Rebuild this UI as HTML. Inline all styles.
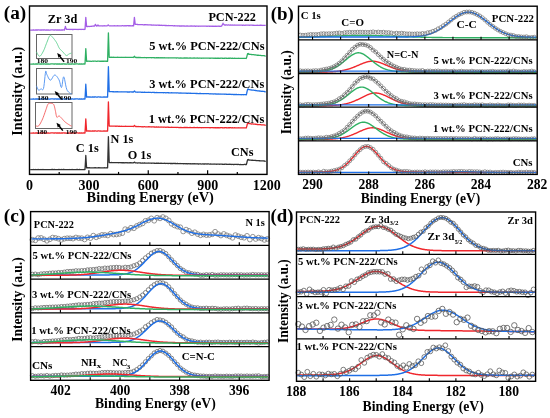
<!DOCTYPE html>
<html><head><meta charset="utf-8"><style>
html,body{margin:0;padding:0;background:#fff;}
svg{display:block;will-change:transform;}
text{font-family:"Liberation Serif", serif;font-weight:bold;}
</style></head><body>
<svg width="550" height="418" viewBox="0 0 550 418">
<rect width="550" height="418" fill="#fff"/>
<polyline points="30.2,30.03 30.7,30.06 31.2,30.07 31.7,30.11 32.2,30.06 32.7,30.1 33.2,29.89 33.7,29.99 34.2,30.11 34.7,30.04 35.2,30.1 35.7,29.91 36.2,29.99 36.7,29.94 37.2,30.01 37.7,30.02 38.2,29.88 38.7,29.93 39.2,29.95 39.7,30.1 40.2,30.06 40.7,29.92 41.2,30.07 41.7,29.91 42.2,30.03 42.7,29.91 43.2,29.88 43.7,30.09 44.2,29.93 44.7,29.93 45.2,30.12 45.7,30.09 46.2,29.95 46.7,30.11 47.2,30.01 47.7,30.04 48.2,29.93 48.7,30.11 49.2,30.05 49.7,30.11 50.2,30.09 50.7,29.95 51.2,29.97 51.7,29.92 52.2,29.91 52.7,29.9 53.2,29.95 53.7,30.02 54.2,29.88 54.7,30.04 55.2,29.96 55.7,29.95 56.2,30.08 56.7,30 57.2,29.96 57.7,30 58.2,30.05 58.7,29.89 59.2,30.11 59.7,29.89 60.2,30.06 60.7,30.08 61.2,29.88 61.7,30.07 62.2,29.97 62.7,30.02 63.2,29.88 63.7,29.89 64.2,29.92 64.4,30.11 64.7,28.91 65.2,27.24 65.4,26.5 65.7,27.38 66.2,28.68 66.4,29.37 66.7,29.41 67.2,29.47 67.7,29.31 68.2,29.46 68.7,29.47 69.2,29.49 69.7,29.29 70.2,29.51 70.7,29.3 71.2,29.36 71.7,29.43 72.2,29.5 72.7,29.36 73.2,29.5 73.7,29.41 74.2,29.35 74.7,29.36 75.2,29.32 75.7,29.3 76.2,29.32 76.7,29.45 77.2,29.52 77.7,29.32 78.2,29.29 78.7,29.52 79.2,29.41 79.7,29.38 80.2,29.34 80.7,29.42 81.2,29.48 81.7,29.39 82.2,29.38 82.7,29.29 83.2,29.5 83.7,29.29 84.2,29.4 84.7,29.48 85,29.31 85.2,26.66 85.7,19.01 85.8,17.3 86.2,22 86.6,26.51 86.7,26.58 87.2,26.47 87.7,26.6 88.2,26.44 88.7,26.44 89.2,26.53 89.7,26.46 90.2,26.46 90.7,26.3 91.2,26.27 91.7,26.29 92.2,26.19 92.7,26.11 93.2,26.11 93.7,26.01 94.2,26.03 94.4,26.16 94.7,25.65 95.2,24.75 95.4,24.39 95.7,24.83 96.2,25.56 96.4,25.92 96.7,26.04 97,26.06 97.2,25.73 97.7,25.33 98,25.02 98.2,25.2 98.7,25.68 99,26 99.2,25.9 99.7,25.98 100.2,25.87 100.7,25.91 101.2,25.97 101.7,25.94 102.2,25.84 102.7,25.99 103.2,25.91 103.7,25.89 104.2,25.74 104.7,25.86 105.2,25.78 105.7,25.88 106.2,25.82 106.7,25.9 107.2,25.85 107.7,25.43 108.2,24.86 108.7,25.38 109.2,25.86 109.7,25.88 110.2,25.76 110.7,25.88 111.2,25.89 111.7,25.85 112.2,25.91 112.7,25.91 113.2,25.8 113.7,25.81 114.2,25.72 114.7,25.88 115.2,25.9 115.7,25.79 116.2,25.85 116.7,25.85 117.2,25.86 117.7,25.72 118.2,25.87 118.7,25.82 119.2,25.84 119.7,25.78 120.2,25.83 120.7,25.87 121.2,25.83 121.7,25.85 122.2,25.69 122.7,25.72 123.2,25.79 123.7,25.84 124.2,25.73 124.7,25.84 125.2,25.83 125.7,25.69 126.2,25.79 126.7,25.73 127.2,25.69 127.7,25.71 128.2,25.76 128.7,25.72 129.2,25.73 129.7,25.69 130.2,25.79 130.7,25.77 131.2,25.83 131.7,25.82 132.2,25.74 132.7,25.9 133.2,25.68 133.6,25.78 133.7,24.77 134.2,19.53 134.4,17.31 134.7,20.1 135.2,24.37 135.7,24.31 136.2,24.46 136.7,24.36 137.2,24.48 137.7,24.45 138.2,24.53 138.7,24.63 139.2,24.62 139.7,24.54 140.2,24.65 140.7,24.63 141.2,24.58 141.7,24.55 142.2,24.67 142.7,24.68 143.2,24.8 143.7,24.82 144.2,24.75 144.7,24.7 145.2,24.85 145.7,24.66 146.2,24.7 146.7,24.83 147.2,24.86 147.7,24.76 148.2,24.9 148.7,24.98 149.2,24.87 149.7,24.9 150.2,24.87 150.7,24.9 151.2,25.08 151.7,24.96 152.2,25.12 152.7,25.12 153.2,25.07 153.7,25 154.2,25.19 154.7,25.1 155.2,25.09 155.7,25.09 156.2,25.27 156.7,25.17 157.2,25.13 157.7,25.2 158.2,25.13 158.7,25.27 159.2,25.24 159.7,25.23 160.2,25.36 160.7,25.39 161.2,25.21 161.7,25.35 162.2,25.31 162.7,25.49 163.2,25.47 163.7,25.36 164.2,25.38 164.7,25.37 165.2,25.59 165.7,25.44 166.2,25.53 166.7,25.52 167.2,25.58 167.7,25.59 168.2,25.64 168.7,25.5 169.2,25.68 169.7,25.58 170.2,25.66 170.7,25.63 171.2,25.64 171.7,25.71 172.2,25.71 172.7,25.71 173.2,25.82 173.7,25.8 174.2,25.68 174.7,25.75 175.2,25.82 175.7,25.95 176.2,25.96 176.7,25.89 177.2,25.78 177.7,25.98 178.2,25.92 178.7,25.97 179.2,26.02 179.7,26.02 180.2,26 180.7,26.1 181.2,25.98 181.7,25.99 182.2,26.1 182.7,25.95 183.2,25.97 183.7,26.11 184.2,25.93 184.7,26.12 185.2,26.08 185.7,26.03 186.2,25.99 186.7,26.12 187.2,26.15 187.7,25.97 188.2,26.05 188.7,26.08 189.2,26.07 189.7,26.03 190.2,25.99 190.7,26.1 191.2,26.16 191.7,25.98 192.2,26.02 192.7,26.17 193.2,26.17 193.7,26.14 194.2,25.99 194.7,26.16 195.2,26.23 195.7,26.23 196.2,26.17 196.7,26.01 197.2,26.21 197.7,26.06 198.2,26.17 198.7,26.25 199.2,26.19 199.7,26.06 200.2,26.1 200.7,26.25 201.2,26.07 201.7,26.19 202.2,26.14 202.7,26.08 203.2,26.2 203.7,26.06 204.2,26.08 204.7,26.15 205.2,26.08 205.7,26.08 206.2,26.21 206.7,26.25 207.2,26.29 207.7,26.11 208.2,26.19 208.7,26.17 209.2,26.24 209.7,26.21 210.2,26.33 210.7,26.19 211.2,26.12 211.7,26.28 212.2,26.15 212.7,26.27 213.2,26.24 213.7,26.35 214.2,26.26 214.7,26.28 215.2,26.2 215.7,26.27 216.2,26.21 216.7,26.33 217.2,26.28 217.7,26.19 218.2,26.22 218.7,26.25 219.2,26.34 219.7,26.21 220.2,26.35 220.7,26.34 221.2,26.11 221.7,26.04 221.8,25.86 222.2,24.96 222.7,23.94 223,23.17 223.2,23.6 223.7,24.21 224.2,24.96 224.7,25.08 225.2,24.9 225.7,25.07 226.2,24.91 226.7,24.94 227.2,25.14 227.7,25.08 228.2,24.97 228.7,24.95 229.2,25.16 229.7,25.09 230.2,25.14 230.7,24.98 231.2,25.1 231.7,25.04 232.2,25.01 232.7,25.04 233.2,25.11 233.7,25.06 234.2,25.07 234.7,25.01 235.2,25.19 235.7,25.15 236.2,25.19 236.7,25.1 237.2,25.21 237.7,25.13 238.2,25.16 238.7,25.16 239.2,25.2 239.7,25.12 240.2,25.06 240.7,25.05 241.2,25.09 241.7,25.06 242.2,25.27 242.7,25.17 243.2,25.25 243.7,25.07 244.2,25.19 244.7,25.29 245.2,25.23 245.7,25.19 246.2,25.2 246.7,25.12 247.2,25.14 247.7,25.14 248.2,25.2 248.7,25.21 249.2,25.33 249.7,25.16 250.2,25.19 250.7,25.2 251.2,25.18 251.7,25.21 252.2,25.21 252.7,25.27 253.2,25.17 253.7,25.38 254.2,25.26 254.7,25.4 255.2,25.34 255.7,25.34 256.2,25.3 256.7,25.42 257.2,25.22 257.7,25.36 258.2,25.28 258.7,25.37 259.2,25.39 259.7,25.26 260.2,25.27 260.7,25.24 261.2,25.29 261.7,25.26 262.2,25.34 262.7,25.48 263.2,25.34 263.7,25.33 264.2,25.38 264.7,25.34 265.2,25.45 265.7,25.45" fill="none" stroke="#a45ee6" stroke-width="1.3" stroke-linejoin="round" />
<polyline points="30.2,64.03 30.7,64.06 31.2,64.07 31.7,64.11 32.2,64.06 32.7,64.1 33.2,63.89 33.7,63.99 34.2,64.11 34.7,64.04 35.2,64.1 35.7,63.91 36.2,63.99 36.7,63.94 37.2,64.01 37.7,64.02 38.2,63.88 38.7,63.93 39.2,63.95 39.7,64.1 40.2,64.06 40.7,63.92 41.2,64.07 41.7,63.91 42.2,64.03 42.7,63.91 43.2,63.88 43.7,64.09 44.2,63.93 44.7,63.93 45.2,64.12 45.7,64.09 46.2,63.95 46.7,64.11 47.2,64.01 47.7,64.04 48.2,63.93 48.7,64.11 49.2,64.05 49.7,64.11 50.2,64.09 50.7,63.95 51.2,63.97 51.7,63.92 52.2,63.91 52.7,63.9 53.2,63.95 53.7,64.02 54.2,63.88 54.7,64.04 55.2,63.96 55.7,63.95 56.2,64.08 56.7,64 57.2,63.96 57.7,64 58.2,64.05 58.7,63.89 59.2,64.11 59.7,63.89 60.2,64.06 60.7,64.08 61.2,63.88 61.7,64.07 62.2,63.97 62.7,64.02 63.2,63.88 63.7,63.89 64.2,63.92 64.7,64.11 65.2,63.93 65.7,64.06 66.2,64.1 66.7,64.11 67.2,63.96 67.7,63.97 68.2,64.01 68.7,64.07 69.2,63.91 69.7,64.06 70.2,64.07 70.7,64.09 71.2,63.89 71.7,64.11 72.2,63.9 72.7,63.96 73.2,64.03 73.7,64.1 74.2,63.96 74.7,64.1 75.2,64.01 75.7,63.95 76.2,63.96 76.7,63.92 77.2,63.9 77.7,63.92 78.2,64.05 78.7,64.12 79.2,63.92 79.7,63.89 80.2,64.12 80.7,64.01 81.2,63.98 81.7,63.94 82.2,64.02 82.7,64.08 83.2,63.99 83.7,63.98 84.2,63.89 84.7,64.1 85,63.89 85.2,60.37 85.7,50.88 85.8,48.65 86.2,55.02 86.6,61.31 86.7,61.23 87.2,61.27 87.7,61.11 88.2,61.18 88.7,61.12 89.2,61.28 89.7,61.15 90.2,61.19 90.7,61.32 91.2,61.28 91.7,61.31 92.2,61.19 92.7,61.2 93.2,61.26 93.7,61.19 94.2,61.15 94.7,61.18 95.2,61.12 95.7,61.17 96.2,61.32 96.7,61.31 97.2,61.23 97.7,61.2 98.2,61.16 98.7,61.1 99.2,61.15 99.7,61.27 100.2,61.29 100.7,61.17 101.2,61.27 101.7,61.27 102.2,61.25 102.7,61.24 103.2,61.26 103.7,61.17 104.2,61.25 104.7,61.15 105.2,61.2 105.7,61.26 106.2,61.25 106.7,61.15 107.2,61.31 107.6,61.24 107.7,57.84 108.2,40.17 108.4,32.88 108.7,41.93 109.2,57.24 109.7,57.2 110.2,57.29 110.7,57.25 111.2,57.29 111.7,57.19 112.2,57.27 112.7,57.3 113.2,57.32 113.7,57.21 114.2,57.34 114.7,57.35 115.2,57.31 115.7,57.39 116.2,57.39 116.7,57.29 117.2,57.3 117.7,57.22 118.2,57.38 118.7,57.41 119.2,57.31 119.7,57.36 120.2,57.38 120.7,57.39 121.2,57.26 121.7,57.41 122.2,57.37 122.7,57.39 123.2,57.34 123.7,57.39 124.2,57.44 124.7,57.41 125.2,57.43 125.7,57.27 126.2,57.31 126.7,57.38 127.2,57.44 127.7,57.34 128.2,57.46 128.7,57.45 129.2,57.32 129.7,57.42 130.2,57.37 130.7,57.34 131.2,57.36 131.7,57.41 132.2,57.38 132.7,57.39 133.2,57.36 133.4,57.47 133.7,57.09 134.2,56.55 134.4,56.31 134.7,56.59 135.2,57.35 135.4,57.38 135.7,57.48 136.2,57.45 136.7,57.49 137.2,57.42 137.7,57.6 138.2,57.5 138.7,57.42 139.2,57.57 139.7,57.45 140.2,57.56 140.7,57.52 141.2,57.58 141.7,57.68 142.2,57.65 142.7,57.56 143.2,57.66 143.7,57.62 144.2,57.56 144.7,57.52 145.2,57.63 145.7,57.63 146.2,57.73 146.7,57.74 147.2,57.66 147.7,57.6 148.2,57.74 148.7,57.53 149.2,57.56 149.7,57.67 150.2,57.69 150.7,57.58 151.2,57.71 151.7,57.77 152.2,57.66 152.7,57.68 153.2,57.63 153.7,57.65 154.2,57.82 154.7,57.69 155.2,57.83 155.7,57.82 156.2,57.75 156.7,57.68 157.2,57.86 157.7,57.75 158.2,57.73 158.7,57.72 159.2,57.88 159.7,57.77 160.2,57.73 160.7,57.78 161.2,57.7 161.7,57.82 162.2,57.79 162.7,57.75 163.2,57.88 163.7,57.89 164.2,57.7 164.7,57.83 165.2,57.78 165.7,57.94 166.2,57.91 166.7,57.79 167.2,57.8 167.7,57.78 168.2,57.98 168.7,57.82 169.2,57.9 169.7,57.88 170.2,57.92 170.7,57.92 171.2,57.96 171.7,57.81 172.2,57.97 172.7,57.87 173.2,57.93 173.7,57.89 174.2,57.89 174.7,57.95 175.2,57.94 175.7,57.92 176.2,58.02 176.7,57.98 177.2,57.86 177.7,57.91 178.2,57.97 178.7,58.09 179.2,58.08 179.7,58.01 180.2,57.88 180.7,58.07 181.2,57.99 181.7,58.03 182.2,58.06 182.7,58.05 183.2,58.01 183.7,58.12 184.2,58 184.7,58 185.2,58.12 185.7,57.96 186.2,57.99 186.7,58.12 187.2,57.94 187.7,58.13 188.2,58.1 188.7,58.04 189.2,58 189.7,58.13 190.2,58.16 190.7,57.98 191.2,58.06 191.7,58.08 192.2,58.07 192.7,58.04 193.2,58 193.7,58.1 194.2,58.16 194.7,57.99 195.2,58.03 195.7,58.17 196.2,58.17 196.7,58.14 197.2,57.99 197.7,58.16 198.2,58.22 198.7,58.23 199.2,58.16 199.7,58.01 200.2,58.2 200.7,58.06 201.2,58.16 201.7,58.24 202.2,58.18 202.7,58.05 203.2,58.09 203.7,58.24 204.2,58.06 204.7,58.18 205.2,58.13 205.7,58.07 206.2,58.19 206.7,58.05 207.2,58.07 207.7,58.14 208.2,58.07 208.7,58.07 209.2,58.19 209.7,58.24 210.2,58.27 210.7,58.1 211.2,58.17 211.7,58.15 212.2,58.22 212.7,58.19 213.2,58.31 213.7,58.17 214.2,58.1 214.7,58.26 215.2,58.13 215.7,58.25 216.2,58.22 216.7,58.32 217.2,58.24 217.7,58.26 218.2,58.17 218.7,58.25 219.2,58.18 219.7,58.3 220.2,58.25 220.7,58.16 221.2,58.18 221.7,58.22 222.2,58.31 222.7,58.18 223.2,58.31 223.7,58.3 224.2,58.17 224.7,58.31 225.2,58.17 225.7,58.19 226.2,58.3 226.7,58.22 227.2,58.38 227.7,58.28 228.2,58.25 228.7,58.36 229.2,58.18 229.7,58.35 230.2,58.2 230.7,58.22 231.2,58.42 231.7,58.36 232.2,58.25 232.7,58.23 233.2,58.43 233.7,58.36 234.2,58.4 234.7,58.24 235.2,58.36 235.7,58.3 236.2,58.28 236.7,58.3 237.2,58.37 237.7,58.31 238.2,58.32 238.7,58.27 239.2,58.44 239.7,58.4 240.2,58.44 240.7,58.35 241.2,58.45 241.7,58.38 242.2,58.4 242.7,58.4 243.2,58.44 243.7,58.36 244.2,58.29 244.7,58.28 245.2,58.32 245.7,58.29 246.2,58.49 246.4,58.15 246.7,57.1 247.2,55.06 247.6,53.68 247.7,53.66 248.2,53.5 248.7,54.13 248.8,54.27 249.2,54.22 249.7,54.29 250.2,54.34 250.7,54.44 251.2,54.49 251.7,54.66 252.2,54.54 252.7,54.61 253.2,54.67 253.7,54.69 254.2,54.77 254.7,54.81 255.2,54.92 255.7,54.86 256.2,55.12 256.7,55.04 257.2,55.23 257.7,55.22 258.2,55.26 258.7,55.26 259.2,55.43 259.7,55.28 260.2,55.46 260.7,55.42 261.2,55.56 261.7,55.63 262.2,55.54 262.7,55.6 263.2,55.61 263.7,55.71 264.2,55.72 264.7,55.85 265.2,56.03 265.7,55.94" fill="none" stroke="#2fb063" stroke-width="1.3" stroke-linejoin="round" />
<polyline points="30.2,99.03 30.7,99.06 31.2,99.07 31.7,99.11 32.2,99.06 32.7,99.1 33.2,98.89 33.7,98.99 34.2,99.11 34.7,99.04 35.2,99.1 35.7,98.91 36.2,98.99 36.7,98.94 37.2,99.01 37.7,99.02 38.2,98.88 38.7,98.93 39.2,98.95 39.7,99.1 40.2,99.06 40.7,98.92 41.2,99.07 41.7,98.91 42.2,99.03 42.7,98.91 43.2,98.88 43.7,99.09 44.2,98.93 44.7,98.93 45.2,99.12 45.7,99.09 46.2,98.95 46.7,99.11 47.2,99.01 47.7,99.04 48.2,98.93 48.7,99.11 49.2,99.05 49.7,99.11 50.2,99.09 50.7,98.95 51.2,98.97 51.7,98.92 52.2,98.91 52.7,98.9 53.2,98.95 53.7,99.02 54.2,98.88 54.7,99.04 55.2,98.96 55.7,98.95 56.2,99.08 56.7,99 57.2,98.96 57.7,99 58.2,99.05 58.7,98.89 59.2,99.11 59.7,98.89 60.2,99.06 60.7,99.08 61.2,98.88 61.7,99.07 62.2,98.97 62.7,99.02 63.2,98.88 63.7,98.89 64.2,98.92 64.7,99.11 65.2,98.93 65.7,99.06 66.2,99.1 66.7,99.11 67.2,98.96 67.7,98.97 68.2,99.01 68.7,99.07 69.2,98.91 69.7,99.06 70.2,99.07 70.7,99.09 71.2,98.89 71.7,99.11 72.2,98.9 72.7,98.96 73.2,99.03 73.7,99.1 74.2,98.96 74.7,99.1 75.2,99.01 75.7,98.95 76.2,98.96 76.7,98.92 77.2,98.9 77.7,98.92 78.2,99.05 78.7,99.12 79.2,98.92 79.7,98.89 80.2,99.12 80.7,99.01 81.2,98.98 81.7,98.94 82.2,99.02 82.7,99.08 83.2,98.99 83.7,98.98 84.2,98.89 84.7,99.1 85,98.89 85.2,95.45 85.7,86.29 85.8,84.17 86.2,90.68 86.6,97.11 86.7,97.03 87.2,97.07 87.7,96.91 88.2,96.98 88.7,96.92 89.2,97.08 89.7,96.95 90.2,96.99 90.7,97.12 91.2,97.08 91.7,97.11 92.2,96.99 92.7,97 93.2,97.06 93.7,96.99 94.2,96.95 94.7,96.98 95.2,96.92 95.7,96.97 96.2,97.12 96.7,97.11 97.2,97.03 97.7,97 98.2,96.96 98.7,96.9 99.2,96.95 99.7,97.07 100.2,97.09 100.7,96.97 101.2,97.07 101.7,97.07 102.2,97.05 102.7,97.04 103.2,97.06 103.7,96.97 104.2,97.05 104.7,96.95 105.2,97 105.7,97.06 106.2,97.05 106.7,96.95 107.2,97.11 107.6,97.04 107.7,93.46 108.2,74.61 108.4,66.71 108.7,75.98 109.2,91.64 109.7,91.6 110.2,91.7 110.7,91.67 111.2,91.71 111.7,91.61 112.2,91.69 112.7,91.73 113.2,91.76 113.7,91.65 114.2,91.78 114.7,91.8 115.2,91.76 115.7,91.84 116.2,91.85 116.7,91.75 117.2,91.77 117.7,91.69 118.2,91.86 118.7,91.89 119.2,91.79 119.7,91.85 120.2,91.87 120.7,91.88 121.2,91.76 121.7,91.91 122.2,91.88 122.7,91.91 123.2,91.86 123.7,91.92 124.2,91.96 124.7,91.94 125.2,91.97 125.7,91.81 126.2,91.85 126.7,91.93 127.2,91.99 127.7,91.9 128.2,92.02 128.7,92.02 129.2,91.89 129.7,92 130.2,91.95 130.7,91.92 131.2,91.95 131.7,92 132.2,91.98 132.7,91.99 133.2,91.96 133.4,92.07 133.7,91.7 134.2,91.16 134.4,90.92 134.7,91.2 135.2,91.97 135.4,92 135.7,92.1 136.2,92.08 136.7,92.12 137.2,92.06 137.7,92.24 138.2,92.14 138.7,92.07 139.2,92.22 139.7,92.11 140.2,92.22 140.7,92.18 141.2,92.25 141.7,92.35 142.2,92.33 142.7,92.24 143.2,92.35 143.7,92.32 144.2,92.26 144.7,92.22 145.2,92.33 145.7,92.34 146.2,92.44 146.7,92.45 147.2,92.38 147.7,92.33 148.2,92.47 148.7,92.26 149.2,92.3 149.7,92.42 150.2,92.44 150.7,92.33 151.2,92.46 151.7,92.53 152.2,92.42 152.7,92.44 153.2,92.4 153.7,92.43 154.2,92.6 154.7,92.47 155.2,92.62 155.7,92.62 156.2,92.55 156.7,92.48 157.2,92.66 157.7,92.56 158.2,92.55 158.7,92.54 159.2,92.7 159.7,92.6 160.2,92.56 160.7,92.61 161.2,92.54 161.7,92.67 162.2,92.63 162.7,92.61 163.2,92.74 163.7,92.76 164.2,92.57 164.7,92.71 165.2,92.65 165.7,92.82 166.2,92.79 166.7,92.68 167.2,92.69 167.7,92.67 168.2,92.88 168.7,92.73 169.2,92.81 169.7,92.79 170.2,92.84 170.7,92.84 171.2,92.88 171.7,92.74 172.2,92.91 172.7,92.81 173.2,92.87 173.7,92.84 174.2,92.84 174.7,92.9 175.2,92.9 175.7,92.88 176.2,92.98 176.7,92.96 177.2,92.83 177.7,92.9 178.2,92.95 178.7,93.07 179.2,93.08 179.7,93.01 180.2,92.89 180.7,93.09 181.2,93.02 181.7,93.06 182.2,93.11 182.7,93.11 183.2,93.08 183.7,93.2 184.2,93.09 184.7,93.1 185.2,93.23 185.7,93.08 186.2,93.12 186.7,93.26 187.2,93.09 187.7,93.29 188.2,93.27 188.7,93.22 189.2,93.2 189.7,93.33 190.2,93.38 190.7,93.2 191.2,93.3 191.7,93.33 192.2,93.33 192.7,93.3 193.2,93.28 193.7,93.39 194.2,93.46 194.7,93.3 195.2,93.35 195.7,93.5 196.2,93.51 196.7,93.49 197.2,93.35 197.7,93.53 198.2,93.61 198.7,93.63 199.2,93.57 199.7,93.43 200.2,93.63 200.7,93.49 201.2,93.61 201.7,93.7 202.2,93.65 202.7,93.53 203.2,93.58 203.7,93.74 204.2,93.57 204.7,93.7 205.2,93.66 205.7,93.62 206.2,93.74 206.7,93.62 207.2,93.64 207.7,93.72 208.2,93.66 208.7,93.67 209.2,93.81 209.7,93.86 210.2,93.91 210.7,93.75 211.2,93.83 211.7,93.82 212.2,93.9 212.7,93.89 213.2,94.01 213.7,93.88 214.2,93.82 214.7,93.99 215.2,93.87 215.7,94 216.2,93.98 216.7,94.09 217.2,94.02 217.7,94.05 218.2,93.98 218.7,94.06 219.2,94.01 219.7,94.14 220.2,94.1 220.7,94.02 221.2,94.05 221.7,94.1 222.2,94.2 222.7,94.08 223.2,94.22 223.7,94.22 224.2,94.1 224.7,94.25 225.2,94.13 225.7,94.15 226.2,94.28 226.7,94.21 227.2,94.37 227.7,94.29 228.2,94.27 228.7,94.39 229.2,94.22 229.7,94.4 230.2,94.26 230.7,94.29 231.2,94.5 231.7,94.45 232.2,94.35 232.7,94.34 233.2,94.56 233.7,94.5 234.2,94.55 234.7,94.4 235.2,94.53 235.7,94.48 236.2,94.46 236.7,94.5 237.2,94.58 237.7,94.53 238.2,94.55 238.7,94.51 239.2,94.69 239.7,94.66 240.2,94.71 240.7,94.63 241.2,94.75 241.7,94.68 242.2,94.71 242.7,94.72 243.2,94.77 243.7,94.7 244.2,94.65 244.7,94.64 245.2,94.7 245.7,94.67 246.2,94.89 246.4,94.49 246.7,93.26 247.2,90.93 247.6,89.32 247.7,89.24 248.2,88.9 248.7,89.54 248.8,89.69 249.2,89.65 249.7,89.72 250.2,89.79 250.7,89.9 251.2,89.96 251.7,90.14 252.2,90.03 252.7,90.12 253.2,90.18 253.7,90.22 254.2,90.31 254.7,90.36 255.2,90.48 255.7,90.43 256.2,90.7 256.7,90.63 257.2,90.83 257.7,90.83 258.2,90.89 258.7,90.9 259.2,91.08 259.7,90.94 260.2,91.13 260.7,91.1 261.2,91.26 261.7,91.33 262.2,91.25 262.7,91.32 263.2,91.34 263.7,91.45 264.2,91.48 264.7,91.62 265.2,91.82 265.7,91.73" fill="none" stroke="#1f6fe6" stroke-width="1.3" stroke-linejoin="round" />
<polyline points="30.2,133.03 30.7,133.06 31.2,133.07 31.7,133.11 32.2,133.06 32.7,133.1 33.2,132.89 33.7,132.99 34.2,133.11 34.7,133.04 35.2,133.1 35.7,132.91 36.2,132.99 36.7,132.94 37.2,133.01 37.7,133.02 38.2,132.88 38.7,132.93 39.2,132.95 39.7,133.1 40.2,133.06 40.7,132.92 41.2,133.07 41.7,132.91 42.2,133.03 42.7,132.91 43.2,132.88 43.7,133.09 44.2,132.93 44.7,132.93 45.2,133.12 45.7,133.09 46.2,132.95 46.7,133.11 47.2,133.01 47.7,133.04 48.2,132.93 48.7,133.11 49.2,133.05 49.7,133.11 50.2,133.09 50.7,132.95 51.2,132.97 51.7,132.92 52.2,132.91 52.7,132.9 53.2,132.95 53.7,133.02 54.2,132.88 54.7,133.04 55.2,132.96 55.7,132.95 56.2,133.08 56.7,133 57.2,132.96 57.7,133 58.2,133.05 58.7,132.89 59.2,133.11 59.7,132.89 60.2,133.06 60.7,133.08 61.2,132.88 61.7,133.07 62.2,132.97 62.7,133.02 63.2,132.88 63.7,132.89 64.2,132.92 64.7,133.11 65.2,132.93 65.7,133.06 66.2,133.1 66.7,133.11 67.2,132.96 67.7,132.97 68.2,133.01 68.7,133.07 69.2,132.91 69.7,133.06 70.2,133.07 70.7,133.09 71.2,132.89 71.7,133.11 72.2,132.9 72.7,132.96 73.2,133.03 73.7,133.1 74.2,132.96 74.7,133.1 75.2,133.01 75.7,132.95 76.2,132.96 76.7,132.92 77.2,132.9 77.7,132.92 78.2,133.05 78.7,133.12 79.2,132.92 79.7,132.89 80.2,133.12 80.7,133.01 81.2,132.98 81.7,132.94 82.2,133.02 82.7,133.08 83.2,132.99 83.7,132.98 84.2,132.89 84.7,133.1 85,132.89 85.2,129.62 85.7,120.91 85.8,118.87 86.2,125.03 86.6,131.11 86.7,131.03 87.2,131.07 87.7,130.91 88.2,130.98 88.7,130.92 89.2,131.08 89.7,130.95 90.2,130.99 90.7,131.12 91.2,131.08 91.7,131.11 92.2,130.99 92.7,131 93.2,131.06 93.7,130.99 94.2,130.95 94.7,130.98 95.2,130.92 95.7,130.97 96.2,131.12 96.7,131.11 97.2,131.03 97.7,131 98.2,130.96 98.7,130.9 99.2,130.95 99.7,131.07 100.2,131.09 100.7,130.97 101.2,131.07 101.7,131.07 102.2,131.05 102.7,131.04 103.2,131.06 103.7,130.97 104.2,131.05 104.7,130.95 105.2,131 105.7,131.06 106.2,131.05 106.7,130.95 107.2,131.11 107.6,131.04 107.7,127.58 108.2,109.42 108.4,101.84 108.7,110.84 109.2,126.04 109.7,126 110.2,126.1 110.7,126.07 111.2,126.11 111.7,126.02 112.2,126.1 112.7,126.13 113.2,126.16 113.7,126.06 114.2,126.19 114.7,126.21 115.2,126.17 115.7,126.25 116.2,126.26 116.7,126.16 117.2,126.18 117.7,126.1 118.2,126.27 118.7,126.31 119.2,126.21 119.7,126.27 120.2,126.29 120.7,126.3 121.2,126.18 121.7,126.33 122.2,126.29 122.7,126.33 123.2,126.28 123.7,126.34 124.2,126.38 124.7,126.36 125.2,126.39 125.7,126.24 126.2,126.28 126.7,126.36 127.2,126.42 127.7,126.32 128.2,126.45 128.7,126.44 129.2,126.31 129.7,126.43 130.2,126.38 130.7,126.35 131.2,126.38 131.7,126.43 132.2,126.41 132.7,126.42 133.2,126.4 133.4,126.5 133.7,126.13 134.2,125.6 134.4,125.36 134.7,125.64 135.2,126.41 135.4,126.44 135.7,126.54 136.2,126.52 136.7,126.56 137.2,126.5 137.7,126.68 138.2,126.58 138.7,126.51 139.2,126.66 139.7,126.55 140.2,126.67 140.7,126.63 141.2,126.7 141.7,126.8 142.2,126.78 142.7,126.69 143.2,126.8 143.7,126.77 144.2,126.71 144.7,126.67 145.2,126.79 145.7,126.79 146.2,126.89 146.7,126.91 147.2,126.83 147.7,126.78 148.2,126.92 148.7,126.72 149.2,126.75 149.7,126.87 150.2,126.9 150.7,126.79 151.2,126.92 151.7,126.99 152.2,126.88 152.7,126.91 153.2,126.87 153.7,126.89 154.2,127.07 154.7,126.94 155.2,127.09 155.7,127.08 156.2,127.02 156.7,126.95 157.2,127.13 157.7,127.03 158.2,127.02 158.7,127.01 159.2,127.18 159.7,127.07 160.2,127.03 160.7,127.09 161.2,127.01 161.7,127.14 162.2,127.11 162.7,127.08 163.2,127.21 163.7,127.23 164.2,127.05 164.7,127.18 165.2,127.13 165.7,127.3 166.2,127.28 166.7,127.16 167.2,127.17 167.7,127.16 168.2,127.37 168.7,127.21 169.2,127.3 169.7,127.28 170.2,127.33 170.7,127.33 171.2,127.37 171.7,127.23 172.2,127.4 172.7,127.3 173.2,127.36 173.7,127.33 174.2,127.33 174.7,127.39 175.2,127.39 175.7,127.38 176.2,127.48 176.7,127.45 177.2,127.33 177.7,127.39 178.2,127.45 178.7,127.57 179.2,127.58 179.7,127.5 180.2,127.38 180.7,127.57 181.2,127.49 181.7,127.53 182.2,127.56 182.7,127.55 183.2,127.51 183.7,127.62 184.2,127.5 184.7,127.5 185.2,127.62 185.7,127.46 186.2,127.49 186.7,127.62 187.2,127.44 187.7,127.63 188.2,127.6 188.7,127.54 189.2,127.5 189.7,127.63 190.2,127.66 190.7,127.48 191.2,127.56 191.7,127.58 192.2,127.57 192.7,127.54 193.2,127.5 193.7,127.6 194.2,127.66 194.7,127.49 195.2,127.53 195.7,127.67 196.2,127.67 196.7,127.64 197.2,127.49 197.7,127.66 198.2,127.72 198.7,127.73 199.2,127.66 199.7,127.51 200.2,127.7 200.7,127.56 201.2,127.66 201.7,127.74 202.2,127.68 202.7,127.55 203.2,127.59 203.7,127.74 204.2,127.56 204.7,127.68 205.2,127.63 205.7,127.57 206.2,127.69 206.7,127.55 207.2,127.57 207.7,127.64 208.2,127.57 208.7,127.57 209.2,127.69 209.7,127.74 210.2,127.77 210.7,127.6 211.2,127.67 211.7,127.65 212.2,127.72 212.7,127.69 213.2,127.81 213.7,127.67 214.2,127.6 214.7,127.76 215.2,127.63 215.7,127.75 216.2,127.72 216.7,127.82 217.2,127.74 217.7,127.76 218.2,127.67 218.7,127.75 219.2,127.68 219.7,127.8 220.2,127.75 220.7,127.66 221.2,127.68 221.7,127.72 222.2,127.81 222.7,127.68 223.2,127.81 223.7,127.8 224.2,127.67 224.7,127.81 225.2,127.67 225.7,127.69 226.2,127.8 226.7,127.72 227.2,127.88 227.7,127.78 228.2,127.75 228.7,127.86 229.2,127.68 229.7,127.85 230.2,127.7 230.7,127.72 231.2,127.92 231.7,127.86 232.2,127.75 232.7,127.73 233.2,127.93 233.7,127.86 234.2,127.9 234.7,127.74 235.2,127.86 235.7,127.8 236.2,127.78 236.7,127.8 237.2,127.87 237.7,127.81 238.2,127.82 238.7,127.77 239.2,127.94 239.7,127.9 240.2,127.94 240.7,127.85 241.2,127.95 241.7,127.88 242.2,127.9 242.7,127.9 243.2,127.94 243.7,127.86 244.2,127.79 244.7,127.78 245.2,127.82 245.7,127.79 246.2,127.99 246.4,127.64 246.7,126.58 247.2,124.5 247.6,123.1 247.7,123.08 248.2,122.9 248.7,123.52 248.8,123.66 249.2,123.61 249.7,123.67 250.2,123.71 250.7,123.81 251.2,123.86 251.7,124.02 252.2,123.89 252.7,123.96 253.2,124.01 253.7,124.03 254.2,124.1 254.7,124.13 255.2,124.24 255.7,124.17 256.2,124.43 256.7,124.34 257.2,124.52 257.7,124.51 258.2,124.55 258.7,124.54 259.2,124.7 259.7,124.55 260.2,124.72 260.7,124.68 261.2,124.82 261.7,124.87 262.2,124.78 262.7,124.83 263.2,124.84 263.7,124.93 264.2,124.94 264.7,125.06 265.2,125.24 265.7,125.14" fill="none" stroke="#f0272d" stroke-width="1.3" stroke-linejoin="round" />
<polyline points="30.2,169.63 30.7,169.66 31.2,169.67 31.7,169.71 32.2,169.66 32.7,169.7 33.2,169.49 33.7,169.59 34.2,169.71 34.7,169.64 35.2,169.7 35.7,169.51 36.2,169.59 36.7,169.54 37.2,169.61 37.7,169.62 38.2,169.48 38.7,169.53 39.2,169.55 39.7,169.7 40.2,169.66 40.7,169.52 41.2,169.67 41.7,169.51 42.2,169.63 42.7,169.51 43.2,169.48 43.7,169.69 44.2,169.53 44.7,169.53 45.2,169.72 45.7,169.69 46.2,169.55 46.7,169.71 47.2,169.61 47.7,169.64 48.2,169.53 48.7,169.71 49.2,169.65 49.7,169.71 50.2,169.69 50.7,169.55 51.2,169.57 51.7,169.52 52.2,169.51 52.7,169.5 53.2,169.55 53.7,169.62 54.2,169.48 54.7,169.64 55.2,169.56 55.7,169.55 56.2,169.68 56.7,169.6 57.2,169.56 57.7,169.6 58.2,169.65 58.7,169.49 59.2,169.71 59.7,169.49 60.2,169.66 60.7,169.68 61.2,169.48 61.7,169.67 62.2,169.57 62.7,169.62 63.2,169.48 63.7,169.49 64.2,169.52 64.7,169.71 65.2,169.53 65.7,169.66 66.2,169.7 66.7,169.71 67.2,169.56 67.7,169.57 68.2,169.61 68.7,169.67 69.2,169.51 69.7,169.66 70.2,169.67 70.7,169.69 71.2,169.49 71.7,169.71 72.2,169.5 72.7,169.56 73.2,169.63 73.7,169.7 74.2,169.56 74.7,169.7 75.2,169.61 75.7,169.55 76.2,169.56 76.7,169.52 77.2,169.5 77.7,169.52 78.2,169.65 78.7,169.72 79.2,169.52 79.7,169.49 80.2,169.72 80.7,169.61 81.2,169.58 81.7,169.54 82.2,169.62 82.7,169.68 83.2,169.59 83.7,169.58 84.2,169.49 84.7,169.7 85,169.49 85.2,166.22 85.7,157.54 85.8,155.52 86.2,161.76 86.6,167.91 86.7,167.83 87.2,167.87 87.7,167.71 88.2,167.78 88.7,167.72 89.2,167.88 89.7,167.75 90.2,167.79 90.7,167.92 91.2,167.88 91.7,167.91 92.2,167.79 92.7,167.8 93.2,167.86 93.7,167.79 94.2,167.75 94.7,167.78 95.2,167.72 95.7,167.77 96.2,167.92 96.7,167.91 97.2,167.83 97.7,167.8 98.2,167.76 98.7,167.7 99.2,167.75 99.7,167.87 100.2,167.89 100.7,167.77 101.2,167.87 101.7,167.87 102.2,167.85 102.7,167.84 103.2,167.86 103.7,167.77 104.2,167.85 104.7,167.75 105.2,167.8 105.7,167.86 106.2,167.85 106.7,167.75 107.2,167.91 107.6,167.84 107.7,164.13 108.2,144.67 108.4,136.54 108.7,146.21 109.2,162.54 109.7,162.5 110.2,162.59 110.7,162.56 111.2,162.6 111.7,162.5 112.2,162.58 112.7,162.61 113.2,162.64 113.7,162.53 114.2,162.66 114.7,162.67 115.2,162.64 115.7,162.72 116.2,162.72 116.7,162.62 117.2,162.63 117.7,162.55 118.2,162.72 118.7,162.75 119.2,162.65 119.7,162.71 120.2,162.72 120.7,162.73 121.2,162.61 121.7,162.76 122.2,162.72 122.7,162.75 123.2,162.7 123.7,162.75 124.2,162.8 124.7,162.77 125.2,162.8 125.7,162.64 126.2,162.68 126.7,162.76 127.2,162.82 127.7,162.72 128.2,162.84 128.7,162.83 129.2,162.7 129.7,162.81 130.2,162.76 130.7,162.73 131.2,162.75 131.7,162.81 132.2,162.78 132.7,162.79 133.2,162.76 133.4,162.87 133.7,162.61 134.2,162.28 134.4,162.11 134.7,162.27 135.2,162.84 135.4,162.79 135.7,162.89 136.2,162.87 136.7,162.91 137.2,162.84 137.7,163.02 138.2,162.92 138.7,162.85 139.2,162.99 139.7,162.88 140.2,162.99 140.7,162.95 141.2,163.02 141.7,163.11 142.2,163.09 142.7,163 143.2,163.1 143.7,163.07 144.2,163.01 144.7,162.97 145.2,163.08 145.7,163.08 146.2,163.18 146.7,163.19 147.2,163.12 147.7,163.06 148.2,163.2 148.7,162.99 149.2,163.03 149.7,163.15 150.2,163.16 150.7,163.06 151.2,163.18 151.7,163.25 152.2,163.14 152.7,163.16 153.2,163.12 153.7,163.14 154.2,163.31 154.7,163.18 155.2,163.33 155.7,163.32 156.2,163.25 156.7,163.18 157.2,163.36 157.7,163.25 158.2,163.24 158.7,163.23 159.2,163.39 159.7,163.28 160.2,163.24 160.7,163.29 161.2,163.22 161.7,163.34 162.2,163.31 162.7,163.28 163.2,163.41 163.7,163.43 164.2,163.24 164.7,163.37 165.2,163.32 165.7,163.48 166.2,163.45 166.7,163.33 167.2,163.35 167.7,163.33 168.2,163.53 168.7,163.37 169.2,163.46 169.7,163.43 170.2,163.48 170.7,163.48 171.2,163.52 171.7,163.38 172.2,163.54 172.7,163.44 173.2,163.5 173.7,163.46 174.2,163.46 174.7,163.52 175.2,163.52 175.7,163.5 176.2,163.6 176.7,163.57 177.2,163.45 177.7,163.5 178.2,163.56 178.7,163.68 179.2,163.68 179.7,163.61 180.2,163.49 180.7,163.68 181.2,163.6 181.7,163.64 182.2,163.68 182.7,163.67 183.2,163.64 183.7,163.75 184.2,163.64 184.7,163.64 185.2,163.76 185.7,163.61 186.2,163.64 186.7,163.78 187.2,163.6 187.7,163.8 188.2,163.77 188.7,163.72 189.2,163.69 189.7,163.81 190.2,163.85 190.7,163.68 191.2,163.76 191.7,163.79 192.2,163.78 192.7,163.75 193.2,163.72 193.7,163.83 194.2,163.89 194.7,163.72 195.2,163.76 195.7,163.91 196.2,163.91 196.7,163.89 197.2,163.75 197.7,163.92 198.2,163.99 198.7,164 199.2,163.94 199.7,163.79 200.2,163.99 200.7,163.84 201.2,163.95 201.7,164.04 202.2,163.99 202.7,163.85 203.2,163.9 203.7,164.06 204.2,163.88 204.7,164 205.2,163.96 205.7,163.91 206.2,164.02 206.7,163.89 207.2,163.92 207.7,163.99 208.2,163.92 208.7,163.93 209.2,164.06 209.7,164.11 210.2,164.15 210.7,163.98 211.2,164.05 211.7,164.03 212.2,164.11 212.7,164.09 213.2,164.21 213.7,164.08 214.2,164.01 214.7,164.17 215.2,164.05 215.7,164.17 216.2,164.15 216.7,164.25 217.2,164.17 217.7,164.2 218.2,164.12 218.7,164.2 219.2,164.13 219.7,164.26 220.2,164.21 220.7,164.13 221.2,164.16 221.7,164.2 222.2,164.29 222.7,164.17 223.2,164.3 223.7,164.3 224.2,164.17 224.7,164.31 225.2,164.18 225.7,164.2 226.2,164.32 226.7,164.24 227.2,164.4 227.7,164.31 228.2,164.28 228.7,164.41 229.2,164.23 229.7,164.4 230.2,164.25 230.7,164.28 231.2,164.48 231.7,164.42 232.2,164.32 232.7,164.3 233.2,164.52 233.7,164.45 234.2,164.49 234.7,164.34 235.2,164.46 235.7,164.41 236.2,164.38 236.7,164.42 237.2,164.49 237.7,164.43 238.2,164.45 238.7,164.4 239.2,164.57 239.7,164.54 240.2,164.58 240.7,164.5 241.2,164.61 241.7,164.53 242.2,164.56 242.7,164.56 243.2,164.61 243.7,164.54 244.2,164.47 244.7,164.46 245.2,164.51 245.7,164.48 246.2,164.69 246.4,164.32 246.7,163.28 247.2,161.24 247.6,159.88 247.7,159.81 248.2,159.44 248.7,159.93 248.8,160.05 249.2,159.98 249.7,160.03 250.2,160.06 250.7,160.15 251.2,160.19 251.7,160.34 252.2,160.2 252.7,160.25 253.2,160.29 253.7,160.3 254.2,160.36 254.7,160.38 255.2,160.48 255.7,160.4 256.2,160.65 256.7,160.55 257.2,160.72 257.7,160.69 258.2,160.72 258.7,160.71 259.2,160.85 259.7,160.69 260.2,160.85 260.7,160.8 261.2,160.92 261.7,160.97 262.2,160.87 262.7,160.91 263.2,160.9 263.7,160.98 264.2,160.98 264.7,161.09 265.2,161.26 265.7,161.15" fill="none" stroke="#333333" stroke-width="1.3" stroke-linejoin="round" />
<rect x="36.5" y="34.5" width="35.5" height="24" stroke="#666" stroke-width="1.0" fill="#fff"/>
<rect x="36.5" y="68.5" width="35.5" height="25.5" stroke="#666" stroke-width="1.0" fill="#fff"/>
<rect x="35.5" y="102.5" width="36.5" height="26" stroke="#666" stroke-width="1.0" fill="#fff"/>
<polyline points="36.4,51.8 36.74,52.4 37.2,53.33 37.76,54.39 38.36,55.37 38.99,56.07 39.6,56.3 40.22,56.01 40.87,55.35 41.54,54.42 42.21,53.3 42.87,52.1 43.5,50.9 44.1,49.63 44.69,48.2 45.26,46.68 45.81,45.14 46.36,43.66 46.9,42.3 47.43,40.98 47.94,39.62 48.45,38.31 48.94,37.15 49.43,36.21 49.9,35.6 50.34,35.35 50.75,35.39 51.14,35.66 51.55,36.1 52,36.63 52.5,37.2 53.09,37.84 53.74,38.6 54.42,39.47 55.12,40.4 55.79,41.35 56.4,42.3 56.95,43.29 57.47,44.37 57.96,45.48 58.43,46.56 58.91,47.55 59.4,48.4 59.89,49.07 60.37,49.59 60.84,50.02 61.33,50.43 61.85,50.87 62.4,51.4 63.01,52.08 63.68,52.89 64.38,53.73 65.06,54.51 65.71,55.13 66.3,55.5 66.81,55.57 67.26,55.39 67.68,55.06 68.08,54.66 68.48,54.28 68.9,54 69.36,53.8 69.86,53.62 70.36,53.46 70.83,53.31 71.22,53.19 71.5,53.1" fill="none" stroke="#5ccf8e" stroke-width="0.9" stroke-linejoin="round" />
<polyline points="36.4,85.8 36.65,86.36 37,87.19 37.41,88.14 37.86,89.08 38.3,89.85 38.7,90.3 39.07,90.38 39.43,90.2 39.78,89.85 40.14,89.43 40.51,89.05 40.9,88.8 41.32,88.87 41.76,89.22 42.21,89.6 42.66,89.77 43.09,89.49 43.5,88.5 43.89,86.44 44.27,83.43 44.63,79.96 44.98,76.53 45.3,73.64 45.6,71.8 45.84,71.11 46.01,71.19 46.16,71.81 46.33,72.74 46.57,73.75 46.9,74.6 47.35,75.5 47.87,76.66 48.46,77.9 49.09,79.03 49.74,79.86 50.4,80.2 51.07,79.84 51.77,78.9 52.5,77.65 53.24,76.39 53.97,75.41 54.7,75 55.44,75.19 56.2,75.75 56.96,76.59 57.7,77.61 58.39,78.72 59,79.8 59.52,81.13 59.98,82.83 60.38,84.62 60.76,86.19 61.12,87.25 61.5,87.5 61.87,86.51 62.23,84.44 62.57,81.86 62.92,79.34 63.29,77.46 63.7,76.8 64.15,77.63 64.63,79.53 65.12,82.07 65.64,84.83 66.17,87.35 66.7,89.2 67.26,90.41 67.87,91.31 68.49,91.99 69.09,92.51 69.63,92.92 70.1,93.3 70.49,93.6 70.83,93.75 71.11,93.81 71.35,93.8 71.55,93.79 71.7,93.8" fill="none" stroke="#4a8ff0" stroke-width="0.9" stroke-linejoin="round" />
<polyline points="35.7,125.8 36.02,125.88 36.44,126.06 36.96,126.23 37.52,126.31 38.11,126.2 38.7,125.8 39.3,125.08 39.95,124.1 40.63,122.94 41.3,121.64 41.97,120.27 42.6,118.9 43.21,117.43 43.81,115.81 44.41,114.12 44.97,112.44 45.51,110.88 46,109.5 46.42,108.29 46.78,107.16 47.1,106.14 47.42,105.25 47.78,104.49 48.2,103.9 48.71,103.5 49.29,103.29 49.9,103.22 50.51,103.24 51.09,103.32 51.6,103.4 52.04,103.46 52.45,103.54 52.82,103.67 53.16,103.88 53.49,104.21 53.8,104.7 54.09,105.37 54.35,106.2 54.59,107.15 54.83,108.18 55.06,109.24 55.3,110.3 55.54,111.47 55.77,112.81 56.01,114.18 56.25,115.46 56.51,116.51 56.8,117.2 57.12,117.42 57.47,117.24 57.84,116.84 58.22,116.38 58.61,116.01 59,115.9 59.39,116.05 59.77,116.31 60.17,116.68 60.58,117.12 61.02,117.6 61.5,118.1 62.01,118.64 62.53,119.26 63.09,119.92 63.68,120.6 64.31,121.27 65,121.9 65.8,122.53 66.71,123.2 67.67,123.85 68.61,124.46 69.44,124.99 70.1,125.4 70.58,125.67 70.92,125.84 71.17,125.92 71.34,125.95 71.48,125.97 71.6,126" fill="none" stroke="#f45a5a" stroke-width="0.9" stroke-linejoin="round" />
<text x="36.8" y="62.9" font-size="6.6" textLength="11.3" lengthAdjust="spacingAndGlyphs" fill="#000">180</text>
<text x="66.1" y="62.9" font-size="6.6" textLength="11.2" lengthAdjust="spacingAndGlyphs" fill="#000">190</text>
<text x="37.3" y="99.7" font-size="6.6" textLength="11.2" lengthAdjust="spacingAndGlyphs" fill="#000">180</text>
<text x="60.1" y="99.7" font-size="6.6" textLength="11.2" lengthAdjust="spacingAndGlyphs" fill="#000">190</text>
<text x="36.43" y="134" font-size="6.6" textLength="10.76" lengthAdjust="spacingAndGlyphs" fill="#000">180</text>
<text x="65.7" y="134" font-size="6.6" textLength="11.2" lengthAdjust="spacingAndGlyphs" fill="#000">190</text>
<line x1="59.64" y1="56.14" x2="64.1" y2="61.7" stroke="#000" stroke-width="1.5"/>
<path d="M57.2,53.1 L58.47,57.72 L61.44,55.34 z" fill="#000"/>
<line x1="57.21" y1="93.99" x2="61.5" y2="99.1" stroke="#000" stroke-width="1.5"/>
<path d="M54.7,91 L56.07,95.59 L58.98,93.15 z" fill="#000"/>
<line x1="58.95" y1="125.83" x2="62.8" y2="130.6" stroke="#000" stroke-width="1.5"/>
<path d="M56.5,122.8 L57.79,127.42 L60.74,125.03 z" fill="#000"/>
<rect x="29.5" y="6" width="237.5" height="168.4" stroke="#000" stroke-width="1.4" fill="none"/>
<line x1="59.19" y1="174.4" x2="59.19" y2="171.9" stroke="#000" stroke-width="1.2"/>
<line x1="88.88" y1="174.4" x2="88.88" y2="170.2" stroke="#000" stroke-width="1.2"/>
<line x1="118.56" y1="174.4" x2="118.56" y2="171.9" stroke="#000" stroke-width="1.2"/>
<line x1="148.25" y1="174.4" x2="148.25" y2="170.2" stroke="#000" stroke-width="1.2"/>
<line x1="177.94" y1="174.4" x2="177.94" y2="171.9" stroke="#000" stroke-width="1.2"/>
<line x1="207.62" y1="174.4" x2="207.62" y2="170.2" stroke="#000" stroke-width="1.2"/>
<line x1="237.31" y1="174.4" x2="237.31" y2="171.9" stroke="#000" stroke-width="1.2"/>
<text x="26" y="189.6" font-size="14" textLength="7" lengthAdjust="spacingAndGlyphs" fill="#000">0</text>
<text x="78.38" y="189.6" font-size="14" textLength="21" lengthAdjust="spacingAndGlyphs" fill="#000">300</text>
<text x="137.78" y="189.6" font-size="14" textLength="21" lengthAdjust="spacingAndGlyphs" fill="#000">600</text>
<text x="197.23" y="189.6" font-size="14" textLength="21" lengthAdjust="spacingAndGlyphs" fill="#000">900</text>
<text x="252.72" y="189.6" font-size="14" textLength="28" lengthAdjust="spacingAndGlyphs" fill="#000">1200</text>
<text x="86.58" y="202.2" font-size="14.5" textLength="127.25" lengthAdjust="spacingAndGlyphs" fill="#000">Binding Energy (eV)</text>
<text transform="translate(21.7,135.2) rotate(-90)" x="-0.5" y="0" font-size="14.2" textLength="88.88" lengthAdjust="spacingAndGlyphs" fill="#000">Intensity (a.u.)</text>
<text x="3.83" y="19.4" font-size="18.5" textLength="22.46" lengthAdjust="spacingAndGlyphs" fill="#000">(a)</text>
<text x="47.79" y="23" font-size="11.5" textLength="29.42" lengthAdjust="spacingAndGlyphs" fill="#000">Zr 3d</text>
<text x="208.42" y="20.5" font-size="13" textLength="47.51" lengthAdjust="spacingAndGlyphs" fill="#000">PCN-222</text>
<text x="149.2" y="50" font-size="13" textLength="115.3" lengthAdjust="spacingAndGlyphs" fill="#000">5 wt.% PCN-222/CNs</text>
<text x="149.21" y="88" font-size="13" textLength="115.1" lengthAdjust="spacingAndGlyphs" fill="#000">3 wt.% PCN-222/CNs</text>
<text x="148.71" y="123.2" font-size="13" textLength="115.6" lengthAdjust="spacingAndGlyphs" fill="#000">1 wt.% PCN-222/CNs</text>
<text x="75.78" y="152" font-size="12" textLength="22.94" lengthAdjust="spacingAndGlyphs" fill="#000">C 1s</text>
<text x="110.56" y="143" font-size="12" textLength="22.77" lengthAdjust="spacingAndGlyphs" fill="#000">N 1s</text>
<text x="127.79" y="159.4" font-size="12" textLength="23.48" lengthAdjust="spacingAndGlyphs" fill="#000">O 1s</text>
<text x="230.99" y="155.5" font-size="12" textLength="22.5" lengthAdjust="spacingAndGlyphs" fill="#000">CNs</text>
<polyline points="299.3,37.22 299.8,37.21 300.3,37.2 300.8,37.19 301.3,37.18 301.8,37.17 302.3,37.16 302.8,37.15 303.3,37.14 303.8,37.12 304.3,37.11 304.8,37.1 305.3,37.09 305.8,37.07 306.3,37.06 306.8,37.05 307.3,37.03 307.8,37.02 308.3,37.01 308.8,36.99 309.3,36.98 309.8,36.97 310.3,36.95 310.8,36.94 311.3,36.92 311.8,36.91 312.3,36.89 312.8,36.88 313.3,36.86 313.8,36.84 314.3,36.83 314.8,36.81 315.3,36.79 315.8,36.78 316.3,36.76 316.8,36.74 317.3,36.73 317.8,36.71 318.3,36.69 318.8,36.68 319.3,36.66 319.8,36.64 320.3,36.62 320.8,36.6 321.3,36.59 321.8,36.57 322.3,36.55 322.8,36.53 323.3,36.51 323.8,36.49 324.3,36.47 324.8,36.46 325.3,36.44 325.8,36.42 326.3,36.4 326.8,36.38 327.3,36.36 327.8,36.34 328.3,36.32 328.8,36.3 329.3,36.28 329.8,36.26 330.3,36.24 330.8,36.23 331.3,36.21 331.8,36.19 332.3,36.17 332.8,36.15 333.3,36.13 333.8,36.11 334.3,36.09 334.8,36.07 335.3,36.06 335.8,36.04 336.3,36.02 336.8,36 337.3,35.98 337.8,35.96 338.3,35.95 338.8,35.93 339.3,35.91 339.8,35.89 340.3,35.88 340.8,35.86 341.3,35.84 341.8,35.83 342.3,35.81 342.8,35.8 343.3,35.78 343.8,35.76 344.3,35.75 344.8,35.74 345.3,35.72 345.8,35.71 346.3,35.69 346.8,35.68 347.3,35.67 347.8,35.65 348.3,35.64 348.8,35.63 349.3,35.62 349.8,35.6 350.3,35.59 350.8,35.58 351.3,35.57 351.8,35.56 352.3,35.55 352.8,35.54 353.3,35.54 353.8,35.53 354.3,35.52 354.8,35.51 355.3,35.5 355.8,35.5 356.3,35.49 356.8,35.49 357.3,35.48 357.8,35.48 358.3,35.47 358.8,35.47 359.3,35.46 359.8,35.46 360.3,35.46 360.8,35.46 361.3,35.46 361.8,35.45 362.3,35.45 362.8,35.45 363.3,35.45 363.8,35.46 364.3,35.46 364.8,35.46 365.3,35.46 365.8,35.46 366.3,35.47 366.8,35.47 367.3,35.47 367.8,35.48 368.3,35.48 368.8,35.49 369.3,35.5 369.8,35.5 370.3,35.51 370.8,35.52 371.3,35.52 371.8,35.53 372.3,35.54 372.8,35.55 373.3,35.56 373.8,35.57 374.3,35.58 374.8,35.59 375.3,35.6 375.8,35.61 376.3,35.63 376.8,35.64 377.3,35.65 377.8,35.66 378.3,35.68 378.8,35.69 379.3,35.7 379.8,35.72 380.3,35.73 380.8,35.75 381.3,35.76 381.8,35.78 382.3,35.79 382.8,35.81 383.3,35.83 383.8,35.84 384.3,35.86 384.8,35.88 385.3,35.9 385.8,35.91 386.3,35.93 386.8,35.95 387.3,35.97 387.8,35.99 388.3,36 388.8,36.02 389.3,36.04 389.8,36.06 390.3,36.08 390.8,36.1 391.3,36.12 391.8,36.14 392.3,36.16 392.8,36.18 393.3,36.2 393.8,36.22 394.3,36.24 394.8,36.26 395.3,36.28 395.8,36.3 396.3,36.32 396.8,36.34 397.3,36.36 397.8,36.38 398.3,36.4 398.8,36.42 399.3,36.44 399.8,36.46 400.3,36.48 400.8,36.5 401.3,36.52 401.8,36.54 402.3,36.56 402.8,36.58 403.3,36.59 403.8,36.61 404.3,36.63 404.8,36.65 405.3,36.67 405.8,36.69 406.3,36.71 406.8,36.73 407.3,36.75 407.8,36.76 408.3,36.78 408.8,36.8 409.3,36.82 409.8,36.84 410.3,36.85 410.8,36.87 411.3,36.89 411.8,36.91 412.3,36.92 412.8,36.94 413.3,36.96 413.8,36.97 414.3,36.99 414.8,37.01 415.3,37.02 415.8,37.04 416.3,37.05 416.8,37.07 417.3,37.08 417.8,37.1 418.3,37.11 418.8,37.13 419.3,37.14 419.8,37.15 420.3,37.17 420.8,37.18 421.3,37.19 421.8,37.21 422.3,37.22 422.8,37.23 423.3,37.25 423.8,37.26 424.3,37.27 424.8,37.28 425.3,37.29 425.8,37.31 426.3,37.32 426.8,37.33 427.3,37.34 427.8,37.35 428.3,37.36 428.8,37.37 429.3,37.38 429.8,37.39 430.3,37.4 430.8,37.41 431.3,37.42 431.8,37.43 432.3,37.44 432.8,37.44 433.3,37.45 433.8,37.46 434.3,37.47 434.8,37.48 435.3,37.48 435.8,37.49 436.3,37.5 436.8,37.51 437.3,37.51 437.8,37.52 438.3,37.53 438.8,37.53 439.3,37.54 439.8,37.55 440.3,37.55 440.8,37.56 441.3,37.56 441.8,37.57 442.3,37.57 442.8,37.58 443.3,37.59 443.8,37.59 444.3,37.6 444.8,37.6 445.3,37.6 445.8,37.61 446.3,37.61 446.8,37.62 447.3,37.62 447.8,37.63 448.3,37.63 448.8,37.63 449.3,37.64 449.8,37.64 450.3,37.65 450.8,37.65 451.3,37.65 451.8,37.66 452.3,37.66 452.8,37.66 453.3,37.66 453.8,37.67 454.3,37.67 454.8,37.67 455.3,37.68 455.8,37.68 456.3,37.68 456.8,37.68 457.3,37.69 457.8,37.69 458.3,37.69 458.8,37.69 459.3,37.69 459.8,37.7 460.3,37.7 460.8,37.7 461.3,37.7 461.8,37.7 462.3,37.71 462.8,37.71 463.3,37.71 463.8,37.71 464.3,37.71 464.8,37.71 465.3,37.72 465.8,37.72 466.3,37.72 466.8,37.72 467.3,37.72 467.8,37.72 468.3,37.72 468.8,37.73 469.3,37.73 469.8,37.73 470.3,37.73 470.8,37.73 471.3,37.73 471.8,37.73 472.3,37.73 472.8,37.73 473.3,37.73 473.8,37.74 474.3,37.74 474.8,37.74 475.3,37.74 475.8,37.74 476.3,37.74 476.8,37.74 477.3,37.74 477.8,37.74 478.3,37.74 478.8,37.74 479.3,37.75 479.8,37.75 480.3,37.75 480.8,37.75 481.3,37.75 481.8,37.75 482.3,37.75 482.8,37.75 483.3,37.75 483.8,37.75 484.3,37.75 484.8,37.75 485.3,37.75 485.8,37.75 486.3,37.75 486.8,37.75 487.3,37.76 487.8,37.76 488.3,37.76 488.8,37.76 489.3,37.76 489.8,37.76 490.3,37.76 490.8,37.76 491.3,37.76 491.8,37.76 492.3,37.76 492.8,37.76 493.3,37.76 493.8,37.76 494.3,37.76 494.8,37.76 495.3,37.76 495.8,37.76 496.3,37.76 496.8,37.77 497.3,37.77 497.8,37.77 498.3,37.77 498.8,37.77 499.3,37.77 499.8,37.77 500.3,37.77 500.8,37.77 501.3,37.77 501.8,37.77 502.3,37.77 502.8,37.77 503.3,37.77 503.8,37.77 504.3,37.77 504.8,37.77 505.3,37.77 505.8,37.77 506.3,37.77 506.8,37.77 507.3,37.77 507.8,37.78 508.3,37.78 508.8,37.78 509.3,37.78 509.8,37.78 510.3,37.78 510.8,37.78 511.3,37.78 511.8,37.78 512.3,37.78 512.8,37.78 513.3,37.78 513.8,37.78 514.3,37.78 514.8,37.78 515.3,37.78 515.8,37.78 516.3,37.78 516.8,37.78 517.3,37.78 517.8,37.78 518.3,37.78 518.8,37.78 519.3,37.78 519.8,37.79 520.3,37.79 520.8,37.79 521.3,37.79 521.8,37.79 522.3,37.79 522.8,37.79 523.3,37.79 523.8,37.79 524.3,37.79 524.8,37.79 525.3,37.79 525.8,37.79 526.3,37.79 526.8,37.79 527.3,37.79 527.8,37.79 528.3,37.79 528.8,37.79 529.3,37.79 529.8,37.79 530.3,37.79 530.8,37.79 531.3,37.8 531.8,37.8 532.3,37.8 532.8,37.8 533.3,37.8 533.8,37.8 534.3,37.8 534.8,37.8 535.3,37.8 535.8,37.8 536.3,37.8" fill="none" stroke="#2fb063" stroke-width="1.4" stroke-linejoin="round" />
<polyline points="299.3,37 299.8,37 300.3,37 300.8,37 301.3,37 301.8,37 302.3,37 302.8,37 303.3,37 303.8,37 304.3,37 304.8,37.01 305.3,37.01 305.8,37.01 306.3,37.01 306.8,37.01 307.3,37.01 307.8,37.01 308.3,37.01 308.8,37.01 309.3,37.01 309.8,37.01 310.3,37.01 310.8,37.01 311.3,37.01 311.8,37.01 312.3,37.01 312.8,37.01 313.3,37.01 313.8,37.01 314.3,37.01 314.8,37.01 315.3,37.01 315.8,37.01 316.3,37.01 316.8,37.02 317.3,37.02 317.8,37.02 318.3,37.02 318.8,37.02 319.3,37.02 319.8,37.02 320.3,37.02 320.8,37.02 321.3,37.02 321.8,37.02 322.3,37.02 322.8,37.02 323.3,37.02 323.8,37.02 324.3,37.02 324.8,37.02 325.3,37.02 325.8,37.02 326.3,37.02 326.8,37.02 327.3,37.02 327.8,37.02 328.3,37.02 328.8,37.03 329.3,37.03 329.8,37.03 330.3,37.03 330.8,37.03 331.3,37.03 331.8,37.03 332.3,37.03 332.8,37.03 333.3,37.03 333.8,37.03 334.3,37.03 334.8,37.03 335.3,37.03 335.8,37.03 336.3,37.03 336.8,37.03 337.3,37.03 337.8,37.03 338.3,37.03 338.8,37.03 339.3,37.03 339.8,37.03 340.3,37.04 340.8,37.04 341.3,37.04 341.8,37.04 342.3,37.04 342.8,37.04 343.3,37.04 343.8,37.04 344.3,37.04 344.8,37.04 345.3,37.04 345.8,37.04 346.3,37.04 346.8,37.04 347.3,37.04 347.8,37.04 348.3,37.04 348.8,37.04 349.3,37.04 349.8,37.04 350.3,37.04 350.8,37.04 351.3,37.04 351.8,37.04 352.3,37.05 352.8,37.05 353.3,37.05 353.8,37.05 354.3,37.05 354.8,37.05 355.3,37.05 355.8,37.05 356.3,37.05 356.8,37.05 357.3,37.05 357.8,37.05 358.3,37.05 358.8,37.05 359.3,37.05 359.8,37.05 360.3,37.05 360.8,37.05 361.3,37.05 361.8,37.05 362.3,37.05 362.8,37.05 363.3,37.05 363.8,37.05 364.3,37.06 364.8,37.06 365.3,37.06 365.8,37.06 366.3,37.06 366.8,37.06 367.3,37.06 367.8,37.06 368.3,37.06 368.8,37.06 369.3,37.06 369.8,37.06 370.3,37.06 370.8,37.06 371.3,37.06 371.8,37.06 372.3,37.06 372.8,37.06 373.3,37.06 373.8,37.06 374.3,37.06 374.8,37.06 375.3,37.06 375.8,37.06 376.3,37.07 376.8,37.07 377.3,37.07 377.8,37.07 378.3,37.07 378.8,37.07 379.3,37.07 379.8,37.07 380.3,37.07 380.8,37.07 381.3,37.07 381.8,37.07 382.3,37.07 382.8,37.07 383.3,37.07 383.8,37.07 384.3,37.07 384.8,37.07 385.3,37.07 385.8,37.07 386.3,37.07 386.8,37.07 387.3,37.07 387.8,37.07 388.3,37.07 388.8,37.07 389.3,37.07 389.8,37.07 390.3,37.07 390.8,37.07 391.3,37.07 391.8,37.07 392.3,37.07 392.8,37.07 393.3,37.07 393.8,37.07 394.3,37.07 394.8,37.07 395.3,37.07 395.8,37.07 396.3,37.06 396.8,37.06 397.3,37.06 397.8,37.06 398.3,37.06 398.8,37.06 399.3,37.05 399.8,37.05 400.3,37.05 400.8,37.04 401.3,37.04 401.8,37.04 402.3,37.03 402.8,37.03 403.3,37.02 403.8,37.02 404.3,37.01 404.8,37 405.3,36.99 405.8,36.99 406.3,36.98 406.8,36.97 407.3,36.96 407.8,36.95 408.3,36.93 408.8,36.92 409.3,36.9 409.8,36.89 410.3,36.87 410.8,36.85 411.3,36.83 411.8,36.81 412.3,36.79 412.8,36.77 413.3,36.74 413.8,36.71 414.3,36.68 414.8,36.65 415.3,36.61 415.8,36.58 416.3,36.54 416.8,36.5 417.3,36.45 417.8,36.41 418.3,36.36 418.8,36.3 419.3,36.25 419.8,36.18 420.3,36.12 420.8,36.05 421.3,35.98 421.8,35.91 422.3,35.83 422.8,35.74 423.3,35.65 423.8,35.56 424.3,35.46 424.8,35.36 425.3,35.25 425.8,35.13 426.3,35.01 426.8,34.89 427.3,34.76 427.8,34.62 428.3,34.48 428.8,34.32 429.3,34.17 429.8,34 430.3,33.83 430.8,33.65 431.3,33.47 431.8,33.28 432.3,33.08 432.8,32.87 433.3,32.66 433.8,32.43 434.3,32.2 434.8,31.97 435.3,31.72 435.8,31.47 436.3,31.2 436.8,30.94 437.3,30.66 437.8,30.37 438.3,30.08 438.8,29.78 439.3,29.48 439.8,29.16 440.3,28.84 440.8,28.51 441.3,28.18 441.8,27.83 442.3,27.48 442.8,27.13 443.3,26.77 443.8,26.4 444.3,26.03 444.8,25.66 445.3,25.28 445.8,24.89 446.3,24.5 446.8,24.11 447.3,23.72 447.8,23.32 448.3,22.92 448.8,22.52 449.3,22.12 449.8,21.72 450.3,21.32 450.8,20.92 451.3,20.52 451.8,20.13 452.3,19.73 452.8,19.35 453.3,18.96 453.8,18.58 454.3,18.2 454.8,17.83 455.3,17.47 455.8,17.11 456.3,16.76 456.8,16.42 457.3,16.09 457.8,15.77 458.3,15.46 458.8,15.16 459.3,14.87 459.8,14.59 460.3,14.33 460.8,14.08 461.3,13.84 461.8,13.61 462.3,13.41 462.8,13.21 463.3,13.03 463.8,12.87 464.3,12.72 464.8,12.59 465.3,12.47 465.8,12.38 466.3,12.29 466.8,12.23 467.3,12.18 467.8,12.15 468.3,12.14 468.8,12.15 469.3,12.17 469.8,12.21 470.3,12.27 470.8,12.35 471.3,12.44 471.8,12.55 472.3,12.67 472.8,12.81 473.3,12.97 473.8,13.15 474.3,13.34 474.8,13.54 475.3,13.76 475.8,13.99 476.3,14.24 476.8,14.5 477.3,14.77 477.8,15.06 478.3,15.36 478.8,15.66 479.3,15.98 479.8,16.31 480.3,16.65 480.8,16.99 481.3,17.35 481.8,17.71 482.3,18.08 482.8,18.45 483.3,18.83 483.8,19.22 484.3,19.61 484.8,20 485.3,20.4 485.8,20.79 486.3,21.19 486.8,21.59 487.3,22 487.8,22.4 488.3,22.8 488.8,23.2 489.3,23.6 489.8,23.99 490.3,24.39 490.8,24.78 491.3,25.16 491.8,25.55 492.3,25.93 492.8,26.3 493.3,26.67 493.8,27.03 494.3,27.39 494.8,27.74 495.3,28.09 495.8,28.43 496.3,28.76 496.8,29.08 497.3,29.4 497.8,29.71 498.3,30.02 498.8,30.31 499.3,30.6 499.8,30.88 500.3,31.15 500.8,31.42 501.3,31.68 501.8,31.93 502.3,32.17 502.8,32.4 503.3,32.63 503.8,32.85 504.3,33.06 504.8,33.26 505.3,33.46 505.8,33.65 506.3,33.83 506.8,34 507.3,34.17 507.8,34.33 508.3,34.48 508.8,34.63 509.3,34.77 509.8,34.91 510.3,35.04 510.8,35.16 511.3,35.28 511.8,35.39 512.3,35.5 512.8,35.6 513.3,35.69 513.8,35.78 514.3,35.87 514.8,35.95 515.3,36.03 515.8,36.11 516.3,36.18 516.8,36.24 517.3,36.3 517.8,36.36 518.3,36.42 518.8,36.47 519.3,36.52 519.8,36.57 520.3,36.61 520.8,36.65 521.3,36.69 521.8,36.73 522.3,36.76 522.8,36.79 523.3,36.82 523.8,36.85 524.3,36.87 524.8,36.9 525.3,36.92 525.8,36.94 526.3,36.96 526.8,36.98 527.3,37 527.8,37.01 528.3,37.03 528.8,37.04 529.3,37.05 529.8,37.07 530.3,37.08 530.8,37.09 531.3,37.1 531.8,37.11 532.3,37.11 532.8,37.12 533.3,37.13 533.8,37.13 534.3,37.14 534.8,37.15 535.3,37.15 535.8,37.16 536.3,37.16" fill="none" stroke="#1f6fe6" stroke-width="1.4" stroke-linejoin="round" />
<path d="M298.35,35.11a1.95,1.95 0 1,0 3.9,0a1.95,1.95 0 1,0 -3.9,0M300.95,35.28a1.95,1.95 0 1,0 3.9,0a1.95,1.95 0 1,0 -3.9,0M303.55,35.25a1.95,1.95 0 1,0 3.9,0a1.95,1.95 0 1,0 -3.9,0M306.15,34.79a1.95,1.95 0 1,0 3.9,0a1.95,1.95 0 1,0 -3.9,0M308.75,34.47a1.95,1.95 0 1,0 3.9,0a1.95,1.95 0 1,0 -3.9,0M311.35,34.55a1.95,1.95 0 1,0 3.9,0a1.95,1.95 0 1,0 -3.9,0M313.95,34.5a1.95,1.95 0 1,0 3.9,0a1.95,1.95 0 1,0 -3.9,0M316.55,34.45a1.95,1.95 0 1,0 3.9,0a1.95,1.95 0 1,0 -3.9,0M319.15,33.82a1.95,1.95 0 1,0 3.9,0a1.95,1.95 0 1,0 -3.9,0M321.75,33.64a1.95,1.95 0 1,0 3.9,0a1.95,1.95 0 1,0 -3.9,0M324.35,33.88a1.95,1.95 0 1,0 3.9,0a1.95,1.95 0 1,0 -3.9,0M326.95,33.67a1.95,1.95 0 1,0 3.9,0a1.95,1.95 0 1,0 -3.9,0M329.55,33.73a1.95,1.95 0 1,0 3.9,0a1.95,1.95 0 1,0 -3.9,0M332.15,33.47a1.95,1.95 0 1,0 3.9,0a1.95,1.95 0 1,0 -3.9,0M334.75,33.1a1.95,1.95 0 1,0 3.9,0a1.95,1.95 0 1,0 -3.9,0M337.35,32.93a1.95,1.95 0 1,0 3.9,0a1.95,1.95 0 1,0 -3.9,0M339.95,33.36a1.95,1.95 0 1,0 3.9,0a1.95,1.95 0 1,0 -3.9,0M342.55,32.67a1.95,1.95 0 1,0 3.9,0a1.95,1.95 0 1,0 -3.9,0M345.15,32.46a1.95,1.95 0 1,0 3.9,0a1.95,1.95 0 1,0 -3.9,0M347.75,32.28a1.95,1.95 0 1,0 3.9,0a1.95,1.95 0 1,0 -3.9,0M350.35,32.44a1.95,1.95 0 1,0 3.9,0a1.95,1.95 0 1,0 -3.9,0M352.95,32.37a1.95,1.95 0 1,0 3.9,0a1.95,1.95 0 1,0 -3.9,0M355.55,32.21a1.95,1.95 0 1,0 3.9,0a1.95,1.95 0 1,0 -3.9,0M358.15,32.21a1.95,1.95 0 1,0 3.9,0a1.95,1.95 0 1,0 -3.9,0M360.75,32.25a1.95,1.95 0 1,0 3.9,0a1.95,1.95 0 1,0 -3.9,0M363.35,32.31a1.95,1.95 0 1,0 3.9,0a1.95,1.95 0 1,0 -3.9,0M365.95,32.39a1.95,1.95 0 1,0 3.9,0a1.95,1.95 0 1,0 -3.9,0M368.55,32.23a1.95,1.95 0 1,0 3.9,0a1.95,1.95 0 1,0 -3.9,0M371.15,31.86a1.95,1.95 0 1,0 3.9,0a1.95,1.95 0 1,0 -3.9,0M373.75,32.41a1.95,1.95 0 1,0 3.9,0a1.95,1.95 0 1,0 -3.9,0M376.35,32.05a1.95,1.95 0 1,0 3.9,0a1.95,1.95 0 1,0 -3.9,0M378.95,32.38a1.95,1.95 0 1,0 3.9,0a1.95,1.95 0 1,0 -3.9,0M381.55,32.21a1.95,1.95 0 1,0 3.9,0a1.95,1.95 0 1,0 -3.9,0M384.15,32.62a1.95,1.95 0 1,0 3.9,0a1.95,1.95 0 1,0 -3.9,0M386.75,32.58a1.95,1.95 0 1,0 3.9,0a1.95,1.95 0 1,0 -3.9,0M389.35,32.92a1.95,1.95 0 1,0 3.9,0a1.95,1.95 0 1,0 -3.9,0M391.95,33.68a1.95,1.95 0 1,0 3.9,0a1.95,1.95 0 1,0 -3.9,0M394.55,33.16a1.95,1.95 0 1,0 3.9,0a1.95,1.95 0 1,0 -3.9,0M397.15,33.49a1.95,1.95 0 1,0 3.9,0a1.95,1.95 0 1,0 -3.9,0M399.75,33.21a1.95,1.95 0 1,0 3.9,0a1.95,1.95 0 1,0 -3.9,0M402.35,33.56a1.95,1.95 0 1,0 3.9,0a1.95,1.95 0 1,0 -3.9,0M404.95,33.88a1.95,1.95 0 1,0 3.9,0a1.95,1.95 0 1,0 -3.9,0M407.55,33.84a1.95,1.95 0 1,0 3.9,0a1.95,1.95 0 1,0 -3.9,0M410.15,34.02a1.95,1.95 0 1,0 3.9,0a1.95,1.95 0 1,0 -3.9,0M412.75,34a1.95,1.95 0 1,0 3.9,0a1.95,1.95 0 1,0 -3.9,0M415.35,33.75a1.95,1.95 0 1,0 3.9,0a1.95,1.95 0 1,0 -3.9,0M417.95,33.96a1.95,1.95 0 1,0 3.9,0a1.95,1.95 0 1,0 -3.9,0M420.55,33.47a1.95,1.95 0 1,0 3.9,0a1.95,1.95 0 1,0 -3.9,0M423.15,33.68a1.95,1.95 0 1,0 3.9,0a1.95,1.95 0 1,0 -3.9,0M425.75,32.71a1.95,1.95 0 1,0 3.9,0a1.95,1.95 0 1,0 -3.9,0M428.35,32.29a1.95,1.95 0 1,0 3.9,0a1.95,1.95 0 1,0 -3.9,0M430.95,31.29a1.95,1.95 0 1,0 3.9,0a1.95,1.95 0 1,0 -3.9,0M433.55,30.41a1.95,1.95 0 1,0 3.9,0a1.95,1.95 0 1,0 -3.9,0M436.15,28.81a1.95,1.95 0 1,0 3.9,0a1.95,1.95 0 1,0 -3.9,0M438.75,27.63a1.95,1.95 0 1,0 3.9,0a1.95,1.95 0 1,0 -3.9,0M441.35,25.71a1.95,1.95 0 1,0 3.9,0a1.95,1.95 0 1,0 -3.9,0M443.95,24.14a1.95,1.95 0 1,0 3.9,0a1.95,1.95 0 1,0 -3.9,0M446.55,22.06a1.95,1.95 0 1,0 3.9,0a1.95,1.95 0 1,0 -3.9,0M449.15,19.97a1.95,1.95 0 1,0 3.9,0a1.95,1.95 0 1,0 -3.9,0M451.75,17.84a1.95,1.95 0 1,0 3.9,0a1.95,1.95 0 1,0 -3.9,0M454.35,16.33a1.95,1.95 0 1,0 3.9,0a1.95,1.95 0 1,0 -3.9,0M456.95,14.68a1.95,1.95 0 1,0 3.9,0a1.95,1.95 0 1,0 -3.9,0M459.55,13.62a1.95,1.95 0 1,0 3.9,0a1.95,1.95 0 1,0 -3.9,0M462.15,12.31a1.95,1.95 0 1,0 3.9,0a1.95,1.95 0 1,0 -3.9,0M464.75,12.01a1.95,1.95 0 1,0 3.9,0a1.95,1.95 0 1,0 -3.9,0M467.35,11.97a1.95,1.95 0 1,0 3.9,0a1.95,1.95 0 1,0 -3.9,0M469.95,12.37a1.95,1.95 0 1,0 3.9,0a1.95,1.95 0 1,0 -3.9,0M472.55,13.24a1.95,1.95 0 1,0 3.9,0a1.95,1.95 0 1,0 -3.9,0M475.15,14.51a1.95,1.95 0 1,0 3.9,0a1.95,1.95 0 1,0 -3.9,0M477.75,15.96a1.95,1.95 0 1,0 3.9,0a1.95,1.95 0 1,0 -3.9,0M480.35,17.74a1.95,1.95 0 1,0 3.9,0a1.95,1.95 0 1,0 -3.9,0M482.95,19.88a1.95,1.95 0 1,0 3.9,0a1.95,1.95 0 1,0 -3.9,0M485.55,22.17a1.95,1.95 0 1,0 3.9,0a1.95,1.95 0 1,0 -3.9,0M488.15,24.45a1.95,1.95 0 1,0 3.9,0a1.95,1.95 0 1,0 -3.9,0M490.75,26.35a1.95,1.95 0 1,0 3.9,0a1.95,1.95 0 1,0 -3.9,0M493.35,28.24a1.95,1.95 0 1,0 3.9,0a1.95,1.95 0 1,0 -3.9,0M495.95,29.88a1.95,1.95 0 1,0 3.9,0a1.95,1.95 0 1,0 -3.9,0M498.55,31.36a1.95,1.95 0 1,0 3.9,0a1.95,1.95 0 1,0 -3.9,0M501.15,32.54a1.95,1.95 0 1,0 3.9,0a1.95,1.95 0 1,0 -3.9,0M503.75,33.73a1.95,1.95 0 1,0 3.9,0a1.95,1.95 0 1,0 -3.9,0M506.35,34.82a1.95,1.95 0 1,0 3.9,0a1.95,1.95 0 1,0 -3.9,0M508.95,35.1a1.95,1.95 0 1,0 3.9,0a1.95,1.95 0 1,0 -3.9,0M511.55,35.58a1.95,1.95 0 1,0 3.9,0a1.95,1.95 0 1,0 -3.9,0M514.15,36.53a1.95,1.95 0 1,0 3.9,0a1.95,1.95 0 1,0 -3.9,0M516.75,36.5a1.95,1.95 0 1,0 3.9,0a1.95,1.95 0 1,0 -3.9,0M519.35,36.88a1.95,1.95 0 1,0 3.9,0a1.95,1.95 0 1,0 -3.9,0M521.95,37.02a1.95,1.95 0 1,0 3.9,0a1.95,1.95 0 1,0 -3.9,0M524.55,36.74a1.95,1.95 0 1,0 3.9,0a1.95,1.95 0 1,0 -3.9,0M527.15,37.53a1.95,1.95 0 1,0 3.9,0a1.95,1.95 0 1,0 -3.9,0M529.75,37.46a1.95,1.95 0 1,0 3.9,0a1.95,1.95 0 1,0 -3.9,0M532.35,37.17a1.95,1.95 0 1,0 3.9,0a1.95,1.95 0 1,0 -3.9,0" fill="none" stroke="#666" stroke-width="0.65"/>
<line x1="312.54" y1="39.8" x2="312.54" y2="36.8" stroke="#000" stroke-width="1.1"/>
<line x1="340.62" y1="39.8" x2="340.62" y2="36.8" stroke="#000" stroke-width="1.1"/>
<line x1="368.71" y1="39.8" x2="368.71" y2="36.8" stroke="#000" stroke-width="1.1"/>
<line x1="396.79" y1="39.8" x2="396.79" y2="36.8" stroke="#000" stroke-width="1.1"/>
<line x1="424.87" y1="39.8" x2="424.87" y2="36.8" stroke="#000" stroke-width="1.1"/>
<line x1="452.95" y1="39.8" x2="452.95" y2="36.8" stroke="#000" stroke-width="1.1"/>
<line x1="481.04" y1="39.8" x2="481.04" y2="36.8" stroke="#000" stroke-width="1.1"/>
<line x1="509.12" y1="39.8" x2="509.12" y2="36.8" stroke="#000" stroke-width="1.1"/>
<line x1="298.5" y1="39.8" x2="537.2" y2="39.8" stroke="#000" stroke-width="1.3"/>
<polyline points="299.3,71.11 299.8,71.11 300.3,71.1 300.8,71.09 301.3,71.08 301.8,71.07 302.3,71.07 302.8,71.06 303.3,71.05 303.8,71.04 304.3,71.03 304.8,71.02 305.3,71.01 305.8,71 306.3,70.99 306.8,70.98 307.3,70.96 307.8,70.95 308.3,70.94 308.8,70.92 309.3,70.91 309.8,70.9 310.3,70.88 310.8,70.86 311.3,70.85 311.8,70.83 312.3,70.81 312.8,70.79 313.3,70.77 313.8,70.75 314.3,70.72 314.8,70.7 315.3,70.67 315.8,70.64 316.3,70.61 316.8,70.58 317.3,70.55 317.8,70.51 318.3,70.47 318.8,70.43 319.3,70.39 319.8,70.34 320.3,70.29 320.8,70.24 321.3,70.18 321.8,70.12 322.3,70.05 322.8,69.98 323.3,69.91 323.8,69.82 324.3,69.74 324.8,69.65 325.3,69.55 325.8,69.44 326.3,69.33 326.8,69.21 327.3,69.09 327.8,68.95 328.3,68.81 328.8,68.66 329.3,68.5 329.8,68.33 330.3,68.14 330.8,67.95 331.3,67.75 331.8,67.54 332.3,67.32 332.8,67.08 333.3,66.83 333.8,66.57 334.3,66.3 334.8,66.01 335.3,65.71 335.8,65.4 336.3,65.08 336.8,64.74 337.3,64.38 337.8,64.02 338.3,63.64 338.8,63.24 339.3,62.84 339.8,62.41 340.3,61.98 340.8,61.54 341.3,61.08 341.8,60.61 342.3,60.12 342.8,59.63 343.3,59.13 343.8,58.61 344.3,58.09 344.8,57.56 345.3,57.02 345.8,56.48 346.3,55.93 346.8,55.38 347.3,54.82 347.8,54.27 348.3,53.71 348.8,53.15 349.3,52.6 349.8,52.05 350.3,51.5 350.8,50.97 351.3,50.44 351.8,49.92 352.3,49.41 352.8,48.92 353.3,48.44 353.8,47.99 354.3,47.55 354.8,47.13 355.3,46.73 355.8,46.36 356.3,46.01 356.8,45.69 357.3,45.39 357.8,45.13 358.3,44.89 358.8,44.68 359.3,44.51 359.8,44.36 360.3,44.24 360.8,44.15 361.3,44.1 361.8,44.07 362.3,44.07 362.8,44.1 363.3,44.16 363.8,44.25 364.3,44.36 364.8,44.5 365.3,44.66 365.8,44.84 366.3,45.05 366.8,45.28 367.3,45.53 367.8,45.8 368.3,46.09 368.8,46.39 369.3,46.72 369.8,47.06 370.3,47.41 370.8,47.78 371.3,48.17 371.8,48.56 372.3,48.97 372.8,49.39 373.3,49.82 373.8,50.26 374.3,50.7 374.8,51.16 375.3,51.61 375.8,52.08 376.3,52.55 376.8,53.02 377.3,53.49 377.8,53.96 378.3,54.44 378.8,54.91 379.3,55.38 379.8,55.85 380.3,56.32 380.8,56.78 381.3,57.24 381.8,57.7 382.3,58.14 382.8,58.59 383.3,59.02 383.8,59.45 384.3,59.87 384.8,60.28 385.3,60.68 385.8,61.08 386.3,61.47 386.8,61.84 387.3,62.21 387.8,62.57 388.3,62.92 388.8,63.26 389.3,63.59 389.8,63.91 390.3,64.22 390.8,64.52 391.3,64.82 391.8,65.1 392.3,65.37 392.8,65.63 393.3,65.89 393.8,66.14 394.3,66.37 394.8,66.6 395.3,66.82 395.8,67.03 396.3,67.23 396.8,67.43 397.3,67.61 397.8,67.79 398.3,67.96 398.8,68.13 399.3,68.28 399.8,68.43 400.3,68.57 400.8,68.71 401.3,68.84 401.8,68.96 402.3,69.08 402.8,69.19 403.3,69.3 403.8,69.4 404.3,69.5 404.8,69.59 405.3,69.68 405.8,69.76 406.3,69.84 406.8,69.91 407.3,69.98 407.8,70.05 408.3,70.11 408.8,70.17 409.3,70.22 409.8,70.28 410.3,70.33 410.8,70.37 411.3,70.42 411.8,70.46 412.3,70.5 412.8,70.54 413.3,70.57 413.8,70.61 414.3,70.64 414.8,70.67 415.3,70.7 415.8,70.72 416.3,70.75 416.8,70.77 417.3,70.8 417.8,70.82 418.3,70.84 418.8,70.86 419.3,70.88 419.8,70.89 420.3,70.91 420.8,70.93 421.3,70.94 421.8,70.96 422.3,70.97 422.8,70.98 423.3,71 423.8,71.01 424.3,71.02 424.8,71.03 425.3,71.04 425.8,71.05 426.3,71.06 426.8,71.07 427.3,71.08 427.8,71.09 428.3,71.1 428.8,71.11 429.3,71.11 429.8,71.12 430.3,71.13 430.8,71.14 431.3,71.14 431.8,71.15 432.3,71.16 432.8,71.16 433.3,71.17 433.8,71.18 434.3,71.18 434.8,71.19 435.3,71.19 435.8,71.2 436.3,71.2 436.8,71.21 437.3,71.22 437.8,71.22 438.3,71.23 438.8,71.23 439.3,71.24 439.8,71.24 440.3,71.24 440.8,71.25 441.3,71.25 441.8,71.26 442.3,71.26 442.8,71.27 443.3,71.27 443.8,71.27 444.3,71.28 444.8,71.28 445.3,71.29 445.8,71.29 446.3,71.29 446.8,71.3 447.3,71.3 447.8,71.3 448.3,71.31 448.8,71.31 449.3,71.31 449.8,71.32 450.3,71.32 450.8,71.32 451.3,71.33 451.8,71.33 452.3,71.33 452.8,71.34 453.3,71.34 453.8,71.34 454.3,71.34 454.8,71.35 455.3,71.35 455.8,71.35 456.3,71.36 456.8,71.36 457.3,71.36 457.8,71.36 458.3,71.37 458.8,71.37 459.3,71.37 459.8,71.37 460.3,71.37 460.8,71.38 461.3,71.38 461.8,71.38 462.3,71.38 462.8,71.39 463.3,71.39 463.8,71.39 464.3,71.39 464.8,71.39 465.3,71.4 465.8,71.4 466.3,71.4 466.8,71.4 467.3,71.4 467.8,71.41 468.3,71.41 468.8,71.41 469.3,71.41 469.8,71.41 470.3,71.41 470.8,71.42 471.3,71.42 471.8,71.42 472.3,71.42 472.8,71.42 473.3,71.42 473.8,71.43 474.3,71.43 474.8,71.43 475.3,71.43 475.8,71.43 476.3,71.43 476.8,71.44 477.3,71.44 477.8,71.44 478.3,71.44 478.8,71.44 479.3,71.44 479.8,71.44 480.3,71.45 480.8,71.45 481.3,71.45 481.8,71.45 482.3,71.45 482.8,71.45 483.3,71.45 483.8,71.45 484.3,71.46 484.8,71.46 485.3,71.46 485.8,71.46 486.3,71.46 486.8,71.46 487.3,71.46 487.8,71.46 488.3,71.46 488.8,71.47 489.3,71.47 489.8,71.47 490.3,71.47 490.8,71.47 491.3,71.47 491.8,71.47 492.3,71.47 492.8,71.47 493.3,71.47 493.8,71.48 494.3,71.48 494.8,71.48 495.3,71.48 495.8,71.48 496.3,71.48 496.8,71.48 497.3,71.48 497.8,71.48 498.3,71.48 498.8,71.48 499.3,71.49 499.8,71.49 500.3,71.49 500.8,71.49 501.3,71.49 501.8,71.49 502.3,71.49 502.8,71.49 503.3,71.49 503.8,71.49 504.3,71.49 504.8,71.49 505.3,71.49 505.8,71.5 506.3,71.5 506.8,71.5 507.3,71.5 507.8,71.5 508.3,71.5 508.8,71.5 509.3,71.5 509.8,71.5 510.3,71.5 510.8,71.5 511.3,71.5 511.8,71.5 512.3,71.5 512.8,71.5 513.3,71.51 513.8,71.51 514.3,71.51 514.8,71.51 515.3,71.51 515.8,71.51 516.3,71.51 516.8,71.51 517.3,71.51 517.8,71.51 518.3,71.51 518.8,71.51 519.3,71.51 519.8,71.51 520.3,71.51 520.8,71.51 521.3,71.51 521.8,71.52 522.3,71.52 522.8,71.52 523.3,71.52 523.8,71.52 524.3,71.52 524.8,71.52 525.3,71.52 525.8,71.52 526.3,71.52 526.8,71.52 527.3,71.52 527.8,71.52 528.3,71.52 528.8,71.52 529.3,71.52 529.8,71.52 530.3,71.52 530.8,71.52 531.3,71.52 531.8,71.53 532.3,71.53 532.8,71.53 533.3,71.53 533.8,71.53 534.3,71.53 534.8,71.53 535.3,71.53 535.8,71.53 536.3,71.53" fill="none" stroke="#3a3a3a" stroke-width="1.0" stroke-linejoin="round" />
<polyline points="299.3,72.25 299.8,72.24 300.3,72.24 300.8,72.24 301.3,72.24 301.8,72.23 302.3,72.23 302.8,72.23 303.3,72.23 303.8,72.23 304.3,72.22 304.8,72.22 305.3,72.22 305.8,72.22 306.3,72.21 306.8,72.21 307.3,72.21 307.8,72.2 308.3,72.2 308.8,72.2 309.3,72.2 309.8,72.19 310.3,72.19 310.8,72.19 311.3,72.18 311.8,72.18 312.3,72.17 312.8,72.17 313.3,72.17 313.8,72.16 314.3,72.16 314.8,72.15 315.3,72.15 315.8,72.14 316.3,72.14 316.8,72.13 317.3,72.13 317.8,72.12 318.3,72.12 318.8,72.11 319.3,72.11 319.8,72.1 320.3,72.09 320.8,72.08 321.3,72.08 321.8,72.07 322.3,72.06 322.8,72.05 323.3,72.04 323.8,72.03 324.3,72.02 324.8,72.01 325.3,71.99 325.8,71.98 326.3,71.97 326.8,71.95 327.3,71.94 327.8,71.92 328.3,71.9 328.8,71.88 329.3,71.86 329.8,71.84 330.3,71.82 330.8,71.79 331.3,71.77 331.8,71.74 332.3,71.71 332.8,71.68 333.3,71.64 333.8,71.61 334.3,71.57 334.8,71.53 335.3,71.49 335.8,71.44 336.3,71.4 336.8,71.34 337.3,71.29 337.8,71.23 338.3,71.17 338.8,71.11 339.3,71.04 339.8,70.97 340.3,70.9 340.8,70.82 341.3,70.74 341.8,70.65 342.3,70.56 342.8,70.47 343.3,70.37 343.8,70.26 344.3,70.15 344.8,70.04 345.3,69.92 345.8,69.8 346.3,69.67 346.8,69.54 347.3,69.4 347.8,69.26 348.3,69.11 348.8,68.96 349.3,68.8 349.8,68.64 350.3,68.47 350.8,68.3 351.3,68.12 351.8,67.94 352.3,67.76 352.8,67.57 353.3,67.38 353.8,67.18 354.3,66.98 354.8,66.77 355.3,66.57 355.8,66.36 356.3,66.15 356.8,65.94 357.3,65.72 357.8,65.51 358.3,65.29 358.8,65.07 359.3,64.86 359.8,64.64 360.3,64.43 360.8,64.21 361.3,64 361.8,63.8 362.3,63.59 362.8,63.39 363.3,63.2 363.8,63.01 364.3,62.83 364.8,62.65 365.3,62.48 365.8,62.32 366.3,62.17 366.8,62.02 367.3,61.89 367.8,61.76 368.3,61.65 368.8,61.55 369.3,61.46 369.8,61.38 370.3,61.32 370.8,61.27 371.3,61.23 371.8,61.21 372.3,61.2 372.8,61.2 373.3,61.22 373.8,61.25 374.3,61.3 374.8,61.36 375.3,61.43 375.8,61.51 376.3,61.61 376.8,61.72 377.3,61.84 377.8,61.97 378.3,62.11 378.8,62.26 379.3,62.41 379.8,62.58 380.3,62.75 380.8,62.94 381.3,63.12 381.8,63.32 382.3,63.51 382.8,63.72 383.3,63.92 383.8,64.13 384.3,64.34 384.8,64.56 385.3,64.77 385.8,64.99 386.3,65.2 386.8,65.42 387.3,65.64 387.8,65.85 388.3,66.06 388.8,66.28 389.3,66.49 389.8,66.69 390.3,66.9 390.8,67.1 391.3,67.3 391.8,67.49 392.3,67.68 392.8,67.87 393.3,68.05 393.8,68.23 394.3,68.4 394.8,68.57 395.3,68.74 395.8,68.9 396.3,69.05 396.8,69.2 397.3,69.34 397.8,69.48 398.3,69.62 398.8,69.75 399.3,69.87 399.8,69.99 400.3,70.11 400.8,70.22 401.3,70.33 401.8,70.43 402.3,70.52 402.8,70.62 403.3,70.7 403.8,70.79 404.3,70.87 404.8,70.94 405.3,71.02 405.8,71.08 406.3,71.15 406.8,71.21 407.3,71.27 407.8,71.32 408.3,71.38 408.8,71.42 409.3,71.47 409.8,71.51 410.3,71.56 410.8,71.59 411.3,71.63 411.8,71.66 412.3,71.7 412.8,71.73 413.3,71.76 413.8,71.78 414.3,71.81 414.8,71.83 415.3,71.85 415.8,71.87 416.3,71.89 416.8,71.91 417.3,71.93 417.8,71.95 418.3,71.96 418.8,71.98 419.3,71.99 419.8,72 420.3,72.01 420.8,72.02 421.3,72.04 421.8,72.05 422.3,72.06 422.8,72.06 423.3,72.07 423.8,72.08 424.3,72.09 424.8,72.1 425.3,72.1 425.8,72.11 426.3,72.12 426.8,72.12 427.3,72.13 427.8,72.13 428.3,72.14 428.8,72.14 429.3,72.15 429.8,72.15 430.3,72.16 430.8,72.16 431.3,72.17 431.8,72.17 432.3,72.17 432.8,72.18 433.3,72.18 433.8,72.18 434.3,72.19 434.8,72.19 435.3,72.19 435.8,72.2 436.3,72.2 436.8,72.2 437.3,72.21 437.8,72.21 438.3,72.21 438.8,72.21 439.3,72.22 439.8,72.22 440.3,72.22 440.8,72.22 441.3,72.23 441.8,72.23 442.3,72.23 442.8,72.23 443.3,72.24 443.8,72.24 444.3,72.24 444.8,72.24 445.3,72.24 445.8,72.25 446.3,72.25 446.8,72.25 447.3,72.25 447.8,72.25 448.3,72.26 448.8,72.26 449.3,72.26 449.8,72.26 450.3,72.26 450.8,72.26 451.3,72.27 451.8,72.27 452.3,72.27 452.8,72.27 453.3,72.27 453.8,72.27 454.3,72.28 454.8,72.28 455.3,72.28 455.8,72.28 456.3,72.28 456.8,72.28 457.3,72.28 457.8,72.29 458.3,72.29 458.8,72.29 459.3,72.29 459.8,72.29 460.3,72.29 460.8,72.29 461.3,72.29 461.8,72.29 462.3,72.3 462.8,72.3 463.3,72.3 463.8,72.3 464.3,72.3 464.8,72.3 465.3,72.3 465.8,72.3 466.3,72.3 466.8,72.31 467.3,72.31 467.8,72.31 468.3,72.31 468.8,72.31 469.3,72.31 469.8,72.31 470.3,72.31 470.8,72.31 471.3,72.31 471.8,72.31 472.3,72.32 472.8,72.32 473.3,72.32 473.8,72.32 474.3,72.32 474.8,72.32 475.3,72.32 475.8,72.32 476.3,72.32 476.8,72.32 477.3,72.32 477.8,72.32 478.3,72.32 478.8,72.32 479.3,72.33 479.8,72.33 480.3,72.33 480.8,72.33 481.3,72.33 481.8,72.33 482.3,72.33 482.8,72.33 483.3,72.33 483.8,72.33 484.3,72.33 484.8,72.33 485.3,72.33 485.8,72.33 486.3,72.33 486.8,72.33 487.3,72.34 487.8,72.34 488.3,72.34 488.8,72.34 489.3,72.34 489.8,72.34 490.3,72.34 490.8,72.34 491.3,72.34 491.8,72.34 492.3,72.34 492.8,72.34 493.3,72.34 493.8,72.34 494.3,72.34 494.8,72.34 495.3,72.34 495.8,72.34 496.3,72.34 496.8,72.34 497.3,72.35 497.8,72.35 498.3,72.35 498.8,72.35 499.3,72.35 499.8,72.35 500.3,72.35 500.8,72.35 501.3,72.35 501.8,72.35 502.3,72.35 502.8,72.35 503.3,72.35 503.8,72.35 504.3,72.35 504.8,72.35 505.3,72.35 505.8,72.35 506.3,72.35 506.8,72.35 507.3,72.35 507.8,72.35 508.3,72.35 508.8,72.35 509.3,72.35 509.8,72.35 510.3,72.35 510.8,72.36 511.3,72.36 511.8,72.36 512.3,72.36 512.8,72.36 513.3,72.36 513.8,72.36 514.3,72.36 514.8,72.36 515.3,72.36 515.8,72.36 516.3,72.36 516.8,72.36 517.3,72.36 517.8,72.36 518.3,72.36 518.8,72.36 519.3,72.36 519.8,72.36 520.3,72.36 520.8,72.36 521.3,72.36 521.8,72.36 522.3,72.36 522.8,72.36 523.3,72.36 523.8,72.36 524.3,72.36 524.8,72.36 525.3,72.36 525.8,72.36 526.3,72.36 526.8,72.36 527.3,72.36 527.8,72.36 528.3,72.36 528.8,72.36 529.3,72.36 529.8,72.37 530.3,72.37 530.8,72.37 531.3,72.37 531.8,72.37 532.3,72.37 532.8,72.37 533.3,72.37 533.8,72.37 534.3,72.37 534.8,72.37 535.3,72.37 535.8,72.37 536.3,72.37" fill="none" stroke="#f0272d" stroke-width="1.4" stroke-linejoin="round" />
<polyline points="299.3,72.07 299.8,72.06 300.3,72.06 300.8,72.05 301.3,72.05 301.8,72.04 302.3,72.03 302.8,72.03 303.3,72.02 303.8,72.01 304.3,72.01 304.8,72 305.3,71.99 305.8,71.98 306.3,71.97 306.8,71.97 307.3,71.96 307.8,71.95 308.3,71.94 308.8,71.93 309.3,71.92 309.8,71.9 310.3,71.89 310.8,71.88 311.3,71.87 311.8,71.85 312.3,71.84 312.8,71.82 313.3,71.8 313.8,71.79 314.3,71.77 314.8,71.75 315.3,71.72 315.8,71.7 316.3,71.68 316.8,71.65 317.3,71.62 317.8,71.59 318.3,71.56 318.8,71.52 319.3,71.48 319.8,71.44 320.3,71.4 320.8,71.35 321.3,71.3 321.8,71.25 322.3,71.19 322.8,71.13 323.3,71.07 323.8,71 324.3,70.92 324.8,70.84 325.3,70.75 325.8,70.66 326.3,70.56 326.8,70.46 327.3,70.35 327.8,70.23 328.3,70.11 328.8,69.97 329.3,69.83 329.8,69.69 330.3,69.53 330.8,69.36 331.3,69.19 331.8,69 332.3,68.81 332.8,68.6 333.3,68.39 333.8,68.16 334.3,67.93 334.8,67.68 335.3,67.43 335.8,67.16 336.3,66.88 336.8,66.59 337.3,66.29 337.8,65.98 338.3,65.66 338.8,65.33 339.3,64.99 339.8,64.64 340.3,64.28 340.8,63.91 341.3,63.54 341.8,63.15 342.3,62.76 342.8,62.36 343.3,61.96 343.8,61.55 344.3,61.14 344.8,60.72 345.3,60.3 345.8,59.88 346.3,59.46 346.8,59.04 347.3,58.62 347.8,58.21 348.3,57.8 348.8,57.39 349.3,57 349.8,56.61 350.3,56.23 350.8,55.87 351.3,55.51 351.8,55.18 352.3,54.86 352.8,54.55 353.3,54.27 353.8,54.01 354.3,53.77 354.8,53.55 355.3,53.36 355.8,53.2 356.3,53.06 356.8,52.95 357.3,52.87 357.8,52.82 358.3,52.8 358.8,52.81 359.3,52.85 359.8,52.92 360.3,53.01 360.8,53.14 361.3,53.29 361.8,53.47 362.3,53.68 362.8,53.91 363.3,54.16 363.8,54.44 364.3,54.73 364.8,55.05 365.3,55.38 365.8,55.72 366.3,56.08 366.8,56.46 367.3,56.84 367.8,57.23 368.3,57.64 368.8,58.04 369.3,58.46 369.8,58.87 370.3,59.29 370.8,59.71 371.3,60.13 371.8,60.55 372.3,60.97 372.8,61.39 373.3,61.8 373.8,62.2 374.3,62.6 374.8,63 375.3,63.39 375.8,63.77 376.3,64.14 376.8,64.5 377.3,64.85 377.8,65.2 378.3,65.53 378.8,65.86 379.3,66.17 379.8,66.47 380.3,66.77 380.8,67.05 381.3,67.32 381.8,67.58 382.3,67.83 382.8,68.07 383.3,68.3 383.8,68.52 384.3,68.73 384.8,68.92 385.3,69.11 385.8,69.29 386.3,69.46 386.8,69.62 387.3,69.78 387.8,69.92 388.3,70.06 388.8,70.18 389.3,70.3 389.8,70.42 390.3,70.52 390.8,70.62 391.3,70.72 391.8,70.81 392.3,70.89 392.8,70.97 393.3,71.04 393.8,71.11 394.3,71.17 394.8,71.23 395.3,71.28 395.8,71.33 396.3,71.38 396.8,71.43 397.3,71.47 397.8,71.51 398.3,71.54 398.8,71.58 399.3,71.61 399.8,71.64 400.3,71.66 400.8,71.69 401.3,71.71 401.8,71.74 402.3,71.76 402.8,71.78 403.3,71.8 403.8,71.81 404.3,71.83 404.8,71.85 405.3,71.86 405.8,71.87 406.3,71.89 406.8,71.9 407.3,71.91 407.8,71.92 408.3,71.93 408.8,71.94 409.3,71.95 409.8,71.96 410.3,71.97 410.8,71.98 411.3,71.99 411.8,72 412.3,72 412.8,72.01 413.3,72.02 413.8,72.02 414.3,72.03 414.8,72.04 415.3,72.04 415.8,72.05 416.3,72.06 416.8,72.06 417.3,72.07 417.8,72.07 418.3,72.08 418.8,72.08 419.3,72.09 419.8,72.09 420.3,72.1 420.8,72.1 421.3,72.11 421.8,72.11 422.3,72.11 422.8,72.12 423.3,72.12 423.8,72.13 424.3,72.13 424.8,72.13 425.3,72.14 425.8,72.14 426.3,72.15 426.8,72.15 427.3,72.15 427.8,72.16 428.3,72.16 428.8,72.16 429.3,72.17 429.8,72.17 430.3,72.17 430.8,72.17 431.3,72.18 431.8,72.18 432.3,72.18 432.8,72.19 433.3,72.19 433.8,72.19 434.3,72.19 434.8,72.2 435.3,72.2 435.8,72.2 436.3,72.2 436.8,72.21 437.3,72.21 437.8,72.21 438.3,72.21 438.8,72.22 439.3,72.22 439.8,72.22 440.3,72.22 440.8,72.22 441.3,72.23 441.8,72.23 442.3,72.23 442.8,72.23 443.3,72.23 443.8,72.24 444.3,72.24 444.8,72.24 445.3,72.24 445.8,72.24 446.3,72.24 446.8,72.25 447.3,72.25 447.8,72.25 448.3,72.25 448.8,72.25 449.3,72.25 449.8,72.26 450.3,72.26 450.8,72.26 451.3,72.26 451.8,72.26 452.3,72.26 452.8,72.26 453.3,72.27 453.8,72.27 454.3,72.27 454.8,72.27 455.3,72.27 455.8,72.27 456.3,72.27 456.8,72.28 457.3,72.28 457.8,72.28 458.3,72.28 458.8,72.28 459.3,72.28 459.8,72.28 460.3,72.28 460.8,72.28 461.3,72.29 461.8,72.29 462.3,72.29 462.8,72.29 463.3,72.29 463.8,72.29 464.3,72.29 464.8,72.29 465.3,72.29 465.8,72.29 466.3,72.3 466.8,72.3 467.3,72.3 467.8,72.3 468.3,72.3 468.8,72.3 469.3,72.3 469.8,72.3 470.3,72.3 470.8,72.3 471.3,72.3 471.8,72.31 472.3,72.31 472.8,72.31 473.3,72.31 473.8,72.31 474.3,72.31 474.8,72.31 475.3,72.31 475.8,72.31 476.3,72.31 476.8,72.31 477.3,72.31 477.8,72.31 478.3,72.32 478.8,72.32 479.3,72.32 479.8,72.32 480.3,72.32 480.8,72.32 481.3,72.32 481.8,72.32 482.3,72.32 482.8,72.32 483.3,72.32 483.8,72.32 484.3,72.32 484.8,72.32 485.3,72.32 485.8,72.32 486.3,72.33 486.8,72.33 487.3,72.33 487.8,72.33 488.3,72.33 488.8,72.33 489.3,72.33 489.8,72.33 490.3,72.33 490.8,72.33 491.3,72.33 491.8,72.33 492.3,72.33 492.8,72.33 493.3,72.33 493.8,72.33 494.3,72.33 494.8,72.33 495.3,72.33 495.8,72.34 496.3,72.34 496.8,72.34 497.3,72.34 497.8,72.34 498.3,72.34 498.8,72.34 499.3,72.34 499.8,72.34 500.3,72.34 500.8,72.34 501.3,72.34 501.8,72.34 502.3,72.34 502.8,72.34 503.3,72.34 503.8,72.34 504.3,72.34 504.8,72.34 505.3,72.34 505.8,72.34 506.3,72.34 506.8,72.34 507.3,72.34 507.8,72.35 508.3,72.35 508.8,72.35 509.3,72.35 509.8,72.35 510.3,72.35 510.8,72.35 511.3,72.35 511.8,72.35 512.3,72.35 512.8,72.35 513.3,72.35 513.8,72.35 514.3,72.35 514.8,72.35 515.3,72.35 515.8,72.35 516.3,72.35 516.8,72.35 517.3,72.35 517.8,72.35 518.3,72.35 518.8,72.35 519.3,72.35 519.8,72.35 520.3,72.35 520.8,72.35 521.3,72.35 521.8,72.35 522.3,72.35 522.8,72.35 523.3,72.35 523.8,72.36 524.3,72.36 524.8,72.36 525.3,72.36 525.8,72.36 526.3,72.36 526.8,72.36 527.3,72.36 527.8,72.36 528.3,72.36 528.8,72.36 529.3,72.36 529.8,72.36 530.3,72.36 530.8,72.36 531.3,72.36 531.8,72.36 532.3,72.36 532.8,72.36 533.3,72.36 533.8,72.36 534.3,72.36 534.8,72.36 535.3,72.36 535.8,72.36 536.3,72.36" fill="none" stroke="#2fb063" stroke-width="1.4" stroke-linejoin="round" />
<polyline points="299.3,71.1 299.8,71.1 300.3,71.1 300.8,71.1 301.3,71.1 301.8,71.1 302.3,71.1 302.8,71.1 303.3,71.1 303.8,71.1 304.3,71.1 304.8,71.1 305.3,71.1 305.8,71.1 306.3,71.1 306.8,71.1 307.3,71.1 307.8,71.1 308.3,71.1 308.8,71.1 309.3,71.1 309.8,71.1 310.3,71.1 310.8,71.1 311.3,71.1 311.8,71.1 312.3,71.1 312.8,71.1 313.3,71.1 313.8,71.1 314.3,71.1 314.8,71.1 315.3,71.1 315.8,71.1 316.3,71.1 316.8,71.1 317.3,71.1 317.8,71.1 318.3,71.1 318.8,71.1 319.3,71.1 319.8,71.1 320.3,71.1 320.8,71.1 321.3,71.1 321.8,71.1 322.3,71.1 322.8,71.1 323.3,71.1 323.8,71.1 324.3,71.1 324.8,71.1 325.3,71.1 325.8,71.1 326.3,71.1 326.8,71.1 327.3,71.1 327.8,71.1 328.3,71.1 328.8,71.1 329.3,71.1 329.8,71.1 330.3,71.1 330.8,71.1 331.3,71.1 331.8,71.1 332.3,71.1 332.8,71.1 333.3,71.1 333.8,71.1 334.3,71.1 334.8,71.1 335.3,71.1 335.8,71.1 336.3,71.1 336.8,71.1 337.3,71.1 337.8,71.1 338.3,71.1 338.8,71.1 339.3,71.1 339.8,71.1 340.3,71.1 340.8,71.1 341.3,71.1 341.8,71.1 342.3,71.1 342.8,71.1 343.3,71.1 343.8,71.1 344.3,71.1 344.8,71.1 345.3,71.1 345.8,71.1 346.3,71.1 346.8,71.1 347.3,71.1 347.8,71.1 348.3,71.1 348.8,71.1 349.3,71.1 349.8,71.1 350.3,71.1 350.8,71.1 351.3,71.1 351.8,71.1 352.3,71.1 352.8,71.1 353.3,71.1 353.8,71.1 354.3,71.1 354.8,71.1 355.3,71.1 355.8,71.1 356.3,71.1 356.8,71.1 357.3,71.1 357.8,71.1 358.3,71.1 358.8,71.1 359.3,71.1 359.8,71.1 360.3,71.1 360.8,71.1 361.3,71.1 361.8,71.1 362.3,71.1 362.8,71.1 363.3,71.1 363.8,71.1 364.3,71.1 364.8,71.1 365.3,71.1 365.8,71.1 366.3,71.1 366.8,71.1 367.3,71.1 367.8,71.1 368.3,71.1 368.8,71.1 369.3,71.1 369.8,71.1 370.3,71.1 370.8,71.1 371.3,71.1 371.8,71.1 372.3,71.1 372.8,71.1 373.3,71.1 373.8,71.1 374.3,71.1 374.8,71.1 375.3,71.1 375.8,71.1 376.3,71.1 376.8,71.1 377.3,71.1 377.8,71.1 378.3,71.1 378.8,71.1 379.3,71.1 379.8,71.1 380.3,71.1 380.8,71.1 381.3,71.1 381.8,71.1 382.3,71.1 382.8,71.1 383.3,71.1 383.8,71.1 384.3,71.1 384.8,71.1 385.3,71.1 385.8,71.1 386.3,71.1 386.8,71.1 387.3,71.1 387.8,71.1 388.3,71.1 388.8,71.1 389.3,71.1 389.8,71.1 390.3,71.1 390.8,71.1 391.3,71.1 391.8,71.1 392.3,71.1 392.8,71.1 393.3,71.1 393.8,71.1 394.3,71.1 394.8,71.1 395.3,71.1 395.8,71.1 396.3,71.1 396.8,71.1 397.3,71.1 397.8,71.1 398.3,71.1 398.8,71.1 399.3,71.1 399.8,71.1 400.3,71.1 400.8,71.1 401.3,71.1 401.8,71.1 402.3,71.1 402.8,71.1 403.3,71.1 403.8,71.1 404.3,71.1 404.8,71.1 405.3,71.1 405.8,71.1 406.3,71.1 406.8,71.1 407.3,71.1 407.8,71.1 408.3,71.1 408.8,71.1 409.3,71.1 409.8,71.1 410.3,71.1 410.8,71.1 411.3,71.1 411.8,71.1 412.3,71.1 412.8,71.1 413.3,71.1 413.8,71.1 414.3,71.1 414.8,71.1 415.3,71.1 415.8,71.1 416.3,71.1 416.8,71.1 417.3,71.1 417.8,71.1 418.3,71.1 418.8,71.1 419.3,71.1 419.8,71.1 420.3,71.1 420.8,71.1 421.3,71.1 421.8,71.1 422.3,71.1 422.8,71.1 423.3,71.1 423.8,71.1 424.3,71.1 424.8,71.1 425.3,71.1 425.8,71.1 426.3,71.1 426.8,71.1 427.3,71.1 427.8,71.1 428.3,71.1 428.8,71.1 429.3,71.1 429.8,71.1 430.3,71.1 430.8,71.1 431.3,71.1 431.8,71.1 432.3,71.1 432.8,71.1 433.3,71.1 433.8,71.1 434.3,71.1 434.8,71.1 435.3,71.1 435.8,71.1 436.3,71.1 436.8,71.1 437.3,71.1 437.8,71.1 438.3,71.1 438.8,71.1 439.3,71.1 439.8,71.1 440.3,71.1 440.8,71.1 441.3,71.1 441.8,71.1 442.3,71.1 442.8,71.1 443.3,71.1 443.8,71.1 444.3,71.1 444.8,71.1 445.3,71.1 445.8,71.1 446.3,71.1 446.8,71.1 447.3,71.1 447.8,71.1 448.3,71.1 448.8,71.1 449.3,71.1 449.8,71.1 450.3,71.1 450.8,71.1 451.3,71.1 451.8,71.1 452.3,71.1 452.8,71.1 453.3,71.1 453.8,71.1 454.3,71.1 454.8,71.1 455.3,71.1 455.8,71.1 456.3,71.1 456.8,71.1 457.3,71.1 457.8,71.1 458.3,71.1 458.8,71.1 459.3,71.1 459.8,71.1 460.3,71.1 460.8,71.1 461.3,71.1 461.8,71.1 462.3,71.1 462.8,71.1 463.3,71.1 463.8,71.1 464.3,71.1 464.8,71.1 465.3,71.1 465.8,71.1 466.3,71.1 466.8,71.1 467.3,71.1 467.8,71.1 468.3,71.1 468.8,71.1 469.3,71.1 469.8,71.1 470.3,71.1 470.8,71.1 471.3,71.1 471.8,71.1 472.3,71.1 472.8,71.1 473.3,71.1 473.8,71.1 474.3,71.1 474.8,71.1 475.3,71.1 475.8,71.1 476.3,71.1 476.8,71.1 477.3,71.1 477.8,71.1 478.3,71.1 478.8,71.1 479.3,71.1 479.8,71.1 480.3,71.1 480.8,71.1 481.3,71.1 481.8,71.1 482.3,71.1 482.8,71.1 483.3,71.1 483.8,71.1 484.3,71.1 484.8,71.1 485.3,71.1 485.8,71.1 486.3,71.1 486.8,71.1 487.3,71.1 487.8,71.1 488.3,71.1 488.8,71.1 489.3,71.1 489.8,71.1 490.3,71.1 490.8,71.1 491.3,71.1 491.8,71.1 492.3,71.1 492.8,71.1 493.3,71.1 493.8,71.1 494.3,71.1 494.8,71.1 495.3,71.1 495.8,71.1 496.3,71.1 496.8,71.1 497.3,71.1 497.8,71.1 498.3,71.1 498.8,71.1 499.3,71.1 499.8,71.1 500.3,71.1 500.8,71.1 501.3,71.1 501.8,71.1 502.3,71.1 502.8,71.1 503.3,71.1 503.8,71.1 504.3,71.1 504.8,71.1 505.3,71.1 505.8,71.1 506.3,71.1 506.8,71.1 507.3,71.1 507.8,71.1 508.3,71.1 508.8,71.1 509.3,71.1 509.8,71.1 510.3,71.1 510.8,71.1 511.3,71.1 511.8,71.1 512.3,71.1 512.8,71.1 513.3,71.1 513.8,71.1 514.3,71.1 514.8,71.1 515.3,71.1 515.8,71.1 516.3,71.1 516.8,71.1 517.3,71.1 517.8,71.1 518.3,71.1 518.8,71.1 519.3,71.1 519.8,71.1 520.3,71.1 520.8,71.1 521.3,71.1 521.8,71.1 522.3,71.1 522.8,71.1 523.3,71.1 523.8,71.1 524.3,71.1 524.8,71.1 525.3,71.1 525.8,71.1 526.3,71.1 526.8,71.1 527.3,71.1 527.8,71.1 528.3,71.1 528.8,71.1 529.3,71.1 529.8,71.1 530.3,71.1 530.8,71.1 531.3,71.1 531.8,71.1 532.3,71.1 532.8,71.1 533.3,71.1 533.8,71.1 534.3,71.1 534.8,71.1 535.3,71.1 535.8,71.1 536.3,71.1" fill="none" stroke="#1f6fe6" stroke-width="1.2" stroke-linejoin="round" />
<path d="M298.35,70.81a1.95,1.95 0 1,0 3.9,0a1.95,1.95 0 1,0 -3.9,0M300.95,71.1a1.95,1.95 0 1,0 3.9,0a1.95,1.95 0 1,0 -3.9,0M303.55,70.95a1.95,1.95 0 1,0 3.9,0a1.95,1.95 0 1,0 -3.9,0M306.15,70.85a1.95,1.95 0 1,0 3.9,0a1.95,1.95 0 1,0 -3.9,0M308.75,71.06a1.95,1.95 0 1,0 3.9,0a1.95,1.95 0 1,0 -3.9,0M311.35,70.78a1.95,1.95 0 1,0 3.9,0a1.95,1.95 0 1,0 -3.9,0M313.95,70.58a1.95,1.95 0 1,0 3.9,0a1.95,1.95 0 1,0 -3.9,0M316.55,70.82a1.95,1.95 0 1,0 3.9,0a1.95,1.95 0 1,0 -3.9,0M319.15,70.1a1.95,1.95 0 1,0 3.9,0a1.95,1.95 0 1,0 -3.9,0M321.75,69.59a1.95,1.95 0 1,0 3.9,0a1.95,1.95 0 1,0 -3.9,0M324.35,69.06a1.95,1.95 0 1,0 3.9,0a1.95,1.95 0 1,0 -3.9,0M326.95,68.52a1.95,1.95 0 1,0 3.9,0a1.95,1.95 0 1,0 -3.9,0M329.55,67.8a1.95,1.95 0 1,0 3.9,0a1.95,1.95 0 1,0 -3.9,0M332.15,66.58a1.95,1.95 0 1,0 3.9,0a1.95,1.95 0 1,0 -3.9,0M334.75,65.03a1.95,1.95 0 1,0 3.9,0a1.95,1.95 0 1,0 -3.9,0M337.35,63.21a1.95,1.95 0 1,0 3.9,0a1.95,1.95 0 1,0 -3.9,0M339.95,60.85a1.95,1.95 0 1,0 3.9,0a1.95,1.95 0 1,0 -3.9,0M342.55,58.01a1.95,1.95 0 1,0 3.9,0a1.95,1.95 0 1,0 -3.9,0M345.15,55.32a1.95,1.95 0 1,0 3.9,0a1.95,1.95 0 1,0 -3.9,0M347.75,52.3a1.95,1.95 0 1,0 3.9,0a1.95,1.95 0 1,0 -3.9,0M350.35,49.31a1.95,1.95 0 1,0 3.9,0a1.95,1.95 0 1,0 -3.9,0M352.95,47.22a1.95,1.95 0 1,0 3.9,0a1.95,1.95 0 1,0 -3.9,0M355.55,45.3a1.95,1.95 0 1,0 3.9,0a1.95,1.95 0 1,0 -3.9,0M358.15,44.25a1.95,1.95 0 1,0 3.9,0a1.95,1.95 0 1,0 -3.9,0M360.75,44.51a1.95,1.95 0 1,0 3.9,0a1.95,1.95 0 1,0 -3.9,0M363.35,44.82a1.95,1.95 0 1,0 3.9,0a1.95,1.95 0 1,0 -3.9,0M365.95,45.77a1.95,1.95 0 1,0 3.9,0a1.95,1.95 0 1,0 -3.9,0M368.55,47.55a1.95,1.95 0 1,0 3.9,0a1.95,1.95 0 1,0 -3.9,0M371.15,50.13a1.95,1.95 0 1,0 3.9,0a1.95,1.95 0 1,0 -3.9,0M373.75,51.95a1.95,1.95 0 1,0 3.9,0a1.95,1.95 0 1,0 -3.9,0M376.35,54.6a1.95,1.95 0 1,0 3.9,0a1.95,1.95 0 1,0 -3.9,0M378.95,57.01a1.95,1.95 0 1,0 3.9,0a1.95,1.95 0 1,0 -3.9,0M381.55,59.31a1.95,1.95 0 1,0 3.9,0a1.95,1.95 0 1,0 -3.9,0M384.15,61.44a1.95,1.95 0 1,0 3.9,0a1.95,1.95 0 1,0 -3.9,0M386.75,63.11a1.95,1.95 0 1,0 3.9,0a1.95,1.95 0 1,0 -3.9,0M389.35,64.73a1.95,1.95 0 1,0 3.9,0a1.95,1.95 0 1,0 -3.9,0M391.95,66.16a1.95,1.95 0 1,0 3.9,0a1.95,1.95 0 1,0 -3.9,0M394.55,67.25a1.95,1.95 0 1,0 3.9,0a1.95,1.95 0 1,0 -3.9,0M397.15,68.39a1.95,1.95 0 1,0 3.9,0a1.95,1.95 0 1,0 -3.9,0M399.75,69.26a1.95,1.95 0 1,0 3.9,0a1.95,1.95 0 1,0 -3.9,0M402.35,69.33a1.95,1.95 0 1,0 3.9,0a1.95,1.95 0 1,0 -3.9,0M404.95,70.05a1.95,1.95 0 1,0 3.9,0a1.95,1.95 0 1,0 -3.9,0M407.55,70.06a1.95,1.95 0 1,0 3.9,0a1.95,1.95 0 1,0 -3.9,0M410.15,70.36a1.95,1.95 0 1,0 3.9,0a1.95,1.95 0 1,0 -3.9,0M412.75,70.63a1.95,1.95 0 1,0 3.9,0a1.95,1.95 0 1,0 -3.9,0M415.35,70.83a1.95,1.95 0 1,0 3.9,0a1.95,1.95 0 1,0 -3.9,0M417.95,70.82a1.95,1.95 0 1,0 3.9,0a1.95,1.95 0 1,0 -3.9,0M420.55,70.46a1.95,1.95 0 1,0 3.9,0a1.95,1.95 0 1,0 -3.9,0M423.15,71.33a1.95,1.95 0 1,0 3.9,0a1.95,1.95 0 1,0 -3.9,0M425.75,71.04a1.95,1.95 0 1,0 3.9,0a1.95,1.95 0 1,0 -3.9,0M428.35,71.01a1.95,1.95 0 1,0 3.9,0a1.95,1.95 0 1,0 -3.9,0M430.95,71.31a1.95,1.95 0 1,0 3.9,0a1.95,1.95 0 1,0 -3.9,0M433.55,71.09a1.95,1.95 0 1,0 3.9,0a1.95,1.95 0 1,0 -3.9,0M436.15,70.94a1.95,1.95 0 1,0 3.9,0a1.95,1.95 0 1,0 -3.9,0M438.75,71.36a1.95,1.95 0 1,0 3.9,0a1.95,1.95 0 1,0 -3.9,0M441.35,71.37a1.95,1.95 0 1,0 3.9,0a1.95,1.95 0 1,0 -3.9,0M443.95,71.13a1.95,1.95 0 1,0 3.9,0a1.95,1.95 0 1,0 -3.9,0M446.55,71.49a1.95,1.95 0 1,0 3.9,0a1.95,1.95 0 1,0 -3.9,0M449.15,71.41a1.95,1.95 0 1,0 3.9,0a1.95,1.95 0 1,0 -3.9,0M451.75,71.12a1.95,1.95 0 1,0 3.9,0a1.95,1.95 0 1,0 -3.9,0M454.35,71.72a1.95,1.95 0 1,0 3.9,0a1.95,1.95 0 1,0 -3.9,0M456.95,71.43a1.95,1.95 0 1,0 3.9,0a1.95,1.95 0 1,0 -3.9,0M459.55,71.16a1.95,1.95 0 1,0 3.9,0a1.95,1.95 0 1,0 -3.9,0M462.15,71.49a1.95,1.95 0 1,0 3.9,0a1.95,1.95 0 1,0 -3.9,0M464.75,71.44a1.95,1.95 0 1,0 3.9,0a1.95,1.95 0 1,0 -3.9,0M467.35,71.62a1.95,1.95 0 1,0 3.9,0a1.95,1.95 0 1,0 -3.9,0M469.95,71.16a1.95,1.95 0 1,0 3.9,0a1.95,1.95 0 1,0 -3.9,0M472.55,71.65a1.95,1.95 0 1,0 3.9,0a1.95,1.95 0 1,0 -3.9,0M475.15,71.64a1.95,1.95 0 1,0 3.9,0a1.95,1.95 0 1,0 -3.9,0M477.75,71.6a1.95,1.95 0 1,0 3.9,0a1.95,1.95 0 1,0 -3.9,0M480.35,71.58a1.95,1.95 0 1,0 3.9,0a1.95,1.95 0 1,0 -3.9,0M482.95,71.73a1.95,1.95 0 1,0 3.9,0a1.95,1.95 0 1,0 -3.9,0M485.55,71.62a1.95,1.95 0 1,0 3.9,0a1.95,1.95 0 1,0 -3.9,0M488.15,71.5a1.95,1.95 0 1,0 3.9,0a1.95,1.95 0 1,0 -3.9,0M490.75,71.31a1.95,1.95 0 1,0 3.9,0a1.95,1.95 0 1,0 -3.9,0M493.35,71.71a1.95,1.95 0 1,0 3.9,0a1.95,1.95 0 1,0 -3.9,0M495.95,71.69a1.95,1.95 0 1,0 3.9,0a1.95,1.95 0 1,0 -3.9,0M498.55,71.56a1.95,1.95 0 1,0 3.9,0a1.95,1.95 0 1,0 -3.9,0M501.15,71.53a1.95,1.95 0 1,0 3.9,0a1.95,1.95 0 1,0 -3.9,0M503.75,71.65a1.95,1.95 0 1,0 3.9,0a1.95,1.95 0 1,0 -3.9,0M506.35,71a1.95,1.95 0 1,0 3.9,0a1.95,1.95 0 1,0 -3.9,0M508.95,71.58a1.95,1.95 0 1,0 3.9,0a1.95,1.95 0 1,0 -3.9,0M511.55,71.01a1.95,1.95 0 1,0 3.9,0a1.95,1.95 0 1,0 -3.9,0M514.15,71.57a1.95,1.95 0 1,0 3.9,0a1.95,1.95 0 1,0 -3.9,0M516.75,71.74a1.95,1.95 0 1,0 3.9,0a1.95,1.95 0 1,0 -3.9,0M519.35,71.91a1.95,1.95 0 1,0 3.9,0a1.95,1.95 0 1,0 -3.9,0M521.95,71.43a1.95,1.95 0 1,0 3.9,0a1.95,1.95 0 1,0 -3.9,0M524.55,71.62a1.95,1.95 0 1,0 3.9,0a1.95,1.95 0 1,0 -3.9,0M527.15,71.52a1.95,1.95 0 1,0 3.9,0a1.95,1.95 0 1,0 -3.9,0M529.75,71.08a1.95,1.95 0 1,0 3.9,0a1.95,1.95 0 1,0 -3.9,0M532.35,71.69a1.95,1.95 0 1,0 3.9,0a1.95,1.95 0 1,0 -3.9,0" fill="none" stroke="#666" stroke-width="0.65"/>
<line x1="312.54" y1="73.5" x2="312.54" y2="70.5" stroke="#000" stroke-width="1.1"/>
<line x1="340.62" y1="73.5" x2="340.62" y2="70.5" stroke="#000" stroke-width="1.1"/>
<line x1="368.71" y1="73.5" x2="368.71" y2="70.5" stroke="#000" stroke-width="1.1"/>
<line x1="396.79" y1="73.5" x2="396.79" y2="70.5" stroke="#000" stroke-width="1.1"/>
<line x1="424.87" y1="73.5" x2="424.87" y2="70.5" stroke="#000" stroke-width="1.1"/>
<line x1="452.95" y1="73.5" x2="452.95" y2="70.5" stroke="#000" stroke-width="1.1"/>
<line x1="481.04" y1="73.5" x2="481.04" y2="70.5" stroke="#000" stroke-width="1.1"/>
<line x1="509.12" y1="73.5" x2="509.12" y2="70.5" stroke="#000" stroke-width="1.1"/>
<line x1="298.5" y1="73.5" x2="537.2" y2="73.5" stroke="#000" stroke-width="1.3"/>
<polyline points="299.3,104.84 299.8,104.84 300.3,104.83 300.8,104.82 301.3,104.82 301.8,104.81 302.3,104.8 302.8,104.79 303.3,104.79 303.8,104.78 304.3,104.77 304.8,104.76 305.3,104.75 305.8,104.74 306.3,104.73 306.8,104.73 307.3,104.72 307.8,104.71 308.3,104.7 308.8,104.68 309.3,104.67 309.8,104.66 310.3,104.65 310.8,104.64 311.3,104.62 311.8,104.61 312.3,104.6 312.8,104.58 313.3,104.57 313.8,104.55 314.3,104.53 314.8,104.52 315.3,104.5 315.8,104.48 316.3,104.46 316.8,104.44 317.3,104.41 317.8,104.39 318.3,104.36 318.8,104.34 319.3,104.31 319.8,104.28 320.3,104.24 320.8,104.21 321.3,104.17 321.8,104.13 322.3,104.09 322.8,104.04 323.3,103.99 323.8,103.94 324.3,103.89 324.8,103.83 325.3,103.76 325.8,103.7 326.3,103.62 326.8,103.55 327.3,103.46 327.8,103.37 328.3,103.28 328.8,103.18 329.3,103.07 329.8,102.96 330.3,102.84 330.8,102.71 331.3,102.57 331.8,102.42 332.3,102.27 332.8,102.1 333.3,101.93 333.8,101.74 334.3,101.55 334.8,101.34 335.3,101.12 335.8,100.89 336.3,100.65 336.8,100.4 337.3,100.13 337.8,99.85 338.3,99.56 338.8,99.26 339.3,98.94 339.8,98.6 340.3,98.26 340.8,97.9 341.3,97.52 341.8,97.13 342.3,96.73 342.8,96.31 343.3,95.89 343.8,95.44 344.3,94.99 344.8,94.52 345.3,94.04 345.8,93.54 346.3,93.04 346.8,92.52 347.3,92 347.8,91.46 348.3,90.92 348.8,90.37 349.3,89.81 349.8,89.25 350.3,88.68 350.8,88.11 351.3,87.54 351.8,86.96 352.3,86.39 352.8,85.82 353.3,85.25 353.8,84.69 354.3,84.13 354.8,83.58 355.3,83.05 355.8,82.52 356.3,82.01 356.8,81.51 357.3,81.03 357.8,80.57 358.3,80.13 358.8,79.71 359.3,79.32 359.8,78.95 360.3,78.6 360.8,78.28 361.3,77.99 361.8,77.73 362.3,77.5 362.8,77.3 363.3,77.12 363.8,76.98 364.3,76.87 364.8,76.78 365.3,76.73 365.8,76.71 366.3,76.71 366.8,76.74 367.3,76.8 367.8,76.89 368.3,77 368.8,77.14 369.3,77.3 369.8,77.49 370.3,77.7 370.8,77.93 371.3,78.18 371.8,78.45 372.3,78.75 372.8,79.06 373.3,79.39 373.8,79.74 374.3,80.1 374.8,80.48 375.3,80.88 375.8,81.29 376.3,81.71 376.8,82.14 377.3,82.59 377.8,83.04 378.3,83.5 378.8,83.98 379.3,84.45 379.8,84.94 380.3,85.42 380.8,85.92 381.3,86.41 381.8,86.9 382.3,87.4 382.8,87.89 383.3,88.39 383.8,88.88 384.3,89.37 384.8,89.85 385.3,90.33 385.8,90.81 386.3,91.28 386.8,91.74 387.3,92.19 387.8,92.64 388.3,93.08 388.8,93.51 389.3,93.94 389.8,94.35 390.3,94.76 390.8,95.15 391.3,95.54 391.8,95.91 392.3,96.28 392.8,96.64 393.3,96.98 393.8,97.32 394.3,97.65 394.8,97.96 395.3,98.27 395.8,98.57 396.3,98.85 396.8,99.13 397.3,99.4 397.8,99.65 398.3,99.9 398.8,100.14 399.3,100.37 399.8,100.59 400.3,100.8 400.8,101 401.3,101.2 401.8,101.38 402.3,101.56 402.8,101.73 403.3,101.89 403.8,102.05 404.3,102.2 404.8,102.34 405.3,102.47 405.8,102.6 406.3,102.72 406.8,102.84 407.3,102.95 407.8,103.05 408.3,103.15 408.8,103.24 409.3,103.33 409.8,103.42 410.3,103.5 410.8,103.57 411.3,103.64 411.8,103.71 412.3,103.77 412.8,103.83 413.3,103.89 413.8,103.94 414.3,104 414.8,104.04 415.3,104.09 415.8,104.13 416.3,104.17 416.8,104.21 417.3,104.25 417.8,104.28 418.3,104.31 418.8,104.34 419.3,104.37 419.8,104.4 420.3,104.42 420.8,104.45 421.3,104.47 421.8,104.49 422.3,104.51 422.8,104.53 423.3,104.55 423.8,104.57 424.3,104.59 424.8,104.6 425.3,104.62 425.8,104.63 426.3,104.65 426.8,104.66 427.3,104.67 427.8,104.68 428.3,104.7 428.8,104.71 429.3,104.72 429.8,104.73 430.3,104.74 430.8,104.75 431.3,104.76 431.8,104.77 432.3,104.78 432.8,104.78 433.3,104.79 433.8,104.8 434.3,104.81 434.8,104.82 435.3,104.82 435.8,104.83 436.3,104.84 436.8,104.84 437.3,104.85 437.8,104.86 438.3,104.86 438.8,104.87 439.3,104.88 439.8,104.88 440.3,104.89 440.8,104.89 441.3,104.9 441.8,104.9 442.3,104.91 442.8,104.91 443.3,104.92 443.8,104.92 444.3,104.93 444.8,104.93 445.3,104.94 445.8,104.94 446.3,104.95 446.8,104.95 447.3,104.96 447.8,104.96 448.3,104.96 448.8,104.97 449.3,104.97 449.8,104.98 450.3,104.98 450.8,104.98 451.3,104.99 451.8,104.99 452.3,104.99 452.8,105 453.3,105 453.8,105 454.3,105.01 454.8,105.01 455.3,105.01 455.8,105.02 456.3,105.02 456.8,105.02 457.3,105.03 457.8,105.03 458.3,105.03 458.8,105.04 459.3,105.04 459.8,105.04 460.3,105.04 460.8,105.05 461.3,105.05 461.8,105.05 462.3,105.05 462.8,105.06 463.3,105.06 463.8,105.06 464.3,105.06 464.8,105.07 465.3,105.07 465.8,105.07 466.3,105.07 466.8,105.08 467.3,105.08 467.8,105.08 468.3,105.08 468.8,105.08 469.3,105.09 469.8,105.09 470.3,105.09 470.8,105.09 471.3,105.09 471.8,105.1 472.3,105.1 472.8,105.1 473.3,105.1 473.8,105.1 474.3,105.11 474.8,105.11 475.3,105.11 475.8,105.11 476.3,105.11 476.8,105.11 477.3,105.12 477.8,105.12 478.3,105.12 478.8,105.12 479.3,105.12 479.8,105.12 480.3,105.13 480.8,105.13 481.3,105.13 481.8,105.13 482.3,105.13 482.8,105.13 483.3,105.13 483.8,105.14 484.3,105.14 484.8,105.14 485.3,105.14 485.8,105.14 486.3,105.14 486.8,105.14 487.3,105.15 487.8,105.15 488.3,105.15 488.8,105.15 489.3,105.15 489.8,105.15 490.3,105.15 490.8,105.15 491.3,105.16 491.8,105.16 492.3,105.16 492.8,105.16 493.3,105.16 493.8,105.16 494.3,105.16 494.8,105.16 495.3,105.16 495.8,105.17 496.3,105.17 496.8,105.17 497.3,105.17 497.8,105.17 498.3,105.17 498.8,105.17 499.3,105.17 499.8,105.17 500.3,105.17 500.8,105.18 501.3,105.18 501.8,105.18 502.3,105.18 502.8,105.18 503.3,105.18 503.8,105.18 504.3,105.18 504.8,105.18 505.3,105.18 505.8,105.18 506.3,105.18 506.8,105.19 507.3,105.19 507.8,105.19 508.3,105.19 508.8,105.19 509.3,105.19 509.8,105.19 510.3,105.19 510.8,105.19 511.3,105.19 511.8,105.19 512.3,105.19 512.8,105.19 513.3,105.2 513.8,105.2 514.3,105.2 514.8,105.2 515.3,105.2 515.8,105.2 516.3,105.2 516.8,105.2 517.3,105.2 517.8,105.2 518.3,105.2 518.8,105.2 519.3,105.2 519.8,105.2 520.3,105.2 520.8,105.21 521.3,105.21 521.8,105.21 522.3,105.21 522.8,105.21 523.3,105.21 523.8,105.21 524.3,105.21 524.8,105.21 525.3,105.21 525.8,105.21 526.3,105.21 526.8,105.21 527.3,105.21 527.8,105.21 528.3,105.21 528.8,105.21 529.3,105.22 529.8,105.22 530.3,105.22 530.8,105.22 531.3,105.22 531.8,105.22 532.3,105.22 532.8,105.22 533.3,105.22 533.8,105.22 534.3,105.22 534.8,105.22 535.3,105.22 535.8,105.22 536.3,105.22" fill="none" stroke="#3a3a3a" stroke-width="1.0" stroke-linejoin="round" />
<polyline points="299.3,105.93 299.8,105.93 300.3,105.93 300.8,105.93 301.3,105.92 301.8,105.92 302.3,105.92 302.8,105.92 303.3,105.91 303.8,105.91 304.3,105.91 304.8,105.91 305.3,105.9 305.8,105.9 306.3,105.9 306.8,105.9 307.3,105.89 307.8,105.89 308.3,105.89 308.8,105.88 309.3,105.88 309.8,105.88 310.3,105.87 310.8,105.87 311.3,105.87 311.8,105.86 312.3,105.86 312.8,105.86 313.3,105.85 313.8,105.85 314.3,105.85 314.8,105.84 315.3,105.84 315.8,105.83 316.3,105.83 316.8,105.82 317.3,105.82 317.8,105.81 318.3,105.81 318.8,105.8 319.3,105.8 319.8,105.79 320.3,105.78 320.8,105.78 321.3,105.77 321.8,105.76 322.3,105.76 322.8,105.75 323.3,105.74 323.8,105.73 324.3,105.72 324.8,105.71 325.3,105.7 325.8,105.69 326.3,105.68 326.8,105.67 327.3,105.65 327.8,105.64 328.3,105.63 328.8,105.61 329.3,105.59 329.8,105.58 330.3,105.56 330.8,105.54 331.3,105.52 331.8,105.49 332.3,105.47 332.8,105.45 333.3,105.42 333.8,105.39 334.3,105.36 334.8,105.33 335.3,105.29 335.8,105.26 336.3,105.22 336.8,105.17 337.3,105.13 337.8,105.08 338.3,105.03 338.8,104.98 339.3,104.92 339.8,104.87 340.3,104.8 340.8,104.74 341.3,104.67 341.8,104.59 342.3,104.51 342.8,104.43 343.3,104.34 343.8,104.25 344.3,104.16 344.8,104.06 345.3,103.95 345.8,103.84 346.3,103.72 346.8,103.6 347.3,103.47 347.8,103.34 348.3,103.2 348.8,103.06 349.3,102.91 349.8,102.75 350.3,102.59 350.8,102.43 351.3,102.25 351.8,102.07 352.3,101.89 352.8,101.7 353.3,101.5 353.8,101.3 354.3,101.1 354.8,100.89 355.3,100.67 355.8,100.45 356.3,100.22 356.8,99.99 357.3,99.76 357.8,99.52 358.3,99.28 358.8,99.04 359.3,98.79 359.8,98.54 360.3,98.29 360.8,98.04 361.3,97.78 361.8,97.53 362.3,97.28 362.8,97.03 363.3,96.77 363.8,96.53 364.3,96.28 364.8,96.04 365.3,95.8 365.8,95.57 366.3,95.34 366.8,95.12 367.3,94.9 367.8,94.7 368.3,94.5 368.8,94.31 369.3,94.13 369.8,93.96 370.3,93.8 370.8,93.66 371.3,93.53 371.8,93.41 372.3,93.31 372.8,93.22 373.3,93.14 373.8,93.08 374.3,93.04 374.8,93.01 375.3,93 375.8,93.01 376.3,93.03 376.8,93.06 377.3,93.12 377.8,93.18 378.3,93.27 378.8,93.37 379.3,93.48 379.8,93.61 380.3,93.74 380.8,93.9 381.3,94.06 381.8,94.23 382.3,94.42 382.8,94.61 383.3,94.82 383.8,95.03 384.3,95.25 384.8,95.47 385.3,95.71 385.8,95.94 386.3,96.18 386.8,96.43 387.3,96.68 387.8,96.93 388.3,97.18 388.8,97.43 389.3,97.68 389.8,97.94 390.3,98.19 390.8,98.44 391.3,98.69 391.8,98.94 392.3,99.18 392.8,99.42 393.3,99.66 393.8,99.9 394.3,100.13 394.8,100.36 395.3,100.58 395.8,100.8 396.3,101.01 396.8,101.22 397.3,101.43 397.8,101.62 398.3,101.82 398.8,102 399.3,102.18 399.8,102.36 400.3,102.53 400.8,102.69 401.3,102.85 401.8,103 402.3,103.15 402.8,103.29 403.3,103.42 403.8,103.55 404.3,103.67 404.8,103.79 405.3,103.91 405.8,104.01 406.3,104.12 406.8,104.21 407.3,104.31 407.8,104.4 408.3,104.48 408.8,104.56 409.3,104.64 409.8,104.71 410.3,104.78 410.8,104.84 411.3,104.9 411.8,104.96 412.3,105.01 412.8,105.06 413.3,105.11 413.8,105.16 414.3,105.2 414.8,105.24 415.3,105.28 415.8,105.31 416.3,105.35 416.8,105.38 417.3,105.41 417.8,105.43 418.3,105.46 418.8,105.49 419.3,105.51 419.8,105.53 420.3,105.55 420.8,105.57 421.3,105.59 421.8,105.6 422.3,105.62 422.8,105.63 423.3,105.65 423.8,105.66 424.3,105.67 424.8,105.69 425.3,105.7 425.8,105.71 426.3,105.72 426.8,105.73 427.3,105.74 427.8,105.74 428.3,105.75 428.8,105.76 429.3,105.77 429.8,105.77 430.3,105.78 430.8,105.79 431.3,105.79 431.8,105.8 432.3,105.8 432.8,105.81 433.3,105.82 433.8,105.82 434.3,105.83 434.8,105.83 435.3,105.83 435.8,105.84 436.3,105.84 436.8,105.85 437.3,105.85 437.8,105.86 438.3,105.86 438.8,105.86 439.3,105.87 439.8,105.87 440.3,105.87 440.8,105.88 441.3,105.88 441.8,105.88 442.3,105.89 442.8,105.89 443.3,105.89 443.8,105.9 444.3,105.9 444.8,105.9 445.3,105.9 445.8,105.91 446.3,105.91 446.8,105.91 447.3,105.91 447.8,105.92 448.3,105.92 448.8,105.92 449.3,105.92 449.8,105.93 450.3,105.93 450.8,105.93 451.3,105.93 451.8,105.93 452.3,105.94 452.8,105.94 453.3,105.94 453.8,105.94 454.3,105.94 454.8,105.95 455.3,105.95 455.8,105.95 456.3,105.95 456.8,105.95 457.3,105.95 457.8,105.96 458.3,105.96 458.8,105.96 459.3,105.96 459.8,105.96 460.3,105.96 460.8,105.97 461.3,105.97 461.8,105.97 462.3,105.97 462.8,105.97 463.3,105.97 463.8,105.97 464.3,105.98 464.8,105.98 465.3,105.98 465.8,105.98 466.3,105.98 466.8,105.98 467.3,105.98 467.8,105.98 468.3,105.99 468.8,105.99 469.3,105.99 469.8,105.99 470.3,105.99 470.8,105.99 471.3,105.99 471.8,105.99 472.3,105.99 472.8,106 473.3,106 473.8,106 474.3,106 474.8,106 475.3,106 475.8,106 476.3,106 476.8,106 477.3,106 477.8,106.01 478.3,106.01 478.8,106.01 479.3,106.01 479.8,106.01 480.3,106.01 480.8,106.01 481.3,106.01 481.8,106.01 482.3,106.01 482.8,106.01 483.3,106.01 483.8,106.02 484.3,106.02 484.8,106.02 485.3,106.02 485.8,106.02 486.3,106.02 486.8,106.02 487.3,106.02 487.8,106.02 488.3,106.02 488.8,106.02 489.3,106.02 489.8,106.02 490.3,106.02 490.8,106.03 491.3,106.03 491.8,106.03 492.3,106.03 492.8,106.03 493.3,106.03 493.8,106.03 494.3,106.03 494.8,106.03 495.3,106.03 495.8,106.03 496.3,106.03 496.8,106.03 497.3,106.03 497.8,106.03 498.3,106.03 498.8,106.03 499.3,106.03 499.8,106.04 500.3,106.04 500.8,106.04 501.3,106.04 501.8,106.04 502.3,106.04 502.8,106.04 503.3,106.04 503.8,106.04 504.3,106.04 504.8,106.04 505.3,106.04 505.8,106.04 506.3,106.04 506.8,106.04 507.3,106.04 507.8,106.04 508.3,106.04 508.8,106.04 509.3,106.04 509.8,106.04 510.3,106.04 510.8,106.05 511.3,106.05 511.8,106.05 512.3,106.05 512.8,106.05 513.3,106.05 513.8,106.05 514.3,106.05 514.8,106.05 515.3,106.05 515.8,106.05 516.3,106.05 516.8,106.05 517.3,106.05 517.8,106.05 518.3,106.05 518.8,106.05 519.3,106.05 519.8,106.05 520.3,106.05 520.8,106.05 521.3,106.05 521.8,106.05 522.3,106.05 522.8,106.05 523.3,106.05 523.8,106.05 524.3,106.05 524.8,106.05 525.3,106.06 525.8,106.06 526.3,106.06 526.8,106.06 527.3,106.06 527.8,106.06 528.3,106.06 528.8,106.06 529.3,106.06 529.8,106.06 530.3,106.06 530.8,106.06 531.3,106.06 531.8,106.06 532.3,106.06 532.8,106.06 533.3,106.06 533.8,106.06 534.3,106.06 534.8,106.06 535.3,106.06 535.8,106.06 536.3,106.06" fill="none" stroke="#f0272d" stroke-width="1.4" stroke-linejoin="round" />
<polyline points="299.3,105.81 299.8,105.81 300.3,105.8 300.8,105.8 301.3,105.79 301.8,105.79 302.3,105.78 302.8,105.78 303.3,105.77 303.8,105.77 304.3,105.76 304.8,105.75 305.3,105.75 305.8,105.74 306.3,105.74 306.8,105.73 307.3,105.72 307.8,105.72 308.3,105.71 308.8,105.7 309.3,105.69 309.8,105.68 310.3,105.68 310.8,105.67 311.3,105.66 311.8,105.65 312.3,105.64 312.8,105.63 313.3,105.61 313.8,105.6 314.3,105.59 314.8,105.58 315.3,105.56 315.8,105.55 316.3,105.53 316.8,105.51 317.3,105.5 317.8,105.48 318.3,105.46 318.8,105.44 319.3,105.41 319.8,105.39 320.3,105.36 320.8,105.33 321.3,105.3 321.8,105.27 322.3,105.23 322.8,105.2 323.3,105.16 323.8,105.11 324.3,105.07 324.8,105.02 325.3,104.96 325.8,104.91 326.3,104.85 326.8,104.78 327.3,104.71 327.8,104.64 328.3,104.56 328.8,104.47 329.3,104.38 329.8,104.28 330.3,104.18 330.8,104.07 331.3,103.95 331.8,103.83 332.3,103.7 332.8,103.56 333.3,103.41 333.8,103.25 334.3,103.09 334.8,102.91 335.3,102.73 335.8,102.54 336.3,102.34 336.8,102.12 337.3,101.9 337.8,101.67 338.3,101.43 338.8,101.18 339.3,100.91 339.8,100.64 340.3,100.35 340.8,100.06 341.3,99.76 341.8,99.44 342.3,99.12 342.8,98.78 343.3,98.44 343.8,98.09 344.3,97.73 344.8,97.36 345.3,96.99 345.8,96.6 346.3,96.22 346.8,95.82 347.3,95.42 347.8,95.02 348.3,94.62 348.8,94.21 349.3,93.8 349.8,93.39 350.3,92.99 350.8,92.58 351.3,92.18 351.8,91.79 352.3,91.4 352.8,91.02 353.3,90.64 353.8,90.28 354.3,89.93 354.8,89.6 355.3,89.28 355.8,88.97 356.3,88.69 356.8,88.42 357.3,88.18 357.8,87.95 358.3,87.75 358.8,87.58 359.3,87.43 359.8,87.31 360.3,87.21 360.8,87.15 361.3,87.11 361.8,87.1 362.3,87.12 362.8,87.17 363.3,87.25 363.8,87.35 364.3,87.49 364.8,87.64 365.3,87.83 365.8,88.04 366.3,88.27 366.8,88.52 367.3,88.8 367.8,89.09 368.3,89.4 368.8,89.73 369.3,90.07 369.8,90.43 370.3,90.79 370.8,91.17 371.3,91.55 371.8,91.94 372.3,92.34 372.8,92.74 373.3,93.15 373.8,93.56 374.3,93.96 374.8,94.37 375.3,94.78 375.8,95.18 376.3,95.58 376.8,95.98 377.3,96.37 377.8,96.76 378.3,97.14 378.8,97.51 379.3,97.87 379.8,98.23 380.3,98.58 380.8,98.92 381.3,99.25 381.8,99.57 382.3,99.88 382.8,100.18 383.3,100.47 383.8,100.75 384.3,101.02 384.8,101.28 385.3,101.53 385.8,101.76 386.3,101.99 386.8,102.21 387.3,102.42 387.8,102.62 388.3,102.8 388.8,102.98 389.3,103.15 389.8,103.32 390.3,103.47 390.8,103.61 391.3,103.75 391.8,103.88 392.3,104 392.8,104.11 393.3,104.22 393.8,104.32 394.3,104.42 394.8,104.5 395.3,104.59 395.8,104.67 396.3,104.74 396.8,104.81 397.3,104.87 397.8,104.93 398.3,104.99 398.8,105.04 399.3,105.09 399.8,105.13 400.3,105.17 400.8,105.21 401.3,105.25 401.8,105.28 402.3,105.31 402.8,105.34 403.3,105.37 403.8,105.4 404.3,105.42 404.8,105.44 405.3,105.47 405.8,105.49 406.3,105.5 406.8,105.52 407.3,105.54 407.8,105.55 408.3,105.57 408.8,105.58 409.3,105.6 409.8,105.61 410.3,105.62 410.8,105.63 411.3,105.64 411.8,105.65 412.3,105.66 412.8,105.67 413.3,105.68 413.8,105.69 414.3,105.7 414.8,105.7 415.3,105.71 415.8,105.72 416.3,105.72 416.8,105.73 417.3,105.74 417.8,105.74 418.3,105.75 418.8,105.76 419.3,105.76 419.8,105.77 420.3,105.77 420.8,105.78 421.3,105.78 421.8,105.79 422.3,105.79 422.8,105.8 423.3,105.8 423.8,105.81 424.3,105.81 424.8,105.82 425.3,105.82 425.8,105.82 426.3,105.83 426.8,105.83 427.3,105.84 427.8,105.84 428.3,105.84 428.8,105.85 429.3,105.85 429.8,105.85 430.3,105.86 430.8,105.86 431.3,105.86 431.8,105.87 432.3,105.87 432.8,105.87 433.3,105.88 433.8,105.88 434.3,105.88 434.8,105.89 435.3,105.89 435.8,105.89 436.3,105.89 436.8,105.9 437.3,105.9 437.8,105.9 438.3,105.9 438.8,105.91 439.3,105.91 439.8,105.91 440.3,105.91 440.8,105.92 441.3,105.92 441.8,105.92 442.3,105.92 442.8,105.92 443.3,105.93 443.8,105.93 444.3,105.93 444.8,105.93 445.3,105.93 445.8,105.94 446.3,105.94 446.8,105.94 447.3,105.94 447.8,105.94 448.3,105.95 448.8,105.95 449.3,105.95 449.8,105.95 450.3,105.95 450.8,105.95 451.3,105.96 451.8,105.96 452.3,105.96 452.8,105.96 453.3,105.96 453.8,105.96 454.3,105.96 454.8,105.97 455.3,105.97 455.8,105.97 456.3,105.97 456.8,105.97 457.3,105.97 457.8,105.97 458.3,105.97 458.8,105.98 459.3,105.98 459.8,105.98 460.3,105.98 460.8,105.98 461.3,105.98 461.8,105.98 462.3,105.98 462.8,105.99 463.3,105.99 463.8,105.99 464.3,105.99 464.8,105.99 465.3,105.99 465.8,105.99 466.3,105.99 466.8,105.99 467.3,105.99 467.8,106 468.3,106 468.8,106 469.3,106 469.8,106 470.3,106 470.8,106 471.3,106 471.8,106 472.3,106 472.8,106 473.3,106.01 473.8,106.01 474.3,106.01 474.8,106.01 475.3,106.01 475.8,106.01 476.3,106.01 476.8,106.01 477.3,106.01 477.8,106.01 478.3,106.01 478.8,106.01 479.3,106.01 479.8,106.02 480.3,106.02 480.8,106.02 481.3,106.02 481.8,106.02 482.3,106.02 482.8,106.02 483.3,106.02 483.8,106.02 484.3,106.02 484.8,106.02 485.3,106.02 485.8,106.02 486.3,106.02 486.8,106.02 487.3,106.03 487.8,106.03 488.3,106.03 488.8,106.03 489.3,106.03 489.8,106.03 490.3,106.03 490.8,106.03 491.3,106.03 491.8,106.03 492.3,106.03 492.8,106.03 493.3,106.03 493.8,106.03 494.3,106.03 494.8,106.03 495.3,106.03 495.8,106.03 496.3,106.03 496.8,106.04 497.3,106.04 497.8,106.04 498.3,106.04 498.8,106.04 499.3,106.04 499.8,106.04 500.3,106.04 500.8,106.04 501.3,106.04 501.8,106.04 502.3,106.04 502.8,106.04 503.3,106.04 503.8,106.04 504.3,106.04 504.8,106.04 505.3,106.04 505.8,106.04 506.3,106.04 506.8,106.04 507.3,106.04 507.8,106.04 508.3,106.04 508.8,106.05 509.3,106.05 509.8,106.05 510.3,106.05 510.8,106.05 511.3,106.05 511.8,106.05 512.3,106.05 512.8,106.05 513.3,106.05 513.8,106.05 514.3,106.05 514.8,106.05 515.3,106.05 515.8,106.05 516.3,106.05 516.8,106.05 517.3,106.05 517.8,106.05 518.3,106.05 518.8,106.05 519.3,106.05 519.8,106.05 520.3,106.05 520.8,106.05 521.3,106.05 521.8,106.05 522.3,106.05 522.8,106.05 523.3,106.05 523.8,106.05 524.3,106.06 524.8,106.06 525.3,106.06 525.8,106.06 526.3,106.06 526.8,106.06 527.3,106.06 527.8,106.06 528.3,106.06 528.8,106.06 529.3,106.06 529.8,106.06 530.3,106.06 530.8,106.06 531.3,106.06 531.8,106.06 532.3,106.06 532.8,106.06 533.3,106.06 533.8,106.06 534.3,106.06 534.8,106.06 535.3,106.06 535.8,106.06 536.3,106.06" fill="none" stroke="#2fb063" stroke-width="1.4" stroke-linejoin="round" />
<polyline points="299.3,104.8 299.8,104.8 300.3,104.8 300.8,104.8 301.3,104.8 301.8,104.8 302.3,104.8 302.8,104.8 303.3,104.8 303.8,104.8 304.3,104.8 304.8,104.8 305.3,104.8 305.8,104.8 306.3,104.8 306.8,104.8 307.3,104.8 307.8,104.8 308.3,104.8 308.8,104.8 309.3,104.8 309.8,104.8 310.3,104.8 310.8,104.8 311.3,104.8 311.8,104.8 312.3,104.8 312.8,104.8 313.3,104.8 313.8,104.8 314.3,104.8 314.8,104.8 315.3,104.8 315.8,104.8 316.3,104.8 316.8,104.8 317.3,104.8 317.8,104.8 318.3,104.8 318.8,104.8 319.3,104.8 319.8,104.8 320.3,104.8 320.8,104.8 321.3,104.8 321.8,104.8 322.3,104.8 322.8,104.8 323.3,104.8 323.8,104.8 324.3,104.8 324.8,104.8 325.3,104.8 325.8,104.8 326.3,104.8 326.8,104.8 327.3,104.8 327.8,104.8 328.3,104.8 328.8,104.8 329.3,104.8 329.8,104.8 330.3,104.8 330.8,104.8 331.3,104.8 331.8,104.8 332.3,104.8 332.8,104.8 333.3,104.8 333.8,104.8 334.3,104.8 334.8,104.8 335.3,104.8 335.8,104.8 336.3,104.8 336.8,104.8 337.3,104.8 337.8,104.8 338.3,104.8 338.8,104.8 339.3,104.8 339.8,104.8 340.3,104.8 340.8,104.8 341.3,104.8 341.8,104.8 342.3,104.8 342.8,104.8 343.3,104.8 343.8,104.8 344.3,104.8 344.8,104.8 345.3,104.8 345.8,104.8 346.3,104.8 346.8,104.8 347.3,104.8 347.8,104.8 348.3,104.8 348.8,104.8 349.3,104.8 349.8,104.8 350.3,104.8 350.8,104.8 351.3,104.8 351.8,104.8 352.3,104.8 352.8,104.8 353.3,104.8 353.8,104.8 354.3,104.8 354.8,104.8 355.3,104.8 355.8,104.8 356.3,104.8 356.8,104.8 357.3,104.8 357.8,104.8 358.3,104.8 358.8,104.8 359.3,104.8 359.8,104.8 360.3,104.8 360.8,104.8 361.3,104.8 361.8,104.8 362.3,104.8 362.8,104.8 363.3,104.8 363.8,104.8 364.3,104.8 364.8,104.8 365.3,104.8 365.8,104.8 366.3,104.8 366.8,104.8 367.3,104.8 367.8,104.8 368.3,104.8 368.8,104.8 369.3,104.8 369.8,104.8 370.3,104.8 370.8,104.8 371.3,104.8 371.8,104.8 372.3,104.8 372.8,104.8 373.3,104.8 373.8,104.8 374.3,104.8 374.8,104.8 375.3,104.8 375.8,104.8 376.3,104.8 376.8,104.8 377.3,104.8 377.8,104.8 378.3,104.8 378.8,104.8 379.3,104.8 379.8,104.8 380.3,104.8 380.8,104.8 381.3,104.8 381.8,104.8 382.3,104.8 382.8,104.8 383.3,104.8 383.8,104.8 384.3,104.8 384.8,104.8 385.3,104.8 385.8,104.8 386.3,104.8 386.8,104.8 387.3,104.8 387.8,104.8 388.3,104.8 388.8,104.8 389.3,104.8 389.8,104.8 390.3,104.8 390.8,104.8 391.3,104.8 391.8,104.8 392.3,104.8 392.8,104.8 393.3,104.8 393.8,104.8 394.3,104.8 394.8,104.8 395.3,104.8 395.8,104.8 396.3,104.8 396.8,104.8 397.3,104.8 397.8,104.8 398.3,104.8 398.8,104.8 399.3,104.8 399.8,104.8 400.3,104.8 400.8,104.8 401.3,104.8 401.8,104.8 402.3,104.8 402.8,104.8 403.3,104.8 403.8,104.8 404.3,104.8 404.8,104.8 405.3,104.8 405.8,104.8 406.3,104.8 406.8,104.8 407.3,104.8 407.8,104.8 408.3,104.8 408.8,104.8 409.3,104.8 409.8,104.8 410.3,104.8 410.8,104.8 411.3,104.8 411.8,104.8 412.3,104.8 412.8,104.8 413.3,104.8 413.8,104.8 414.3,104.8 414.8,104.8 415.3,104.8 415.8,104.8 416.3,104.8 416.8,104.8 417.3,104.8 417.8,104.8 418.3,104.8 418.8,104.8 419.3,104.8 419.8,104.8 420.3,104.8 420.8,104.8 421.3,104.8 421.8,104.8 422.3,104.8 422.8,104.8 423.3,104.8 423.8,104.8 424.3,104.8 424.8,104.8 425.3,104.8 425.8,104.8 426.3,104.8 426.8,104.8 427.3,104.8 427.8,104.8 428.3,104.8 428.8,104.8 429.3,104.8 429.8,104.8 430.3,104.8 430.8,104.8 431.3,104.8 431.8,104.8 432.3,104.8 432.8,104.8 433.3,104.8 433.8,104.8 434.3,104.8 434.8,104.8 435.3,104.8 435.8,104.8 436.3,104.8 436.8,104.8 437.3,104.8 437.8,104.8 438.3,104.8 438.8,104.8 439.3,104.8 439.8,104.8 440.3,104.8 440.8,104.8 441.3,104.8 441.8,104.8 442.3,104.8 442.8,104.8 443.3,104.8 443.8,104.8 444.3,104.8 444.8,104.8 445.3,104.8 445.8,104.8 446.3,104.8 446.8,104.8 447.3,104.8 447.8,104.8 448.3,104.8 448.8,104.8 449.3,104.8 449.8,104.8 450.3,104.8 450.8,104.8 451.3,104.8 451.8,104.8 452.3,104.8 452.8,104.8 453.3,104.8 453.8,104.8 454.3,104.8 454.8,104.8 455.3,104.8 455.8,104.8 456.3,104.8 456.8,104.8 457.3,104.8 457.8,104.8 458.3,104.8 458.8,104.8 459.3,104.8 459.8,104.8 460.3,104.8 460.8,104.8 461.3,104.8 461.8,104.8 462.3,104.8 462.8,104.8 463.3,104.8 463.8,104.8 464.3,104.8 464.8,104.8 465.3,104.8 465.8,104.8 466.3,104.8 466.8,104.8 467.3,104.8 467.8,104.8 468.3,104.8 468.8,104.8 469.3,104.8 469.8,104.8 470.3,104.8 470.8,104.8 471.3,104.8 471.8,104.8 472.3,104.8 472.8,104.8 473.3,104.8 473.8,104.8 474.3,104.8 474.8,104.8 475.3,104.8 475.8,104.8 476.3,104.8 476.8,104.8 477.3,104.8 477.8,104.8 478.3,104.8 478.8,104.8 479.3,104.8 479.8,104.8 480.3,104.8 480.8,104.8 481.3,104.8 481.8,104.8 482.3,104.8 482.8,104.8 483.3,104.8 483.8,104.8 484.3,104.8 484.8,104.8 485.3,104.8 485.8,104.8 486.3,104.8 486.8,104.8 487.3,104.8 487.8,104.8 488.3,104.8 488.8,104.8 489.3,104.8 489.8,104.8 490.3,104.8 490.8,104.8 491.3,104.8 491.8,104.8 492.3,104.8 492.8,104.8 493.3,104.8 493.8,104.8 494.3,104.8 494.8,104.8 495.3,104.8 495.8,104.8 496.3,104.8 496.8,104.8 497.3,104.8 497.8,104.8 498.3,104.8 498.8,104.8 499.3,104.8 499.8,104.8 500.3,104.8 500.8,104.8 501.3,104.8 501.8,104.8 502.3,104.8 502.8,104.8 503.3,104.8 503.8,104.8 504.3,104.8 504.8,104.8 505.3,104.8 505.8,104.8 506.3,104.8 506.8,104.8 507.3,104.8 507.8,104.8 508.3,104.8 508.8,104.8 509.3,104.8 509.8,104.8 510.3,104.8 510.8,104.8 511.3,104.8 511.8,104.8 512.3,104.8 512.8,104.8 513.3,104.8 513.8,104.8 514.3,104.8 514.8,104.8 515.3,104.8 515.8,104.8 516.3,104.8 516.8,104.8 517.3,104.8 517.8,104.8 518.3,104.8 518.8,104.8 519.3,104.8 519.8,104.8 520.3,104.8 520.8,104.8 521.3,104.8 521.8,104.8 522.3,104.8 522.8,104.8 523.3,104.8 523.8,104.8 524.3,104.8 524.8,104.8 525.3,104.8 525.8,104.8 526.3,104.8 526.8,104.8 527.3,104.8 527.8,104.8 528.3,104.8 528.8,104.8 529.3,104.8 529.8,104.8 530.3,104.8 530.8,104.8 531.3,104.8 531.8,104.8 532.3,104.8 532.8,104.8 533.3,104.8 533.8,104.8 534.3,104.8 534.8,104.8 535.3,104.8 535.8,104.8 536.3,104.8" fill="none" stroke="#1f6fe6" stroke-width="1.2" stroke-linejoin="round" />
<path d="M298.35,104.81a1.95,1.95 0 1,0 3.9,0a1.95,1.95 0 1,0 -3.9,0M300.95,105.1a1.95,1.95 0 1,0 3.9,0a1.95,1.95 0 1,0 -3.9,0M303.55,104.59a1.95,1.95 0 1,0 3.9,0a1.95,1.95 0 1,0 -3.9,0M306.15,104.34a1.95,1.95 0 1,0 3.9,0a1.95,1.95 0 1,0 -3.9,0M308.75,104.7a1.95,1.95 0 1,0 3.9,0a1.95,1.95 0 1,0 -3.9,0M311.35,104.7a1.95,1.95 0 1,0 3.9,0a1.95,1.95 0 1,0 -3.9,0M313.95,104.56a1.95,1.95 0 1,0 3.9,0a1.95,1.95 0 1,0 -3.9,0M316.55,104.47a1.95,1.95 0 1,0 3.9,0a1.95,1.95 0 1,0 -3.9,0M319.15,104.18a1.95,1.95 0 1,0 3.9,0a1.95,1.95 0 1,0 -3.9,0M321.75,103.85a1.95,1.95 0 1,0 3.9,0a1.95,1.95 0 1,0 -3.9,0M324.35,103.49a1.95,1.95 0 1,0 3.9,0a1.95,1.95 0 1,0 -3.9,0M326.95,103.13a1.95,1.95 0 1,0 3.9,0a1.95,1.95 0 1,0 -3.9,0M329.55,102.45a1.95,1.95 0 1,0 3.9,0a1.95,1.95 0 1,0 -3.9,0M332.15,101.83a1.95,1.95 0 1,0 3.9,0a1.95,1.95 0 1,0 -3.9,0M334.75,100.59a1.95,1.95 0 1,0 3.9,0a1.95,1.95 0 1,0 -3.9,0M337.35,98.7a1.95,1.95 0 1,0 3.9,0a1.95,1.95 0 1,0 -3.9,0M339.95,97.21a1.95,1.95 0 1,0 3.9,0a1.95,1.95 0 1,0 -3.9,0M342.55,94.81a1.95,1.95 0 1,0 3.9,0a1.95,1.95 0 1,0 -3.9,0M345.15,92.45a1.95,1.95 0 1,0 3.9,0a1.95,1.95 0 1,0 -3.9,0M347.75,89.68a1.95,1.95 0 1,0 3.9,0a1.95,1.95 0 1,0 -3.9,0M350.35,86.52a1.95,1.95 0 1,0 3.9,0a1.95,1.95 0 1,0 -3.9,0M352.95,83.14a1.95,1.95 0 1,0 3.9,0a1.95,1.95 0 1,0 -3.9,0M355.55,81a1.95,1.95 0 1,0 3.9,0a1.95,1.95 0 1,0 -3.9,0M358.15,78.44a1.95,1.95 0 1,0 3.9,0a1.95,1.95 0 1,0 -3.9,0M360.75,77.67a1.95,1.95 0 1,0 3.9,0a1.95,1.95 0 1,0 -3.9,0M363.35,76.62a1.95,1.95 0 1,0 3.9,0a1.95,1.95 0 1,0 -3.9,0M365.95,76.89a1.95,1.95 0 1,0 3.9,0a1.95,1.95 0 1,0 -3.9,0M368.55,78.18a1.95,1.95 0 1,0 3.9,0a1.95,1.95 0 1,0 -3.9,0M371.15,78.92a1.95,1.95 0 1,0 3.9,0a1.95,1.95 0 1,0 -3.9,0M373.75,81.23a1.95,1.95 0 1,0 3.9,0a1.95,1.95 0 1,0 -3.9,0M376.35,83.31a1.95,1.95 0 1,0 3.9,0a1.95,1.95 0 1,0 -3.9,0M378.95,85.93a1.95,1.95 0 1,0 3.9,0a1.95,1.95 0 1,0 -3.9,0M381.55,88.45a1.95,1.95 0 1,0 3.9,0a1.95,1.95 0 1,0 -3.9,0M384.15,91.25a1.95,1.95 0 1,0 3.9,0a1.95,1.95 0 1,0 -3.9,0M386.75,93.39a1.95,1.95 0 1,0 3.9,0a1.95,1.95 0 1,0 -3.9,0M389.35,95.63a1.95,1.95 0 1,0 3.9,0a1.95,1.95 0 1,0 -3.9,0M391.95,97.54a1.95,1.95 0 1,0 3.9,0a1.95,1.95 0 1,0 -3.9,0M394.55,98.64a1.95,1.95 0 1,0 3.9,0a1.95,1.95 0 1,0 -3.9,0M397.15,100.58a1.95,1.95 0 1,0 3.9,0a1.95,1.95 0 1,0 -3.9,0M399.75,101.32a1.95,1.95 0 1,0 3.9,0a1.95,1.95 0 1,0 -3.9,0M402.35,101.88a1.95,1.95 0 1,0 3.9,0a1.95,1.95 0 1,0 -3.9,0M404.95,102.75a1.95,1.95 0 1,0 3.9,0a1.95,1.95 0 1,0 -3.9,0M407.55,103.56a1.95,1.95 0 1,0 3.9,0a1.95,1.95 0 1,0 -3.9,0M410.15,103.97a1.95,1.95 0 1,0 3.9,0a1.95,1.95 0 1,0 -3.9,0M412.75,103.92a1.95,1.95 0 1,0 3.9,0a1.95,1.95 0 1,0 -3.9,0M415.35,104.29a1.95,1.95 0 1,0 3.9,0a1.95,1.95 0 1,0 -3.9,0M417.95,104.47a1.95,1.95 0 1,0 3.9,0a1.95,1.95 0 1,0 -3.9,0M420.55,104.75a1.95,1.95 0 1,0 3.9,0a1.95,1.95 0 1,0 -3.9,0M423.15,104.61a1.95,1.95 0 1,0 3.9,0a1.95,1.95 0 1,0 -3.9,0M425.75,104.9a1.95,1.95 0 1,0 3.9,0a1.95,1.95 0 1,0 -3.9,0M428.35,104.58a1.95,1.95 0 1,0 3.9,0a1.95,1.95 0 1,0 -3.9,0M430.95,104.66a1.95,1.95 0 1,0 3.9,0a1.95,1.95 0 1,0 -3.9,0M433.55,104.98a1.95,1.95 0 1,0 3.9,0a1.95,1.95 0 1,0 -3.9,0M436.15,105.03a1.95,1.95 0 1,0 3.9,0a1.95,1.95 0 1,0 -3.9,0M438.75,104.9a1.95,1.95 0 1,0 3.9,0a1.95,1.95 0 1,0 -3.9,0M441.35,105.06a1.95,1.95 0 1,0 3.9,0a1.95,1.95 0 1,0 -3.9,0M443.95,105.01a1.95,1.95 0 1,0 3.9,0a1.95,1.95 0 1,0 -3.9,0M446.55,105.14a1.95,1.95 0 1,0 3.9,0a1.95,1.95 0 1,0 -3.9,0M449.15,105.25a1.95,1.95 0 1,0 3.9,0a1.95,1.95 0 1,0 -3.9,0M451.75,105.13a1.95,1.95 0 1,0 3.9,0a1.95,1.95 0 1,0 -3.9,0M454.35,105.21a1.95,1.95 0 1,0 3.9,0a1.95,1.95 0 1,0 -3.9,0M456.95,104.98a1.95,1.95 0 1,0 3.9,0a1.95,1.95 0 1,0 -3.9,0M459.55,104.96a1.95,1.95 0 1,0 3.9,0a1.95,1.95 0 1,0 -3.9,0M462.15,104.61a1.95,1.95 0 1,0 3.9,0a1.95,1.95 0 1,0 -3.9,0M464.75,105.18a1.95,1.95 0 1,0 3.9,0a1.95,1.95 0 1,0 -3.9,0M467.35,105.12a1.95,1.95 0 1,0 3.9,0a1.95,1.95 0 1,0 -3.9,0M469.95,105.23a1.95,1.95 0 1,0 3.9,0a1.95,1.95 0 1,0 -3.9,0M472.55,104.75a1.95,1.95 0 1,0 3.9,0a1.95,1.95 0 1,0 -3.9,0M475.15,105.04a1.95,1.95 0 1,0 3.9,0a1.95,1.95 0 1,0 -3.9,0M477.75,105.03a1.95,1.95 0 1,0 3.9,0a1.95,1.95 0 1,0 -3.9,0M480.35,104.79a1.95,1.95 0 1,0 3.9,0a1.95,1.95 0 1,0 -3.9,0M482.95,105.35a1.95,1.95 0 1,0 3.9,0a1.95,1.95 0 1,0 -3.9,0M485.55,105.42a1.95,1.95 0 1,0 3.9,0a1.95,1.95 0 1,0 -3.9,0M488.15,104.92a1.95,1.95 0 1,0 3.9,0a1.95,1.95 0 1,0 -3.9,0M490.75,105.27a1.95,1.95 0 1,0 3.9,0a1.95,1.95 0 1,0 -3.9,0M493.35,105.54a1.95,1.95 0 1,0 3.9,0a1.95,1.95 0 1,0 -3.9,0M495.95,104.95a1.95,1.95 0 1,0 3.9,0a1.95,1.95 0 1,0 -3.9,0M498.55,105.4a1.95,1.95 0 1,0 3.9,0a1.95,1.95 0 1,0 -3.9,0M501.15,105.53a1.95,1.95 0 1,0 3.9,0a1.95,1.95 0 1,0 -3.9,0M503.75,105.59a1.95,1.95 0 1,0 3.9,0a1.95,1.95 0 1,0 -3.9,0M506.35,104.93a1.95,1.95 0 1,0 3.9,0a1.95,1.95 0 1,0 -3.9,0M508.95,105a1.95,1.95 0 1,0 3.9,0a1.95,1.95 0 1,0 -3.9,0M511.55,105.26a1.95,1.95 0 1,0 3.9,0a1.95,1.95 0 1,0 -3.9,0M514.15,105.47a1.95,1.95 0 1,0 3.9,0a1.95,1.95 0 1,0 -3.9,0M516.75,104.97a1.95,1.95 0 1,0 3.9,0a1.95,1.95 0 1,0 -3.9,0M519.35,105.08a1.95,1.95 0 1,0 3.9,0a1.95,1.95 0 1,0 -3.9,0M521.95,105a1.95,1.95 0 1,0 3.9,0a1.95,1.95 0 1,0 -3.9,0M524.55,105.46a1.95,1.95 0 1,0 3.9,0a1.95,1.95 0 1,0 -3.9,0M527.15,105.12a1.95,1.95 0 1,0 3.9,0a1.95,1.95 0 1,0 -3.9,0M529.75,105.36a1.95,1.95 0 1,0 3.9,0a1.95,1.95 0 1,0 -3.9,0M532.35,105.38a1.95,1.95 0 1,0 3.9,0a1.95,1.95 0 1,0 -3.9,0" fill="none" stroke="#666" stroke-width="0.65"/>
<line x1="312.54" y1="107.1" x2="312.54" y2="104.1" stroke="#000" stroke-width="1.1"/>
<line x1="340.62" y1="107.1" x2="340.62" y2="104.1" stroke="#000" stroke-width="1.1"/>
<line x1="368.71" y1="107.1" x2="368.71" y2="104.1" stroke="#000" stroke-width="1.1"/>
<line x1="396.79" y1="107.1" x2="396.79" y2="104.1" stroke="#000" stroke-width="1.1"/>
<line x1="424.87" y1="107.1" x2="424.87" y2="104.1" stroke="#000" stroke-width="1.1"/>
<line x1="452.95" y1="107.1" x2="452.95" y2="104.1" stroke="#000" stroke-width="1.1"/>
<line x1="481.04" y1="107.1" x2="481.04" y2="104.1" stroke="#000" stroke-width="1.1"/>
<line x1="509.12" y1="107.1" x2="509.12" y2="104.1" stroke="#000" stroke-width="1.1"/>
<line x1="298.5" y1="107.1" x2="537.2" y2="107.1" stroke="#000" stroke-width="1.3"/>
<polyline points="299.3,138.48 299.8,138.48 300.3,138.47 300.8,138.46 301.3,138.46 301.8,138.45 302.3,138.44 302.8,138.44 303.3,138.43 303.8,138.42 304.3,138.42 304.8,138.41 305.3,138.4 305.8,138.39 306.3,138.38 306.8,138.38 307.3,138.37 307.8,138.36 308.3,138.35 308.8,138.34 309.3,138.33 309.8,138.32 310.3,138.31 310.8,138.3 311.3,138.29 311.8,138.28 312.3,138.26 312.8,138.25 313.3,138.24 313.8,138.23 314.3,138.21 314.8,138.2 315.3,138.18 315.8,138.16 316.3,138.15 316.8,138.13 317.3,138.11 317.8,138.09 318.3,138.07 318.8,138.04 319.3,138.02 319.8,137.99 320.3,137.97 320.8,137.94 321.3,137.91 321.8,137.88 322.3,137.84 322.8,137.8 323.3,137.76 323.8,137.72 324.3,137.68 324.8,137.63 325.3,137.58 325.8,137.52 326.3,137.46 326.8,137.4 327.3,137.33 327.8,137.26 328.3,137.18 328.8,137.1 329.3,137.01 329.8,136.91 330.3,136.81 330.8,136.7 331.3,136.59 331.8,136.47 332.3,136.34 332.8,136.2 333.3,136.05 333.8,135.89 334.3,135.73 334.8,135.55 335.3,135.37 335.8,135.17 336.3,134.96 336.8,134.74 337.3,134.51 337.8,134.27 338.3,134.01 338.8,133.75 339.3,133.47 339.8,133.17 340.3,132.86 340.8,132.54 341.3,132.21 341.8,131.86 342.3,131.49 342.8,131.12 343.3,130.72 343.8,130.32 344.3,129.9 344.8,129.47 345.3,129.02 345.8,128.56 346.3,128.09 346.8,127.61 347.3,127.11 347.8,126.6 348.3,126.08 348.8,125.56 349.3,125.02 349.8,124.48 350.3,123.92 350.8,123.37 351.3,122.8 351.8,122.24 352.3,121.67 352.8,121.09 353.3,120.52 353.8,119.95 354.3,119.39 354.8,118.82 355.3,118.27 355.8,117.72 356.3,117.18 356.8,116.65 357.3,116.14 357.8,115.64 358.3,115.16 358.8,114.69 359.3,114.25 359.8,113.83 360.3,113.43 360.8,113.06 361.3,112.71 361.8,112.4 362.3,112.11 362.8,111.85 363.3,111.62 363.8,111.43 364.3,111.27 364.8,111.14 365.3,111.05 365.8,110.99 366.3,110.97 366.8,110.97 367.3,111.02 367.8,111.09 368.3,111.2 368.8,111.33 369.3,111.5 369.8,111.7 370.3,111.93 370.8,112.19 371.3,112.47 371.8,112.78 372.3,113.11 372.8,113.46 373.3,113.84 373.8,114.24 374.3,114.66 374.8,115.09 375.3,115.54 375.8,116.01 376.3,116.48 376.8,116.97 377.3,117.47 377.8,117.98 378.3,118.5 378.8,119.02 379.3,119.54 379.8,120.07 380.3,120.6 380.8,121.13 381.3,121.66 381.8,122.19 382.3,122.72 382.8,123.24 383.3,123.76 383.8,124.27 384.3,124.78 384.8,125.27 385.3,125.76 385.8,126.24 386.3,126.72 386.8,127.18 387.3,127.63 387.8,128.07 388.3,128.51 388.8,128.93 389.3,129.34 389.8,129.73 390.3,130.12 390.8,130.49 391.3,130.85 391.8,131.21 392.3,131.54 392.8,131.87 393.3,132.19 393.8,132.49 394.3,132.78 394.8,133.06 395.3,133.33 395.8,133.59 396.3,133.84 396.8,134.08 397.3,134.3 397.8,134.52 398.3,134.73 398.8,134.93 399.3,135.12 399.8,135.3 400.3,135.47 400.8,135.63 401.3,135.79 401.8,135.93 402.3,136.07 402.8,136.21 403.3,136.33 403.8,136.45 404.3,136.56 404.8,136.67 405.3,136.77 405.8,136.87 406.3,136.96 406.8,137.04 407.3,137.12 407.8,137.2 408.3,137.27 408.8,137.34 409.3,137.4 409.8,137.46 410.3,137.52 410.8,137.57 411.3,137.62 411.8,137.67 412.3,137.72 412.8,137.76 413.3,137.8 413.8,137.84 414.3,137.87 414.8,137.9 415.3,137.94 415.8,137.97 416.3,137.99 416.8,138.02 417.3,138.05 417.8,138.07 418.3,138.09 418.8,138.11 419.3,138.13 419.8,138.15 420.3,138.17 420.8,138.19 421.3,138.2 421.8,138.22 422.3,138.24 422.8,138.25 423.3,138.26 423.8,138.28 424.3,138.29 424.8,138.3 425.3,138.31 425.8,138.32 426.3,138.33 426.8,138.34 427.3,138.35 427.8,138.36 428.3,138.37 428.8,138.38 429.3,138.39 429.8,138.4 430.3,138.41 430.8,138.42 431.3,138.42 431.8,138.43 432.3,138.44 432.8,138.44 433.3,138.45 433.8,138.46 434.3,138.46 434.8,138.47 435.3,138.48 435.8,138.48 436.3,138.49 436.8,138.5 437.3,138.5 437.8,138.51 438.3,138.51 438.8,138.52 439.3,138.52 439.8,138.53 440.3,138.53 440.8,138.54 441.3,138.54 441.8,138.55 442.3,138.55 442.8,138.56 443.3,138.56 443.8,138.56 444.3,138.57 444.8,138.57 445.3,138.58 445.8,138.58 446.3,138.58 446.8,138.59 447.3,138.59 447.8,138.6 448.3,138.6 448.8,138.6 449.3,138.61 449.8,138.61 450.3,138.61 450.8,138.62 451.3,138.62 451.8,138.62 452.3,138.63 452.8,138.63 453.3,138.63 453.8,138.64 454.3,138.64 454.8,138.64 455.3,138.64 455.8,138.65 456.3,138.65 456.8,138.65 457.3,138.65 457.8,138.66 458.3,138.66 458.8,138.66 459.3,138.67 459.8,138.67 460.3,138.67 460.8,138.67 461.3,138.67 461.8,138.68 462.3,138.68 462.8,138.68 463.3,138.68 463.8,138.69 464.3,138.69 464.8,138.69 465.3,138.69 465.8,138.69 466.3,138.7 466.8,138.7 467.3,138.7 467.8,138.7 468.3,138.7 468.8,138.71 469.3,138.71 469.8,138.71 470.3,138.71 470.8,138.71 471.3,138.72 471.8,138.72 472.3,138.72 472.8,138.72 473.3,138.72 473.8,138.72 474.3,138.73 474.8,138.73 475.3,138.73 475.8,138.73 476.3,138.73 476.8,138.73 477.3,138.73 477.8,138.74 478.3,138.74 478.8,138.74 479.3,138.74 479.8,138.74 480.3,138.74 480.8,138.74 481.3,138.75 481.8,138.75 482.3,138.75 482.8,138.75 483.3,138.75 483.8,138.75 484.3,138.75 484.8,138.75 485.3,138.76 485.8,138.76 486.3,138.76 486.8,138.76 487.3,138.76 487.8,138.76 488.3,138.76 488.8,138.76 489.3,138.76 489.8,138.77 490.3,138.77 490.8,138.77 491.3,138.77 491.8,138.77 492.3,138.77 492.8,138.77 493.3,138.77 493.8,138.77 494.3,138.78 494.8,138.78 495.3,138.78 495.8,138.78 496.3,138.78 496.8,138.78 497.3,138.78 497.8,138.78 498.3,138.78 498.8,138.78 499.3,138.78 499.8,138.79 500.3,138.79 500.8,138.79 501.3,138.79 501.8,138.79 502.3,138.79 502.8,138.79 503.3,138.79 503.8,138.79 504.3,138.79 504.8,138.79 505.3,138.79 505.8,138.79 506.3,138.8 506.8,138.8 507.3,138.8 507.8,138.8 508.3,138.8 508.8,138.8 509.3,138.8 509.8,138.8 510.3,138.8 510.8,138.8 511.3,138.8 511.8,138.8 512.3,138.8 512.8,138.8 513.3,138.81 513.8,138.81 514.3,138.81 514.8,138.81 515.3,138.81 515.8,138.81 516.3,138.81 516.8,138.81 517.3,138.81 517.8,138.81 518.3,138.81 518.8,138.81 519.3,138.81 519.8,138.81 520.3,138.81 520.8,138.81 521.3,138.81 521.8,138.82 522.3,138.82 522.8,138.82 523.3,138.82 523.8,138.82 524.3,138.82 524.8,138.82 525.3,138.82 525.8,138.82 526.3,138.82 526.8,138.82 527.3,138.82 527.8,138.82 528.3,138.82 528.8,138.82 529.3,138.82 529.8,138.82 530.3,138.82 530.8,138.82 531.3,138.82 531.8,138.83 532.3,138.83 532.8,138.83 533.3,138.83 533.8,138.83 534.3,138.83 534.8,138.83 535.3,138.83 535.8,138.83 536.3,138.83" fill="none" stroke="#3a3a3a" stroke-width="1.0" stroke-linejoin="round" />
<polyline points="299.3,139.54 299.8,139.53 300.3,139.53 300.8,139.53 301.3,139.53 301.8,139.52 302.3,139.52 302.8,139.52 303.3,139.52 303.8,139.51 304.3,139.51 304.8,139.51 305.3,139.51 305.8,139.5 306.3,139.5 306.8,139.5 307.3,139.5 307.8,139.49 308.3,139.49 308.8,139.49 309.3,139.48 309.8,139.48 310.3,139.48 310.8,139.47 311.3,139.47 311.8,139.46 312.3,139.46 312.8,139.46 313.3,139.45 313.8,139.45 314.3,139.44 314.8,139.44 315.3,139.43 315.8,139.43 316.3,139.42 316.8,139.42 317.3,139.41 317.8,139.41 318.3,139.4 318.8,139.39 319.3,139.39 319.8,139.38 320.3,139.37 320.8,139.36 321.3,139.36 321.8,139.35 322.3,139.34 322.8,139.33 323.3,139.32 323.8,139.31 324.3,139.29 324.8,139.28 325.3,139.27 325.8,139.25 326.3,139.24 326.8,139.22 327.3,139.21 327.8,139.19 328.3,139.17 328.8,139.15 329.3,139.13 329.8,139.11 330.3,139.08 330.8,139.05 331.3,139.03 331.8,139 332.3,138.97 332.8,138.93 333.3,138.9 333.8,138.86 334.3,138.82 334.8,138.78 335.3,138.73 335.8,138.68 336.3,138.63 336.8,138.58 337.3,138.52 337.8,138.46 338.3,138.4 338.8,138.33 339.3,138.26 339.8,138.18 340.3,138.1 340.8,138.02 341.3,137.93 341.8,137.84 342.3,137.75 342.8,137.65 343.3,137.54 343.8,137.43 344.3,137.31 344.8,137.19 345.3,137.07 345.8,136.94 346.3,136.8 346.8,136.66 347.3,136.51 347.8,136.36 348.3,136.21 348.8,136.04 349.3,135.88 349.8,135.7 350.3,135.53 350.8,135.34 351.3,135.16 351.8,134.96 352.3,134.77 352.8,134.57 353.3,134.36 353.8,134.15 354.3,133.94 354.8,133.72 355.3,133.5 355.8,133.28 356.3,133.06 356.8,132.83 357.3,132.6 357.8,132.38 358.3,132.15 358.8,131.92 359.3,131.69 359.8,131.46 360.3,131.23 360.8,131 361.3,130.78 361.8,130.56 362.3,130.34 362.8,130.13 363.3,129.92 363.8,129.72 364.3,129.53 364.8,129.34 365.3,129.16 365.8,128.99 366.3,128.83 366.8,128.67 367.3,128.53 367.8,128.4 368.3,128.28 368.8,128.17 369.3,128.08 369.8,128 370.3,127.93 370.8,127.87 371.3,127.84 371.8,127.81 372.3,127.8 372.8,127.8 373.3,127.82 373.8,127.86 374.3,127.91 374.8,127.97 375.3,128.04 375.8,128.13 376.3,128.23 376.8,128.35 377.3,128.48 377.8,128.61 378.3,128.76 378.8,128.92 379.3,129.09 379.8,129.27 380.3,129.45 380.8,129.64 381.3,129.84 381.8,130.05 382.3,130.26 382.8,130.47 383.3,130.69 383.8,130.91 384.3,131.14 384.8,131.37 385.3,131.59 385.8,131.82 386.3,132.05 386.8,132.28 387.3,132.51 387.8,132.74 388.3,132.97 388.8,133.19 389.3,133.42 389.8,133.64 390.3,133.85 390.8,134.07 391.3,134.28 391.8,134.48 392.3,134.69 392.8,134.89 393.3,135.08 393.8,135.27 394.3,135.45 394.8,135.63 395.3,135.81 395.8,135.98 396.3,136.14 396.8,136.3 397.3,136.45 397.8,136.6 398.3,136.75 398.8,136.88 399.3,137.02 399.8,137.14 400.3,137.27 400.8,137.38 401.3,137.5 401.8,137.6 402.3,137.71 402.8,137.8 403.3,137.9 403.8,137.99 404.3,138.07 404.8,138.15 405.3,138.23 405.8,138.3 406.3,138.37 406.8,138.44 407.3,138.5 407.8,138.56 408.3,138.61 408.8,138.66 409.3,138.71 409.8,138.76 410.3,138.8 410.8,138.84 411.3,138.88 411.8,138.92 412.3,138.95 412.8,138.99 413.3,139.02 413.8,139.04 414.3,139.07 414.8,139.1 415.3,139.12 415.8,139.14 416.3,139.16 416.8,139.18 417.3,139.2 417.8,139.22 418.3,139.23 418.8,139.25 419.3,139.26 419.8,139.28 420.3,139.29 420.8,139.3 421.3,139.31 421.8,139.32 422.3,139.33 422.8,139.34 423.3,139.35 423.8,139.36 424.3,139.37 424.8,139.38 425.3,139.38 425.8,139.39 426.3,139.4 426.8,139.4 427.3,139.41 427.8,139.42 428.3,139.42 428.8,139.43 429.3,139.43 429.8,139.44 430.3,139.44 430.8,139.45 431.3,139.45 431.8,139.45 432.3,139.46 432.8,139.46 433.3,139.47 433.8,139.47 434.3,139.47 434.8,139.48 435.3,139.48 435.8,139.48 436.3,139.49 436.8,139.49 437.3,139.49 437.8,139.5 438.3,139.5 438.8,139.5 439.3,139.51 439.8,139.51 440.3,139.51 440.8,139.51 441.3,139.52 441.8,139.52 442.3,139.52 442.8,139.52 443.3,139.53 443.8,139.53 444.3,139.53 444.8,139.53 445.3,139.54 445.8,139.54 446.3,139.54 446.8,139.54 447.3,139.54 447.8,139.55 448.3,139.55 448.8,139.55 449.3,139.55 449.8,139.55 450.3,139.55 450.8,139.56 451.3,139.56 451.8,139.56 452.3,139.56 452.8,139.56 453.3,139.56 453.8,139.57 454.3,139.57 454.8,139.57 455.3,139.57 455.8,139.57 456.3,139.57 456.8,139.58 457.3,139.58 457.8,139.58 458.3,139.58 458.8,139.58 459.3,139.58 459.8,139.58 460.3,139.58 460.8,139.59 461.3,139.59 461.8,139.59 462.3,139.59 462.8,139.59 463.3,139.59 463.8,139.59 464.3,139.59 464.8,139.6 465.3,139.6 465.8,139.6 466.3,139.6 466.8,139.6 467.3,139.6 467.8,139.6 468.3,139.6 468.8,139.6 469.3,139.6 469.8,139.61 470.3,139.61 470.8,139.61 471.3,139.61 471.8,139.61 472.3,139.61 472.8,139.61 473.3,139.61 473.8,139.61 474.3,139.61 474.8,139.61 475.3,139.61 475.8,139.62 476.3,139.62 476.8,139.62 477.3,139.62 477.8,139.62 478.3,139.62 478.8,139.62 479.3,139.62 479.8,139.62 480.3,139.62 480.8,139.62 481.3,139.62 481.8,139.62 482.3,139.63 482.8,139.63 483.3,139.63 483.8,139.63 484.3,139.63 484.8,139.63 485.3,139.63 485.8,139.63 486.3,139.63 486.8,139.63 487.3,139.63 487.8,139.63 488.3,139.63 488.8,139.63 489.3,139.63 489.8,139.63 490.3,139.63 490.8,139.64 491.3,139.64 491.8,139.64 492.3,139.64 492.8,139.64 493.3,139.64 493.8,139.64 494.3,139.64 494.8,139.64 495.3,139.64 495.8,139.64 496.3,139.64 496.8,139.64 497.3,139.64 497.8,139.64 498.3,139.64 498.8,139.64 499.3,139.64 499.8,139.64 500.3,139.64 500.8,139.64 501.3,139.65 501.8,139.65 502.3,139.65 502.8,139.65 503.3,139.65 503.8,139.65 504.3,139.65 504.8,139.65 505.3,139.65 505.8,139.65 506.3,139.65 506.8,139.65 507.3,139.65 507.8,139.65 508.3,139.65 508.8,139.65 509.3,139.65 509.8,139.65 510.3,139.65 510.8,139.65 511.3,139.65 511.8,139.65 512.3,139.65 512.8,139.65 513.3,139.65 513.8,139.65 514.3,139.65 514.8,139.65 515.3,139.66 515.8,139.66 516.3,139.66 516.8,139.66 517.3,139.66 517.8,139.66 518.3,139.66 518.8,139.66 519.3,139.66 519.8,139.66 520.3,139.66 520.8,139.66 521.3,139.66 521.8,139.66 522.3,139.66 522.8,139.66 523.3,139.66 523.8,139.66 524.3,139.66 524.8,139.66 525.3,139.66 525.8,139.66 526.3,139.66 526.8,139.66 527.3,139.66 527.8,139.66 528.3,139.66 528.8,139.66 529.3,139.66 529.8,139.66 530.3,139.66 530.8,139.66 531.3,139.66 531.8,139.66 532.3,139.66 532.8,139.66 533.3,139.66 533.8,139.66 534.3,139.67 534.8,139.67 535.3,139.67 535.8,139.67 536.3,139.67" fill="none" stroke="#f0272d" stroke-width="1.4" stroke-linejoin="round" />
<polyline points="299.3,139.45 299.8,139.44 300.3,139.44 300.8,139.43 301.3,139.43 301.8,139.43 302.3,139.42 302.8,139.42 303.3,139.41 303.8,139.41 304.3,139.4 304.8,139.4 305.3,139.39 305.8,139.39 306.3,139.38 306.8,139.38 307.3,139.37 307.8,139.37 308.3,139.36 308.8,139.35 309.3,139.35 309.8,139.34 310.3,139.33 310.8,139.33 311.3,139.32 311.8,139.31 312.3,139.3 312.8,139.3 313.3,139.29 313.8,139.28 314.3,139.27 314.8,139.26 315.3,139.25 315.8,139.23 316.3,139.22 316.8,139.21 317.3,139.2 317.8,139.18 318.3,139.17 318.8,139.15 319.3,139.13 319.8,139.12 320.3,139.1 320.8,139.08 321.3,139.05 321.8,139.03 322.3,139 322.8,138.98 323.3,138.95 323.8,138.92 324.3,138.88 324.8,138.85 325.3,138.81 325.8,138.77 326.3,138.72 326.8,138.67 327.3,138.62 327.8,138.57 328.3,138.51 328.8,138.45 329.3,138.38 329.8,138.31 330.3,138.23 330.8,138.15 331.3,138.06 331.8,137.97 332.3,137.87 332.8,137.76 333.3,137.65 333.8,137.53 334.3,137.41 334.8,137.28 335.3,137.14 335.8,136.99 336.3,136.83 336.8,136.66 337.3,136.49 337.8,136.31 338.3,136.12 338.8,135.92 339.3,135.71 339.8,135.49 340.3,135.26 340.8,135.02 341.3,134.77 341.8,134.51 342.3,134.25 342.8,133.97 343.3,133.68 343.8,133.39 344.3,133.09 344.8,132.77 345.3,132.45 345.8,132.12 346.3,131.79 346.8,131.44 347.3,131.1 347.8,130.74 348.3,130.38 348.8,130.01 349.3,129.64 349.8,129.27 350.3,128.9 350.8,128.52 351.3,128.15 351.8,127.77 352.3,127.4 352.8,127.03 353.3,126.66 353.8,126.3 354.3,125.95 354.8,125.6 355.3,125.26 355.8,124.94 356.3,124.62 356.8,124.32 357.3,124.04 357.8,123.77 358.3,123.51 358.8,123.28 359.3,123.06 359.8,122.87 360.3,122.7 360.8,122.56 361.3,122.43 361.8,122.34 362.3,122.26 362.8,122.22 363.3,122.2 363.8,122.21 364.3,122.24 364.8,122.3 365.3,122.39 365.8,122.5 366.3,122.64 366.8,122.8 367.3,122.98 367.8,123.19 368.3,123.42 368.8,123.66 369.3,123.93 369.8,124.21 370.3,124.5 370.8,124.81 371.3,125.13 371.8,125.47 372.3,125.81 372.8,126.16 373.3,126.52 373.8,126.88 374.3,127.25 374.8,127.62 375.3,128 375.8,128.37 376.3,128.75 376.8,129.12 377.3,129.5 377.8,129.87 378.3,130.23 378.8,130.6 379.3,130.95 379.8,131.31 380.3,131.65 380.8,131.99 381.3,132.32 381.8,132.65 382.3,132.96 382.8,133.27 383.3,133.57 383.8,133.86 384.3,134.14 384.8,134.41 385.3,134.67 385.8,134.92 386.3,135.16 386.8,135.4 387.3,135.62 387.8,135.83 388.3,136.04 388.8,136.23 389.3,136.42 389.8,136.6 390.3,136.77 390.8,136.93 391.3,137.08 391.8,137.22 392.3,137.36 392.8,137.49 393.3,137.61 393.8,137.72 394.3,137.83 394.8,137.93 395.3,138.03 395.8,138.11 396.3,138.2 396.8,138.28 397.3,138.35 397.8,138.42 398.3,138.48 398.8,138.54 399.3,138.6 399.8,138.65 400.3,138.7 400.8,138.75 401.3,138.79 401.8,138.83 402.3,138.87 402.8,138.9 403.3,138.93 403.8,138.96 404.3,138.99 404.8,139.02 405.3,139.04 405.8,139.07 406.3,139.09 406.8,139.11 407.3,139.13 407.8,139.14 408.3,139.16 408.8,139.18 409.3,139.19 409.8,139.2 410.3,139.22 410.8,139.23 411.3,139.24 411.8,139.25 412.3,139.26 412.8,139.27 413.3,139.28 413.8,139.29 414.3,139.3 414.8,139.31 415.3,139.32 415.8,139.32 416.3,139.33 416.8,139.34 417.3,139.35 417.8,139.35 418.3,139.36 418.8,139.36 419.3,139.37 419.8,139.38 420.3,139.38 420.8,139.39 421.3,139.39 421.8,139.4 422.3,139.4 422.8,139.41 423.3,139.41 423.8,139.42 424.3,139.42 424.8,139.42 425.3,139.43 425.8,139.43 426.3,139.44 426.8,139.44 427.3,139.44 427.8,139.45 428.3,139.45 428.8,139.46 429.3,139.46 429.8,139.46 430.3,139.47 430.8,139.47 431.3,139.47 431.8,139.48 432.3,139.48 432.8,139.48 433.3,139.48 433.8,139.49 434.3,139.49 434.8,139.49 435.3,139.5 435.8,139.5 436.3,139.5 436.8,139.5 437.3,139.51 437.8,139.51 438.3,139.51 438.8,139.51 439.3,139.52 439.8,139.52 440.3,139.52 440.8,139.52 441.3,139.53 441.8,139.53 442.3,139.53 442.8,139.53 443.3,139.53 443.8,139.54 444.3,139.54 444.8,139.54 445.3,139.54 445.8,139.54 446.3,139.54 446.8,139.55 447.3,139.55 447.8,139.55 448.3,139.55 448.8,139.55 449.3,139.56 449.8,139.56 450.3,139.56 450.8,139.56 451.3,139.56 451.8,139.56 452.3,139.56 452.8,139.57 453.3,139.57 453.8,139.57 454.3,139.57 454.8,139.57 455.3,139.57 455.8,139.57 456.3,139.58 456.8,139.58 457.3,139.58 457.8,139.58 458.3,139.58 458.8,139.58 459.3,139.58 459.8,139.58 460.3,139.59 460.8,139.59 461.3,139.59 461.8,139.59 462.3,139.59 462.8,139.59 463.3,139.59 463.8,139.59 464.3,139.59 464.8,139.6 465.3,139.6 465.8,139.6 466.3,139.6 466.8,139.6 467.3,139.6 467.8,139.6 468.3,139.6 468.8,139.6 469.3,139.6 469.8,139.6 470.3,139.61 470.8,139.61 471.3,139.61 471.8,139.61 472.3,139.61 472.8,139.61 473.3,139.61 473.8,139.61 474.3,139.61 474.8,139.61 475.3,139.61 475.8,139.61 476.3,139.61 476.8,139.62 477.3,139.62 477.8,139.62 478.3,139.62 478.8,139.62 479.3,139.62 479.8,139.62 480.3,139.62 480.8,139.62 481.3,139.62 481.8,139.62 482.3,139.62 482.8,139.62 483.3,139.62 483.8,139.63 484.3,139.63 484.8,139.63 485.3,139.63 485.8,139.63 486.3,139.63 486.8,139.63 487.3,139.63 487.8,139.63 488.3,139.63 488.8,139.63 489.3,139.63 489.8,139.63 490.3,139.63 490.8,139.63 491.3,139.63 491.8,139.63 492.3,139.63 492.8,139.63 493.3,139.64 493.8,139.64 494.3,139.64 494.8,139.64 495.3,139.64 495.8,139.64 496.3,139.64 496.8,139.64 497.3,139.64 497.8,139.64 498.3,139.64 498.8,139.64 499.3,139.64 499.8,139.64 500.3,139.64 500.8,139.64 501.3,139.64 501.8,139.64 502.3,139.64 502.8,139.64 503.3,139.64 503.8,139.64 504.3,139.65 504.8,139.65 505.3,139.65 505.8,139.65 506.3,139.65 506.8,139.65 507.3,139.65 507.8,139.65 508.3,139.65 508.8,139.65 509.3,139.65 509.8,139.65 510.3,139.65 510.8,139.65 511.3,139.65 511.8,139.65 512.3,139.65 512.8,139.65 513.3,139.65 513.8,139.65 514.3,139.65 514.8,139.65 515.3,139.65 515.8,139.65 516.3,139.65 516.8,139.65 517.3,139.65 517.8,139.65 518.3,139.65 518.8,139.65 519.3,139.65 519.8,139.66 520.3,139.66 520.8,139.66 521.3,139.66 521.8,139.66 522.3,139.66 522.8,139.66 523.3,139.66 523.8,139.66 524.3,139.66 524.8,139.66 525.3,139.66 525.8,139.66 526.3,139.66 526.8,139.66 527.3,139.66 527.8,139.66 528.3,139.66 528.8,139.66 529.3,139.66 529.8,139.66 530.3,139.66 530.8,139.66 531.3,139.66 531.8,139.66 532.3,139.66 532.8,139.66 533.3,139.66 533.8,139.66 534.3,139.66 534.8,139.66 535.3,139.66 535.8,139.66 536.3,139.66" fill="none" stroke="#2fb063" stroke-width="1.4" stroke-linejoin="round" />
<polyline points="299.3,138.4 299.8,138.4 300.3,138.4 300.8,138.4 301.3,138.4 301.8,138.4 302.3,138.4 302.8,138.4 303.3,138.4 303.8,138.4 304.3,138.4 304.8,138.4 305.3,138.4 305.8,138.4 306.3,138.4 306.8,138.4 307.3,138.4 307.8,138.4 308.3,138.4 308.8,138.4 309.3,138.4 309.8,138.4 310.3,138.4 310.8,138.4 311.3,138.4 311.8,138.4 312.3,138.4 312.8,138.4 313.3,138.4 313.8,138.4 314.3,138.4 314.8,138.4 315.3,138.4 315.8,138.4 316.3,138.4 316.8,138.4 317.3,138.4 317.8,138.4 318.3,138.4 318.8,138.4 319.3,138.4 319.8,138.4 320.3,138.4 320.8,138.4 321.3,138.4 321.8,138.4 322.3,138.4 322.8,138.4 323.3,138.4 323.8,138.4 324.3,138.4 324.8,138.4 325.3,138.4 325.8,138.4 326.3,138.4 326.8,138.4 327.3,138.4 327.8,138.4 328.3,138.4 328.8,138.4 329.3,138.4 329.8,138.4 330.3,138.4 330.8,138.4 331.3,138.4 331.8,138.4 332.3,138.4 332.8,138.4 333.3,138.4 333.8,138.4 334.3,138.4 334.8,138.4 335.3,138.4 335.8,138.4 336.3,138.4 336.8,138.4 337.3,138.4 337.8,138.4 338.3,138.4 338.8,138.4 339.3,138.4 339.8,138.4 340.3,138.4 340.8,138.4 341.3,138.4 341.8,138.4 342.3,138.4 342.8,138.4 343.3,138.4 343.8,138.4 344.3,138.4 344.8,138.4 345.3,138.4 345.8,138.4 346.3,138.4 346.8,138.4 347.3,138.4 347.8,138.4 348.3,138.4 348.8,138.4 349.3,138.4 349.8,138.4 350.3,138.4 350.8,138.4 351.3,138.4 351.8,138.4 352.3,138.4 352.8,138.4 353.3,138.4 353.8,138.4 354.3,138.4 354.8,138.4 355.3,138.4 355.8,138.4 356.3,138.4 356.8,138.4 357.3,138.4 357.8,138.4 358.3,138.4 358.8,138.4 359.3,138.4 359.8,138.4 360.3,138.4 360.8,138.4 361.3,138.4 361.8,138.4 362.3,138.4 362.8,138.4 363.3,138.4 363.8,138.4 364.3,138.4 364.8,138.4 365.3,138.4 365.8,138.4 366.3,138.4 366.8,138.4 367.3,138.4 367.8,138.4 368.3,138.4 368.8,138.4 369.3,138.4 369.8,138.4 370.3,138.4 370.8,138.4 371.3,138.4 371.8,138.4 372.3,138.4 372.8,138.4 373.3,138.4 373.8,138.4 374.3,138.4 374.8,138.4 375.3,138.4 375.8,138.4 376.3,138.4 376.8,138.4 377.3,138.4 377.8,138.4 378.3,138.4 378.8,138.4 379.3,138.4 379.8,138.4 380.3,138.4 380.8,138.4 381.3,138.4 381.8,138.4 382.3,138.4 382.8,138.4 383.3,138.4 383.8,138.4 384.3,138.4 384.8,138.4 385.3,138.4 385.8,138.4 386.3,138.4 386.8,138.4 387.3,138.4 387.8,138.4 388.3,138.4 388.8,138.4 389.3,138.4 389.8,138.4 390.3,138.4 390.8,138.4 391.3,138.4 391.8,138.4 392.3,138.4 392.8,138.4 393.3,138.4 393.8,138.4 394.3,138.4 394.8,138.4 395.3,138.4 395.8,138.4 396.3,138.4 396.8,138.4 397.3,138.4 397.8,138.4 398.3,138.4 398.8,138.4 399.3,138.4 399.8,138.4 400.3,138.4 400.8,138.4 401.3,138.4 401.8,138.4 402.3,138.4 402.8,138.4 403.3,138.4 403.8,138.4 404.3,138.4 404.8,138.4 405.3,138.4 405.8,138.4 406.3,138.4 406.8,138.4 407.3,138.4 407.8,138.4 408.3,138.4 408.8,138.4 409.3,138.4 409.8,138.4 410.3,138.4 410.8,138.4 411.3,138.4 411.8,138.4 412.3,138.4 412.8,138.4 413.3,138.4 413.8,138.4 414.3,138.4 414.8,138.4 415.3,138.4 415.8,138.4 416.3,138.4 416.8,138.4 417.3,138.4 417.8,138.4 418.3,138.4 418.8,138.4 419.3,138.4 419.8,138.4 420.3,138.4 420.8,138.4 421.3,138.4 421.8,138.4 422.3,138.4 422.8,138.4 423.3,138.4 423.8,138.4 424.3,138.4 424.8,138.4 425.3,138.4 425.8,138.4 426.3,138.4 426.8,138.4 427.3,138.4 427.8,138.4 428.3,138.4 428.8,138.4 429.3,138.4 429.8,138.4 430.3,138.4 430.8,138.4 431.3,138.4 431.8,138.4 432.3,138.4 432.8,138.4 433.3,138.4 433.8,138.4 434.3,138.4 434.8,138.4 435.3,138.4 435.8,138.4 436.3,138.4 436.8,138.4 437.3,138.4 437.8,138.4 438.3,138.4 438.8,138.4 439.3,138.4 439.8,138.4 440.3,138.4 440.8,138.4 441.3,138.4 441.8,138.4 442.3,138.4 442.8,138.4 443.3,138.4 443.8,138.4 444.3,138.4 444.8,138.4 445.3,138.4 445.8,138.4 446.3,138.4 446.8,138.4 447.3,138.4 447.8,138.4 448.3,138.4 448.8,138.4 449.3,138.4 449.8,138.4 450.3,138.4 450.8,138.4 451.3,138.4 451.8,138.4 452.3,138.4 452.8,138.4 453.3,138.4 453.8,138.4 454.3,138.4 454.8,138.4 455.3,138.4 455.8,138.4 456.3,138.4 456.8,138.4 457.3,138.4 457.8,138.4 458.3,138.4 458.8,138.4 459.3,138.4 459.8,138.4 460.3,138.4 460.8,138.4 461.3,138.4 461.8,138.4 462.3,138.4 462.8,138.4 463.3,138.4 463.8,138.4 464.3,138.4 464.8,138.4 465.3,138.4 465.8,138.4 466.3,138.4 466.8,138.4 467.3,138.4 467.8,138.4 468.3,138.4 468.8,138.4 469.3,138.4 469.8,138.4 470.3,138.4 470.8,138.4 471.3,138.4 471.8,138.4 472.3,138.4 472.8,138.4 473.3,138.4 473.8,138.4 474.3,138.4 474.8,138.4 475.3,138.4 475.8,138.4 476.3,138.4 476.8,138.4 477.3,138.4 477.8,138.4 478.3,138.4 478.8,138.4 479.3,138.4 479.8,138.4 480.3,138.4 480.8,138.4 481.3,138.4 481.8,138.4 482.3,138.4 482.8,138.4 483.3,138.4 483.8,138.4 484.3,138.4 484.8,138.4 485.3,138.4 485.8,138.4 486.3,138.4 486.8,138.4 487.3,138.4 487.8,138.4 488.3,138.4 488.8,138.4 489.3,138.4 489.8,138.4 490.3,138.4 490.8,138.4 491.3,138.4 491.8,138.4 492.3,138.4 492.8,138.4 493.3,138.4 493.8,138.4 494.3,138.4 494.8,138.4 495.3,138.4 495.8,138.4 496.3,138.4 496.8,138.4 497.3,138.4 497.8,138.4 498.3,138.4 498.8,138.4 499.3,138.4 499.8,138.4 500.3,138.4 500.8,138.4 501.3,138.4 501.8,138.4 502.3,138.4 502.8,138.4 503.3,138.4 503.8,138.4 504.3,138.4 504.8,138.4 505.3,138.4 505.8,138.4 506.3,138.4 506.8,138.4 507.3,138.4 507.8,138.4 508.3,138.4 508.8,138.4 509.3,138.4 509.8,138.4 510.3,138.4 510.8,138.4 511.3,138.4 511.8,138.4 512.3,138.4 512.8,138.4 513.3,138.4 513.8,138.4 514.3,138.4 514.8,138.4 515.3,138.4 515.8,138.4 516.3,138.4 516.8,138.4 517.3,138.4 517.8,138.4 518.3,138.4 518.8,138.4 519.3,138.4 519.8,138.4 520.3,138.4 520.8,138.4 521.3,138.4 521.8,138.4 522.3,138.4 522.8,138.4 523.3,138.4 523.8,138.4 524.3,138.4 524.8,138.4 525.3,138.4 525.8,138.4 526.3,138.4 526.8,138.4 527.3,138.4 527.8,138.4 528.3,138.4 528.8,138.4 529.3,138.4 529.8,138.4 530.3,138.4 530.8,138.4 531.3,138.4 531.8,138.4 532.3,138.4 532.8,138.4 533.3,138.4 533.8,138.4 534.3,138.4 534.8,138.4 535.3,138.4 535.8,138.4 536.3,138.4" fill="none" stroke="#1f6fe6" stroke-width="1.2" stroke-linejoin="round" />
<path d="M298.35,138.71a1.95,1.95 0 1,0 3.9,0a1.95,1.95 0 1,0 -3.9,0M300.95,138.63a1.95,1.95 0 1,0 3.9,0a1.95,1.95 0 1,0 -3.9,0M303.55,138.12a1.95,1.95 0 1,0 3.9,0a1.95,1.95 0 1,0 -3.9,0M306.15,137.97a1.95,1.95 0 1,0 3.9,0a1.95,1.95 0 1,0 -3.9,0M308.75,138.28a1.95,1.95 0 1,0 3.9,0a1.95,1.95 0 1,0 -3.9,0M311.35,138.39a1.95,1.95 0 1,0 3.9,0a1.95,1.95 0 1,0 -3.9,0M313.95,138.13a1.95,1.95 0 1,0 3.9,0a1.95,1.95 0 1,0 -3.9,0M316.55,137.77a1.95,1.95 0 1,0 3.9,0a1.95,1.95 0 1,0 -3.9,0M319.15,137.82a1.95,1.95 0 1,0 3.9,0a1.95,1.95 0 1,0 -3.9,0M321.75,138.02a1.95,1.95 0 1,0 3.9,0a1.95,1.95 0 1,0 -3.9,0M324.35,137.18a1.95,1.95 0 1,0 3.9,0a1.95,1.95 0 1,0 -3.9,0M326.95,137.29a1.95,1.95 0 1,0 3.9,0a1.95,1.95 0 1,0 -3.9,0M329.55,136.65a1.95,1.95 0 1,0 3.9,0a1.95,1.95 0 1,0 -3.9,0M332.15,135.89a1.95,1.95 0 1,0 3.9,0a1.95,1.95 0 1,0 -3.9,0M334.75,134.94a1.95,1.95 0 1,0 3.9,0a1.95,1.95 0 1,0 -3.9,0M337.35,133.36a1.95,1.95 0 1,0 3.9,0a1.95,1.95 0 1,0 -3.9,0M339.95,131.76a1.95,1.95 0 1,0 3.9,0a1.95,1.95 0 1,0 -3.9,0M342.55,130.09a1.95,1.95 0 1,0 3.9,0a1.95,1.95 0 1,0 -3.9,0M345.15,127.23a1.95,1.95 0 1,0 3.9,0a1.95,1.95 0 1,0 -3.9,0M347.75,124.5a1.95,1.95 0 1,0 3.9,0a1.95,1.95 0 1,0 -3.9,0M350.35,121.39a1.95,1.95 0 1,0 3.9,0a1.95,1.95 0 1,0 -3.9,0M352.95,118.62a1.95,1.95 0 1,0 3.9,0a1.95,1.95 0 1,0 -3.9,0M355.55,116.09a1.95,1.95 0 1,0 3.9,0a1.95,1.95 0 1,0 -3.9,0M358.15,113.84a1.95,1.95 0 1,0 3.9,0a1.95,1.95 0 1,0 -3.9,0M360.75,112.03a1.95,1.95 0 1,0 3.9,0a1.95,1.95 0 1,0 -3.9,0M363.35,111.18a1.95,1.95 0 1,0 3.9,0a1.95,1.95 0 1,0 -3.9,0M365.95,111.23a1.95,1.95 0 1,0 3.9,0a1.95,1.95 0 1,0 -3.9,0M368.55,112.1a1.95,1.95 0 1,0 3.9,0a1.95,1.95 0 1,0 -3.9,0M371.15,113.89a1.95,1.95 0 1,0 3.9,0a1.95,1.95 0 1,0 -3.9,0M373.75,115.88a1.95,1.95 0 1,0 3.9,0a1.95,1.95 0 1,0 -3.9,0M376.35,118.71a1.95,1.95 0 1,0 3.9,0a1.95,1.95 0 1,0 -3.9,0M378.95,121.23a1.95,1.95 0 1,0 3.9,0a1.95,1.95 0 1,0 -3.9,0M381.55,123.65a1.95,1.95 0 1,0 3.9,0a1.95,1.95 0 1,0 -3.9,0M384.15,126.28a1.95,1.95 0 1,0 3.9,0a1.95,1.95 0 1,0 -3.9,0M386.75,128.81a1.95,1.95 0 1,0 3.9,0a1.95,1.95 0 1,0 -3.9,0M389.35,130.77a1.95,1.95 0 1,0 3.9,0a1.95,1.95 0 1,0 -3.9,0M391.95,132.31a1.95,1.95 0 1,0 3.9,0a1.95,1.95 0 1,0 -3.9,0M394.55,133.79a1.95,1.95 0 1,0 3.9,0a1.95,1.95 0 1,0 -3.9,0M397.15,135.08a1.95,1.95 0 1,0 3.9,0a1.95,1.95 0 1,0 -3.9,0M399.75,135.99a1.95,1.95 0 1,0 3.9,0a1.95,1.95 0 1,0 -3.9,0M402.35,136.73a1.95,1.95 0 1,0 3.9,0a1.95,1.95 0 1,0 -3.9,0M404.95,136.89a1.95,1.95 0 1,0 3.9,0a1.95,1.95 0 1,0 -3.9,0M407.55,137.5a1.95,1.95 0 1,0 3.9,0a1.95,1.95 0 1,0 -3.9,0M410.15,137.9a1.95,1.95 0 1,0 3.9,0a1.95,1.95 0 1,0 -3.9,0M412.75,137.97a1.95,1.95 0 1,0 3.9,0a1.95,1.95 0 1,0 -3.9,0M415.35,138.4a1.95,1.95 0 1,0 3.9,0a1.95,1.95 0 1,0 -3.9,0M417.95,138.06a1.95,1.95 0 1,0 3.9,0a1.95,1.95 0 1,0 -3.9,0M420.55,138.24a1.95,1.95 0 1,0 3.9,0a1.95,1.95 0 1,0 -3.9,0M423.15,138.34a1.95,1.95 0 1,0 3.9,0a1.95,1.95 0 1,0 -3.9,0M425.75,138.28a1.95,1.95 0 1,0 3.9,0a1.95,1.95 0 1,0 -3.9,0M428.35,138.4a1.95,1.95 0 1,0 3.9,0a1.95,1.95 0 1,0 -3.9,0M430.95,138.49a1.95,1.95 0 1,0 3.9,0a1.95,1.95 0 1,0 -3.9,0M433.55,138.47a1.95,1.95 0 1,0 3.9,0a1.95,1.95 0 1,0 -3.9,0M436.15,138.41a1.95,1.95 0 1,0 3.9,0a1.95,1.95 0 1,0 -3.9,0M438.75,138.45a1.95,1.95 0 1,0 3.9,0a1.95,1.95 0 1,0 -3.9,0M441.35,138.55a1.95,1.95 0 1,0 3.9,0a1.95,1.95 0 1,0 -3.9,0M443.95,138.28a1.95,1.95 0 1,0 3.9,0a1.95,1.95 0 1,0 -3.9,0M446.55,138.64a1.95,1.95 0 1,0 3.9,0a1.95,1.95 0 1,0 -3.9,0M449.15,138.4a1.95,1.95 0 1,0 3.9,0a1.95,1.95 0 1,0 -3.9,0M451.75,138.59a1.95,1.95 0 1,0 3.9,0a1.95,1.95 0 1,0 -3.9,0M454.35,138.44a1.95,1.95 0 1,0 3.9,0a1.95,1.95 0 1,0 -3.9,0M456.95,138.68a1.95,1.95 0 1,0 3.9,0a1.95,1.95 0 1,0 -3.9,0M459.55,138.6a1.95,1.95 0 1,0 3.9,0a1.95,1.95 0 1,0 -3.9,0M462.15,138.64a1.95,1.95 0 1,0 3.9,0a1.95,1.95 0 1,0 -3.9,0M464.75,138.55a1.95,1.95 0 1,0 3.9,0a1.95,1.95 0 1,0 -3.9,0M467.35,138.73a1.95,1.95 0 1,0 3.9,0a1.95,1.95 0 1,0 -3.9,0M469.95,139.03a1.95,1.95 0 1,0 3.9,0a1.95,1.95 0 1,0 -3.9,0M472.55,138.37a1.95,1.95 0 1,0 3.9,0a1.95,1.95 0 1,0 -3.9,0M475.15,138.84a1.95,1.95 0 1,0 3.9,0a1.95,1.95 0 1,0 -3.9,0M477.75,138.79a1.95,1.95 0 1,0 3.9,0a1.95,1.95 0 1,0 -3.9,0M480.35,138.67a1.95,1.95 0 1,0 3.9,0a1.95,1.95 0 1,0 -3.9,0M482.95,138.51a1.95,1.95 0 1,0 3.9,0a1.95,1.95 0 1,0 -3.9,0M485.55,139.07a1.95,1.95 0 1,0 3.9,0a1.95,1.95 0 1,0 -3.9,0M488.15,138.8a1.95,1.95 0 1,0 3.9,0a1.95,1.95 0 1,0 -3.9,0M490.75,138.97a1.95,1.95 0 1,0 3.9,0a1.95,1.95 0 1,0 -3.9,0M493.35,138.7a1.95,1.95 0 1,0 3.9,0a1.95,1.95 0 1,0 -3.9,0M495.95,138.63a1.95,1.95 0 1,0 3.9,0a1.95,1.95 0 1,0 -3.9,0M498.55,139a1.95,1.95 0 1,0 3.9,0a1.95,1.95 0 1,0 -3.9,0M501.15,138.94a1.95,1.95 0 1,0 3.9,0a1.95,1.95 0 1,0 -3.9,0M503.75,138.74a1.95,1.95 0 1,0 3.9,0a1.95,1.95 0 1,0 -3.9,0M506.35,138.76a1.95,1.95 0 1,0 3.9,0a1.95,1.95 0 1,0 -3.9,0M508.95,138.92a1.95,1.95 0 1,0 3.9,0a1.95,1.95 0 1,0 -3.9,0M511.55,138.65a1.95,1.95 0 1,0 3.9,0a1.95,1.95 0 1,0 -3.9,0M514.15,138.65a1.95,1.95 0 1,0 3.9,0a1.95,1.95 0 1,0 -3.9,0M516.75,138.8a1.95,1.95 0 1,0 3.9,0a1.95,1.95 0 1,0 -3.9,0M519.35,139.01a1.95,1.95 0 1,0 3.9,0a1.95,1.95 0 1,0 -3.9,0M521.95,138.99a1.95,1.95 0 1,0 3.9,0a1.95,1.95 0 1,0 -3.9,0M524.55,138.86a1.95,1.95 0 1,0 3.9,0a1.95,1.95 0 1,0 -3.9,0M527.15,139.09a1.95,1.95 0 1,0 3.9,0a1.95,1.95 0 1,0 -3.9,0M529.75,138.8a1.95,1.95 0 1,0 3.9,0a1.95,1.95 0 1,0 -3.9,0M532.35,138.73a1.95,1.95 0 1,0 3.9,0a1.95,1.95 0 1,0 -3.9,0" fill="none" stroke="#666" stroke-width="0.65"/>
<line x1="312.54" y1="140.8" x2="312.54" y2="137.8" stroke="#000" stroke-width="1.1"/>
<line x1="340.62" y1="140.8" x2="340.62" y2="137.8" stroke="#000" stroke-width="1.1"/>
<line x1="368.71" y1="140.8" x2="368.71" y2="137.8" stroke="#000" stroke-width="1.1"/>
<line x1="396.79" y1="140.8" x2="396.79" y2="137.8" stroke="#000" stroke-width="1.1"/>
<line x1="424.87" y1="140.8" x2="424.87" y2="137.8" stroke="#000" stroke-width="1.1"/>
<line x1="452.95" y1="140.8" x2="452.95" y2="137.8" stroke="#000" stroke-width="1.1"/>
<line x1="481.04" y1="140.8" x2="481.04" y2="137.8" stroke="#000" stroke-width="1.1"/>
<line x1="509.12" y1="140.8" x2="509.12" y2="137.8" stroke="#000" stroke-width="1.1"/>
<line x1="298.5" y1="140.8" x2="537.2" y2="140.8" stroke="#000" stroke-width="1.3"/>
<polyline points="299.3,172.21 299.8,172.2 300.3,172.2 300.8,172.2 301.3,172.2 301.8,172.19 302.3,172.19 302.8,172.19 303.3,172.18 303.8,172.18 304.3,172.18 304.8,172.17 305.3,172.17 305.8,172.17 306.3,172.16 306.8,172.16 307.3,172.15 307.8,172.15 308.3,172.15 308.8,172.14 309.3,172.14 309.8,172.13 310.3,172.13 310.8,172.12 311.3,172.12 311.8,172.11 312.3,172.11 312.8,172.1 313.3,172.1 313.8,172.09 314.3,172.08 314.8,172.08 315.3,172.07 315.8,172.06 316.3,172.05 316.8,172.05 317.3,172.04 317.8,172.03 318.3,172.02 318.8,172.01 319.3,172 319.8,171.99 320.3,171.97 320.8,171.96 321.3,171.95 321.8,171.93 322.3,171.91 322.8,171.89 323.3,171.87 323.8,171.85 324.3,171.83 324.8,171.81 325.3,171.78 325.8,171.75 326.3,171.72 326.8,171.68 327.3,171.65 327.8,171.61 328.3,171.56 328.8,171.51 329.3,171.46 329.8,171.41 330.3,171.35 330.8,171.28 331.3,171.21 331.8,171.13 332.3,171.05 332.8,170.96 333.3,170.86 333.8,170.76 334.3,170.64 334.8,170.52 335.3,170.39 335.8,170.25 336.3,170.1 336.8,169.94 337.3,169.77 337.8,169.59 338.3,169.39 338.8,169.19 339.3,168.97 339.8,168.73 340.3,168.49 340.8,168.23 341.3,167.95 341.8,167.66 342.3,167.35 342.8,167.03 343.3,166.69 343.8,166.34 344.3,165.97 344.8,165.59 345.3,165.18 345.8,164.77 346.3,164.33 346.8,163.88 347.3,163.42 347.8,162.94 348.3,162.45 348.8,161.94 349.3,161.42 349.8,160.89 350.3,160.35 350.8,159.8 351.3,159.23 351.8,158.66 352.3,158.09 352.8,157.5 353.3,156.92 353.8,156.33 354.3,155.74 354.8,155.15 355.3,154.56 355.8,153.98 356.3,153.41 356.8,152.84 357.3,152.29 357.8,151.74 358.3,151.21 358.8,150.7 359.3,150.21 359.8,149.74 360.3,149.29 360.8,148.87 361.3,148.47 361.8,148.11 362.3,147.77 362.8,147.47 363.3,147.2 363.8,146.97 364.3,146.78 364.8,146.62 365.3,146.51 365.8,146.44 366.3,146.4 366.8,146.41 367.3,146.46 367.8,146.55 368.3,146.68 368.8,146.84 369.3,147.05 369.8,147.3 370.3,147.57 370.8,147.89 371.3,148.23 371.8,148.61 372.3,149.02 372.8,149.45 373.3,149.91 373.8,150.39 374.3,150.89 374.8,151.4 375.3,151.94 375.8,152.49 376.3,153.05 376.8,153.62 377.3,154.19 377.8,154.78 378.3,155.36 378.8,155.95 379.3,156.54 379.8,157.13 380.3,157.72 380.8,158.3 381.3,158.87 381.8,159.44 382.3,160 382.8,160.55 383.3,161.09 383.8,161.61 384.3,162.13 384.8,162.63 385.3,163.12 385.8,163.59 386.3,164.05 386.8,164.49 387.3,164.92 387.8,165.33 388.3,165.73 388.8,166.11 389.3,166.47 389.8,166.82 390.3,167.15 390.8,167.47 391.3,167.77 391.8,168.05 392.3,168.32 392.8,168.58 393.3,168.82 393.8,169.05 394.3,169.26 394.8,169.47 395.3,169.66 395.8,169.83 396.3,170 396.8,170.16 397.3,170.3 397.8,170.44 398.3,170.57 398.8,170.69 399.3,170.79 399.8,170.9 400.3,170.99 400.8,171.08 401.3,171.16 401.8,171.23 402.3,171.3 402.8,171.37 403.3,171.43 403.8,171.48 404.3,171.53 404.8,171.58 405.3,171.62 405.8,171.66 406.3,171.7 406.8,171.73 407.3,171.76 407.8,171.79 408.3,171.82 408.8,171.84 409.3,171.86 409.8,171.88 410.3,171.9 410.8,171.92 411.3,171.94 411.8,171.95 412.3,171.96 412.8,171.98 413.3,171.99 413.8,172 414.3,172.01 414.8,172.02 415.3,172.03 415.8,172.04 416.3,172.05 416.8,172.06 417.3,172.07 417.8,172.07 418.3,172.08 418.8,172.09 419.3,172.09 419.8,172.1 420.3,172.1 420.8,172.11 421.3,172.12 421.8,172.12 422.3,172.13 422.8,172.13 423.3,172.13 423.8,172.14 424.3,172.14 424.8,172.15 425.3,172.15 425.8,172.16 426.3,172.16 426.8,172.16 427.3,172.17 427.8,172.17 428.3,172.17 428.8,172.18 429.3,172.18 429.8,172.18 430.3,172.19 430.8,172.19 431.3,172.19 431.8,172.2 432.3,172.2 432.8,172.2 433.3,172.21 433.8,172.21 434.3,172.21 434.8,172.21 435.3,172.22 435.8,172.22 436.3,172.22 436.8,172.22 437.3,172.23 437.8,172.23 438.3,172.23 438.8,172.23 439.3,172.24 439.8,172.24 440.3,172.24 440.8,172.24 441.3,172.24 441.8,172.25 442.3,172.25 442.8,172.25 443.3,172.25 443.8,172.25 444.3,172.25 444.8,172.26 445.3,172.26 445.8,172.26 446.3,172.26 446.8,172.26 447.3,172.27 447.8,172.27 448.3,172.27 448.8,172.27 449.3,172.27 449.8,172.27 450.3,172.27 450.8,172.28 451.3,172.28 451.8,172.28 452.3,172.28 452.8,172.28 453.3,172.28 453.8,172.28 454.3,172.29 454.8,172.29 455.3,172.29 455.8,172.29 456.3,172.29 456.8,172.29 457.3,172.29 457.8,172.29 458.3,172.29 458.8,172.3 459.3,172.3 459.8,172.3 460.3,172.3 460.8,172.3 461.3,172.3 461.8,172.3 462.3,172.3 462.8,172.3 463.3,172.3 463.8,172.31 464.3,172.31 464.8,172.31 465.3,172.31 465.8,172.31 466.3,172.31 466.8,172.31 467.3,172.31 467.8,172.31 468.3,172.31 468.8,172.31 469.3,172.32 469.8,172.32 470.3,172.32 470.8,172.32 471.3,172.32 471.8,172.32 472.3,172.32 472.8,172.32 473.3,172.32 473.8,172.32 474.3,172.32 474.8,172.32 475.3,172.32 475.8,172.33 476.3,172.33 476.8,172.33 477.3,172.33 477.8,172.33 478.3,172.33 478.8,172.33 479.3,172.33 479.8,172.33 480.3,172.33 480.8,172.33 481.3,172.33 481.8,172.33 482.3,172.33 482.8,172.33 483.3,172.33 483.8,172.33 484.3,172.34 484.8,172.34 485.3,172.34 485.8,172.34 486.3,172.34 486.8,172.34 487.3,172.34 487.8,172.34 488.3,172.34 488.8,172.34 489.3,172.34 489.8,172.34 490.3,172.34 490.8,172.34 491.3,172.34 491.8,172.34 492.3,172.34 492.8,172.34 493.3,172.34 493.8,172.34 494.3,172.34 494.8,172.35 495.3,172.35 495.8,172.35 496.3,172.35 496.8,172.35 497.3,172.35 497.8,172.35 498.3,172.35 498.8,172.35 499.3,172.35 499.8,172.35 500.3,172.35 500.8,172.35 501.3,172.35 501.8,172.35 502.3,172.35 502.8,172.35 503.3,172.35 503.8,172.35 504.3,172.35 504.8,172.35 505.3,172.35 505.8,172.35 506.3,172.35 506.8,172.35 507.3,172.35 507.8,172.35 508.3,172.36 508.8,172.36 509.3,172.36 509.8,172.36 510.3,172.36 510.8,172.36 511.3,172.36 511.8,172.36 512.3,172.36 512.8,172.36 513.3,172.36 513.8,172.36 514.3,172.36 514.8,172.36 515.3,172.36 515.8,172.36 516.3,172.36 516.8,172.36 517.3,172.36 517.8,172.36 518.3,172.36 518.8,172.36 519.3,172.36 519.8,172.36 520.3,172.36 520.8,172.36 521.3,172.36 521.8,172.36 522.3,172.36 522.8,172.36 523.3,172.36 523.8,172.36 524.3,172.36 524.8,172.36 525.3,172.36 525.8,172.36 526.3,172.36 526.8,172.36 527.3,172.36 527.8,172.37 528.3,172.37 528.8,172.37 529.3,172.37 529.8,172.37 530.3,172.37 530.8,172.37 531.3,172.37 531.8,172.37 532.3,172.37 532.8,172.37 533.3,172.37 533.8,172.37 534.3,172.37 534.8,172.37 535.3,172.37 535.8,172.37 536.3,172.37" fill="none" stroke="#f0272d" stroke-width="1.4" stroke-linejoin="round" />
<polyline points="299.3,172.4 299.8,172.4 300.3,172.4 300.8,172.4 301.3,172.4 301.8,172.4 302.3,172.4 302.8,172.4 303.3,172.4 303.8,172.4 304.3,172.4 304.8,172.4 305.3,172.4 305.8,172.4 306.3,172.4 306.8,172.4 307.3,172.4 307.8,172.4 308.3,172.4 308.8,172.4 309.3,172.4 309.8,172.4 310.3,172.4 310.8,172.4 311.3,172.4 311.8,172.4 312.3,172.4 312.8,172.4 313.3,172.4 313.8,172.4 314.3,172.4 314.8,172.4 315.3,172.4 315.8,172.4 316.3,172.4 316.8,172.4 317.3,172.4 317.8,172.4 318.3,172.4 318.8,172.4 319.3,172.4 319.8,172.4 320.3,172.4 320.8,172.4 321.3,172.4 321.8,172.4 322.3,172.4 322.8,172.4 323.3,172.4 323.8,172.4 324.3,172.4 324.8,172.4 325.3,172.4 325.8,172.4 326.3,172.4 326.8,172.4 327.3,172.4 327.8,172.4 328.3,172.4 328.8,172.4 329.3,172.4 329.8,172.4 330.3,172.4 330.8,172.4 331.3,172.4 331.8,172.4 332.3,172.4 332.8,172.4 333.3,172.4 333.8,172.4 334.3,172.4 334.8,172.4 335.3,172.4 335.8,172.4 336.3,172.4 336.8,172.4 337.3,172.4 337.8,172.4 338.3,172.4 338.8,172.4 339.3,172.4 339.8,172.4 340.3,172.4 340.8,172.4 341.3,172.4 341.8,172.4 342.3,172.4 342.8,172.4 343.3,172.4 343.8,172.4 344.3,172.4 344.8,172.4 345.3,172.4 345.8,172.4 346.3,172.4 346.8,172.4 347.3,172.4 347.8,172.4 348.3,172.4 348.8,172.4 349.3,172.4 349.8,172.4 350.3,172.4 350.8,172.4 351.3,172.4 351.8,172.4 352.3,172.4 352.8,172.4 353.3,172.4 353.8,172.4 354.3,172.4 354.8,172.4 355.3,172.4 355.8,172.4 356.3,172.4 356.8,172.4 357.3,172.4 357.8,172.4 358.3,172.4 358.8,172.4 359.3,172.4 359.8,172.4 360.3,172.4 360.8,172.4 361.3,172.4 361.8,172.4 362.3,172.4 362.8,172.4 363.3,172.4 363.8,172.4 364.3,172.4 364.8,172.4 365.3,172.4 365.8,172.4 366.3,172.4 366.8,172.4 367.3,172.4 367.8,172.4 368.3,172.4 368.8,172.4 369.3,172.4 369.8,172.4 370.3,172.4 370.8,172.4 371.3,172.4 371.8,172.4 372.3,172.4 372.8,172.4 373.3,172.4 373.8,172.4 374.3,172.4 374.8,172.4 375.3,172.4 375.8,172.4 376.3,172.4 376.8,172.39 377.3,172.39 377.8,172.39 378.3,172.39 378.8,172.39 379.3,172.39 379.8,172.39 380.3,172.39 380.8,172.39 381.3,172.39 381.8,172.39 382.3,172.39 382.8,172.39 383.3,172.39 383.8,172.39 384.3,172.39 384.8,172.39 385.3,172.39 385.8,172.39 386.3,172.39 386.8,172.39 387.3,172.39 387.8,172.39 388.3,172.39 388.8,172.39 389.3,172.39 389.8,172.39 390.3,172.39 390.8,172.39 391.3,172.39 391.8,172.39 392.3,172.39 392.8,172.39 393.3,172.39 393.8,172.39 394.3,172.39 394.8,172.39 395.3,172.39 395.8,172.39 396.3,172.39 396.8,172.39 397.3,172.39 397.8,172.39 398.3,172.39 398.8,172.39 399.3,172.39 399.8,172.39 400.3,172.39 400.8,172.39 401.3,172.39 401.8,172.39 402.3,172.39 402.8,172.39 403.3,172.39 403.8,172.39 404.3,172.39 404.8,172.39 405.3,172.39 405.8,172.39 406.3,172.39 406.8,172.39 407.3,172.39 407.8,172.39 408.3,172.39 408.8,172.39 409.3,172.39 409.8,172.39 410.3,172.39 410.8,172.38 411.3,172.38 411.8,172.38 412.3,172.38 412.8,172.38 413.3,172.38 413.8,172.38 414.3,172.38 414.8,172.38 415.3,172.38 415.8,172.38 416.3,172.38 416.8,172.38 417.3,172.37 417.8,172.37 418.3,172.37 418.8,172.37 419.3,172.37 419.8,172.37 420.3,172.37 420.8,172.36 421.3,172.36 421.8,172.36 422.3,172.36 422.8,172.35 423.3,172.35 423.8,172.35 424.3,172.35 424.8,172.34 425.3,172.34 425.8,172.34 426.3,172.33 426.8,172.33 427.3,172.32 427.8,172.32 428.3,172.31 428.8,172.31 429.3,172.3 429.8,172.3 430.3,172.29 430.8,172.28 431.3,172.28 431.8,172.27 432.3,172.26 432.8,172.26 433.3,172.25 433.8,172.24 434.3,172.23 434.8,172.22 435.3,172.21 435.8,172.2 436.3,172.19 436.8,172.18 437.3,172.17 437.8,172.16 438.3,172.15 438.8,172.14 439.3,172.12 439.8,172.11 440.3,172.1 440.8,172.08 441.3,172.07 441.8,172.06 442.3,172.04 442.8,172.03 443.3,172.01 443.8,172 444.3,171.98 444.8,171.97 445.3,171.95 445.8,171.94 446.3,171.92 446.8,171.9 447.3,171.89 447.8,171.87 448.3,171.86 448.8,171.84 449.3,171.83 449.8,171.81 450.3,171.8 450.8,171.78 451.3,171.77 451.8,171.75 452.3,171.74 452.8,171.73 453.3,171.71 453.8,171.7 454.3,171.69 454.8,171.68 455.3,171.67 455.8,171.66 456.3,171.65 456.8,171.64 457.3,171.63 457.8,171.62 458.3,171.62 458.8,171.61 459.3,171.61 459.8,171.6 460.3,171.6 460.8,171.6 461.3,171.6 461.8,171.6 462.3,171.6 462.8,171.6 463.3,171.61 463.8,171.61 464.3,171.62 464.8,171.62 465.3,171.63 465.8,171.64 466.3,171.64 466.8,171.65 467.3,171.66 467.8,171.67 468.3,171.68 468.8,171.7 469.3,171.71 469.8,171.72 470.3,171.73 470.8,171.75 471.3,171.76 471.8,171.78 472.3,171.79 472.8,171.81 473.3,171.82 473.8,171.84 474.3,171.85 474.8,171.87 475.3,171.88 475.8,171.9 476.3,171.92 476.8,171.93 477.3,171.95 477.8,171.96 478.3,171.98 478.8,171.99 479.3,172.01 479.8,172.02 480.3,172.04 480.8,172.05 481.3,172.07 481.8,172.08 482.3,172.09 482.8,172.11 483.3,172.12 483.8,172.13 484.3,172.14 484.8,172.16 485.3,172.17 485.8,172.18 486.3,172.19 486.8,172.2 487.3,172.21 487.8,172.22 488.3,172.23 488.8,172.24 489.3,172.25 489.8,172.25 490.3,172.26 490.8,172.27 491.3,172.28 491.8,172.28 492.3,172.29 492.8,172.3 493.3,172.3 493.8,172.31 494.3,172.31 494.8,172.32 495.3,172.32 495.8,172.33 496.3,172.33 496.8,172.33 497.3,172.34 497.8,172.34 498.3,172.34 498.8,172.35 499.3,172.35 499.8,172.35 500.3,172.36 500.8,172.36 501.3,172.36 501.8,172.36 502.3,172.36 502.8,172.37 503.3,172.37 503.8,172.37 504.3,172.37 504.8,172.37 505.3,172.37 505.8,172.38 506.3,172.38 506.8,172.38 507.3,172.38 507.8,172.38 508.3,172.38 508.8,172.38 509.3,172.38 509.8,172.38 510.3,172.38 510.8,172.38 511.3,172.38 511.8,172.38 512.3,172.38 512.8,172.39 513.3,172.39 513.8,172.39 514.3,172.39 514.8,172.39 515.3,172.39 515.8,172.39 516.3,172.39 516.8,172.39 517.3,172.39 517.8,172.39 518.3,172.39 518.8,172.39 519.3,172.39 519.8,172.39 520.3,172.39 520.8,172.39 521.3,172.39 521.8,172.39 522.3,172.39 522.8,172.39 523.3,172.39 523.8,172.39 524.3,172.39 524.8,172.39 525.3,172.39 525.8,172.39 526.3,172.39 526.8,172.39 527.3,172.39 527.8,172.39 528.3,172.39 528.8,172.39 529.3,172.39 529.8,172.39 530.3,172.39 530.8,172.39 531.3,172.39 531.8,172.39 532.3,172.39 532.8,172.39 533.3,172.39 533.8,172.39 534.3,172.39 534.8,172.39 535.3,172.39 535.8,172.39 536.3,172.39" fill="none" stroke="#1f6fe6" stroke-width="1.4" stroke-linejoin="round" />
<path d="M298.35,172.23a1.95,1.95 0 1,0 3.9,0a1.95,1.95 0 1,0 -3.9,0M300.95,172.18a1.95,1.95 0 1,0 3.9,0a1.95,1.95 0 1,0 -3.9,0M303.55,172.16a1.95,1.95 0 1,0 3.9,0a1.95,1.95 0 1,0 -3.9,0M306.15,172.03a1.95,1.95 0 1,0 3.9,0a1.95,1.95 0 1,0 -3.9,0M308.75,172.16a1.95,1.95 0 1,0 3.9,0a1.95,1.95 0 1,0 -3.9,0M311.35,172.09a1.95,1.95 0 1,0 3.9,0a1.95,1.95 0 1,0 -3.9,0M313.95,172.28a1.95,1.95 0 1,0 3.9,0a1.95,1.95 0 1,0 -3.9,0M316.55,171.81a1.95,1.95 0 1,0 3.9,0a1.95,1.95 0 1,0 -3.9,0M319.15,172.47a1.95,1.95 0 1,0 3.9,0a1.95,1.95 0 1,0 -3.9,0M321.75,171.21a1.95,1.95 0 1,0 3.9,0a1.95,1.95 0 1,0 -3.9,0M324.35,171.73a1.95,1.95 0 1,0 3.9,0a1.95,1.95 0 1,0 -3.9,0M326.95,171.68a1.95,1.95 0 1,0 3.9,0a1.95,1.95 0 1,0 -3.9,0M329.55,171.13a1.95,1.95 0 1,0 3.9,0a1.95,1.95 0 1,0 -3.9,0M332.15,170.53a1.95,1.95 0 1,0 3.9,0a1.95,1.95 0 1,0 -3.9,0M334.75,169.96a1.95,1.95 0 1,0 3.9,0a1.95,1.95 0 1,0 -3.9,0M337.35,169.11a1.95,1.95 0 1,0 3.9,0a1.95,1.95 0 1,0 -3.9,0M339.95,167.85a1.95,1.95 0 1,0 3.9,0a1.95,1.95 0 1,0 -3.9,0M342.55,165.5a1.95,1.95 0 1,0 3.9,0a1.95,1.95 0 1,0 -3.9,0M345.15,163.65a1.95,1.95 0 1,0 3.9,0a1.95,1.95 0 1,0 -3.9,0M347.75,160.86a1.95,1.95 0 1,0 3.9,0a1.95,1.95 0 1,0 -3.9,0M350.35,158.3a1.95,1.95 0 1,0 3.9,0a1.95,1.95 0 1,0 -3.9,0M352.95,154.92a1.95,1.95 0 1,0 3.9,0a1.95,1.95 0 1,0 -3.9,0M355.55,152.09a1.95,1.95 0 1,0 3.9,0a1.95,1.95 0 1,0 -3.9,0M358.15,149.68a1.95,1.95 0 1,0 3.9,0a1.95,1.95 0 1,0 -3.9,0M360.75,147.45a1.95,1.95 0 1,0 3.9,0a1.95,1.95 0 1,0 -3.9,0M363.35,146.55a1.95,1.95 0 1,0 3.9,0a1.95,1.95 0 1,0 -3.9,0M365.95,146.39a1.95,1.95 0 1,0 3.9,0a1.95,1.95 0 1,0 -3.9,0M368.55,147.62a1.95,1.95 0 1,0 3.9,0a1.95,1.95 0 1,0 -3.9,0M371.15,149.3a1.95,1.95 0 1,0 3.9,0a1.95,1.95 0 1,0 -3.9,0M373.75,152.18a1.95,1.95 0 1,0 3.9,0a1.95,1.95 0 1,0 -3.9,0M376.35,155.23a1.95,1.95 0 1,0 3.9,0a1.95,1.95 0 1,0 -3.9,0M378.95,158.24a1.95,1.95 0 1,0 3.9,0a1.95,1.95 0 1,0 -3.9,0M381.55,161.72a1.95,1.95 0 1,0 3.9,0a1.95,1.95 0 1,0 -3.9,0M384.15,163.37a1.95,1.95 0 1,0 3.9,0a1.95,1.95 0 1,0 -3.9,0M386.75,165.54a1.95,1.95 0 1,0 3.9,0a1.95,1.95 0 1,0 -3.9,0M389.35,167.79a1.95,1.95 0 1,0 3.9,0a1.95,1.95 0 1,0 -3.9,0M391.95,169.19a1.95,1.95 0 1,0 3.9,0a1.95,1.95 0 1,0 -3.9,0M394.55,170.07a1.95,1.95 0 1,0 3.9,0a1.95,1.95 0 1,0 -3.9,0M397.15,170.96a1.95,1.95 0 1,0 3.9,0a1.95,1.95 0 1,0 -3.9,0M399.75,171.63a1.95,1.95 0 1,0 3.9,0a1.95,1.95 0 1,0 -3.9,0M402.35,171.4a1.95,1.95 0 1,0 3.9,0a1.95,1.95 0 1,0 -3.9,0M404.95,171.43a1.95,1.95 0 1,0 3.9,0a1.95,1.95 0 1,0 -3.9,0M407.55,171.8a1.95,1.95 0 1,0 3.9,0a1.95,1.95 0 1,0 -3.9,0M410.15,172.17a1.95,1.95 0 1,0 3.9,0a1.95,1.95 0 1,0 -3.9,0M412.75,172.07a1.95,1.95 0 1,0 3.9,0a1.95,1.95 0 1,0 -3.9,0M415.35,171.98a1.95,1.95 0 1,0 3.9,0a1.95,1.95 0 1,0 -3.9,0M417.95,172.11a1.95,1.95 0 1,0 3.9,0a1.95,1.95 0 1,0 -3.9,0M420.55,172.12a1.95,1.95 0 1,0 3.9,0a1.95,1.95 0 1,0 -3.9,0M423.15,171.72a1.95,1.95 0 1,0 3.9,0a1.95,1.95 0 1,0 -3.9,0M425.75,172.16a1.95,1.95 0 1,0 3.9,0a1.95,1.95 0 1,0 -3.9,0M428.35,171.89a1.95,1.95 0 1,0 3.9,0a1.95,1.95 0 1,0 -3.9,0M430.95,171.99a1.95,1.95 0 1,0 3.9,0a1.95,1.95 0 1,0 -3.9,0M433.55,171.9a1.95,1.95 0 1,0 3.9,0a1.95,1.95 0 1,0 -3.9,0M436.15,171.98a1.95,1.95 0 1,0 3.9,0a1.95,1.95 0 1,0 -3.9,0M438.75,172.1a1.95,1.95 0 1,0 3.9,0a1.95,1.95 0 1,0 -3.9,0M441.35,171.8a1.95,1.95 0 1,0 3.9,0a1.95,1.95 0 1,0 -3.9,0M443.95,171.81a1.95,1.95 0 1,0 3.9,0a1.95,1.95 0 1,0 -3.9,0M446.55,171.89a1.95,1.95 0 1,0 3.9,0a1.95,1.95 0 1,0 -3.9,0M449.15,171.73a1.95,1.95 0 1,0 3.9,0a1.95,1.95 0 1,0 -3.9,0M451.75,171.43a1.95,1.95 0 1,0 3.9,0a1.95,1.95 0 1,0 -3.9,0M454.35,171.69a1.95,1.95 0 1,0 3.9,0a1.95,1.95 0 1,0 -3.9,0M456.95,171.41a1.95,1.95 0 1,0 3.9,0a1.95,1.95 0 1,0 -3.9,0M459.55,171.43a1.95,1.95 0 1,0 3.9,0a1.95,1.95 0 1,0 -3.9,0M462.15,171.55a1.95,1.95 0 1,0 3.9,0a1.95,1.95 0 1,0 -3.9,0M464.75,171.86a1.95,1.95 0 1,0 3.9,0a1.95,1.95 0 1,0 -3.9,0M467.35,171.43a1.95,1.95 0 1,0 3.9,0a1.95,1.95 0 1,0 -3.9,0M469.95,171.6a1.95,1.95 0 1,0 3.9,0a1.95,1.95 0 1,0 -3.9,0M472.55,171.8a1.95,1.95 0 1,0 3.9,0a1.95,1.95 0 1,0 -3.9,0M475.15,171.67a1.95,1.95 0 1,0 3.9,0a1.95,1.95 0 1,0 -3.9,0M477.75,171.96a1.95,1.95 0 1,0 3.9,0a1.95,1.95 0 1,0 -3.9,0M480.35,172.27a1.95,1.95 0 1,0 3.9,0a1.95,1.95 0 1,0 -3.9,0M482.95,171.71a1.95,1.95 0 1,0 3.9,0a1.95,1.95 0 1,0 -3.9,0M485.55,172.14a1.95,1.95 0 1,0 3.9,0a1.95,1.95 0 1,0 -3.9,0M488.15,172.04a1.95,1.95 0 1,0 3.9,0a1.95,1.95 0 1,0 -3.9,0M490.75,172.65a1.95,1.95 0 1,0 3.9,0a1.95,1.95 0 1,0 -3.9,0M493.35,172.38a1.95,1.95 0 1,0 3.9,0a1.95,1.95 0 1,0 -3.9,0M495.95,172.4a1.95,1.95 0 1,0 3.9,0a1.95,1.95 0 1,0 -3.9,0M498.55,172.27a1.95,1.95 0 1,0 3.9,0a1.95,1.95 0 1,0 -3.9,0M501.15,172.09a1.95,1.95 0 1,0 3.9,0a1.95,1.95 0 1,0 -3.9,0M503.75,172.33a1.95,1.95 0 1,0 3.9,0a1.95,1.95 0 1,0 -3.9,0M506.35,172.39a1.95,1.95 0 1,0 3.9,0a1.95,1.95 0 1,0 -3.9,0M508.95,172.33a1.95,1.95 0 1,0 3.9,0a1.95,1.95 0 1,0 -3.9,0M511.55,172.7a1.95,1.95 0 1,0 3.9,0a1.95,1.95 0 1,0 -3.9,0M514.15,172.49a1.95,1.95 0 1,0 3.9,0a1.95,1.95 0 1,0 -3.9,0M516.75,172.15a1.95,1.95 0 1,0 3.9,0a1.95,1.95 0 1,0 -3.9,0M519.35,172.26a1.95,1.95 0 1,0 3.9,0a1.95,1.95 0 1,0 -3.9,0M521.95,172.4a1.95,1.95 0 1,0 3.9,0a1.95,1.95 0 1,0 -3.9,0M524.55,172.09a1.95,1.95 0 1,0 3.9,0a1.95,1.95 0 1,0 -3.9,0M527.15,172.3a1.95,1.95 0 1,0 3.9,0a1.95,1.95 0 1,0 -3.9,0M529.75,172.22a1.95,1.95 0 1,0 3.9,0a1.95,1.95 0 1,0 -3.9,0M532.35,172.38a1.95,1.95 0 1,0 3.9,0a1.95,1.95 0 1,0 -3.9,0" fill="none" stroke="#666" stroke-width="0.65"/>
<line x1="312.54" y1="174.4" x2="312.54" y2="171.4" stroke="#000" stroke-width="1.1"/>
<line x1="340.62" y1="174.4" x2="340.62" y2="171.4" stroke="#000" stroke-width="1.1"/>
<line x1="368.71" y1="174.4" x2="368.71" y2="171.4" stroke="#000" stroke-width="1.1"/>
<line x1="396.79" y1="174.4" x2="396.79" y2="171.4" stroke="#000" stroke-width="1.1"/>
<line x1="424.87" y1="174.4" x2="424.87" y2="171.4" stroke="#000" stroke-width="1.1"/>
<line x1="452.95" y1="174.4" x2="452.95" y2="171.4" stroke="#000" stroke-width="1.1"/>
<line x1="481.04" y1="174.4" x2="481.04" y2="171.4" stroke="#000" stroke-width="1.1"/>
<line x1="509.12" y1="174.4" x2="509.12" y2="171.4" stroke="#000" stroke-width="1.1"/>
<rect x="298.5" y="6.2" width="238.7" height="168.2" stroke="#000" stroke-width="1.4" fill="none"/>
<text x="302.34" y="189.2" font-size="13.6" textLength="20.4" lengthAdjust="spacingAndGlyphs" fill="#000">290</text>
<text x="358.47" y="189.2" font-size="13.6" textLength="20.4" lengthAdjust="spacingAndGlyphs" fill="#000">288</text>
<text x="414.6" y="189.2" font-size="13.6" textLength="20.4" lengthAdjust="spacingAndGlyphs" fill="#000">286</text>
<text x="470.7" y="189.2" font-size="13.6" textLength="20.4" lengthAdjust="spacingAndGlyphs" fill="#000">284</text>
<text x="527.03" y="189.2" font-size="13.6" textLength="20.4" lengthAdjust="spacingAndGlyphs" fill="#000">282</text>
<text x="360.7" y="202.6" font-size="13.8" textLength="119.5" lengthAdjust="spacingAndGlyphs" fill="#000">Binding Energy (eV)</text>
<text transform="translate(290.7,133.8) rotate(-90)" x="-0.47" y="0" font-size="13.6" textLength="84.02" lengthAdjust="spacingAndGlyphs" fill="#000">Intensity (a.u.)</text>
<text x="270.65" y="19.5" font-size="18.5" textLength="23.15" lengthAdjust="spacingAndGlyphs" fill="#000">(b)</text>
<text x="300.66" y="18.6" font-size="10.8" textLength="20.13" lengthAdjust="spacingAndGlyphs" fill="#000">C 1s</text>
<text x="341.25" y="25.9" font-size="11" textLength="22.69" lengthAdjust="spacingAndGlyphs" fill="#000">C=O</text>
<text x="456.43" y="28.4" font-size="11" textLength="20.25" lengthAdjust="spacingAndGlyphs" fill="#000">C-C</text>
<text x="491.84" y="21.5" font-size="10.8" textLength="42.23" lengthAdjust="spacingAndGlyphs" fill="#000">PCN-222</text>
<text x="386.79" y="58.4" font-size="10.8" textLength="31.55" lengthAdjust="spacingAndGlyphs" fill="#000">N=C-N</text>
<text x="433.47" y="64.4" font-size="10.8" textLength="99.09" lengthAdjust="spacingAndGlyphs" fill="#000">5 wt.% PCN-222/CNs</text>
<text x="433.47" y="98.9" font-size="10.8" textLength="99.09" lengthAdjust="spacingAndGlyphs" fill="#000">3 wt.% PCN-222/CNs</text>
<text x="433.04" y="132" font-size="10.8" textLength="99.52" lengthAdjust="spacingAndGlyphs" fill="#000">1 wt.% PCN-222/CNs</text>
<text x="512.76" y="165.8" font-size="10.8" textLength="19.79" lengthAdjust="spacingAndGlyphs" fill="#000">CNs</text>
<path d="M30,239.75a2.4,2.4 0 1,0 4.8,0a2.4,2.4 0 1,0 -4.8,0M32.9,240.34a2.4,2.4 0 1,0 4.8,0a2.4,2.4 0 1,0 -4.8,0M35.8,238.05a2.4,2.4 0 1,0 4.8,0a2.4,2.4 0 1,0 -4.8,0M38.7,237.93a2.4,2.4 0 1,0 4.8,0a2.4,2.4 0 1,0 -4.8,0M41.6,239.27a2.4,2.4 0 1,0 4.8,0a2.4,2.4 0 1,0 -4.8,0M44.5,240.75a2.4,2.4 0 1,0 4.8,0a2.4,2.4 0 1,0 -4.8,0M47.4,239.3a2.4,2.4 0 1,0 4.8,0a2.4,2.4 0 1,0 -4.8,0M50.3,237.58a2.4,2.4 0 1,0 4.8,0a2.4,2.4 0 1,0 -4.8,0M53.2,237.98a2.4,2.4 0 1,0 4.8,0a2.4,2.4 0 1,0 -4.8,0M56.1,238.73a2.4,2.4 0 1,0 4.8,0a2.4,2.4 0 1,0 -4.8,0M59,239.77a2.4,2.4 0 1,0 4.8,0a2.4,2.4 0 1,0 -4.8,0M61.9,238.68a2.4,2.4 0 1,0 4.8,0a2.4,2.4 0 1,0 -4.8,0M64.8,238.23a2.4,2.4 0 1,0 4.8,0a2.4,2.4 0 1,0 -4.8,0M67.7,238.29a2.4,2.4 0 1,0 4.8,0a2.4,2.4 0 1,0 -4.8,0M70.6,238.61a2.4,2.4 0 1,0 4.8,0a2.4,2.4 0 1,0 -4.8,0M73.5,237.49a2.4,2.4 0 1,0 4.8,0a2.4,2.4 0 1,0 -4.8,0M76.4,238.12a2.4,2.4 0 1,0 4.8,0a2.4,2.4 0 1,0 -4.8,0M79.3,238.21a2.4,2.4 0 1,0 4.8,0a2.4,2.4 0 1,0 -4.8,0M82.2,239.46a2.4,2.4 0 1,0 4.8,0a2.4,2.4 0 1,0 -4.8,0M85.1,237.35a2.4,2.4 0 1,0 4.8,0a2.4,2.4 0 1,0 -4.8,0M88,238.15a2.4,2.4 0 1,0 4.8,0a2.4,2.4 0 1,0 -4.8,0M90.9,235.64a2.4,2.4 0 1,0 4.8,0a2.4,2.4 0 1,0 -4.8,0M93.8,237.29a2.4,2.4 0 1,0 4.8,0a2.4,2.4 0 1,0 -4.8,0M96.7,236.12a2.4,2.4 0 1,0 4.8,0a2.4,2.4 0 1,0 -4.8,0M99.6,234.91a2.4,2.4 0 1,0 4.8,0a2.4,2.4 0 1,0 -4.8,0M102.5,234.99a2.4,2.4 0 1,0 4.8,0a2.4,2.4 0 1,0 -4.8,0M105.4,235.48a2.4,2.4 0 1,0 4.8,0a2.4,2.4 0 1,0 -4.8,0M108.3,233.63a2.4,2.4 0 1,0 4.8,0a2.4,2.4 0 1,0 -4.8,0M111.2,234.53a2.4,2.4 0 1,0 4.8,0a2.4,2.4 0 1,0 -4.8,0M114.1,234.46a2.4,2.4 0 1,0 4.8,0a2.4,2.4 0 1,0 -4.8,0M117,233.9a2.4,2.4 0 1,0 4.8,0a2.4,2.4 0 1,0 -4.8,0M119.9,233.15a2.4,2.4 0 1,0 4.8,0a2.4,2.4 0 1,0 -4.8,0M122.8,229.19a2.4,2.4 0 1,0 4.8,0a2.4,2.4 0 1,0 -4.8,0M125.7,229.96a2.4,2.4 0 1,0 4.8,0a2.4,2.4 0 1,0 -4.8,0M128.6,227.75a2.4,2.4 0 1,0 4.8,0a2.4,2.4 0 1,0 -4.8,0M131.5,228.26a2.4,2.4 0 1,0 4.8,0a2.4,2.4 0 1,0 -4.8,0M134.4,225.94a2.4,2.4 0 1,0 4.8,0a2.4,2.4 0 1,0 -4.8,0M137.3,224.65a2.4,2.4 0 1,0 4.8,0a2.4,2.4 0 1,0 -4.8,0M140.2,223.41a2.4,2.4 0 1,0 4.8,0a2.4,2.4 0 1,0 -4.8,0M143.1,220.84a2.4,2.4 0 1,0 4.8,0a2.4,2.4 0 1,0 -4.8,0M146,220.3a2.4,2.4 0 1,0 4.8,0a2.4,2.4 0 1,0 -4.8,0M148.9,218.39a2.4,2.4 0 1,0 4.8,0a2.4,2.4 0 1,0 -4.8,0M151.8,220.72a2.4,2.4 0 1,0 4.8,0a2.4,2.4 0 1,0 -4.8,0M154.7,217.7a2.4,2.4 0 1,0 4.8,0a2.4,2.4 0 1,0 -4.8,0M157.6,218.37a2.4,2.4 0 1,0 4.8,0a2.4,2.4 0 1,0 -4.8,0M160.5,217.05a2.4,2.4 0 1,0 4.8,0a2.4,2.4 0 1,0 -4.8,0M163.4,218.38a2.4,2.4 0 1,0 4.8,0a2.4,2.4 0 1,0 -4.8,0M166.3,220.41a2.4,2.4 0 1,0 4.8,0a2.4,2.4 0 1,0 -4.8,0M169.2,223.75a2.4,2.4 0 1,0 4.8,0a2.4,2.4 0 1,0 -4.8,0M172.1,225.43a2.4,2.4 0 1,0 4.8,0a2.4,2.4 0 1,0 -4.8,0M175,226.62a2.4,2.4 0 1,0 4.8,0a2.4,2.4 0 1,0 -4.8,0M177.9,227.27a2.4,2.4 0 1,0 4.8,0a2.4,2.4 0 1,0 -4.8,0M180.8,231.45a2.4,2.4 0 1,0 4.8,0a2.4,2.4 0 1,0 -4.8,0M183.7,229.64a2.4,2.4 0 1,0 4.8,0a2.4,2.4 0 1,0 -4.8,0M186.6,230.9a2.4,2.4 0 1,0 4.8,0a2.4,2.4 0 1,0 -4.8,0M189.5,233.21a2.4,2.4 0 1,0 4.8,0a2.4,2.4 0 1,0 -4.8,0M192.4,232.27a2.4,2.4 0 1,0 4.8,0a2.4,2.4 0 1,0 -4.8,0M195.3,234.13a2.4,2.4 0 1,0 4.8,0a2.4,2.4 0 1,0 -4.8,0M198.2,235.26a2.4,2.4 0 1,0 4.8,0a2.4,2.4 0 1,0 -4.8,0M201.1,234.41a2.4,2.4 0 1,0 4.8,0a2.4,2.4 0 1,0 -4.8,0M204,235.14a2.4,2.4 0 1,0 4.8,0a2.4,2.4 0 1,0 -4.8,0M206.9,234.92a2.4,2.4 0 1,0 4.8,0a2.4,2.4 0 1,0 -4.8,0M209.8,234.31a2.4,2.4 0 1,0 4.8,0a2.4,2.4 0 1,0 -4.8,0M212.7,231.76a2.4,2.4 0 1,0 4.8,0a2.4,2.4 0 1,0 -4.8,0M215.6,234.04a2.4,2.4 0 1,0 4.8,0a2.4,2.4 0 1,0 -4.8,0M218.5,235.53a2.4,2.4 0 1,0 4.8,0a2.4,2.4 0 1,0 -4.8,0M221.4,233.95a2.4,2.4 0 1,0 4.8,0a2.4,2.4 0 1,0 -4.8,0M224.3,235.32a2.4,2.4 0 1,0 4.8,0a2.4,2.4 0 1,0 -4.8,0M227.2,236.36a2.4,2.4 0 1,0 4.8,0a2.4,2.4 0 1,0 -4.8,0M230.1,237.8a2.4,2.4 0 1,0 4.8,0a2.4,2.4 0 1,0 -4.8,0M233,235.09a2.4,2.4 0 1,0 4.8,0a2.4,2.4 0 1,0 -4.8,0M235.9,236.2a2.4,2.4 0 1,0 4.8,0a2.4,2.4 0 1,0 -4.8,0M238.8,237.22a2.4,2.4 0 1,0 4.8,0a2.4,2.4 0 1,0 -4.8,0M241.7,237.74a2.4,2.4 0 1,0 4.8,0a2.4,2.4 0 1,0 -4.8,0M244.6,235.85a2.4,2.4 0 1,0 4.8,0a2.4,2.4 0 1,0 -4.8,0M247.5,239.53a2.4,2.4 0 1,0 4.8,0a2.4,2.4 0 1,0 -4.8,0M250.4,236.77a2.4,2.4 0 1,0 4.8,0a2.4,2.4 0 1,0 -4.8,0M253.3,238.97a2.4,2.4 0 1,0 4.8,0a2.4,2.4 0 1,0 -4.8,0M256.2,237.68a2.4,2.4 0 1,0 4.8,0a2.4,2.4 0 1,0 -4.8,0M259.1,238.44a2.4,2.4 0 1,0 4.8,0a2.4,2.4 0 1,0 -4.8,0M262,239.89a2.4,2.4 0 1,0 4.8,0a2.4,2.4 0 1,0 -4.8,0M264.9,238.92a2.4,2.4 0 1,0 4.8,0a2.4,2.4 0 1,0 -4.8,0" fill="none" stroke="#7a7a7a" stroke-width="0.8"/>
<polyline points="31.4,238.9 31.9,238.9 32.4,238.89 32.9,238.89 33.4,238.89 33.9,238.89 34.4,238.89 34.9,238.89 35.4,238.89 35.9,238.89 36.4,238.88 36.9,238.88 37.4,238.88 37.9,238.88 38.4,238.88 38.9,238.88 39.4,238.88 39.9,238.87 40.4,238.87 40.9,238.87 41.4,238.87 41.9,238.87 42.4,238.87 42.9,238.86 43.4,238.86 43.9,238.86 44.4,238.86 44.9,238.86 45.4,238.85 45.9,238.85 46.4,238.85 46.9,238.85 47.4,238.84 47.9,238.84 48.4,238.84 48.9,238.84 49.4,238.83 49.9,238.83 50.4,238.83 50.9,238.82 51.4,238.82 51.9,238.82 52.4,238.81 52.9,238.81 53.4,238.81 53.9,238.8 54.4,238.8 54.9,238.79 55.4,238.79 55.9,238.78 56.4,238.78 56.9,238.77 57.4,238.77 57.9,238.76 58.4,238.76 58.9,238.75 59.4,238.74 59.9,238.74 60.4,238.73 60.9,238.72 61.4,238.71 61.9,238.7 62.4,238.69 62.9,238.69 63.4,238.68 63.9,238.67 64.4,238.66 64.9,238.65 65.4,238.63 65.9,238.62 66.4,238.61 66.9,238.6 67.4,238.58 67.9,238.57 68.4,238.56 68.9,238.54 69.4,238.52 69.9,238.51 70.4,238.49 70.9,238.47 71.4,238.45 71.9,238.44 72.4,238.42 72.9,238.4 73.4,238.37 73.9,238.35 74.4,238.33 74.9,238.31 75.4,238.28 75.9,238.26 76.4,238.23 76.9,238.2 77.4,238.17 77.9,238.14 78.4,238.11 78.9,238.08 79.4,238.05 79.9,238.02 80.4,237.98 80.9,237.95 81.4,237.91 81.9,237.87 82.4,237.84 82.9,237.8 83.4,237.76 83.9,237.71 84.4,237.67 84.9,237.63 85.4,237.58 85.9,237.54 86.4,237.49 86.9,237.44 87.4,237.39 87.9,237.34 88.4,237.29 88.9,237.24 89.4,237.18 89.9,237.13 90.4,237.07 90.9,237.01 91.4,236.95 91.9,236.89 92.4,236.83 92.9,236.77 93.4,236.71 93.9,236.64 94.4,236.58 94.9,236.51 95.4,236.44 95.9,236.37 96.4,236.3 96.9,236.23 97.4,236.16 97.9,236.09 98.4,236.01 98.9,235.94 99.4,235.87 99.9,235.79 100.4,235.71 100.9,235.63 101.4,235.55 101.9,235.48 102.4,235.39 102.9,235.31 103.4,235.23 103.9,235.15 104.4,235.07 104.9,234.98 105.4,234.9 105.9,234.81 106.4,234.72 106.9,234.64 107.4,234.55 107.9,234.46 108.4,234.37 108.9,234.28 109.4,234.19 109.9,234.1 110.4,234 110.9,233.91 111.4,233.81 111.9,233.72 112.4,233.62 112.9,233.52 113.4,233.42 113.9,233.32 114.4,233.22 114.9,233.12 115.4,233.01 115.9,232.91 116.4,232.8 116.9,232.69 117.4,232.58 117.9,232.47 118.4,232.35 118.9,232.23 119.4,232.11 119.9,231.99 120.4,231.87 120.9,231.74 121.4,231.61 121.9,231.48 122.4,231.34 122.9,231.21 123.4,231.06 123.9,230.92 124.4,230.77 124.9,230.62 125.4,230.46 125.9,230.3 126.4,230.14 126.9,229.97 127.4,229.8 127.9,229.63 128.4,229.45 128.9,229.27 129.4,229.08 129.9,228.89 130.4,228.69 130.9,228.49 131.4,228.29 131.9,228.08 132.4,227.86 132.9,227.65 133.4,227.43 133.9,227.2 134.4,226.97 134.9,226.74 135.4,226.5 135.9,226.27 136.4,226.02 136.9,225.78 137.4,225.53 137.9,225.28 138.4,225.03 138.9,224.78 139.4,224.52 139.9,224.26 140.4,224.01 140.9,223.75 141.4,223.49 141.9,223.24 142.4,222.98 142.9,222.73 143.4,222.47 143.9,222.22 144.4,221.98 144.9,221.73 145.4,221.49 145.9,221.26 146.4,221.03 146.9,220.8 147.4,220.58 147.9,220.37 148.4,220.16 148.9,219.96 149.4,219.77 149.9,219.59 150.4,219.42 150.9,219.25 151.4,219.1 151.9,218.95 152.4,218.82 152.9,218.7 153.4,218.59 153.9,218.49 154.4,218.4 154.9,218.33 155.4,218.26 155.9,218.21 156.4,218.18 156.9,218.16 157.4,218.15 157.9,218.15 158.4,218.17 158.9,218.2 159.4,218.24 159.9,218.3 160.4,218.37 160.9,218.45 161.4,218.55 161.9,218.66 162.4,218.78 162.9,218.92 163.4,219.07 163.9,219.23 164.4,219.4 164.9,219.58 165.4,219.77 165.9,219.97 166.4,220.19 166.9,220.41 167.4,220.64 167.9,220.88 168.4,221.13 168.9,221.38 169.4,221.64 169.9,221.91 170.4,222.18 170.9,222.46 171.4,222.74 171.9,223.03 172.4,223.32 172.9,223.61 173.4,223.9 173.9,224.2 174.4,224.5 174.9,224.8 175.4,225.1 175.9,225.39 176.4,225.69 176.9,225.98 177.4,226.28 177.9,226.57 178.4,226.86 178.9,227.14 179.4,227.42 179.9,227.7 180.4,227.97 180.9,228.24 181.4,228.51 181.9,228.77 182.4,229.02 182.9,229.27 183.4,229.51 183.9,229.74 184.4,229.97 184.9,230.2 185.4,230.41 185.9,230.62 186.4,230.83 186.9,231.03 187.4,231.22 187.9,231.4 188.4,231.58 188.9,231.75 189.4,231.91 189.9,232.07 190.4,232.22 190.9,232.37 191.4,232.51 191.9,232.64 192.4,232.77 192.9,232.89 193.4,233.01 193.9,233.12 194.4,233.23 194.9,233.33 195.4,233.42 195.9,233.52 196.4,233.6 196.9,233.68 197.4,233.76 197.9,233.84 198.4,233.91 198.9,233.97 199.4,234.04 199.9,234.1 200.4,234.15 200.9,234.21 201.4,234.26 201.9,234.31 202.4,234.35 202.9,234.4 203.4,234.44 203.9,234.48 204.4,234.52 204.9,234.56 205.4,234.59 205.9,234.63 206.4,234.66 206.9,234.69 207.4,234.72 207.9,234.75 208.4,234.78 208.9,234.81 209.4,234.84 209.9,234.87 210.4,234.9 210.9,234.92 211.4,234.95 211.9,234.98 212.4,235 212.9,235.03 213.4,235.06 213.9,235.09 214.4,235.11 214.9,235.14 215.4,235.17 215.9,235.2 216.4,235.23 216.9,235.25 217.4,235.28 217.9,235.31 218.4,235.34 218.9,235.37 219.4,235.4 219.9,235.43 220.4,235.46 220.9,235.5 221.4,235.53 221.9,235.56 222.4,235.59 222.9,235.63 223.4,235.66 223.9,235.69 224.4,235.73 224.9,235.76 225.4,235.8 225.9,235.83 226.4,235.87 226.9,235.9 227.4,235.94 227.9,235.98 228.4,236.01 228.9,236.05 229.4,236.08 229.9,236.12 230.4,236.16 230.9,236.2 231.4,236.23 231.9,236.27 232.4,236.31 232.9,236.34 233.4,236.38 233.9,236.42 234.4,236.45 234.9,236.49 235.4,236.53 235.9,236.56 236.4,236.6 236.9,236.64 237.4,236.67 237.9,236.71 238.4,236.75 238.9,236.78 239.4,236.82 239.9,236.85 240.4,236.89 240.9,236.92 241.4,236.95 241.9,236.99 242.4,237.02 242.9,237.05 243.4,237.09 243.9,237.12 244.4,237.15 244.9,237.18 245.4,237.21 245.9,237.24 246.4,237.27 246.9,237.3 247.4,237.33 247.9,237.36 248.4,237.39 248.9,237.42 249.4,237.45 249.9,237.47 250.4,237.5 250.9,237.52 251.4,237.55 251.9,237.58 252.4,237.6 252.9,237.62 253.4,237.65 253.9,237.67 254.4,237.69 254.9,237.71 255.4,237.74 255.9,237.76 256.4,237.78 256.9,237.8 257.4,237.82 257.9,237.84 258.4,237.85 258.9,237.87 259.4,237.89 259.9,237.91 260.4,237.92 260.9,237.94 261.4,237.96 261.9,237.97 262.4,237.99 262.9,238 263.4,238.01 263.9,238.03 264.4,238.04 264.9,238.05 265.4,238.07 265.9,238.08 266.4,238.09 266.9,238.1 267.4,238.11 267.9,238.12" fill="none" stroke="#1f6fe6" stroke-width="1.4" stroke-linejoin="round" />
<line x1="60.41" y1="245.3" x2="60.41" y2="242.3" stroke="#000" stroke-width="1.1"/>
<line x1="90.23" y1="245.3" x2="90.23" y2="242.3" stroke="#000" stroke-width="1.1"/>
<line x1="120.04" y1="245.3" x2="120.04" y2="242.3" stroke="#000" stroke-width="1.1"/>
<line x1="149.85" y1="245.3" x2="149.85" y2="242.3" stroke="#000" stroke-width="1.1"/>
<line x1="179.66" y1="245.3" x2="179.66" y2="242.3" stroke="#000" stroke-width="1.1"/>
<line x1="209.48" y1="245.3" x2="209.48" y2="242.3" stroke="#000" stroke-width="1.1"/>
<line x1="239.29" y1="245.3" x2="239.29" y2="242.3" stroke="#000" stroke-width="1.1"/>
<line x1="30.6" y1="245.3" x2="269.1" y2="245.3" stroke="#000" stroke-width="1.3"/>
<path d="M30.3,274.36a2.1,2.1 0 1,0 4.2,0a2.1,2.1 0 1,0 -4.2,0M33.2,274.1a2.1,2.1 0 1,0 4.2,0a2.1,2.1 0 1,0 -4.2,0M36.1,274.71a2.1,2.1 0 1,0 4.2,0a2.1,2.1 0 1,0 -4.2,0M39,273.94a2.1,2.1 0 1,0 4.2,0a2.1,2.1 0 1,0 -4.2,0M41.9,273.71a2.1,2.1 0 1,0 4.2,0a2.1,2.1 0 1,0 -4.2,0M44.8,273.58a2.1,2.1 0 1,0 4.2,0a2.1,2.1 0 1,0 -4.2,0M47.7,273.18a2.1,2.1 0 1,0 4.2,0a2.1,2.1 0 1,0 -4.2,0M50.6,272.93a2.1,2.1 0 1,0 4.2,0a2.1,2.1 0 1,0 -4.2,0M53.5,272.98a2.1,2.1 0 1,0 4.2,0a2.1,2.1 0 1,0 -4.2,0M56.4,272.55a2.1,2.1 0 1,0 4.2,0a2.1,2.1 0 1,0 -4.2,0M59.3,272.58a2.1,2.1 0 1,0 4.2,0a2.1,2.1 0 1,0 -4.2,0M62.2,272.13a2.1,2.1 0 1,0 4.2,0a2.1,2.1 0 1,0 -4.2,0M65.1,271.56a2.1,2.1 0 1,0 4.2,0a2.1,2.1 0 1,0 -4.2,0M68,271.42a2.1,2.1 0 1,0 4.2,0a2.1,2.1 0 1,0 -4.2,0M70.9,271.26a2.1,2.1 0 1,0 4.2,0a2.1,2.1 0 1,0 -4.2,0M73.8,270.77a2.1,2.1 0 1,0 4.2,0a2.1,2.1 0 1,0 -4.2,0M76.7,270.91a2.1,2.1 0 1,0 4.2,0a2.1,2.1 0 1,0 -4.2,0M79.6,270.59a2.1,2.1 0 1,0 4.2,0a2.1,2.1 0 1,0 -4.2,0M82.5,270.56a2.1,2.1 0 1,0 4.2,0a2.1,2.1 0 1,0 -4.2,0M85.4,269.89a2.1,2.1 0 1,0 4.2,0a2.1,2.1 0 1,0 -4.2,0M88.3,269.71a2.1,2.1 0 1,0 4.2,0a2.1,2.1 0 1,0 -4.2,0M91.2,269.56a2.1,2.1 0 1,0 4.2,0a2.1,2.1 0 1,0 -4.2,0M94.1,269.27a2.1,2.1 0 1,0 4.2,0a2.1,2.1 0 1,0 -4.2,0M97,268.58a2.1,2.1 0 1,0 4.2,0a2.1,2.1 0 1,0 -4.2,0M99.9,268.8a2.1,2.1 0 1,0 4.2,0a2.1,2.1 0 1,0 -4.2,0M102.8,268.08a2.1,2.1 0 1,0 4.2,0a2.1,2.1 0 1,0 -4.2,0M105.7,268.22a2.1,2.1 0 1,0 4.2,0a2.1,2.1 0 1,0 -4.2,0M108.6,267.72a2.1,2.1 0 1,0 4.2,0a2.1,2.1 0 1,0 -4.2,0M111.5,267.57a2.1,2.1 0 1,0 4.2,0a2.1,2.1 0 1,0 -4.2,0M114.4,267.33a2.1,2.1 0 1,0 4.2,0a2.1,2.1 0 1,0 -4.2,0M117.3,267.53a2.1,2.1 0 1,0 4.2,0a2.1,2.1 0 1,0 -4.2,0M120.2,268.02a2.1,2.1 0 1,0 4.2,0a2.1,2.1 0 1,0 -4.2,0M123.1,267.28a2.1,2.1 0 1,0 4.2,0a2.1,2.1 0 1,0 -4.2,0M126,267.48a2.1,2.1 0 1,0 4.2,0a2.1,2.1 0 1,0 -4.2,0M128.9,266.93a2.1,2.1 0 1,0 4.2,0a2.1,2.1 0 1,0 -4.2,0M131.8,265.7a2.1,2.1 0 1,0 4.2,0a2.1,2.1 0 1,0 -4.2,0M134.7,264.71a2.1,2.1 0 1,0 4.2,0a2.1,2.1 0 1,0 -4.2,0M137.6,262.98a2.1,2.1 0 1,0 4.2,0a2.1,2.1 0 1,0 -4.2,0M140.5,260.42a2.1,2.1 0 1,0 4.2,0a2.1,2.1 0 1,0 -4.2,0M143.4,257.87a2.1,2.1 0 1,0 4.2,0a2.1,2.1 0 1,0 -4.2,0M146.3,255.67a2.1,2.1 0 1,0 4.2,0a2.1,2.1 0 1,0 -4.2,0M149.2,253.21a2.1,2.1 0 1,0 4.2,0a2.1,2.1 0 1,0 -4.2,0M152.1,251.85a2.1,2.1 0 1,0 4.2,0a2.1,2.1 0 1,0 -4.2,0M155,250.59a2.1,2.1 0 1,0 4.2,0a2.1,2.1 0 1,0 -4.2,0M157.9,250.38a2.1,2.1 0 1,0 4.2,0a2.1,2.1 0 1,0 -4.2,0M160.8,251.76a2.1,2.1 0 1,0 4.2,0a2.1,2.1 0 1,0 -4.2,0M163.7,253.59a2.1,2.1 0 1,0 4.2,0a2.1,2.1 0 1,0 -4.2,0M166.6,256.74a2.1,2.1 0 1,0 4.2,0a2.1,2.1 0 1,0 -4.2,0M169.5,259.83a2.1,2.1 0 1,0 4.2,0a2.1,2.1 0 1,0 -4.2,0M172.4,262.75a2.1,2.1 0 1,0 4.2,0a2.1,2.1 0 1,0 -4.2,0M175.3,265.59a2.1,2.1 0 1,0 4.2,0a2.1,2.1 0 1,0 -4.2,0M178.2,268.5a2.1,2.1 0 1,0 4.2,0a2.1,2.1 0 1,0 -4.2,0M181.1,270.29a2.1,2.1 0 1,0 4.2,0a2.1,2.1 0 1,0 -4.2,0M184,272.18a2.1,2.1 0 1,0 4.2,0a2.1,2.1 0 1,0 -4.2,0M186.9,272.83a2.1,2.1 0 1,0 4.2,0a2.1,2.1 0 1,0 -4.2,0M189.8,273.73a2.1,2.1 0 1,0 4.2,0a2.1,2.1 0 1,0 -4.2,0M192.7,274.15a2.1,2.1 0 1,0 4.2,0a2.1,2.1 0 1,0 -4.2,0M195.6,274.34a2.1,2.1 0 1,0 4.2,0a2.1,2.1 0 1,0 -4.2,0M198.5,275.29a2.1,2.1 0 1,0 4.2,0a2.1,2.1 0 1,0 -4.2,0M201.4,275.16a2.1,2.1 0 1,0 4.2,0a2.1,2.1 0 1,0 -4.2,0M204.3,274.73a2.1,2.1 0 1,0 4.2,0a2.1,2.1 0 1,0 -4.2,0M207.2,275.05a2.1,2.1 0 1,0 4.2,0a2.1,2.1 0 1,0 -4.2,0M210.1,274.51a2.1,2.1 0 1,0 4.2,0a2.1,2.1 0 1,0 -4.2,0M213,275.16a2.1,2.1 0 1,0 4.2,0a2.1,2.1 0 1,0 -4.2,0M215.9,275.13a2.1,2.1 0 1,0 4.2,0a2.1,2.1 0 1,0 -4.2,0M218.8,274.83a2.1,2.1 0 1,0 4.2,0a2.1,2.1 0 1,0 -4.2,0M221.7,274.83a2.1,2.1 0 1,0 4.2,0a2.1,2.1 0 1,0 -4.2,0M224.6,274.95a2.1,2.1 0 1,0 4.2,0a2.1,2.1 0 1,0 -4.2,0M227.5,275a2.1,2.1 0 1,0 4.2,0a2.1,2.1 0 1,0 -4.2,0M230.4,274.83a2.1,2.1 0 1,0 4.2,0a2.1,2.1 0 1,0 -4.2,0M233.3,274.72a2.1,2.1 0 1,0 4.2,0a2.1,2.1 0 1,0 -4.2,0M236.2,274.85a2.1,2.1 0 1,0 4.2,0a2.1,2.1 0 1,0 -4.2,0M239.1,274.81a2.1,2.1 0 1,0 4.2,0a2.1,2.1 0 1,0 -4.2,0M242,275.07a2.1,2.1 0 1,0 4.2,0a2.1,2.1 0 1,0 -4.2,0M244.9,274.92a2.1,2.1 0 1,0 4.2,0a2.1,2.1 0 1,0 -4.2,0M247.8,274.95a2.1,2.1 0 1,0 4.2,0a2.1,2.1 0 1,0 -4.2,0M250.7,274.55a2.1,2.1 0 1,0 4.2,0a2.1,2.1 0 1,0 -4.2,0M253.6,274.82a2.1,2.1 0 1,0 4.2,0a2.1,2.1 0 1,0 -4.2,0M256.5,274.82a2.1,2.1 0 1,0 4.2,0a2.1,2.1 0 1,0 -4.2,0M259.4,274.79a2.1,2.1 0 1,0 4.2,0a2.1,2.1 0 1,0 -4.2,0M262.3,274.88a2.1,2.1 0 1,0 4.2,0a2.1,2.1 0 1,0 -4.2,0M265.2,274.84a2.1,2.1 0 1,0 4.2,0a2.1,2.1 0 1,0 -4.2,0" fill="none" stroke="#6a6a6a" stroke-width="0.8"/>
<polyline points="31.4,274.9 31.9,274.9 32.4,274.9 32.9,274.9 33.4,274.9 33.9,274.9 34.4,274.9 34.9,274.9 35.4,274.9 35.9,274.9 36.4,274.9 36.9,274.9 37.4,274.9 37.9,274.9 38.4,274.9 38.9,274.9 39.4,274.9 39.9,274.9 40.4,274.9 40.9,274.9 41.4,274.9 41.9,274.9 42.4,274.9 42.9,274.9 43.4,274.9 43.9,274.9 44.4,274.9 44.9,274.9 45.4,274.9 45.9,274.9 46.4,274.9 46.9,274.9 47.4,274.9 47.9,274.9 48.4,274.9 48.9,274.9 49.4,274.9 49.9,274.9 50.4,274.9 50.9,274.9 51.4,274.9 51.9,274.9 52.4,274.9 52.9,274.9 53.4,274.9 53.9,274.9 54.4,274.9 54.9,274.9 55.4,274.9 55.9,274.9 56.4,274.9 56.9,274.9 57.4,274.9 57.9,274.9 58.4,274.9 58.9,274.9 59.4,274.9 59.9,274.9 60.4,274.9 60.9,274.9 61.4,274.9 61.9,274.9 62.4,274.9 62.9,274.9 63.4,274.9 63.9,274.9 64.4,274.9 64.9,274.9 65.4,274.9 65.9,274.9 66.4,274.9 66.9,274.9 67.4,274.9 67.9,274.9 68.4,274.9 68.9,274.9 69.4,274.9 69.9,274.9 70.4,274.9 70.9,274.9 71.4,274.9 71.9,274.9 72.4,274.9 72.9,274.9 73.4,274.9 73.9,274.9 74.4,274.9 74.9,274.9 75.4,274.9 75.9,274.9 76.4,274.9 76.9,274.9 77.4,274.9 77.9,274.9 78.4,274.9 78.9,274.9 79.4,274.9 79.9,274.9 80.4,274.9 80.9,274.9 81.4,274.9 81.9,274.9 82.4,274.9 82.9,274.9 83.4,274.9 83.9,274.9 84.4,274.9 84.9,274.9 85.4,274.9 85.9,274.9 86.4,274.9 86.9,274.9 87.4,274.9 87.9,274.9 88.4,274.9 88.9,274.9 89.4,274.9 89.9,274.9 90.4,274.9 90.9,274.9 91.4,274.9 91.9,274.9 92.4,274.9 92.9,274.9 93.4,274.9 93.9,274.9 94.4,274.9 94.9,274.9 95.4,274.9 95.9,274.9 96.4,274.9 96.9,274.9 97.4,274.9 97.9,274.9 98.4,274.9 98.9,274.9 99.4,274.9 99.9,274.9 100.4,274.9 100.9,274.9 101.4,274.9 101.9,274.9 102.4,274.9 102.9,274.9 103.4,274.9 103.9,274.9 104.4,274.89 104.9,274.89 105.4,274.89 105.9,274.89 106.4,274.89 106.9,274.89 107.4,274.89 107.9,274.89 108.4,274.88 108.9,274.88 109.4,274.88 109.9,274.87 110.4,274.87 110.9,274.87 111.4,274.86 111.9,274.86 112.4,274.85 112.9,274.84 113.4,274.83 113.9,274.83 114.4,274.82 114.9,274.8 115.4,274.79 115.9,274.78 116.4,274.76 116.9,274.74 117.4,274.72 117.9,274.7 118.4,274.68 118.9,274.65 119.4,274.62 119.9,274.59 120.4,274.55 120.9,274.51 121.4,274.47 121.9,274.42 122.4,274.37 122.9,274.31 123.4,274.25 123.9,274.18 124.4,274.11 124.9,274.03 125.4,273.94 125.9,273.84 126.4,273.74 126.9,273.63 127.4,273.51 127.9,273.38 128.4,273.24 128.9,273.09 129.4,272.93 129.9,272.76 130.4,272.58 130.9,272.39 131.4,272.18 131.9,271.96 132.4,271.73 132.9,271.49 133.4,271.23 133.9,270.96 134.4,270.67 134.9,270.37 135.4,270.05 135.9,269.72 136.4,269.38 136.9,269.02 137.4,268.64 137.9,268.25 138.4,267.85 138.9,267.43 139.4,267 139.9,266.56 140.4,266.1 140.9,265.63 141.4,265.15 141.9,264.66 142.4,264.16 142.9,263.65 143.4,263.14 143.9,262.62 144.4,262.09 144.9,261.56 145.4,261.03 145.9,260.49 146.4,259.96 146.9,259.43 147.4,258.9 147.9,258.38 148.4,257.87 148.9,257.36 149.4,256.87 149.9,256.38 150.4,255.91 150.9,255.46 151.4,255.02 151.9,254.61 152.4,254.21 152.9,253.84 153.4,253.48 153.9,253.16 154.4,252.86 154.9,252.59 155.4,252.34 155.9,252.13 156.4,251.94 156.9,251.79 157.4,251.67 157.9,251.58 158.4,251.52 158.9,251.5 159.4,251.51 159.9,251.55 160.4,251.63 160.9,251.74 161.4,251.88 161.9,252.05 162.4,252.25 162.9,252.48 163.4,252.75 163.9,253.04 164.4,253.35 164.9,253.69 165.4,254.06 165.9,254.45 166.4,254.86 166.9,255.28 167.4,255.73 167.9,256.19 168.4,256.67 168.9,257.16 169.4,257.66 169.9,258.17 170.4,258.69 170.9,259.22 171.4,259.75 171.9,260.28 172.4,260.81 172.9,261.35 173.4,261.88 173.9,262.41 174.4,262.93 174.9,263.45 175.4,263.96 175.9,264.46 176.4,264.96 176.9,265.44 177.4,265.91 177.9,266.37 178.4,266.82 178.9,267.26 179.4,267.68 179.9,268.09 180.4,268.49 180.9,268.87 181.4,269.23 181.9,269.59 182.4,269.92 182.9,270.24 183.4,270.55 183.9,270.84 184.4,271.12 184.9,271.39 185.4,271.64 185.9,271.87 186.4,272.1 186.9,272.31 187.4,272.51 187.9,272.69 188.4,272.87 188.9,273.03 189.4,273.18 189.9,273.33 190.4,273.46 190.9,273.58 191.4,273.7 191.9,273.8 192.4,273.9 192.9,273.99 193.4,274.07 193.9,274.15 194.4,274.22 194.9,274.29 195.4,274.35 195.9,274.4 196.4,274.45 196.9,274.5 197.4,274.54 197.9,274.58 198.4,274.61 198.9,274.64 199.4,274.67 199.9,274.69 200.4,274.72 200.9,274.74 201.4,274.75 201.9,274.77 202.4,274.79 202.9,274.8 203.4,274.81 203.9,274.82 204.4,274.83 204.9,274.84 205.4,274.85 205.9,274.85 206.4,274.86 206.9,274.86 207.4,274.87 207.9,274.87 208.4,274.88 208.9,274.88 209.4,274.88 209.9,274.88 210.4,274.89 210.9,274.89 211.4,274.89 211.9,274.89 212.4,274.89 212.9,274.89 213.4,274.89 213.9,274.9 214.4,274.9 214.9,274.9 215.4,274.9 215.9,274.9 216.4,274.9 216.9,274.9 217.4,274.9 217.9,274.9 218.4,274.9 218.9,274.9 219.4,274.9 219.9,274.9 220.4,274.9 220.9,274.9 221.4,274.9 221.9,274.9 222.4,274.9 222.9,274.9 223.4,274.9 223.9,274.9 224.4,274.9 224.9,274.9 225.4,274.9 225.9,274.9 226.4,274.9 226.9,274.9 227.4,274.9 227.9,274.9 228.4,274.9 228.9,274.9 229.4,274.9 229.9,274.9 230.4,274.9 230.9,274.9 231.4,274.9 231.9,274.9 232.4,274.9 232.9,274.9 233.4,274.9 233.9,274.9 234.4,274.9 234.9,274.9 235.4,274.9 235.9,274.9 236.4,274.9 236.9,274.9 237.4,274.9 237.9,274.9 238.4,274.9 238.9,274.9 239.4,274.9 239.9,274.9 240.4,274.9 240.9,274.9 241.4,274.9 241.9,274.9 242.4,274.9 242.9,274.9 243.4,274.9 243.9,274.9 244.4,274.9 244.9,274.9 245.4,274.9 245.9,274.9 246.4,274.9 246.9,274.9 247.4,274.9 247.9,274.9 248.4,274.9 248.9,274.9 249.4,274.9 249.9,274.9 250.4,274.9 250.9,274.9 251.4,274.9 251.9,274.9 252.4,274.9 252.9,274.9 253.4,274.9 253.9,274.9 254.4,274.9 254.9,274.9 255.4,274.9 255.9,274.9 256.4,274.9 256.9,274.9 257.4,274.9 257.9,274.9 258.4,274.9 258.9,274.9 259.4,274.9 259.9,274.9 260.4,274.9 260.9,274.9 261.4,274.9 261.9,274.9 262.4,274.9 262.9,274.9 263.4,274.9 263.9,274.9 264.4,274.9 264.9,274.9 265.4,274.9 265.9,274.9 266.4,274.9 266.9,274.9 267.4,274.9 267.9,274.9" fill="none" stroke="#1f6fe6" stroke-width="1.5" stroke-linejoin="round" />
<polyline points="31.4,275.3 31.9,275.3 32.4,275.3 32.9,275.3 33.4,275.3 33.9,275.3 34.4,275.3 34.9,275.3 35.4,275.3 35.9,275.3 36.4,275.3 36.9,275.3 37.4,275.3 37.9,275.3 38.4,275.3 38.9,275.3 39.4,275.3 39.9,275.3 40.4,275.3 40.9,275.3 41.4,275.3 41.9,275.3 42.4,275.3 42.9,275.3 43.4,275.3 43.9,275.3 44.4,275.3 44.9,275.3 45.4,275.3 45.9,275.3 46.4,275.3 46.9,275.29 47.4,275.29 47.9,275.29 48.4,275.29 48.9,275.29 49.4,275.29 49.9,275.29 50.4,275.29 50.9,275.29 51.4,275.29 51.9,275.29 52.4,275.29 52.9,275.28 53.4,275.28 53.9,275.28 54.4,275.28 54.9,275.28 55.4,275.28 55.9,275.27 56.4,275.27 56.9,275.27 57.4,275.27 57.9,275.27 58.4,275.26 58.9,275.26 59.4,275.26 59.9,275.25 60.4,275.25 60.9,275.25 61.4,275.24 61.9,275.24 62.4,275.23 62.9,275.23 63.4,275.22 63.9,275.22 64.4,275.21 64.9,275.2 65.4,275.2 65.9,275.19 66.4,275.18 66.9,275.17 67.4,275.16 67.9,275.15 68.4,275.14 68.9,275.13 69.4,275.12 69.9,275.11 70.4,275.1 70.9,275.08 71.4,275.07 71.9,275.05 72.4,275.04 72.9,275.02 73.4,275.01 73.9,274.99 74.4,274.97 74.9,274.95 75.4,274.93 75.9,274.91 76.4,274.88 76.9,274.86 77.4,274.84 77.9,274.81 78.4,274.78 78.9,274.75 79.4,274.73 79.9,274.69 80.4,274.66 80.9,274.63 81.4,274.6 81.9,274.56 82.4,274.52 82.9,274.49 83.4,274.45 83.9,274.41 84.4,274.36 84.9,274.32 85.4,274.27 85.9,274.23 86.4,274.18 86.9,274.13 87.4,274.08 87.9,274.03 88.4,273.98 88.9,273.92 89.4,273.86 89.9,273.81 90.4,273.75 90.9,273.69 91.4,273.63 91.9,273.57 92.4,273.5 92.9,273.44 93.4,273.37 93.9,273.3 94.4,273.24 94.9,273.17 95.4,273.1 95.9,273.03 96.4,272.95 96.9,272.88 97.4,272.81 97.9,272.73 98.4,272.66 98.9,272.58 99.4,272.51 99.9,272.43 100.4,272.36 100.9,272.28 101.4,272.21 101.9,272.13 102.4,272.06 102.9,271.98 103.4,271.91 103.9,271.83 104.4,271.76 104.9,271.68 105.4,271.61 105.9,271.54 106.4,271.47 106.9,271.4 107.4,271.33 107.9,271.27 108.4,271.2 108.9,271.14 109.4,271.07 109.9,271.01 110.4,270.96 110.9,270.9 111.4,270.84 111.9,270.79 112.4,270.74 112.9,270.69 113.4,270.65 113.9,270.61 114.4,270.56 114.9,270.53 115.4,270.49 115.9,270.46 116.4,270.43 116.9,270.4 117.4,270.38 117.9,270.36 118.4,270.34 118.9,270.33 119.4,270.32 119.9,270.31 120.4,270.3 120.9,270.3 121.4,270.3 121.9,270.31 122.4,270.31 122.9,270.32 123.4,270.34 123.9,270.35 124.4,270.37 124.9,270.39 125.4,270.42 125.9,270.45 126.4,270.48 126.9,270.51 127.4,270.55 127.9,270.59 128.4,270.63 128.9,270.68 129.4,270.72 129.9,270.77 130.4,270.82 130.9,270.88 131.4,270.93 131.9,270.99 132.4,271.05 132.9,271.11 133.4,271.17 133.9,271.24 134.4,271.31 134.9,271.37 135.4,271.44 135.9,271.51 136.4,271.58 136.9,271.65 137.4,271.73 137.9,271.8 138.4,271.88 138.9,271.95 139.4,272.03 139.9,272.1 140.4,272.18 140.9,272.25 141.4,272.33 141.9,272.4 142.4,272.48 142.9,272.55 143.4,272.63 143.9,272.7 144.4,272.78 144.9,272.85 145.4,272.92 145.9,273 146.4,273.07 146.9,273.14 147.4,273.21 147.9,273.28 148.4,273.34 148.9,273.41 149.4,273.48 149.9,273.54 150.4,273.6 150.9,273.66 151.4,273.73 151.9,273.78 152.4,273.84 152.9,273.9 153.4,273.95 153.9,274.01 154.4,274.06 154.9,274.11 155.4,274.16 155.9,274.21 156.4,274.26 156.9,274.3 157.4,274.35 157.9,274.39 158.4,274.43 158.9,274.47 159.4,274.51 159.9,274.55 160.4,274.58 160.9,274.62 161.4,274.65 161.9,274.68 162.4,274.71 162.9,274.74 163.4,274.77 163.9,274.8 164.4,274.83 164.9,274.85 165.4,274.87 165.9,274.9 166.4,274.92 166.9,274.94 167.4,274.96 167.9,274.98 168.4,275 168.9,275.02 169.4,275.03 169.9,275.05 170.4,275.06 170.9,275.08 171.4,275.09 171.9,275.1 172.4,275.12 172.9,275.13 173.4,275.14 173.9,275.15 174.4,275.16 174.9,275.17 175.4,275.18 175.9,275.18 176.4,275.19 176.9,275.2 177.4,275.21 177.9,275.21 178.4,275.22 178.9,275.22 179.4,275.23 179.9,275.23 180.4,275.24 180.9,275.24 181.4,275.25 181.9,275.25 182.4,275.26 182.9,275.26 183.4,275.26 183.9,275.26 184.4,275.27 184.9,275.27 185.4,275.27 185.9,275.27 186.4,275.28 186.9,275.28 187.4,275.28 187.9,275.28 188.4,275.28 188.9,275.28 189.4,275.29 189.9,275.29 190.4,275.29 190.9,275.29 191.4,275.29 191.9,275.29 192.4,275.29 192.9,275.29 193.4,275.29 193.9,275.29 194.4,275.29 194.9,275.29 195.4,275.3 195.9,275.3 196.4,275.3 196.9,275.3 197.4,275.3 197.9,275.3 198.4,275.3 198.9,275.3 199.4,275.3 199.9,275.3 200.4,275.3 200.9,275.3 201.4,275.3 201.9,275.3 202.4,275.3 202.9,275.3 203.4,275.3 203.9,275.3 204.4,275.3 204.9,275.3 205.4,275.3 205.9,275.3 206.4,275.3 206.9,275.3 207.4,275.3 207.9,275.3 208.4,275.3 208.9,275.3 209.4,275.3 209.9,275.3 210.4,275.3 210.9,275.3 211.4,275.3 211.9,275.3 212.4,275.3 212.9,275.3 213.4,275.3 213.9,275.3 214.4,275.3 214.9,275.3 215.4,275.3 215.9,275.3 216.4,275.3 216.9,275.3 217.4,275.3 217.9,275.3 218.4,275.3 218.9,275.3 219.4,275.3 219.9,275.3 220.4,275.3 220.9,275.3 221.4,275.3 221.9,275.3 222.4,275.3 222.9,275.3 223.4,275.3 223.9,275.3 224.4,275.3 224.9,275.3 225.4,275.3 225.9,275.3 226.4,275.3 226.9,275.3 227.4,275.3 227.9,275.3 228.4,275.3 228.9,275.3 229.4,275.3 229.9,275.3 230.4,275.3 230.9,275.3 231.4,275.3 231.9,275.3 232.4,275.3 232.9,275.3 233.4,275.3 233.9,275.3 234.4,275.3 234.9,275.3 235.4,275.3 235.9,275.3 236.4,275.3 236.9,275.3 237.4,275.3 237.9,275.3 238.4,275.3 238.9,275.3 239.4,275.3 239.9,275.3 240.4,275.3 240.9,275.3 241.4,275.3 241.9,275.3 242.4,275.3 242.9,275.3 243.4,275.3 243.9,275.3 244.4,275.3 244.9,275.3 245.4,275.3 245.9,275.3 246.4,275.3 246.9,275.3 247.4,275.3 247.9,275.3 248.4,275.3 248.9,275.3 249.4,275.3 249.9,275.3 250.4,275.3 250.9,275.3 251.4,275.3 251.9,275.3 252.4,275.3 252.9,275.3 253.4,275.3 253.9,275.3 254.4,275.3 254.9,275.3 255.4,275.3 255.9,275.3 256.4,275.3 256.9,275.3 257.4,275.3 257.9,275.3 258.4,275.3 258.9,275.3 259.4,275.3 259.9,275.3 260.4,275.3 260.9,275.3 261.4,275.3 261.9,275.3 262.4,275.3 262.9,275.3 263.4,275.3 263.9,275.3 264.4,275.3 264.9,275.3 265.4,275.3 265.9,275.3 266.4,275.3 266.9,275.3 267.4,275.3 267.9,275.3" fill="none" stroke="#f0272d" stroke-width="1.5" stroke-linejoin="round" />
<polyline points="31.4,275.09 31.9,275.07 32.4,275.05 32.9,275.03 33.4,275.01 33.9,274.99 34.4,274.97 34.9,274.95 35.4,274.93 35.9,274.9 36.4,274.88 36.9,274.86 37.4,274.83 37.9,274.81 38.4,274.78 38.9,274.76 39.4,274.73 39.9,274.7 40.4,274.68 40.9,274.65 41.4,274.62 41.9,274.59 42.4,274.57 42.9,274.54 43.4,274.51 43.9,274.48 44.4,274.45 44.9,274.42 45.4,274.39 45.9,274.36 46.4,274.32 46.9,274.29 47.4,274.26 47.9,274.23 48.4,274.19 48.9,274.16 49.4,274.13 49.9,274.09 50.4,274.06 50.9,274.02 51.4,273.99 51.9,273.95 52.4,273.92 52.9,273.88 53.4,273.85 53.9,273.81 54.4,273.78 54.9,273.74 55.4,273.71 55.9,273.67 56.4,273.63 56.9,273.6 57.4,273.56 57.9,273.52 58.4,273.49 58.9,273.45 59.4,273.41 59.9,273.38 60.4,273.34 60.9,273.31 61.4,273.27 61.9,273.23 62.4,273.2 62.9,273.16 63.4,273.13 63.9,273.09 64.4,273.06 64.9,273.02 65.4,272.99 65.9,272.96 66.4,272.92 66.9,272.89 67.4,272.86 67.9,272.82 68.4,272.79 68.9,272.76 69.4,272.73 69.9,272.7 70.4,272.67 70.9,272.64 71.4,272.61 71.9,272.58 72.4,272.56 72.9,272.53 73.4,272.5 73.9,272.48 74.4,272.45 74.9,272.43 75.4,272.4 75.9,272.38 76.4,272.36 76.9,272.34 77.4,272.32 77.9,272.3 78.4,272.28 78.9,272.26 79.4,272.24 79.9,272.23 80.4,272.21 80.9,272.2 81.4,272.19 81.9,272.17 82.4,272.16 82.9,272.15 83.4,272.14 83.9,272.13 84.4,272.13 84.9,272.12 85.4,272.11 85.9,272.11 86.4,272.11 86.9,272.1 87.4,272.1 87.9,272.1 88.4,272.1 88.9,272.1 89.4,272.1 89.9,272.11 90.4,272.11 90.9,272.12 91.4,272.12 91.9,272.13 92.4,272.14 92.9,272.15 93.4,272.16 93.9,272.17 94.4,272.18 94.9,272.19 95.4,272.21 95.9,272.22 96.4,272.24 96.9,272.25 97.4,272.27 97.9,272.29 98.4,272.31 98.9,272.33 99.4,272.35 99.9,272.37 100.4,272.39 100.9,272.42 101.4,272.44 101.9,272.47 102.4,272.49 102.9,272.52 103.4,272.54 103.9,272.57 104.4,272.6 104.9,272.63 105.4,272.66 105.9,272.69 106.4,272.72 106.9,272.75 107.4,272.78 107.9,272.81 108.4,272.84 108.9,272.88 109.4,272.91 109.9,272.94 110.4,272.98 110.9,273.01 111.4,273.04 111.9,273.08 112.4,273.11 112.9,273.15 113.4,273.18 113.9,273.22 114.4,273.26 114.9,273.29 115.4,273.33 115.9,273.36 116.4,273.4 116.9,273.44 117.4,273.47 117.9,273.51 118.4,273.55 118.9,273.58 119.4,273.62 119.9,273.65 120.4,273.69 120.9,273.73 121.4,273.76 121.9,273.8 122.4,273.83 122.9,273.87 123.4,273.91 123.9,273.94 124.4,273.98 124.9,274.01 125.4,274.04 125.9,274.08 126.4,274.11 126.9,274.15 127.4,274.18 127.9,274.21 128.4,274.25 128.9,274.28 129.4,274.31 129.9,274.34 130.4,274.37 130.9,274.41 131.4,274.44 131.9,274.47 132.4,274.5 132.9,274.53 133.4,274.55 133.9,274.58 134.4,274.61 134.9,274.64 135.4,274.67 135.9,274.69 136.4,274.72 136.9,274.75 137.4,274.77 137.9,274.8 138.4,274.82 138.9,274.85 139.4,274.87 139.9,274.89 140.4,274.92 140.9,274.94 141.4,274.96 141.9,274.98 142.4,275 142.9,275.03 143.4,275.05 143.9,275.07 144.4,275.09 144.9,275.1 145.4,275.12 145.9,275.14 146.4,275.16 146.9,275.18 147.4,275.19 147.9,275.21 148.4,275.23 148.9,275.24 149.4,275.26 149.9,275.27 150.4,275.29 150.9,275.3 151.4,275.31 151.9,275.33 152.4,275.34 152.9,275.35 153.4,275.37 153.9,275.38 154.4,275.39 154.9,275.4 155.4,275.41 155.9,275.42 156.4,275.43 156.9,275.44 157.4,275.45 157.9,275.46 158.4,275.47 158.9,275.48 159.4,275.49 159.9,275.5 160.4,275.5 160.9,275.51 161.4,275.52 161.9,275.53 162.4,275.53 162.9,275.54 163.4,275.55 163.9,275.55 164.4,275.56 164.9,275.57 165.4,275.57 165.9,275.58 166.4,275.58 166.9,275.59 167.4,275.59 167.9,275.6 168.4,275.6 168.9,275.61 169.4,275.61 169.9,275.61 170.4,275.62 170.9,275.62 171.4,275.62 171.9,275.63 172.4,275.63 172.9,275.63 173.4,275.64 173.9,275.64 174.4,275.64 174.9,275.65 175.4,275.65 175.9,275.65 176.4,275.65 176.9,275.66 177.4,275.66 177.9,275.66 178.4,275.66 178.9,275.66 179.4,275.67 179.9,275.67 180.4,275.67 180.9,275.67 181.4,275.67 181.9,275.67 182.4,275.67 182.9,275.68 183.4,275.68 183.9,275.68 184.4,275.68 184.9,275.68 185.4,275.68 185.9,275.68 186.4,275.68 186.9,275.68 187.4,275.69 187.9,275.69 188.4,275.69 188.9,275.69 189.4,275.69 189.9,275.69 190.4,275.69 190.9,275.69 191.4,275.69 191.9,275.69 192.4,275.69 192.9,275.69 193.4,275.69 193.9,275.69 194.4,275.69 194.9,275.69 195.4,275.69 195.9,275.69 196.4,275.69 196.9,275.7 197.4,275.7 197.9,275.7 198.4,275.7 198.9,275.7 199.4,275.7 199.9,275.7 200.4,275.7 200.9,275.7 201.4,275.7 201.9,275.7 202.4,275.7 202.9,275.7 203.4,275.7 203.9,275.7 204.4,275.7 204.9,275.7 205.4,275.7 205.9,275.7 206.4,275.7 206.9,275.7 207.4,275.7 207.9,275.7 208.4,275.7 208.9,275.7 209.4,275.7 209.9,275.7 210.4,275.7 210.9,275.7 211.4,275.7 211.9,275.7 212.4,275.7 212.9,275.7 213.4,275.7 213.9,275.7 214.4,275.7 214.9,275.7 215.4,275.7 215.9,275.7 216.4,275.7 216.9,275.7 217.4,275.7 217.9,275.7 218.4,275.7 218.9,275.7 219.4,275.7 219.9,275.7 220.4,275.7 220.9,275.7 221.4,275.7 221.9,275.7 222.4,275.7 222.9,275.7 223.4,275.7 223.9,275.7 224.4,275.7 224.9,275.7 225.4,275.7 225.9,275.7 226.4,275.7 226.9,275.7 227.4,275.7 227.9,275.7 228.4,275.7 228.9,275.7 229.4,275.7 229.9,275.7 230.4,275.7 230.9,275.7 231.4,275.7 231.9,275.7 232.4,275.7 232.9,275.7 233.4,275.7 233.9,275.7 234.4,275.7 234.9,275.7 235.4,275.7 235.9,275.7 236.4,275.7 236.9,275.7 237.4,275.7 237.9,275.7 238.4,275.7 238.9,275.7 239.4,275.7 239.9,275.7 240.4,275.7 240.9,275.7 241.4,275.7 241.9,275.7 242.4,275.7 242.9,275.7 243.4,275.7 243.9,275.7 244.4,275.7 244.9,275.7 245.4,275.7 245.9,275.7 246.4,275.7 246.9,275.7 247.4,275.7 247.9,275.7 248.4,275.7 248.9,275.7 249.4,275.7 249.9,275.7 250.4,275.7 250.9,275.7 251.4,275.7 251.9,275.7 252.4,275.7 252.9,275.7 253.4,275.7 253.9,275.7 254.4,275.7 254.9,275.7 255.4,275.7 255.9,275.7 256.4,275.7 256.9,275.7 257.4,275.7 257.9,275.7 258.4,275.7 258.9,275.7 259.4,275.7 259.9,275.7 260.4,275.7 260.9,275.7 261.4,275.7 261.9,275.7 262.4,275.7 262.9,275.7 263.4,275.7 263.9,275.7 264.4,275.7 264.9,275.7 265.4,275.7 265.9,275.7 266.4,275.7 266.9,275.7 267.4,275.7 267.9,275.7" fill="none" stroke="#2fb063" stroke-width="1.5" stroke-linejoin="round" />
<line x1="60.41" y1="279.1" x2="60.41" y2="276.1" stroke="#000" stroke-width="1.1"/>
<line x1="90.23" y1="279.1" x2="90.23" y2="276.1" stroke="#000" stroke-width="1.1"/>
<line x1="120.04" y1="279.1" x2="120.04" y2="276.1" stroke="#000" stroke-width="1.1"/>
<line x1="149.85" y1="279.1" x2="149.85" y2="276.1" stroke="#000" stroke-width="1.1"/>
<line x1="179.66" y1="279.1" x2="179.66" y2="276.1" stroke="#000" stroke-width="1.1"/>
<line x1="209.48" y1="279.1" x2="209.48" y2="276.1" stroke="#000" stroke-width="1.1"/>
<line x1="239.29" y1="279.1" x2="239.29" y2="276.1" stroke="#000" stroke-width="1.1"/>
<line x1="30.6" y1="279.1" x2="269.1" y2="279.1" stroke="#000" stroke-width="1.3"/>
<path d="M30.3,308.6a2.1,2.1 0 1,0 4.2,0a2.1,2.1 0 1,0 -4.2,0M33.2,307.83a2.1,2.1 0 1,0 4.2,0a2.1,2.1 0 1,0 -4.2,0M36.1,308a2.1,2.1 0 1,0 4.2,0a2.1,2.1 0 1,0 -4.2,0M39,307.75a2.1,2.1 0 1,0 4.2,0a2.1,2.1 0 1,0 -4.2,0M41.9,307.47a2.1,2.1 0 1,0 4.2,0a2.1,2.1 0 1,0 -4.2,0M44.8,307.37a2.1,2.1 0 1,0 4.2,0a2.1,2.1 0 1,0 -4.2,0M47.7,307.21a2.1,2.1 0 1,0 4.2,0a2.1,2.1 0 1,0 -4.2,0M50.6,307.1a2.1,2.1 0 1,0 4.2,0a2.1,2.1 0 1,0 -4.2,0M53.5,307a2.1,2.1 0 1,0 4.2,0a2.1,2.1 0 1,0 -4.2,0M56.4,306.92a2.1,2.1 0 1,0 4.2,0a2.1,2.1 0 1,0 -4.2,0M59.3,306.55a2.1,2.1 0 1,0 4.2,0a2.1,2.1 0 1,0 -4.2,0M62.2,306.51a2.1,2.1 0 1,0 4.2,0a2.1,2.1 0 1,0 -4.2,0M65.1,306.16a2.1,2.1 0 1,0 4.2,0a2.1,2.1 0 1,0 -4.2,0M68,305.87a2.1,2.1 0 1,0 4.2,0a2.1,2.1 0 1,0 -4.2,0M70.9,305.58a2.1,2.1 0 1,0 4.2,0a2.1,2.1 0 1,0 -4.2,0M73.8,305.21a2.1,2.1 0 1,0 4.2,0a2.1,2.1 0 1,0 -4.2,0M76.7,304.86a2.1,2.1 0 1,0 4.2,0a2.1,2.1 0 1,0 -4.2,0M79.6,304.92a2.1,2.1 0 1,0 4.2,0a2.1,2.1 0 1,0 -4.2,0M82.5,304.66a2.1,2.1 0 1,0 4.2,0a2.1,2.1 0 1,0 -4.2,0M85.4,304.5a2.1,2.1 0 1,0 4.2,0a2.1,2.1 0 1,0 -4.2,0M88.3,304.24a2.1,2.1 0 1,0 4.2,0a2.1,2.1 0 1,0 -4.2,0M91.2,303.64a2.1,2.1 0 1,0 4.2,0a2.1,2.1 0 1,0 -4.2,0M94.1,303.45a2.1,2.1 0 1,0 4.2,0a2.1,2.1 0 1,0 -4.2,0M97,303.06a2.1,2.1 0 1,0 4.2,0a2.1,2.1 0 1,0 -4.2,0M99.9,303.17a2.1,2.1 0 1,0 4.2,0a2.1,2.1 0 1,0 -4.2,0M102.8,302.64a2.1,2.1 0 1,0 4.2,0a2.1,2.1 0 1,0 -4.2,0M105.7,302.4a2.1,2.1 0 1,0 4.2,0a2.1,2.1 0 1,0 -4.2,0M108.6,301.94a2.1,2.1 0 1,0 4.2,0a2.1,2.1 0 1,0 -4.2,0M111.5,301.65a2.1,2.1 0 1,0 4.2,0a2.1,2.1 0 1,0 -4.2,0M114.4,301.61a2.1,2.1 0 1,0 4.2,0a2.1,2.1 0 1,0 -4.2,0M117.3,301.57a2.1,2.1 0 1,0 4.2,0a2.1,2.1 0 1,0 -4.2,0M120.2,301.56a2.1,2.1 0 1,0 4.2,0a2.1,2.1 0 1,0 -4.2,0M123.1,301.01a2.1,2.1 0 1,0 4.2,0a2.1,2.1 0 1,0 -4.2,0M126,301.12a2.1,2.1 0 1,0 4.2,0a2.1,2.1 0 1,0 -4.2,0M128.9,300.44a2.1,2.1 0 1,0 4.2,0a2.1,2.1 0 1,0 -4.2,0M131.8,299.75a2.1,2.1 0 1,0 4.2,0a2.1,2.1 0 1,0 -4.2,0M134.7,298.64a2.1,2.1 0 1,0 4.2,0a2.1,2.1 0 1,0 -4.2,0M137.6,296.99a2.1,2.1 0 1,0 4.2,0a2.1,2.1 0 1,0 -4.2,0M140.5,295.05a2.1,2.1 0 1,0 4.2,0a2.1,2.1 0 1,0 -4.2,0M143.4,292.61a2.1,2.1 0 1,0 4.2,0a2.1,2.1 0 1,0 -4.2,0M146.3,289.76a2.1,2.1 0 1,0 4.2,0a2.1,2.1 0 1,0 -4.2,0M149.2,286.89a2.1,2.1 0 1,0 4.2,0a2.1,2.1 0 1,0 -4.2,0M152.1,284.77a2.1,2.1 0 1,0 4.2,0a2.1,2.1 0 1,0 -4.2,0M155,283.15a2.1,2.1 0 1,0 4.2,0a2.1,2.1 0 1,0 -4.2,0M157.9,282.62a2.1,2.1 0 1,0 4.2,0a2.1,2.1 0 1,0 -4.2,0M160.8,282.98a2.1,2.1 0 1,0 4.2,0a2.1,2.1 0 1,0 -4.2,0M163.7,284.18a2.1,2.1 0 1,0 4.2,0a2.1,2.1 0 1,0 -4.2,0M166.6,286.83a2.1,2.1 0 1,0 4.2,0a2.1,2.1 0 1,0 -4.2,0M169.5,289.99a2.1,2.1 0 1,0 4.2,0a2.1,2.1 0 1,0 -4.2,0M172.4,293.63a2.1,2.1 0 1,0 4.2,0a2.1,2.1 0 1,0 -4.2,0M175.3,296.76a2.1,2.1 0 1,0 4.2,0a2.1,2.1 0 1,0 -4.2,0M178.2,300a2.1,2.1 0 1,0 4.2,0a2.1,2.1 0 1,0 -4.2,0M181.1,302.44a2.1,2.1 0 1,0 4.2,0a2.1,2.1 0 1,0 -4.2,0M184,304.17a2.1,2.1 0 1,0 4.2,0a2.1,2.1 0 1,0 -4.2,0M186.9,305.92a2.1,2.1 0 1,0 4.2,0a2.1,2.1 0 1,0 -4.2,0M189.8,307.08a2.1,2.1 0 1,0 4.2,0a2.1,2.1 0 1,0 -4.2,0M192.7,307.76a2.1,2.1 0 1,0 4.2,0a2.1,2.1 0 1,0 -4.2,0M195.6,307.83a2.1,2.1 0 1,0 4.2,0a2.1,2.1 0 1,0 -4.2,0M198.5,308.47a2.1,2.1 0 1,0 4.2,0a2.1,2.1 0 1,0 -4.2,0M201.4,308.41a2.1,2.1 0 1,0 4.2,0a2.1,2.1 0 1,0 -4.2,0M204.3,308.19a2.1,2.1 0 1,0 4.2,0a2.1,2.1 0 1,0 -4.2,0M207.2,308.54a2.1,2.1 0 1,0 4.2,0a2.1,2.1 0 1,0 -4.2,0M210.1,308.28a2.1,2.1 0 1,0 4.2,0a2.1,2.1 0 1,0 -4.2,0M213,308.43a2.1,2.1 0 1,0 4.2,0a2.1,2.1 0 1,0 -4.2,0M215.9,308.97a2.1,2.1 0 1,0 4.2,0a2.1,2.1 0 1,0 -4.2,0M218.8,309.17a2.1,2.1 0 1,0 4.2,0a2.1,2.1 0 1,0 -4.2,0M221.7,308.89a2.1,2.1 0 1,0 4.2,0a2.1,2.1 0 1,0 -4.2,0M224.6,308.77a2.1,2.1 0 1,0 4.2,0a2.1,2.1 0 1,0 -4.2,0M227.5,309.06a2.1,2.1 0 1,0 4.2,0a2.1,2.1 0 1,0 -4.2,0M230.4,308.75a2.1,2.1 0 1,0 4.2,0a2.1,2.1 0 1,0 -4.2,0M233.3,308.49a2.1,2.1 0 1,0 4.2,0a2.1,2.1 0 1,0 -4.2,0M236.2,308.2a2.1,2.1 0 1,0 4.2,0a2.1,2.1 0 1,0 -4.2,0M239.1,308.87a2.1,2.1 0 1,0 4.2,0a2.1,2.1 0 1,0 -4.2,0M242,308.24a2.1,2.1 0 1,0 4.2,0a2.1,2.1 0 1,0 -4.2,0M244.9,308.12a2.1,2.1 0 1,0 4.2,0a2.1,2.1 0 1,0 -4.2,0M247.8,308.56a2.1,2.1 0 1,0 4.2,0a2.1,2.1 0 1,0 -4.2,0M250.7,308.7a2.1,2.1 0 1,0 4.2,0a2.1,2.1 0 1,0 -4.2,0M253.6,308.52a2.1,2.1 0 1,0 4.2,0a2.1,2.1 0 1,0 -4.2,0M256.5,308.89a2.1,2.1 0 1,0 4.2,0a2.1,2.1 0 1,0 -4.2,0M259.4,308.67a2.1,2.1 0 1,0 4.2,0a2.1,2.1 0 1,0 -4.2,0M262.3,308.73a2.1,2.1 0 1,0 4.2,0a2.1,2.1 0 1,0 -4.2,0M265.2,308.77a2.1,2.1 0 1,0 4.2,0a2.1,2.1 0 1,0 -4.2,0" fill="none" stroke="#6a6a6a" stroke-width="0.8"/>
<polyline points="31.4,308.7 31.9,308.7 32.4,308.7 32.9,308.7 33.4,308.7 33.9,308.7 34.4,308.7 34.9,308.7 35.4,308.7 35.9,308.7 36.4,308.7 36.9,308.7 37.4,308.7 37.9,308.7 38.4,308.7 38.9,308.7 39.4,308.7 39.9,308.7 40.4,308.7 40.9,308.7 41.4,308.7 41.9,308.7 42.4,308.7 42.9,308.7 43.4,308.7 43.9,308.7 44.4,308.7 44.9,308.7 45.4,308.7 45.9,308.7 46.4,308.7 46.9,308.7 47.4,308.7 47.9,308.7 48.4,308.7 48.9,308.7 49.4,308.7 49.9,308.7 50.4,308.7 50.9,308.7 51.4,308.7 51.9,308.7 52.4,308.7 52.9,308.7 53.4,308.7 53.9,308.7 54.4,308.7 54.9,308.7 55.4,308.7 55.9,308.7 56.4,308.7 56.9,308.7 57.4,308.7 57.9,308.7 58.4,308.7 58.9,308.7 59.4,308.7 59.9,308.7 60.4,308.7 60.9,308.7 61.4,308.7 61.9,308.7 62.4,308.7 62.9,308.7 63.4,308.7 63.9,308.7 64.4,308.7 64.9,308.7 65.4,308.7 65.9,308.7 66.4,308.7 66.9,308.7 67.4,308.7 67.9,308.7 68.4,308.7 68.9,308.7 69.4,308.7 69.9,308.7 70.4,308.7 70.9,308.7 71.4,308.7 71.9,308.7 72.4,308.7 72.9,308.7 73.4,308.7 73.9,308.7 74.4,308.7 74.9,308.7 75.4,308.7 75.9,308.7 76.4,308.7 76.9,308.7 77.4,308.7 77.9,308.7 78.4,308.7 78.9,308.7 79.4,308.7 79.9,308.7 80.4,308.7 80.9,308.7 81.4,308.7 81.9,308.7 82.4,308.7 82.9,308.7 83.4,308.7 83.9,308.7 84.4,308.7 84.9,308.7 85.4,308.7 85.9,308.7 86.4,308.7 86.9,308.7 87.4,308.7 87.9,308.7 88.4,308.7 88.9,308.7 89.4,308.7 89.9,308.7 90.4,308.7 90.9,308.7 91.4,308.7 91.9,308.7 92.4,308.7 92.9,308.7 93.4,308.7 93.9,308.7 94.4,308.7 94.9,308.7 95.4,308.7 95.9,308.7 96.4,308.7 96.9,308.7 97.4,308.7 97.9,308.7 98.4,308.7 98.9,308.7 99.4,308.7 99.9,308.7 100.4,308.7 100.9,308.7 101.4,308.7 101.9,308.7 102.4,308.7 102.9,308.7 103.4,308.7 103.9,308.7 104.4,308.7 104.9,308.7 105.4,308.7 105.9,308.7 106.4,308.69 106.9,308.69 107.4,308.69 107.9,308.69 108.4,308.69 108.9,308.69 109.4,308.69 109.9,308.68 110.4,308.68 110.9,308.68 111.4,308.68 111.9,308.67 112.4,308.67 112.9,308.66 113.4,308.66 113.9,308.65 114.4,308.65 114.9,308.64 115.4,308.63 115.9,308.62 116.4,308.61 116.9,308.6 117.4,308.58 117.9,308.57 118.4,308.55 118.9,308.53 119.4,308.51 119.9,308.49 120.4,308.46 120.9,308.43 121.4,308.4 121.9,308.37 122.4,308.33 122.9,308.29 123.4,308.24 123.9,308.19 124.4,308.13 124.9,308.07 125.4,308 125.9,307.93 126.4,307.85 126.9,307.77 127.4,307.67 127.9,307.57 128.4,307.46 128.9,307.34 129.4,307.21 129.9,307.08 130.4,306.93 130.9,306.77 131.4,306.6 131.9,306.42 132.4,306.22 132.9,306.02 133.4,305.8 133.9,305.56 134.4,305.32 134.9,305.05 135.4,304.78 135.9,304.49 136.4,304.18 136.9,303.86 137.4,303.52 137.9,303.17 138.4,302.8 138.9,302.41 139.4,302.01 139.9,301.6 140.4,301.17 140.9,300.72 141.4,300.26 141.9,299.79 142.4,299.3 142.9,298.8 143.4,298.28 143.9,297.76 144.4,297.23 144.9,296.68 145.4,296.13 145.9,295.58 146.4,295.01 146.9,294.45 147.4,293.88 147.9,293.31 148.4,292.74 148.9,292.17 149.4,291.61 149.9,291.05 150.4,290.5 150.9,289.96 151.4,289.43 151.9,288.92 152.4,288.42 152.9,287.93 153.4,287.47 153.9,287.02 154.4,286.6 154.9,286.2 155.4,285.82 155.9,285.47 156.4,285.15 156.9,284.86 157.4,284.6 157.9,284.37 158.4,284.17 158.9,284.01 159.4,283.88 159.9,283.79 160.4,283.73 160.9,283.7 161.4,283.71 161.9,283.76 162.4,283.84 162.9,283.95 163.4,284.1 163.9,284.29 164.4,284.5 164.9,284.75 165.4,285.03 165.9,285.34 166.4,285.68 166.9,286.04 167.4,286.43 167.9,286.85 168.4,287.29 168.9,287.74 169.4,288.22 169.9,288.72 170.4,289.23 170.9,289.75 171.4,290.29 171.9,290.83 172.4,291.39 172.9,291.95 173.4,292.51 173.9,293.08 174.4,293.65 174.9,294.22 175.4,294.79 175.9,295.35 176.4,295.91 176.9,296.47 177.4,297.01 177.9,297.55 178.4,298.08 178.9,298.59 179.4,299.1 179.9,299.59 180.4,300.07 180.9,300.54 181.4,300.99 181.9,301.43 182.4,301.85 182.9,302.26 183.4,302.65 183.9,303.02 184.4,303.38 184.9,303.73 185.4,304.05 185.9,304.37 186.4,304.66 186.9,304.95 187.4,305.21 187.9,305.47 188.4,305.71 188.9,305.93 189.4,306.14 189.9,306.34 190.4,306.53 190.9,306.7 191.4,306.87 191.9,307.02 192.4,307.16 192.9,307.29 193.4,307.41 193.9,307.53 194.4,307.63 194.9,307.73 195.4,307.82 195.9,307.9 196.4,307.98 196.9,308.05 197.4,308.11 197.9,308.17 198.4,308.22 198.9,308.27 199.4,308.31 199.9,308.35 200.4,308.39 200.9,308.42 201.4,308.45 201.9,308.48 202.4,308.5 202.9,308.53 203.4,308.54 203.9,308.56 204.4,308.58 204.9,308.59 205.4,308.6 205.9,308.62 206.4,308.63 206.9,308.64 207.4,308.64 207.9,308.65 208.4,308.66 208.9,308.66 209.4,308.67 209.9,308.67 210.4,308.67 210.9,308.68 211.4,308.68 211.9,308.68 212.4,308.69 212.9,308.69 213.4,308.69 213.9,308.69 214.4,308.69 214.9,308.69 215.4,308.69 215.9,308.7 216.4,308.7 216.9,308.7 217.4,308.7 217.9,308.7 218.4,308.7 218.9,308.7 219.4,308.7 219.9,308.7 220.4,308.7 220.9,308.7 221.4,308.7 221.9,308.7 222.4,308.7 222.9,308.7 223.4,308.7 223.9,308.7 224.4,308.7 224.9,308.7 225.4,308.7 225.9,308.7 226.4,308.7 226.9,308.7 227.4,308.7 227.9,308.7 228.4,308.7 228.9,308.7 229.4,308.7 229.9,308.7 230.4,308.7 230.9,308.7 231.4,308.7 231.9,308.7 232.4,308.7 232.9,308.7 233.4,308.7 233.9,308.7 234.4,308.7 234.9,308.7 235.4,308.7 235.9,308.7 236.4,308.7 236.9,308.7 237.4,308.7 237.9,308.7 238.4,308.7 238.9,308.7 239.4,308.7 239.9,308.7 240.4,308.7 240.9,308.7 241.4,308.7 241.9,308.7 242.4,308.7 242.9,308.7 243.4,308.7 243.9,308.7 244.4,308.7 244.9,308.7 245.4,308.7 245.9,308.7 246.4,308.7 246.9,308.7 247.4,308.7 247.9,308.7 248.4,308.7 248.9,308.7 249.4,308.7 249.9,308.7 250.4,308.7 250.9,308.7 251.4,308.7 251.9,308.7 252.4,308.7 252.9,308.7 253.4,308.7 253.9,308.7 254.4,308.7 254.9,308.7 255.4,308.7 255.9,308.7 256.4,308.7 256.9,308.7 257.4,308.7 257.9,308.7 258.4,308.7 258.9,308.7 259.4,308.7 259.9,308.7 260.4,308.7 260.9,308.7 261.4,308.7 261.9,308.7 262.4,308.7 262.9,308.7 263.4,308.7 263.9,308.7 264.4,308.7 264.9,308.7 265.4,308.7 265.9,308.7 266.4,308.7 266.9,308.7 267.4,308.7 267.9,308.7" fill="none" stroke="#1f6fe6" stroke-width="1.5" stroke-linejoin="round" />
<polyline points="31.4,309.1 31.9,309.1 32.4,309.1 32.9,309.1 33.4,309.1 33.9,309.1 34.4,309.1 34.9,309.1 35.4,309.1 35.9,309.1 36.4,309.1 36.9,309.1 37.4,309.1 37.9,309.1 38.4,309.1 38.9,309.1 39.4,309.1 39.9,309.1 40.4,309.1 40.9,309.1 41.4,309.1 41.9,309.1 42.4,309.1 42.9,309.1 43.4,309.1 43.9,309.1 44.4,309.1 44.9,309.1 45.4,309.1 45.9,309.1 46.4,309.1 46.9,309.1 47.4,309.1 47.9,309.1 48.4,309.1 48.9,309.1 49.4,309.1 49.9,309.1 50.4,309.1 50.9,309.09 51.4,309.09 51.9,309.09 52.4,309.09 52.9,309.09 53.4,309.09 53.9,309.09 54.4,309.09 54.9,309.09 55.4,309.09 55.9,309.09 56.4,309.09 56.9,309.08 57.4,309.08 57.9,309.08 58.4,309.08 58.9,309.08 59.4,309.08 59.9,309.07 60.4,309.07 60.9,309.07 61.4,309.07 61.9,309.07 62.4,309.06 62.9,309.06 63.4,309.06 63.9,309.05 64.4,309.05 64.9,309.05 65.4,309.04 65.9,309.04 66.4,309.03 66.9,309.03 67.4,309.02 67.9,309.02 68.4,309.01 68.9,309 69.4,309 69.9,308.99 70.4,308.98 70.9,308.97 71.4,308.96 71.9,308.95 72.4,308.94 72.9,308.93 73.4,308.92 73.9,308.91 74.4,308.9 74.9,308.88 75.4,308.87 75.9,308.85 76.4,308.84 76.9,308.82 77.4,308.81 77.9,308.79 78.4,308.77 78.9,308.75 79.4,308.73 79.9,308.71 80.4,308.68 80.9,308.66 81.4,308.64 81.9,308.61 82.4,308.58 82.9,308.55 83.4,308.53 83.9,308.49 84.4,308.46 84.9,308.43 85.4,308.4 85.9,308.36 86.4,308.32 86.9,308.29 87.4,308.25 87.9,308.21 88.4,308.16 88.9,308.12 89.4,308.07 89.9,308.03 90.4,307.98 90.9,307.93 91.4,307.88 91.9,307.83 92.4,307.78 92.9,307.72 93.4,307.66 93.9,307.61 94.4,307.55 94.9,307.49 95.4,307.43 95.9,307.37 96.4,307.3 96.9,307.24 97.4,307.17 97.9,307.1 98.4,307.04 98.9,306.97 99.4,306.9 99.9,306.83 100.4,306.75 100.9,306.68 101.4,306.61 101.9,306.53 102.4,306.46 102.9,306.38 103.4,306.31 103.9,306.23 104.4,306.16 104.9,306.08 105.4,306.01 105.9,305.93 106.4,305.86 106.9,305.78 107.4,305.71 107.9,305.63 108.4,305.56 108.9,305.48 109.4,305.41 109.9,305.34 110.4,305.27 110.9,305.2 111.4,305.13 111.9,305.07 112.4,305 112.9,304.94 113.4,304.87 113.9,304.81 114.4,304.76 114.9,304.7 115.4,304.64 115.9,304.59 116.4,304.54 116.9,304.49 117.4,304.45 117.9,304.41 118.4,304.36 118.9,304.33 119.4,304.29 119.9,304.26 120.4,304.23 120.9,304.2 121.4,304.18 121.9,304.16 122.4,304.14 122.9,304.13 123.4,304.12 123.9,304.11 124.4,304.1 124.9,304.1 125.4,304.1 125.9,304.11 126.4,304.11 126.9,304.12 127.4,304.14 127.9,304.15 128.4,304.17 128.9,304.19 129.4,304.22 129.9,304.25 130.4,304.28 130.9,304.31 131.4,304.35 131.9,304.39 132.4,304.43 132.9,304.48 133.4,304.52 133.9,304.57 134.4,304.62 134.9,304.68 135.4,304.73 135.9,304.79 136.4,304.85 136.9,304.91 137.4,304.97 137.9,305.04 138.4,305.11 138.9,305.17 139.4,305.24 139.9,305.31 140.4,305.38 140.9,305.45 141.4,305.53 141.9,305.6 142.4,305.68 142.9,305.75 143.4,305.83 143.9,305.9 144.4,305.98 144.9,306.05 145.4,306.13 145.9,306.2 146.4,306.28 146.9,306.35 147.4,306.43 147.9,306.5 148.4,306.58 148.9,306.65 149.4,306.72 149.9,306.8 150.4,306.87 150.9,306.94 151.4,307.01 151.9,307.08 152.4,307.14 152.9,307.21 153.4,307.28 153.9,307.34 154.4,307.4 154.9,307.46 155.4,307.53 155.9,307.58 156.4,307.64 156.9,307.7 157.4,307.75 157.9,307.81 158.4,307.86 158.9,307.91 159.4,307.96 159.9,308.01 160.4,308.06 160.9,308.1 161.4,308.15 161.9,308.19 162.4,308.23 162.9,308.27 163.4,308.31 163.9,308.35 164.4,308.38 164.9,308.42 165.4,308.45 165.9,308.48 166.4,308.51 166.9,308.54 167.4,308.57 167.9,308.6 168.4,308.63 168.9,308.65 169.4,308.67 169.9,308.7 170.4,308.72 170.9,308.74 171.4,308.76 171.9,308.78 172.4,308.8 172.9,308.82 173.4,308.83 173.9,308.85 174.4,308.86 174.9,308.88 175.4,308.89 175.9,308.9 176.4,308.92 176.9,308.93 177.4,308.94 177.9,308.95 178.4,308.96 178.9,308.97 179.4,308.98 179.9,308.98 180.4,308.99 180.9,309 181.4,309.01 181.9,309.01 182.4,309.02 182.9,309.02 183.4,309.03 183.9,309.03 184.4,309.04 184.9,309.04 185.4,309.05 185.9,309.05 186.4,309.06 186.9,309.06 187.4,309.06 187.9,309.06 188.4,309.07 188.9,309.07 189.4,309.07 189.9,309.07 190.4,309.08 190.9,309.08 191.4,309.08 191.9,309.08 192.4,309.08 192.9,309.08 193.4,309.09 193.9,309.09 194.4,309.09 194.9,309.09 195.4,309.09 195.9,309.09 196.4,309.09 196.9,309.09 197.4,309.09 197.9,309.09 198.4,309.09 198.9,309.09 199.4,309.1 199.9,309.1 200.4,309.1 200.9,309.1 201.4,309.1 201.9,309.1 202.4,309.1 202.9,309.1 203.4,309.1 203.9,309.1 204.4,309.1 204.9,309.1 205.4,309.1 205.9,309.1 206.4,309.1 206.9,309.1 207.4,309.1 207.9,309.1 208.4,309.1 208.9,309.1 209.4,309.1 209.9,309.1 210.4,309.1 210.9,309.1 211.4,309.1 211.9,309.1 212.4,309.1 212.9,309.1 213.4,309.1 213.9,309.1 214.4,309.1 214.9,309.1 215.4,309.1 215.9,309.1 216.4,309.1 216.9,309.1 217.4,309.1 217.9,309.1 218.4,309.1 218.9,309.1 219.4,309.1 219.9,309.1 220.4,309.1 220.9,309.1 221.4,309.1 221.9,309.1 222.4,309.1 222.9,309.1 223.4,309.1 223.9,309.1 224.4,309.1 224.9,309.1 225.4,309.1 225.9,309.1 226.4,309.1 226.9,309.1 227.4,309.1 227.9,309.1 228.4,309.1 228.9,309.1 229.4,309.1 229.9,309.1 230.4,309.1 230.9,309.1 231.4,309.1 231.9,309.1 232.4,309.1 232.9,309.1 233.4,309.1 233.9,309.1 234.4,309.1 234.9,309.1 235.4,309.1 235.9,309.1 236.4,309.1 236.9,309.1 237.4,309.1 237.9,309.1 238.4,309.1 238.9,309.1 239.4,309.1 239.9,309.1 240.4,309.1 240.9,309.1 241.4,309.1 241.9,309.1 242.4,309.1 242.9,309.1 243.4,309.1 243.9,309.1 244.4,309.1 244.9,309.1 245.4,309.1 245.9,309.1 246.4,309.1 246.9,309.1 247.4,309.1 247.9,309.1 248.4,309.1 248.9,309.1 249.4,309.1 249.9,309.1 250.4,309.1 250.9,309.1 251.4,309.1 251.9,309.1 252.4,309.1 252.9,309.1 253.4,309.1 253.9,309.1 254.4,309.1 254.9,309.1 255.4,309.1 255.9,309.1 256.4,309.1 256.9,309.1 257.4,309.1 257.9,309.1 258.4,309.1 258.9,309.1 259.4,309.1 259.9,309.1 260.4,309.1 260.9,309.1 261.4,309.1 261.9,309.1 262.4,309.1 262.9,309.1 263.4,309.1 263.9,309.1 264.4,309.1 264.9,309.1 265.4,309.1 265.9,309.1 266.4,309.1 266.9,309.1 267.4,309.1 267.9,309.1" fill="none" stroke="#f0272d" stroke-width="1.5" stroke-linejoin="round" />
<polyline points="31.4,309 31.9,308.98 32.4,308.96 32.9,308.94 33.4,308.93 33.9,308.91 34.4,308.89 34.9,308.87 35.4,308.85 35.9,308.83 36.4,308.81 36.9,308.79 37.4,308.77 37.9,308.75 38.4,308.73 38.9,308.7 39.4,308.68 39.9,308.66 40.4,308.63 40.9,308.61 41.4,308.58 41.9,308.56 42.4,308.53 42.9,308.51 43.4,308.48 43.9,308.46 44.4,308.43 44.9,308.4 45.4,308.37 45.9,308.35 46.4,308.32 46.9,308.29 47.4,308.26 47.9,308.23 48.4,308.2 48.9,308.17 49.4,308.14 49.9,308.11 50.4,308.08 50.9,308.05 51.4,308.01 51.9,307.98 52.4,307.95 52.9,307.92 53.4,307.88 53.9,307.85 54.4,307.82 54.9,307.79 55.4,307.75 55.9,307.72 56.4,307.68 56.9,307.65 57.4,307.62 57.9,307.58 58.4,307.55 58.9,307.51 59.4,307.48 59.9,307.44 60.4,307.41 60.9,307.38 61.4,307.34 61.9,307.31 62.4,307.27 62.9,307.24 63.4,307.21 63.9,307.17 64.4,307.14 64.9,307.1 65.4,307.07 65.9,307.04 66.4,307 66.9,306.97 67.4,306.94 67.9,306.91 68.4,306.88 68.9,306.85 69.4,306.81 69.9,306.78 70.4,306.75 70.9,306.72 71.4,306.69 71.9,306.67 72.4,306.64 72.9,306.61 73.4,306.58 73.9,306.56 74.4,306.53 74.9,306.5 75.4,306.48 75.9,306.46 76.4,306.43 76.9,306.41 77.4,306.39 77.9,306.37 78.4,306.34 78.9,306.32 79.4,306.31 79.9,306.29 80.4,306.27 80.9,306.25 81.4,306.24 81.9,306.22 82.4,306.21 82.9,306.19 83.4,306.18 83.9,306.17 84.4,306.16 84.9,306.15 85.4,306.14 85.9,306.13 86.4,306.12 86.9,306.12 87.4,306.11 87.9,306.11 88.4,306.1 88.9,306.1 89.4,306.1 89.9,306.1 90.4,306.1 90.9,306.1 91.4,306.1 91.9,306.11 92.4,306.11 92.9,306.12 93.4,306.12 93.9,306.13 94.4,306.14 94.9,306.15 95.4,306.15 95.9,306.17 96.4,306.18 96.9,306.19 97.4,306.2 97.9,306.22 98.4,306.23 98.9,306.25 99.4,306.26 99.9,306.28 100.4,306.3 100.9,306.32 101.4,306.34 101.9,306.36 102.4,306.38 102.9,306.4 103.4,306.42 103.9,306.45 104.4,306.47 104.9,306.49 105.4,306.52 105.9,306.55 106.4,306.57 106.9,306.6 107.4,306.63 107.9,306.65 108.4,306.68 108.9,306.71 109.4,306.74 109.9,306.77 110.4,306.8 110.9,306.83 111.4,306.86 111.9,306.9 112.4,306.93 112.9,306.96 113.4,306.99 113.9,307.02 114.4,307.06 114.9,307.09 115.4,307.12 115.9,307.16 116.4,307.19 116.9,307.23 117.4,307.26 117.9,307.29 118.4,307.33 118.9,307.36 119.4,307.4 119.9,307.43 120.4,307.47 120.9,307.5 121.4,307.53 121.9,307.57 122.4,307.6 122.9,307.64 123.4,307.67 123.9,307.7 124.4,307.74 124.9,307.77 125.4,307.81 125.9,307.84 126.4,307.87 126.9,307.9 127.4,307.94 127.9,307.97 128.4,308 128.9,308.03 129.4,308.06 129.9,308.1 130.4,308.13 130.9,308.16 131.4,308.19 131.9,308.22 132.4,308.25 132.9,308.28 133.4,308.31 133.9,308.33 134.4,308.36 134.9,308.39 135.4,308.42 135.9,308.45 136.4,308.47 136.9,308.5 137.4,308.52 137.9,308.55 138.4,308.57 138.9,308.6 139.4,308.62 139.9,308.65 140.4,308.67 140.9,308.69 141.4,308.72 141.9,308.74 142.4,308.76 142.9,308.78 143.4,308.8 143.9,308.82 144.4,308.84 144.9,308.86 145.4,308.88 145.9,308.9 146.4,308.92 146.9,308.94 147.4,308.95 147.9,308.97 148.4,308.99 148.9,309.01 149.4,309.02 149.9,309.04 150.4,309.05 150.9,309.07 151.4,309.08 151.9,309.1 152.4,309.11 152.9,309.12 153.4,309.14 153.9,309.15 154.4,309.16 154.9,309.17 155.4,309.18 155.9,309.2 156.4,309.21 156.9,309.22 157.4,309.23 157.9,309.24 158.4,309.25 158.9,309.26 159.4,309.27 159.9,309.27 160.4,309.28 160.9,309.29 161.4,309.3 161.9,309.31 162.4,309.32 162.9,309.32 163.4,309.33 163.9,309.34 164.4,309.34 164.9,309.35 165.4,309.36 165.9,309.36 166.4,309.37 166.9,309.37 167.4,309.38 167.9,309.38 168.4,309.39 168.9,309.39 169.4,309.4 169.9,309.4 170.4,309.41 170.9,309.41 171.4,309.41 171.9,309.42 172.4,309.42 172.9,309.43 173.4,309.43 173.9,309.43 174.4,309.44 174.9,309.44 175.4,309.44 175.9,309.44 176.4,309.45 176.9,309.45 177.4,309.45 177.9,309.45 178.4,309.46 178.9,309.46 179.4,309.46 179.9,309.46 180.4,309.46 180.9,309.47 181.4,309.47 181.9,309.47 182.4,309.47 182.9,309.47 183.4,309.47 183.9,309.47 184.4,309.48 184.9,309.48 185.4,309.48 185.9,309.48 186.4,309.48 186.9,309.48 187.4,309.48 187.9,309.48 188.4,309.48 188.9,309.49 189.4,309.49 189.9,309.49 190.4,309.49 190.9,309.49 191.4,309.49 191.9,309.49 192.4,309.49 192.9,309.49 193.4,309.49 193.9,309.49 194.4,309.49 194.9,309.49 195.4,309.49 195.9,309.49 196.4,309.49 196.9,309.49 197.4,309.49 197.9,309.49 198.4,309.5 198.9,309.5 199.4,309.5 199.9,309.5 200.4,309.5 200.9,309.5 201.4,309.5 201.9,309.5 202.4,309.5 202.9,309.5 203.4,309.5 203.9,309.5 204.4,309.5 204.9,309.5 205.4,309.5 205.9,309.5 206.4,309.5 206.9,309.5 207.4,309.5 207.9,309.5 208.4,309.5 208.9,309.5 209.4,309.5 209.9,309.5 210.4,309.5 210.9,309.5 211.4,309.5 211.9,309.5 212.4,309.5 212.9,309.5 213.4,309.5 213.9,309.5 214.4,309.5 214.9,309.5 215.4,309.5 215.9,309.5 216.4,309.5 216.9,309.5 217.4,309.5 217.9,309.5 218.4,309.5 218.9,309.5 219.4,309.5 219.9,309.5 220.4,309.5 220.9,309.5 221.4,309.5 221.9,309.5 222.4,309.5 222.9,309.5 223.4,309.5 223.9,309.5 224.4,309.5 224.9,309.5 225.4,309.5 225.9,309.5 226.4,309.5 226.9,309.5 227.4,309.5 227.9,309.5 228.4,309.5 228.9,309.5 229.4,309.5 229.9,309.5 230.4,309.5 230.9,309.5 231.4,309.5 231.9,309.5 232.4,309.5 232.9,309.5 233.4,309.5 233.9,309.5 234.4,309.5 234.9,309.5 235.4,309.5 235.9,309.5 236.4,309.5 236.9,309.5 237.4,309.5 237.9,309.5 238.4,309.5 238.9,309.5 239.4,309.5 239.9,309.5 240.4,309.5 240.9,309.5 241.4,309.5 241.9,309.5 242.4,309.5 242.9,309.5 243.4,309.5 243.9,309.5 244.4,309.5 244.9,309.5 245.4,309.5 245.9,309.5 246.4,309.5 246.9,309.5 247.4,309.5 247.9,309.5 248.4,309.5 248.9,309.5 249.4,309.5 249.9,309.5 250.4,309.5 250.9,309.5 251.4,309.5 251.9,309.5 252.4,309.5 252.9,309.5 253.4,309.5 253.9,309.5 254.4,309.5 254.9,309.5 255.4,309.5 255.9,309.5 256.4,309.5 256.9,309.5 257.4,309.5 257.9,309.5 258.4,309.5 258.9,309.5 259.4,309.5 259.9,309.5 260.4,309.5 260.9,309.5 261.4,309.5 261.9,309.5 262.4,309.5 262.9,309.5 263.4,309.5 263.9,309.5 264.4,309.5 264.9,309.5 265.4,309.5 265.9,309.5 266.4,309.5 266.9,309.5 267.4,309.5 267.9,309.5" fill="none" stroke="#2fb063" stroke-width="1.5" stroke-linejoin="round" />
<line x1="60.41" y1="312.8" x2="60.41" y2="309.8" stroke="#000" stroke-width="1.1"/>
<line x1="90.23" y1="312.8" x2="90.23" y2="309.8" stroke="#000" stroke-width="1.1"/>
<line x1="120.04" y1="312.8" x2="120.04" y2="309.8" stroke="#000" stroke-width="1.1"/>
<line x1="149.85" y1="312.8" x2="149.85" y2="309.8" stroke="#000" stroke-width="1.1"/>
<line x1="179.66" y1="312.8" x2="179.66" y2="309.8" stroke="#000" stroke-width="1.1"/>
<line x1="209.48" y1="312.8" x2="209.48" y2="309.8" stroke="#000" stroke-width="1.1"/>
<line x1="239.29" y1="312.8" x2="239.29" y2="309.8" stroke="#000" stroke-width="1.1"/>
<line x1="30.6" y1="312.8" x2="269.1" y2="312.8" stroke="#000" stroke-width="1.3"/>
<path d="M30.3,341.77a2.1,2.1 0 1,0 4.2,0a2.1,2.1 0 1,0 -4.2,0M33.2,341.38a2.1,2.1 0 1,0 4.2,0a2.1,2.1 0 1,0 -4.2,0M36.1,341.93a2.1,2.1 0 1,0 4.2,0a2.1,2.1 0 1,0 -4.2,0M39,342.15a2.1,2.1 0 1,0 4.2,0a2.1,2.1 0 1,0 -4.2,0M41.9,341.45a2.1,2.1 0 1,0 4.2,0a2.1,2.1 0 1,0 -4.2,0M44.8,341.47a2.1,2.1 0 1,0 4.2,0a2.1,2.1 0 1,0 -4.2,0M47.7,341.29a2.1,2.1 0 1,0 4.2,0a2.1,2.1 0 1,0 -4.2,0M50.6,341.01a2.1,2.1 0 1,0 4.2,0a2.1,2.1 0 1,0 -4.2,0M53.5,340.81a2.1,2.1 0 1,0 4.2,0a2.1,2.1 0 1,0 -4.2,0M56.4,340.67a2.1,2.1 0 1,0 4.2,0a2.1,2.1 0 1,0 -4.2,0M59.3,340.15a2.1,2.1 0 1,0 4.2,0a2.1,2.1 0 1,0 -4.2,0M62.2,339.65a2.1,2.1 0 1,0 4.2,0a2.1,2.1 0 1,0 -4.2,0M65.1,339.4a2.1,2.1 0 1,0 4.2,0a2.1,2.1 0 1,0 -4.2,0M68,339.69a2.1,2.1 0 1,0 4.2,0a2.1,2.1 0 1,0 -4.2,0M70.9,339.43a2.1,2.1 0 1,0 4.2,0a2.1,2.1 0 1,0 -4.2,0M73.8,339.09a2.1,2.1 0 1,0 4.2,0a2.1,2.1 0 1,0 -4.2,0M76.7,338.37a2.1,2.1 0 1,0 4.2,0a2.1,2.1 0 1,0 -4.2,0M79.6,338.58a2.1,2.1 0 1,0 4.2,0a2.1,2.1 0 1,0 -4.2,0M82.5,338.38a2.1,2.1 0 1,0 4.2,0a2.1,2.1 0 1,0 -4.2,0M85.4,337.93a2.1,2.1 0 1,0 4.2,0a2.1,2.1 0 1,0 -4.2,0M88.3,337.71a2.1,2.1 0 1,0 4.2,0a2.1,2.1 0 1,0 -4.2,0M91.2,338.07a2.1,2.1 0 1,0 4.2,0a2.1,2.1 0 1,0 -4.2,0M94.1,337.61a2.1,2.1 0 1,0 4.2,0a2.1,2.1 0 1,0 -4.2,0M97,337.21a2.1,2.1 0 1,0 4.2,0a2.1,2.1 0 1,0 -4.2,0M99.9,336.81a2.1,2.1 0 1,0 4.2,0a2.1,2.1 0 1,0 -4.2,0M102.8,336.38a2.1,2.1 0 1,0 4.2,0a2.1,2.1 0 1,0 -4.2,0M105.7,336.15a2.1,2.1 0 1,0 4.2,0a2.1,2.1 0 1,0 -4.2,0M108.6,336.16a2.1,2.1 0 1,0 4.2,0a2.1,2.1 0 1,0 -4.2,0M111.5,335.65a2.1,2.1 0 1,0 4.2,0a2.1,2.1 0 1,0 -4.2,0M114.4,335.66a2.1,2.1 0 1,0 4.2,0a2.1,2.1 0 1,0 -4.2,0M117.3,335.97a2.1,2.1 0 1,0 4.2,0a2.1,2.1 0 1,0 -4.2,0M120.2,335.24a2.1,2.1 0 1,0 4.2,0a2.1,2.1 0 1,0 -4.2,0M123.1,335.23a2.1,2.1 0 1,0 4.2,0a2.1,2.1 0 1,0 -4.2,0M126,335.55a2.1,2.1 0 1,0 4.2,0a2.1,2.1 0 1,0 -4.2,0M128.9,334.82a2.1,2.1 0 1,0 4.2,0a2.1,2.1 0 1,0 -4.2,0M131.8,334.07a2.1,2.1 0 1,0 4.2,0a2.1,2.1 0 1,0 -4.2,0M134.7,332.77a2.1,2.1 0 1,0 4.2,0a2.1,2.1 0 1,0 -4.2,0M137.6,331.14a2.1,2.1 0 1,0 4.2,0a2.1,2.1 0 1,0 -4.2,0M140.5,329.81a2.1,2.1 0 1,0 4.2,0a2.1,2.1 0 1,0 -4.2,0M143.4,326.77a2.1,2.1 0 1,0 4.2,0a2.1,2.1 0 1,0 -4.2,0M146.3,325.11a2.1,2.1 0 1,0 4.2,0a2.1,2.1 0 1,0 -4.2,0M149.2,322.69a2.1,2.1 0 1,0 4.2,0a2.1,2.1 0 1,0 -4.2,0M152.1,321.01a2.1,2.1 0 1,0 4.2,0a2.1,2.1 0 1,0 -4.2,0M155,319.5a2.1,2.1 0 1,0 4.2,0a2.1,2.1 0 1,0 -4.2,0M157.9,319.96a2.1,2.1 0 1,0 4.2,0a2.1,2.1 0 1,0 -4.2,0M160.8,320.66a2.1,2.1 0 1,0 4.2,0a2.1,2.1 0 1,0 -4.2,0M163.7,322.26a2.1,2.1 0 1,0 4.2,0a2.1,2.1 0 1,0 -4.2,0M166.6,324.65a2.1,2.1 0 1,0 4.2,0a2.1,2.1 0 1,0 -4.2,0M169.5,327.05a2.1,2.1 0 1,0 4.2,0a2.1,2.1 0 1,0 -4.2,0M172.4,330.32a2.1,2.1 0 1,0 4.2,0a2.1,2.1 0 1,0 -4.2,0M175.3,333.19a2.1,2.1 0 1,0 4.2,0a2.1,2.1 0 1,0 -4.2,0M178.2,335.55a2.1,2.1 0 1,0 4.2,0a2.1,2.1 0 1,0 -4.2,0M181.1,336.93a2.1,2.1 0 1,0 4.2,0a2.1,2.1 0 1,0 -4.2,0M184,339.18a2.1,2.1 0 1,0 4.2,0a2.1,2.1 0 1,0 -4.2,0M186.9,340.39a2.1,2.1 0 1,0 4.2,0a2.1,2.1 0 1,0 -4.2,0M189.8,340.92a2.1,2.1 0 1,0 4.2,0a2.1,2.1 0 1,0 -4.2,0M192.7,341.7a2.1,2.1 0 1,0 4.2,0a2.1,2.1 0 1,0 -4.2,0M195.6,342.28a2.1,2.1 0 1,0 4.2,0a2.1,2.1 0 1,0 -4.2,0M198.5,342.17a2.1,2.1 0 1,0 4.2,0a2.1,2.1 0 1,0 -4.2,0M201.4,342.58a2.1,2.1 0 1,0 4.2,0a2.1,2.1 0 1,0 -4.2,0M204.3,342.23a2.1,2.1 0 1,0 4.2,0a2.1,2.1 0 1,0 -4.2,0M207.2,342.22a2.1,2.1 0 1,0 4.2,0a2.1,2.1 0 1,0 -4.2,0M210.1,342.45a2.1,2.1 0 1,0 4.2,0a2.1,2.1 0 1,0 -4.2,0M213,342.2a2.1,2.1 0 1,0 4.2,0a2.1,2.1 0 1,0 -4.2,0M215.9,342.03a2.1,2.1 0 1,0 4.2,0a2.1,2.1 0 1,0 -4.2,0M218.8,342.47a2.1,2.1 0 1,0 4.2,0a2.1,2.1 0 1,0 -4.2,0M221.7,342.4a2.1,2.1 0 1,0 4.2,0a2.1,2.1 0 1,0 -4.2,0M224.6,342.53a2.1,2.1 0 1,0 4.2,0a2.1,2.1 0 1,0 -4.2,0M227.5,342.21a2.1,2.1 0 1,0 4.2,0a2.1,2.1 0 1,0 -4.2,0M230.4,342.3a2.1,2.1 0 1,0 4.2,0a2.1,2.1 0 1,0 -4.2,0M233.3,342.51a2.1,2.1 0 1,0 4.2,0a2.1,2.1 0 1,0 -4.2,0M236.2,342.29a2.1,2.1 0 1,0 4.2,0a2.1,2.1 0 1,0 -4.2,0M239.1,342.35a2.1,2.1 0 1,0 4.2,0a2.1,2.1 0 1,0 -4.2,0M242,342.45a2.1,2.1 0 1,0 4.2,0a2.1,2.1 0 1,0 -4.2,0M244.9,342.24a2.1,2.1 0 1,0 4.2,0a2.1,2.1 0 1,0 -4.2,0M247.8,342.45a2.1,2.1 0 1,0 4.2,0a2.1,2.1 0 1,0 -4.2,0M250.7,342.08a2.1,2.1 0 1,0 4.2,0a2.1,2.1 0 1,0 -4.2,0M253.6,342.51a2.1,2.1 0 1,0 4.2,0a2.1,2.1 0 1,0 -4.2,0M256.5,342.99a2.1,2.1 0 1,0 4.2,0a2.1,2.1 0 1,0 -4.2,0M259.4,342.54a2.1,2.1 0 1,0 4.2,0a2.1,2.1 0 1,0 -4.2,0M262.3,342.31a2.1,2.1 0 1,0 4.2,0a2.1,2.1 0 1,0 -4.2,0M265.2,342.05a2.1,2.1 0 1,0 4.2,0a2.1,2.1 0 1,0 -4.2,0" fill="none" stroke="#6a6a6a" stroke-width="0.8"/>
<polyline points="31.4,342.4 31.9,342.4 32.4,342.4 32.9,342.4 33.4,342.4 33.9,342.4 34.4,342.4 34.9,342.4 35.4,342.4 35.9,342.4 36.4,342.4 36.9,342.4 37.4,342.4 37.9,342.4 38.4,342.4 38.9,342.4 39.4,342.4 39.9,342.4 40.4,342.4 40.9,342.4 41.4,342.4 41.9,342.4 42.4,342.4 42.9,342.4 43.4,342.4 43.9,342.4 44.4,342.4 44.9,342.4 45.4,342.4 45.9,342.4 46.4,342.4 46.9,342.4 47.4,342.4 47.9,342.4 48.4,342.4 48.9,342.4 49.4,342.4 49.9,342.4 50.4,342.4 50.9,342.4 51.4,342.4 51.9,342.4 52.4,342.4 52.9,342.4 53.4,342.4 53.9,342.4 54.4,342.4 54.9,342.4 55.4,342.4 55.9,342.4 56.4,342.4 56.9,342.4 57.4,342.4 57.9,342.4 58.4,342.4 58.9,342.4 59.4,342.4 59.9,342.4 60.4,342.4 60.9,342.4 61.4,342.4 61.9,342.4 62.4,342.4 62.9,342.4 63.4,342.4 63.9,342.4 64.4,342.4 64.9,342.4 65.4,342.4 65.9,342.4 66.4,342.4 66.9,342.4 67.4,342.4 67.9,342.4 68.4,342.4 68.9,342.4 69.4,342.4 69.9,342.4 70.4,342.4 70.9,342.4 71.4,342.4 71.9,342.4 72.4,342.4 72.9,342.4 73.4,342.4 73.9,342.4 74.4,342.4 74.9,342.4 75.4,342.4 75.9,342.4 76.4,342.4 76.9,342.4 77.4,342.4 77.9,342.4 78.4,342.4 78.9,342.4 79.4,342.4 79.9,342.4 80.4,342.4 80.9,342.4 81.4,342.4 81.9,342.4 82.4,342.4 82.9,342.4 83.4,342.4 83.9,342.4 84.4,342.4 84.9,342.4 85.4,342.4 85.9,342.4 86.4,342.4 86.9,342.4 87.4,342.4 87.9,342.4 88.4,342.4 88.9,342.4 89.4,342.4 89.9,342.4 90.4,342.4 90.9,342.4 91.4,342.4 91.9,342.4 92.4,342.4 92.9,342.4 93.4,342.4 93.9,342.4 94.4,342.4 94.9,342.4 95.4,342.4 95.9,342.4 96.4,342.4 96.9,342.4 97.4,342.4 97.9,342.4 98.4,342.4 98.9,342.4 99.4,342.4 99.9,342.4 100.4,342.4 100.9,342.4 101.4,342.4 101.9,342.4 102.4,342.4 102.9,342.4 103.4,342.4 103.9,342.4 104.4,342.4 104.9,342.4 105.4,342.4 105.9,342.39 106.4,342.39 106.9,342.39 107.4,342.39 107.9,342.39 108.4,342.39 108.9,342.39 109.4,342.38 109.9,342.38 110.4,342.38 110.9,342.38 111.4,342.37 111.9,342.37 112.4,342.36 112.9,342.36 113.4,342.35 113.9,342.35 114.4,342.34 114.9,342.33 115.4,342.32 115.9,342.31 116.4,342.3 116.9,342.29 117.4,342.27 117.9,342.26 118.4,342.24 118.9,342.22 119.4,342.2 119.9,342.17 120.4,342.14 120.9,342.11 121.4,342.08 121.9,342.04 122.4,342 122.9,341.96 123.4,341.91 123.9,341.86 124.4,341.8 124.9,341.74 125.4,341.67 125.9,341.6 126.4,341.52 126.9,341.43 127.4,341.33 127.9,341.23 128.4,341.12 128.9,341 129.4,340.88 129.9,340.74 130.4,340.59 130.9,340.44 131.4,340.27 131.9,340.09 132.4,339.9 132.9,339.7 133.4,339.49 133.9,339.27 134.4,339.03 134.9,338.78 135.4,338.51 135.9,338.24 136.4,337.95 136.9,337.64 137.4,337.32 137.9,336.99 138.4,336.65 138.9,336.29 139.4,335.92 139.9,335.54 140.4,335.14 140.9,334.73 141.4,334.31 141.9,333.88 142.4,333.44 142.9,332.99 143.4,332.53 143.9,332.07 144.4,331.59 144.9,331.11 145.4,330.63 145.9,330.14 146.4,329.65 146.9,329.16 147.4,328.67 147.9,328.19 148.4,327.7 148.9,327.22 149.4,326.75 149.9,326.29 150.4,325.83 150.9,325.39 151.4,324.96 151.9,324.54 152.4,324.14 152.9,323.76 153.4,323.39 153.9,323.05 154.4,322.72 154.9,322.42 155.4,322.15 155.9,321.9 156.4,321.67 156.9,321.48 157.4,321.31 157.9,321.17 158.4,321.06 158.9,320.97 159.4,320.92 159.9,320.9 160.4,320.91 160.9,320.95 161.4,321.02 161.9,321.12 162.4,321.25 162.9,321.41 163.4,321.59 163.9,321.8 164.4,322.04 164.9,322.31 165.4,322.6 165.9,322.91 166.4,323.25 166.9,323.61 167.4,323.98 167.9,324.38 168.4,324.79 168.9,325.21 169.4,325.65 169.9,326.1 170.4,326.56 170.9,327.03 171.4,327.51 171.9,327.99 172.4,328.48 172.9,328.97 173.4,329.46 173.9,329.95 174.4,330.44 174.9,330.92 175.4,331.4 175.9,331.88 176.4,332.35 176.9,332.81 177.4,333.26 177.9,333.71 178.4,334.14 178.9,334.57 179.4,334.98 179.9,335.38 180.4,335.77 180.9,336.15 181.4,336.51 181.9,336.86 182.4,337.19 182.9,337.52 183.4,337.83 183.9,338.12 184.4,338.4 184.9,338.67 185.4,338.93 185.9,339.17 186.4,339.4 186.9,339.62 187.4,339.82 187.9,340.02 188.4,340.2 188.9,340.37 189.4,340.53 189.9,340.68 190.4,340.82 190.9,340.95 191.4,341.08 191.9,341.19 192.4,341.29 192.9,341.39 193.4,341.48 193.9,341.56 194.4,341.64 194.9,341.71 195.4,341.78 195.9,341.84 196.4,341.89 196.9,341.94 197.4,341.99 197.9,342.03 198.4,342.07 198.9,342.1 199.4,342.13 199.9,342.16 200.4,342.19 200.9,342.21 201.4,342.23 201.9,342.25 202.4,342.27 202.9,342.28 203.4,342.3 203.9,342.31 204.4,342.32 204.9,342.33 205.4,342.34 205.9,342.34 206.4,342.35 206.9,342.36 207.4,342.36 207.9,342.37 208.4,342.37 208.9,342.38 209.4,342.38 209.9,342.38 210.4,342.38 210.9,342.39 211.4,342.39 211.9,342.39 212.4,342.39 212.9,342.39 213.4,342.39 213.9,342.39 214.4,342.39 214.9,342.4 215.4,342.4 215.9,342.4 216.4,342.4 216.9,342.4 217.4,342.4 217.9,342.4 218.4,342.4 218.9,342.4 219.4,342.4 219.9,342.4 220.4,342.4 220.9,342.4 221.4,342.4 221.9,342.4 222.4,342.4 222.9,342.4 223.4,342.4 223.9,342.4 224.4,342.4 224.9,342.4 225.4,342.4 225.9,342.4 226.4,342.4 226.9,342.4 227.4,342.4 227.9,342.4 228.4,342.4 228.9,342.4 229.4,342.4 229.9,342.4 230.4,342.4 230.9,342.4 231.4,342.4 231.9,342.4 232.4,342.4 232.9,342.4 233.4,342.4 233.9,342.4 234.4,342.4 234.9,342.4 235.4,342.4 235.9,342.4 236.4,342.4 236.9,342.4 237.4,342.4 237.9,342.4 238.4,342.4 238.9,342.4 239.4,342.4 239.9,342.4 240.4,342.4 240.9,342.4 241.4,342.4 241.9,342.4 242.4,342.4 242.9,342.4 243.4,342.4 243.9,342.4 244.4,342.4 244.9,342.4 245.4,342.4 245.9,342.4 246.4,342.4 246.9,342.4 247.4,342.4 247.9,342.4 248.4,342.4 248.9,342.4 249.4,342.4 249.9,342.4 250.4,342.4 250.9,342.4 251.4,342.4 251.9,342.4 252.4,342.4 252.9,342.4 253.4,342.4 253.9,342.4 254.4,342.4 254.9,342.4 255.4,342.4 255.9,342.4 256.4,342.4 256.9,342.4 257.4,342.4 257.9,342.4 258.4,342.4 258.9,342.4 259.4,342.4 259.9,342.4 260.4,342.4 260.9,342.4 261.4,342.4 261.9,342.4 262.4,342.4 262.9,342.4 263.4,342.4 263.9,342.4 264.4,342.4 264.9,342.4 265.4,342.4 265.9,342.4 266.4,342.4 266.9,342.4 267.4,342.4 267.9,342.4" fill="none" stroke="#1f6fe6" stroke-width="1.5" stroke-linejoin="round" />
<polyline points="31.4,342.8 31.9,342.8 32.4,342.8 32.9,342.8 33.4,342.8 33.9,342.8 34.4,342.8 34.9,342.8 35.4,342.8 35.9,342.8 36.4,342.8 36.9,342.8 37.4,342.8 37.9,342.8 38.4,342.8 38.9,342.8 39.4,342.8 39.9,342.8 40.4,342.8 40.9,342.8 41.4,342.8 41.9,342.8 42.4,342.8 42.9,342.8 43.4,342.8 43.9,342.8 44.4,342.8 44.9,342.8 45.4,342.8 45.9,342.8 46.4,342.8 46.9,342.8 47.4,342.8 47.9,342.8 48.4,342.8 48.9,342.8 49.4,342.8 49.9,342.8 50.4,342.79 50.9,342.79 51.4,342.79 51.9,342.79 52.4,342.79 52.9,342.79 53.4,342.79 53.9,342.79 54.4,342.79 54.9,342.79 55.4,342.79 55.9,342.79 56.4,342.78 56.9,342.78 57.4,342.78 57.9,342.78 58.4,342.78 58.9,342.78 59.4,342.78 59.9,342.77 60.4,342.77 60.9,342.77 61.4,342.77 61.9,342.76 62.4,342.76 62.9,342.76 63.4,342.75 63.9,342.75 64.4,342.75 64.9,342.74 65.4,342.74 65.9,342.73 66.4,342.73 66.9,342.72 67.4,342.72 67.9,342.71 68.4,342.7 68.9,342.7 69.4,342.69 69.9,342.68 70.4,342.67 70.9,342.66 71.4,342.66 71.9,342.65 72.4,342.64 72.9,342.62 73.4,342.61 73.9,342.6 74.4,342.59 74.9,342.57 75.4,342.56 75.9,342.54 76.4,342.53 76.9,342.51 77.4,342.5 77.9,342.48 78.4,342.46 78.9,342.44 79.4,342.42 79.9,342.4 80.4,342.37 80.9,342.35 81.4,342.32 81.9,342.3 82.4,342.27 82.9,342.24 83.4,342.21 83.9,342.18 84.4,342.15 84.9,342.12 85.4,342.09 85.9,342.05 86.4,342.01 86.9,341.98 87.4,341.94 87.9,341.9 88.4,341.86 88.9,341.81 89.4,341.77 89.9,341.72 90.4,341.68 90.9,341.63 91.4,341.58 91.9,341.53 92.4,341.48 92.9,341.43 93.4,341.37 93.9,341.32 94.4,341.26 94.9,341.2 95.4,341.15 95.9,341.09 96.4,341.02 96.9,340.96 97.4,340.9 97.9,340.84 98.4,340.77 98.9,340.71 99.4,340.64 99.9,340.57 100.4,340.51 100.9,340.44 101.4,340.37 101.9,340.3 102.4,340.23 102.9,340.16 103.4,340.09 103.9,340.02 104.4,339.95 104.9,339.88 105.4,339.81 105.9,339.75 106.4,339.68 106.9,339.61 107.4,339.54 107.9,339.47 108.4,339.41 108.9,339.34 109.4,339.28 109.9,339.21 110.4,339.15 110.9,339.09 111.4,339.03 111.9,338.97 112.4,338.91 112.9,338.86 113.4,338.8 113.9,338.75 114.4,338.7 114.9,338.65 115.4,338.61 115.9,338.56 116.4,338.52 116.9,338.48 117.4,338.44 117.9,338.41 118.4,338.38 118.9,338.35 119.4,338.32 119.9,338.3 120.4,338.27 120.9,338.25 121.4,338.24 121.9,338.23 122.4,338.21 122.9,338.21 123.4,338.2 123.9,338.2 124.4,338.2 124.9,338.2 125.4,338.21 125.9,338.22 126.4,338.23 126.9,338.25 127.4,338.27 127.9,338.29 128.4,338.31 128.9,338.34 129.4,338.36 129.9,338.4 130.4,338.43 130.9,338.47 131.4,338.5 131.9,338.55 132.4,338.59 132.9,338.63 133.4,338.68 133.9,338.73 134.4,338.78 134.9,338.83 135.4,338.89 135.9,338.95 136.4,339 136.9,339.06 137.4,339.12 137.9,339.19 138.4,339.25 138.9,339.31 139.4,339.38 139.9,339.45 140.4,339.51 140.9,339.58 141.4,339.65 141.9,339.72 142.4,339.79 142.9,339.86 143.4,339.93 143.9,340 144.4,340.07 144.9,340.14 145.4,340.2 145.9,340.27 146.4,340.34 146.9,340.41 147.4,340.48 147.9,340.55 148.4,340.61 148.9,340.68 149.4,340.75 149.9,340.81 150.4,340.88 150.9,340.94 151.4,341 151.9,341.06 152.4,341.12 152.9,341.18 153.4,341.24 153.9,341.3 154.4,341.35 154.9,341.41 155.4,341.46 155.9,341.51 156.4,341.56 156.9,341.61 157.4,341.66 157.9,341.71 158.4,341.75 158.9,341.8 159.4,341.84 159.9,341.88 160.4,341.92 160.9,341.96 161.4,342 161.9,342.04 162.4,342.07 162.9,342.11 163.4,342.14 163.9,342.17 164.4,342.2 164.9,342.23 165.4,342.26 165.9,342.29 166.4,342.31 166.9,342.34 167.4,342.36 167.9,342.39 168.4,342.41 168.9,342.43 169.4,342.45 169.9,342.47 170.4,342.49 170.9,342.51 171.4,342.52 171.9,342.54 172.4,342.55 172.9,342.57 173.4,342.58 173.9,342.6 174.4,342.61 174.9,342.62 175.4,342.63 175.9,342.64 176.4,342.65 176.9,342.66 177.4,342.67 177.9,342.68 178.4,342.69 178.9,342.69 179.4,342.7 179.9,342.71 180.4,342.71 180.9,342.72 181.4,342.73 181.9,342.73 182.4,342.74 182.9,342.74 183.4,342.74 183.9,342.75 184.4,342.75 184.9,342.76 185.4,342.76 185.9,342.76 186.4,342.76 186.9,342.77 187.4,342.77 187.9,342.77 188.4,342.77 188.9,342.78 189.4,342.78 189.9,342.78 190.4,342.78 190.9,342.78 191.4,342.78 191.9,342.79 192.4,342.79 192.9,342.79 193.4,342.79 193.9,342.79 194.4,342.79 194.9,342.79 195.4,342.79 195.9,342.79 196.4,342.79 196.9,342.79 197.4,342.79 197.9,342.8 198.4,342.8 198.9,342.8 199.4,342.8 199.9,342.8 200.4,342.8 200.9,342.8 201.4,342.8 201.9,342.8 202.4,342.8 202.9,342.8 203.4,342.8 203.9,342.8 204.4,342.8 204.9,342.8 205.4,342.8 205.9,342.8 206.4,342.8 206.9,342.8 207.4,342.8 207.9,342.8 208.4,342.8 208.9,342.8 209.4,342.8 209.9,342.8 210.4,342.8 210.9,342.8 211.4,342.8 211.9,342.8 212.4,342.8 212.9,342.8 213.4,342.8 213.9,342.8 214.4,342.8 214.9,342.8 215.4,342.8 215.9,342.8 216.4,342.8 216.9,342.8 217.4,342.8 217.9,342.8 218.4,342.8 218.9,342.8 219.4,342.8 219.9,342.8 220.4,342.8 220.9,342.8 221.4,342.8 221.9,342.8 222.4,342.8 222.9,342.8 223.4,342.8 223.9,342.8 224.4,342.8 224.9,342.8 225.4,342.8 225.9,342.8 226.4,342.8 226.9,342.8 227.4,342.8 227.9,342.8 228.4,342.8 228.9,342.8 229.4,342.8 229.9,342.8 230.4,342.8 230.9,342.8 231.4,342.8 231.9,342.8 232.4,342.8 232.9,342.8 233.4,342.8 233.9,342.8 234.4,342.8 234.9,342.8 235.4,342.8 235.9,342.8 236.4,342.8 236.9,342.8 237.4,342.8 237.9,342.8 238.4,342.8 238.9,342.8 239.4,342.8 239.9,342.8 240.4,342.8 240.9,342.8 241.4,342.8 241.9,342.8 242.4,342.8 242.9,342.8 243.4,342.8 243.9,342.8 244.4,342.8 244.9,342.8 245.4,342.8 245.9,342.8 246.4,342.8 246.9,342.8 247.4,342.8 247.9,342.8 248.4,342.8 248.9,342.8 249.4,342.8 249.9,342.8 250.4,342.8 250.9,342.8 251.4,342.8 251.9,342.8 252.4,342.8 252.9,342.8 253.4,342.8 253.9,342.8 254.4,342.8 254.9,342.8 255.4,342.8 255.9,342.8 256.4,342.8 256.9,342.8 257.4,342.8 257.9,342.8 258.4,342.8 258.9,342.8 259.4,342.8 259.9,342.8 260.4,342.8 260.9,342.8 261.4,342.8 261.9,342.8 262.4,342.8 262.9,342.8 263.4,342.8 263.9,342.8 264.4,342.8 264.9,342.8 265.4,342.8 265.9,342.8 266.4,342.8 266.9,342.8 267.4,342.8 267.9,342.8" fill="none" stroke="#f0272d" stroke-width="1.5" stroke-linejoin="round" />
<polyline points="31.4,342.7 31.9,342.68 32.4,342.66 32.9,342.64 33.4,342.63 33.9,342.61 34.4,342.59 34.9,342.57 35.4,342.55 35.9,342.53 36.4,342.51 36.9,342.49 37.4,342.47 37.9,342.45 38.4,342.43 38.9,342.4 39.4,342.38 39.9,342.36 40.4,342.33 40.9,342.31 41.4,342.28 41.9,342.26 42.4,342.23 42.9,342.21 43.4,342.18 43.9,342.16 44.4,342.13 44.9,342.1 45.4,342.07 45.9,342.05 46.4,342.02 46.9,341.99 47.4,341.96 47.9,341.93 48.4,341.9 48.9,341.87 49.4,341.84 49.9,341.81 50.4,341.78 50.9,341.75 51.4,341.71 51.9,341.68 52.4,341.65 52.9,341.62 53.4,341.58 53.9,341.55 54.4,341.52 54.9,341.49 55.4,341.45 55.9,341.42 56.4,341.38 56.9,341.35 57.4,341.32 57.9,341.28 58.4,341.25 58.9,341.21 59.4,341.18 59.9,341.14 60.4,341.11 60.9,341.08 61.4,341.04 61.9,341.01 62.4,340.97 62.9,340.94 63.4,340.91 63.9,340.87 64.4,340.84 64.9,340.8 65.4,340.77 65.9,340.74 66.4,340.7 66.9,340.67 67.4,340.64 67.9,340.61 68.4,340.58 68.9,340.55 69.4,340.51 69.9,340.48 70.4,340.45 70.9,340.42 71.4,340.39 71.9,340.37 72.4,340.34 72.9,340.31 73.4,340.28 73.9,340.26 74.4,340.23 74.9,340.2 75.4,340.18 75.9,340.16 76.4,340.13 76.9,340.11 77.4,340.09 77.9,340.07 78.4,340.04 78.9,340.02 79.4,340.01 79.9,339.99 80.4,339.97 80.9,339.95 81.4,339.94 81.9,339.92 82.4,339.91 82.9,339.89 83.4,339.88 83.9,339.87 84.4,339.86 84.9,339.85 85.4,339.84 85.9,339.83 86.4,339.82 86.9,339.82 87.4,339.81 87.9,339.81 88.4,339.8 88.9,339.8 89.4,339.8 89.9,339.8 90.4,339.8 90.9,339.8 91.4,339.8 91.9,339.81 92.4,339.81 92.9,339.82 93.4,339.82 93.9,339.83 94.4,339.84 94.9,339.85 95.4,339.85 95.9,339.87 96.4,339.88 96.9,339.89 97.4,339.9 97.9,339.92 98.4,339.93 98.9,339.95 99.4,339.96 99.9,339.98 100.4,340 100.9,340.02 101.4,340.04 101.9,340.06 102.4,340.08 102.9,340.1 103.4,340.12 103.9,340.15 104.4,340.17 104.9,340.19 105.4,340.22 105.9,340.25 106.4,340.27 106.9,340.3 107.4,340.33 107.9,340.35 108.4,340.38 108.9,340.41 109.4,340.44 109.9,340.47 110.4,340.5 110.9,340.53 111.4,340.56 111.9,340.6 112.4,340.63 112.9,340.66 113.4,340.69 113.9,340.72 114.4,340.76 114.9,340.79 115.4,340.82 115.9,340.86 116.4,340.89 116.9,340.93 117.4,340.96 117.9,340.99 118.4,341.03 118.9,341.06 119.4,341.1 119.9,341.13 120.4,341.17 120.9,341.2 121.4,341.23 121.9,341.27 122.4,341.3 122.9,341.34 123.4,341.37 123.9,341.4 124.4,341.44 124.9,341.47 125.4,341.51 125.9,341.54 126.4,341.57 126.9,341.6 127.4,341.64 127.9,341.67 128.4,341.7 128.9,341.73 129.4,341.76 129.9,341.8 130.4,341.83 130.9,341.86 131.4,341.89 131.9,341.92 132.4,341.95 132.9,341.98 133.4,342.01 133.9,342.03 134.4,342.06 134.9,342.09 135.4,342.12 135.9,342.15 136.4,342.17 136.9,342.2 137.4,342.22 137.9,342.25 138.4,342.27 138.9,342.3 139.4,342.32 139.9,342.35 140.4,342.37 140.9,342.39 141.4,342.42 141.9,342.44 142.4,342.46 142.9,342.48 143.4,342.5 143.9,342.52 144.4,342.54 144.9,342.56 145.4,342.58 145.9,342.6 146.4,342.62 146.9,342.64 147.4,342.65 147.9,342.67 148.4,342.69 148.9,342.71 149.4,342.72 149.9,342.74 150.4,342.75 150.9,342.77 151.4,342.78 151.9,342.8 152.4,342.81 152.9,342.82 153.4,342.84 153.9,342.85 154.4,342.86 154.9,342.87 155.4,342.88 155.9,342.9 156.4,342.91 156.9,342.92 157.4,342.93 157.9,342.94 158.4,342.95 158.9,342.96 159.4,342.97 159.9,342.97 160.4,342.98 160.9,342.99 161.4,343 161.9,343.01 162.4,343.02 162.9,343.02 163.4,343.03 163.9,343.04 164.4,343.04 164.9,343.05 165.4,343.06 165.9,343.06 166.4,343.07 166.9,343.07 167.4,343.08 167.9,343.08 168.4,343.09 168.9,343.09 169.4,343.1 169.9,343.1 170.4,343.11 170.9,343.11 171.4,343.11 171.9,343.12 172.4,343.12 172.9,343.13 173.4,343.13 173.9,343.13 174.4,343.14 174.9,343.14 175.4,343.14 175.9,343.14 176.4,343.15 176.9,343.15 177.4,343.15 177.9,343.15 178.4,343.16 178.9,343.16 179.4,343.16 179.9,343.16 180.4,343.16 180.9,343.17 181.4,343.17 181.9,343.17 182.4,343.17 182.9,343.17 183.4,343.17 183.9,343.17 184.4,343.18 184.9,343.18 185.4,343.18 185.9,343.18 186.4,343.18 186.9,343.18 187.4,343.18 187.9,343.18 188.4,343.18 188.9,343.19 189.4,343.19 189.9,343.19 190.4,343.19 190.9,343.19 191.4,343.19 191.9,343.19 192.4,343.19 192.9,343.19 193.4,343.19 193.9,343.19 194.4,343.19 194.9,343.19 195.4,343.19 195.9,343.19 196.4,343.19 196.9,343.19 197.4,343.19 197.9,343.19 198.4,343.2 198.9,343.2 199.4,343.2 199.9,343.2 200.4,343.2 200.9,343.2 201.4,343.2 201.9,343.2 202.4,343.2 202.9,343.2 203.4,343.2 203.9,343.2 204.4,343.2 204.9,343.2 205.4,343.2 205.9,343.2 206.4,343.2 206.9,343.2 207.4,343.2 207.9,343.2 208.4,343.2 208.9,343.2 209.4,343.2 209.9,343.2 210.4,343.2 210.9,343.2 211.4,343.2 211.9,343.2 212.4,343.2 212.9,343.2 213.4,343.2 213.9,343.2 214.4,343.2 214.9,343.2 215.4,343.2 215.9,343.2 216.4,343.2 216.9,343.2 217.4,343.2 217.9,343.2 218.4,343.2 218.9,343.2 219.4,343.2 219.9,343.2 220.4,343.2 220.9,343.2 221.4,343.2 221.9,343.2 222.4,343.2 222.9,343.2 223.4,343.2 223.9,343.2 224.4,343.2 224.9,343.2 225.4,343.2 225.9,343.2 226.4,343.2 226.9,343.2 227.4,343.2 227.9,343.2 228.4,343.2 228.9,343.2 229.4,343.2 229.9,343.2 230.4,343.2 230.9,343.2 231.4,343.2 231.9,343.2 232.4,343.2 232.9,343.2 233.4,343.2 233.9,343.2 234.4,343.2 234.9,343.2 235.4,343.2 235.9,343.2 236.4,343.2 236.9,343.2 237.4,343.2 237.9,343.2 238.4,343.2 238.9,343.2 239.4,343.2 239.9,343.2 240.4,343.2 240.9,343.2 241.4,343.2 241.9,343.2 242.4,343.2 242.9,343.2 243.4,343.2 243.9,343.2 244.4,343.2 244.9,343.2 245.4,343.2 245.9,343.2 246.4,343.2 246.9,343.2 247.4,343.2 247.9,343.2 248.4,343.2 248.9,343.2 249.4,343.2 249.9,343.2 250.4,343.2 250.9,343.2 251.4,343.2 251.9,343.2 252.4,343.2 252.9,343.2 253.4,343.2 253.9,343.2 254.4,343.2 254.9,343.2 255.4,343.2 255.9,343.2 256.4,343.2 256.9,343.2 257.4,343.2 257.9,343.2 258.4,343.2 258.9,343.2 259.4,343.2 259.9,343.2 260.4,343.2 260.9,343.2 261.4,343.2 261.9,343.2 262.4,343.2 262.9,343.2 263.4,343.2 263.9,343.2 264.4,343.2 264.9,343.2 265.4,343.2 265.9,343.2 266.4,343.2 266.9,343.2 267.4,343.2 267.9,343.2" fill="none" stroke="#2fb063" stroke-width="1.5" stroke-linejoin="round" />
<line x1="60.41" y1="346.6" x2="60.41" y2="343.6" stroke="#000" stroke-width="1.1"/>
<line x1="90.23" y1="346.6" x2="90.23" y2="343.6" stroke="#000" stroke-width="1.1"/>
<line x1="120.04" y1="346.6" x2="120.04" y2="343.6" stroke="#000" stroke-width="1.1"/>
<line x1="149.85" y1="346.6" x2="149.85" y2="343.6" stroke="#000" stroke-width="1.1"/>
<line x1="179.66" y1="346.6" x2="179.66" y2="343.6" stroke="#000" stroke-width="1.1"/>
<line x1="209.48" y1="346.6" x2="209.48" y2="343.6" stroke="#000" stroke-width="1.1"/>
<line x1="239.29" y1="346.6" x2="239.29" y2="343.6" stroke="#000" stroke-width="1.1"/>
<line x1="30.6" y1="346.6" x2="269.1" y2="346.6" stroke="#000" stroke-width="1.3"/>
<path d="M30.3,375.68a2.1,2.1 0 1,0 4.2,0a2.1,2.1 0 1,0 -4.2,0M33.2,376.28a2.1,2.1 0 1,0 4.2,0a2.1,2.1 0 1,0 -4.2,0M36.1,375.99a2.1,2.1 0 1,0 4.2,0a2.1,2.1 0 1,0 -4.2,0M39,375.75a2.1,2.1 0 1,0 4.2,0a2.1,2.1 0 1,0 -4.2,0M41.9,376a2.1,2.1 0 1,0 4.2,0a2.1,2.1 0 1,0 -4.2,0M44.8,375.52a2.1,2.1 0 1,0 4.2,0a2.1,2.1 0 1,0 -4.2,0M47.7,376.13a2.1,2.1 0 1,0 4.2,0a2.1,2.1 0 1,0 -4.2,0M50.6,375.69a2.1,2.1 0 1,0 4.2,0a2.1,2.1 0 1,0 -4.2,0M53.5,375.45a2.1,2.1 0 1,0 4.2,0a2.1,2.1 0 1,0 -4.2,0M56.4,375.51a2.1,2.1 0 1,0 4.2,0a2.1,2.1 0 1,0 -4.2,0M59.3,374.97a2.1,2.1 0 1,0 4.2,0a2.1,2.1 0 1,0 -4.2,0M62.2,375.19a2.1,2.1 0 1,0 4.2,0a2.1,2.1 0 1,0 -4.2,0M65.1,375.13a2.1,2.1 0 1,0 4.2,0a2.1,2.1 0 1,0 -4.2,0M68,374.95a2.1,2.1 0 1,0 4.2,0a2.1,2.1 0 1,0 -4.2,0M70.9,374.66a2.1,2.1 0 1,0 4.2,0a2.1,2.1 0 1,0 -4.2,0M73.8,374.13a2.1,2.1 0 1,0 4.2,0a2.1,2.1 0 1,0 -4.2,0M76.7,374.21a2.1,2.1 0 1,0 4.2,0a2.1,2.1 0 1,0 -4.2,0M79.6,373.64a2.1,2.1 0 1,0 4.2,0a2.1,2.1 0 1,0 -4.2,0M82.5,373.74a2.1,2.1 0 1,0 4.2,0a2.1,2.1 0 1,0 -4.2,0M85.4,373.35a2.1,2.1 0 1,0 4.2,0a2.1,2.1 0 1,0 -4.2,0M88.3,373.11a2.1,2.1 0 1,0 4.2,0a2.1,2.1 0 1,0 -4.2,0M91.2,373.23a2.1,2.1 0 1,0 4.2,0a2.1,2.1 0 1,0 -4.2,0M94.1,373.32a2.1,2.1 0 1,0 4.2,0a2.1,2.1 0 1,0 -4.2,0M97,373.08a2.1,2.1 0 1,0 4.2,0a2.1,2.1 0 1,0 -4.2,0M99.9,372.6a2.1,2.1 0 1,0 4.2,0a2.1,2.1 0 1,0 -4.2,0M102.8,372.54a2.1,2.1 0 1,0 4.2,0a2.1,2.1 0 1,0 -4.2,0M105.7,372.42a2.1,2.1 0 1,0 4.2,0a2.1,2.1 0 1,0 -4.2,0M108.6,372.53a2.1,2.1 0 1,0 4.2,0a2.1,2.1 0 1,0 -4.2,0M111.5,372.75a2.1,2.1 0 1,0 4.2,0a2.1,2.1 0 1,0 -4.2,0M114.4,372.9a2.1,2.1 0 1,0 4.2,0a2.1,2.1 0 1,0 -4.2,0M117.3,372.8a2.1,2.1 0 1,0 4.2,0a2.1,2.1 0 1,0 -4.2,0M120.2,372.92a2.1,2.1 0 1,0 4.2,0a2.1,2.1 0 1,0 -4.2,0M123.1,372.58a2.1,2.1 0 1,0 4.2,0a2.1,2.1 0 1,0 -4.2,0M126,372.42a2.1,2.1 0 1,0 4.2,0a2.1,2.1 0 1,0 -4.2,0M128.9,372.21a2.1,2.1 0 1,0 4.2,0a2.1,2.1 0 1,0 -4.2,0M131.8,371.23a2.1,2.1 0 1,0 4.2,0a2.1,2.1 0 1,0 -4.2,0M134.7,369.57a2.1,2.1 0 1,0 4.2,0a2.1,2.1 0 1,0 -4.2,0M137.6,367.46a2.1,2.1 0 1,0 4.2,0a2.1,2.1 0 1,0 -4.2,0M140.5,364.95a2.1,2.1 0 1,0 4.2,0a2.1,2.1 0 1,0 -4.2,0M143.4,361.81a2.1,2.1 0 1,0 4.2,0a2.1,2.1 0 1,0 -4.2,0M146.3,358.57a2.1,2.1 0 1,0 4.2,0a2.1,2.1 0 1,0 -4.2,0M149.2,355.88a2.1,2.1 0 1,0 4.2,0a2.1,2.1 0 1,0 -4.2,0M152.1,352.99a2.1,2.1 0 1,0 4.2,0a2.1,2.1 0 1,0 -4.2,0M155,351.54a2.1,2.1 0 1,0 4.2,0a2.1,2.1 0 1,0 -4.2,0M157.9,350.51a2.1,2.1 0 1,0 4.2,0a2.1,2.1 0 1,0 -4.2,0M160.8,351.19a2.1,2.1 0 1,0 4.2,0a2.1,2.1 0 1,0 -4.2,0M163.7,353.11a2.1,2.1 0 1,0 4.2,0a2.1,2.1 0 1,0 -4.2,0M166.6,355.38a2.1,2.1 0 1,0 4.2,0a2.1,2.1 0 1,0 -4.2,0M169.5,358.32a2.1,2.1 0 1,0 4.2,0a2.1,2.1 0 1,0 -4.2,0M172.4,361.72a2.1,2.1 0 1,0 4.2,0a2.1,2.1 0 1,0 -4.2,0M175.3,364.61a2.1,2.1 0 1,0 4.2,0a2.1,2.1 0 1,0 -4.2,0M178.2,368.05a2.1,2.1 0 1,0 4.2,0a2.1,2.1 0 1,0 -4.2,0M181.1,370.15a2.1,2.1 0 1,0 4.2,0a2.1,2.1 0 1,0 -4.2,0M184,372.07a2.1,2.1 0 1,0 4.2,0a2.1,2.1 0 1,0 -4.2,0M186.9,373.51a2.1,2.1 0 1,0 4.2,0a2.1,2.1 0 1,0 -4.2,0M189.8,374.66a2.1,2.1 0 1,0 4.2,0a2.1,2.1 0 1,0 -4.2,0M192.7,375.15a2.1,2.1 0 1,0 4.2,0a2.1,2.1 0 1,0 -4.2,0M195.6,375.57a2.1,2.1 0 1,0 4.2,0a2.1,2.1 0 1,0 -4.2,0M198.5,376.03a2.1,2.1 0 1,0 4.2,0a2.1,2.1 0 1,0 -4.2,0M201.4,376.1a2.1,2.1 0 1,0 4.2,0a2.1,2.1 0 1,0 -4.2,0M204.3,376.39a2.1,2.1 0 1,0 4.2,0a2.1,2.1 0 1,0 -4.2,0M207.2,376.34a2.1,2.1 0 1,0 4.2,0a2.1,2.1 0 1,0 -4.2,0M210.1,376.43a2.1,2.1 0 1,0 4.2,0a2.1,2.1 0 1,0 -4.2,0M213,375.97a2.1,2.1 0 1,0 4.2,0a2.1,2.1 0 1,0 -4.2,0M215.9,376.22a2.1,2.1 0 1,0 4.2,0a2.1,2.1 0 1,0 -4.2,0M218.8,376.31a2.1,2.1 0 1,0 4.2,0a2.1,2.1 0 1,0 -4.2,0M221.7,376.38a2.1,2.1 0 1,0 4.2,0a2.1,2.1 0 1,0 -4.2,0M224.6,376.14a2.1,2.1 0 1,0 4.2,0a2.1,2.1 0 1,0 -4.2,0M227.5,376.33a2.1,2.1 0 1,0 4.2,0a2.1,2.1 0 1,0 -4.2,0M230.4,376.43a2.1,2.1 0 1,0 4.2,0a2.1,2.1 0 1,0 -4.2,0M233.3,376.02a2.1,2.1 0 1,0 4.2,0a2.1,2.1 0 1,0 -4.2,0M236.2,376.03a2.1,2.1 0 1,0 4.2,0a2.1,2.1 0 1,0 -4.2,0M239.1,376.04a2.1,2.1 0 1,0 4.2,0a2.1,2.1 0 1,0 -4.2,0M242,376.25a2.1,2.1 0 1,0 4.2,0a2.1,2.1 0 1,0 -4.2,0M244.9,375.98a2.1,2.1 0 1,0 4.2,0a2.1,2.1 0 1,0 -4.2,0M247.8,376.21a2.1,2.1 0 1,0 4.2,0a2.1,2.1 0 1,0 -4.2,0M250.7,376.11a2.1,2.1 0 1,0 4.2,0a2.1,2.1 0 1,0 -4.2,0M253.6,376a2.1,2.1 0 1,0 4.2,0a2.1,2.1 0 1,0 -4.2,0M256.5,375.84a2.1,2.1 0 1,0 4.2,0a2.1,2.1 0 1,0 -4.2,0M259.4,376.66a2.1,2.1 0 1,0 4.2,0a2.1,2.1 0 1,0 -4.2,0M262.3,376.46a2.1,2.1 0 1,0 4.2,0a2.1,2.1 0 1,0 -4.2,0M265.2,376.42a2.1,2.1 0 1,0 4.2,0a2.1,2.1 0 1,0 -4.2,0" fill="none" stroke="#6a6a6a" stroke-width="0.8"/>
<polyline points="31.4,376.2 31.9,376.2 32.4,376.2 32.9,376.2 33.4,376.2 33.9,376.2 34.4,376.2 34.9,376.2 35.4,376.2 35.9,376.2 36.4,376.2 36.9,376.2 37.4,376.2 37.9,376.2 38.4,376.2 38.9,376.2 39.4,376.2 39.9,376.2 40.4,376.2 40.9,376.2 41.4,376.2 41.9,376.2 42.4,376.2 42.9,376.2 43.4,376.2 43.9,376.2 44.4,376.2 44.9,376.2 45.4,376.2 45.9,376.2 46.4,376.2 46.9,376.2 47.4,376.2 47.9,376.2 48.4,376.2 48.9,376.2 49.4,376.2 49.9,376.2 50.4,376.2 50.9,376.2 51.4,376.2 51.9,376.2 52.4,376.2 52.9,376.2 53.4,376.2 53.9,376.2 54.4,376.2 54.9,376.2 55.4,376.2 55.9,376.2 56.4,376.2 56.9,376.2 57.4,376.2 57.9,376.2 58.4,376.2 58.9,376.2 59.4,376.2 59.9,376.2 60.4,376.2 60.9,376.2 61.4,376.2 61.9,376.2 62.4,376.2 62.9,376.2 63.4,376.2 63.9,376.2 64.4,376.2 64.9,376.2 65.4,376.2 65.9,376.2 66.4,376.2 66.9,376.2 67.4,376.2 67.9,376.2 68.4,376.2 68.9,376.2 69.4,376.2 69.9,376.2 70.4,376.2 70.9,376.2 71.4,376.2 71.9,376.2 72.4,376.2 72.9,376.2 73.4,376.2 73.9,376.2 74.4,376.2 74.9,376.2 75.4,376.2 75.9,376.2 76.4,376.2 76.9,376.2 77.4,376.2 77.9,376.2 78.4,376.2 78.9,376.2 79.4,376.2 79.9,376.2 80.4,376.2 80.9,376.2 81.4,376.2 81.9,376.2 82.4,376.2 82.9,376.2 83.4,376.2 83.9,376.2 84.4,376.2 84.9,376.2 85.4,376.2 85.9,376.2 86.4,376.2 86.9,376.2 87.4,376.2 87.9,376.2 88.4,376.2 88.9,376.2 89.4,376.2 89.9,376.2 90.4,376.2 90.9,376.2 91.4,376.2 91.9,376.2 92.4,376.2 92.9,376.2 93.4,376.2 93.9,376.2 94.4,376.2 94.9,376.2 95.4,376.2 95.9,376.2 96.4,376.2 96.9,376.2 97.4,376.2 97.9,376.2 98.4,376.2 98.9,376.2 99.4,376.2 99.9,376.2 100.4,376.2 100.9,376.2 101.4,376.2 101.9,376.2 102.4,376.2 102.9,376.2 103.4,376.2 103.9,376.2 104.4,376.2 104.9,376.2 105.4,376.2 105.9,376.19 106.4,376.19 106.9,376.19 107.4,376.19 107.9,376.19 108.4,376.19 108.9,376.19 109.4,376.18 109.9,376.18 110.4,376.18 110.9,376.18 111.4,376.17 111.9,376.17 112.4,376.16 112.9,376.16 113.4,376.15 113.9,376.15 114.4,376.14 114.9,376.13 115.4,376.12 115.9,376.11 116.4,376.1 116.9,376.08 117.4,376.07 117.9,376.05 118.4,376.03 118.9,376.01 119.4,375.99 119.9,375.96 120.4,375.93 120.9,375.9 121.4,375.87 121.9,375.83 122.4,375.78 122.9,375.74 123.4,375.69 123.9,375.63 124.4,375.57 124.9,375.5 125.4,375.43 125.9,375.35 126.4,375.26 126.9,375.16 127.4,375.06 127.9,374.95 128.4,374.83 128.9,374.7 129.4,374.56 129.9,374.41 130.4,374.25 130.9,374.08 131.4,373.9 131.9,373.7 132.4,373.5 132.9,373.27 133.4,373.04 133.9,372.79 134.4,372.53 134.9,372.25 135.4,371.95 135.9,371.64 136.4,371.32 136.9,370.98 137.4,370.62 137.9,370.25 138.4,369.86 138.9,369.46 139.4,369.04 139.9,368.61 140.4,368.16 140.9,367.69 141.4,367.21 141.9,366.72 142.4,366.22 142.9,365.7 143.4,365.17 143.9,364.64 144.4,364.09 144.9,363.53 145.4,362.97 145.9,362.4 146.4,361.83 146.9,361.26 147.4,360.69 147.9,360.11 148.4,359.54 148.9,358.97 149.4,358.41 149.9,357.86 150.4,357.31 150.9,356.78 151.4,356.26 151.9,355.75 152.4,355.27 152.9,354.8 153.4,354.35 153.9,353.92 154.4,353.52 154.9,353.14 155.4,352.79 155.9,352.46 156.4,352.17 156.9,351.91 157.4,351.68 157.9,351.48 158.4,351.31 158.9,351.18 159.4,351.09 159.9,351.03 160.4,351 160.9,351.01 161.4,351.06 161.9,351.14 162.4,351.26 162.9,351.41 163.4,351.59 163.9,351.81 164.4,352.06 164.9,352.34 165.4,352.65 165.9,352.99 166.4,353.36 166.9,353.76 167.4,354.17 167.9,354.61 168.4,355.08 168.9,355.56 169.4,356.06 169.9,356.57 170.4,357.1 170.9,357.64 171.4,358.19 171.9,358.75 172.4,359.31 172.9,359.88 173.4,360.46 173.9,361.03 174.4,361.6 174.9,362.18 175.4,362.75 175.9,363.31 176.4,363.87 176.9,364.42 177.4,364.96 177.9,365.49 178.4,366.01 178.9,366.52 179.4,367.02 179.9,367.5 180.4,367.97 180.9,368.43 181.4,368.87 181.9,369.29 182.4,369.7 182.9,370.1 183.4,370.48 183.9,370.84 184.4,371.19 184.9,371.52 185.4,371.83 185.9,372.13 186.4,372.42 186.9,372.69 187.4,372.94 187.9,373.18 188.4,373.41 188.9,373.62 189.4,373.82 189.9,374.01 190.4,374.19 190.9,374.35 191.4,374.5 191.9,374.65 192.4,374.78 192.9,374.9 193.4,375.02 193.9,375.12 194.4,375.22 194.9,375.31 195.4,375.39 195.9,375.47 196.4,375.54 196.9,375.6 197.4,375.66 197.9,375.72 198.4,375.77 198.9,375.81 199.4,375.85 199.9,375.89 200.4,375.92 200.9,375.95 201.4,375.98 201.9,376 202.4,376.02 202.9,376.04 203.4,376.06 203.9,376.08 204.4,376.09 204.9,376.1 205.4,376.12 205.9,376.13 206.4,376.13 206.9,376.14 207.4,376.15 207.9,376.16 208.4,376.16 208.9,376.17 209.4,376.17 209.9,376.17 210.4,376.18 210.9,376.18 211.4,376.18 211.9,376.19 212.4,376.19 212.9,376.19 213.4,376.19 213.9,376.19 214.4,376.19 214.9,376.19 215.4,376.19 215.9,376.2 216.4,376.2 216.9,376.2 217.4,376.2 217.9,376.2 218.4,376.2 218.9,376.2 219.4,376.2 219.9,376.2 220.4,376.2 220.9,376.2 221.4,376.2 221.9,376.2 222.4,376.2 222.9,376.2 223.4,376.2 223.9,376.2 224.4,376.2 224.9,376.2 225.4,376.2 225.9,376.2 226.4,376.2 226.9,376.2 227.4,376.2 227.9,376.2 228.4,376.2 228.9,376.2 229.4,376.2 229.9,376.2 230.4,376.2 230.9,376.2 231.4,376.2 231.9,376.2 232.4,376.2 232.9,376.2 233.4,376.2 233.9,376.2 234.4,376.2 234.9,376.2 235.4,376.2 235.9,376.2 236.4,376.2 236.9,376.2 237.4,376.2 237.9,376.2 238.4,376.2 238.9,376.2 239.4,376.2 239.9,376.2 240.4,376.2 240.9,376.2 241.4,376.2 241.9,376.2 242.4,376.2 242.9,376.2 243.4,376.2 243.9,376.2 244.4,376.2 244.9,376.2 245.4,376.2 245.9,376.2 246.4,376.2 246.9,376.2 247.4,376.2 247.9,376.2 248.4,376.2 248.9,376.2 249.4,376.2 249.9,376.2 250.4,376.2 250.9,376.2 251.4,376.2 251.9,376.2 252.4,376.2 252.9,376.2 253.4,376.2 253.9,376.2 254.4,376.2 254.9,376.2 255.4,376.2 255.9,376.2 256.4,376.2 256.9,376.2 257.4,376.2 257.9,376.2 258.4,376.2 258.9,376.2 259.4,376.2 259.9,376.2 260.4,376.2 260.9,376.2 261.4,376.2 261.9,376.2 262.4,376.2 262.9,376.2 263.4,376.2 263.9,376.2 264.4,376.2 264.9,376.2 265.4,376.2 265.9,376.2 266.4,376.2 266.9,376.2 267.4,376.2 267.9,376.2" fill="none" stroke="#1f6fe6" stroke-width="1.5" stroke-linejoin="round" />
<polyline points="31.4,376.6 31.9,376.6 32.4,376.59 32.9,376.59 33.4,376.59 33.9,376.59 34.4,376.59 34.9,376.59 35.4,376.59 35.9,376.59 36.4,376.59 36.9,376.59 37.4,376.59 37.9,376.59 38.4,376.59 38.9,376.59 39.4,376.58 39.9,376.58 40.4,376.58 40.9,376.58 41.4,376.58 41.9,376.58 42.4,376.58 42.9,376.58 43.4,376.57 43.9,376.57 44.4,376.57 44.9,376.57 45.4,376.57 45.9,376.56 46.4,376.56 46.9,376.56 47.4,376.55 47.9,376.55 48.4,376.55 48.9,376.55 49.4,376.54 49.9,376.54 50.4,376.53 50.9,376.53 51.4,376.53 51.9,376.52 52.4,376.52 52.9,376.51 53.4,376.51 53.9,376.5 54.4,376.49 54.9,376.49 55.4,376.48 55.9,376.47 56.4,376.47 56.9,376.46 57.4,376.45 57.9,376.44 58.4,376.43 58.9,376.42 59.4,376.42 59.9,376.41 60.4,376.4 60.9,376.38 61.4,376.37 61.9,376.36 62.4,376.35 62.9,376.34 63.4,376.32 63.9,376.31 64.4,376.3 64.9,376.28 65.4,376.27 65.9,376.25 66.4,376.24 66.9,376.22 67.4,376.2 67.9,376.18 68.4,376.16 68.9,376.15 69.4,376.13 69.9,376.11 70.4,376.09 70.9,376.06 71.4,376.04 71.9,376.02 72.4,376 72.9,375.97 73.4,375.95 73.9,375.92 74.4,375.9 74.9,375.87 75.4,375.85 75.9,375.82 76.4,375.79 76.9,375.76 77.4,375.73 77.9,375.7 78.4,375.67 78.9,375.64 79.4,375.61 79.9,375.58 80.4,375.55 80.9,375.52 81.4,375.48 81.9,375.45 82.4,375.42 82.9,375.38 83.4,375.35 83.9,375.31 84.4,375.28 84.9,375.24 85.4,375.21 85.9,375.17 86.4,375.14 86.9,375.1 87.4,375.07 87.9,375.03 88.4,374.99 88.9,374.96 89.4,374.92 89.9,374.89 90.4,374.85 90.9,374.82 91.4,374.78 91.9,374.75 92.4,374.71 92.9,374.68 93.4,374.64 93.9,374.61 94.4,374.58 94.9,374.55 95.4,374.51 95.9,374.48 96.4,374.45 96.9,374.42 97.4,374.39 97.9,374.36 98.4,374.34 98.9,374.31 99.4,374.28 99.9,374.26 100.4,374.24 100.9,374.21 101.4,374.19 101.9,374.17 102.4,374.15 102.9,374.13 103.4,374.11 103.9,374.1 104.4,374.08 104.9,374.07 105.4,374.06 105.9,374.04 106.4,374.03 106.9,374.03 107.4,374.02 107.9,374.01 108.4,374.01 108.9,374 109.4,374 109.9,374 110.4,374 110.9,374 111.4,374.01 111.9,374.01 112.4,374.02 112.9,374.02 113.4,374.03 113.9,374.04 114.4,374.05 114.9,374.06 115.4,374.08 115.9,374.09 116.4,374.11 116.9,374.12 117.4,374.14 117.9,374.16 118.4,374.18 118.9,374.2 119.4,374.23 119.9,374.25 120.4,374.27 120.9,374.3 121.4,374.33 121.9,374.35 122.4,374.38 122.9,374.41 123.4,374.44 123.9,374.47 124.4,374.5 124.9,374.53 125.4,374.56 125.9,374.6 126.4,374.63 126.9,374.66 127.4,374.7 127.9,374.73 128.4,374.77 128.9,374.8 129.4,374.84 129.9,374.87 130.4,374.91 130.9,374.94 131.4,374.98 131.9,375.02 132.4,375.05 132.9,375.09 133.4,375.12 133.9,375.16 134.4,375.19 134.9,375.23 135.4,375.26 135.9,375.3 136.4,375.33 136.9,375.37 137.4,375.4 137.9,375.44 138.4,375.47 138.9,375.5 139.4,375.54 139.9,375.57 140.4,375.6 140.9,375.63 141.4,375.66 141.9,375.69 142.4,375.72 142.9,375.75 143.4,375.78 143.9,375.81 144.4,375.83 144.9,375.86 145.4,375.89 145.9,375.91 146.4,375.94 146.9,375.96 147.4,375.99 147.9,376.01 148.4,376.03 148.9,376.06 149.4,376.08 149.9,376.1 150.4,376.12 150.9,376.14 151.4,376.16 151.9,376.18 152.4,376.19 152.9,376.21 153.4,376.23 153.9,376.24 154.4,376.26 154.9,376.28 155.4,376.29 155.9,376.31 156.4,376.32 156.9,376.33 157.4,376.34 157.9,376.36 158.4,376.37 158.9,376.38 159.4,376.39 159.9,376.4 160.4,376.41 160.9,376.42 161.4,376.43 161.9,376.44 162.4,376.45 162.9,376.46 163.4,376.46 163.9,376.47 164.4,376.48 164.9,376.48 165.4,376.49 165.9,376.5 166.4,376.5 166.9,376.51 167.4,376.51 167.9,376.52 168.4,376.52 168.9,376.53 169.4,376.53 169.9,376.54 170.4,376.54 170.9,376.54 171.4,376.55 171.9,376.55 172.4,376.55 172.9,376.56 173.4,376.56 173.9,376.56 174.4,376.56 174.9,376.57 175.4,376.57 175.9,376.57 176.4,376.57 176.9,376.57 177.4,376.58 177.9,376.58 178.4,376.58 178.9,376.58 179.4,376.58 179.9,376.58 180.4,376.58 180.9,376.59 181.4,376.59 181.9,376.59 182.4,376.59 182.9,376.59 183.4,376.59 183.9,376.59 184.4,376.59 184.9,376.59 185.4,376.59 185.9,376.59 186.4,376.59 186.9,376.59 187.4,376.59 187.9,376.6 188.4,376.6 188.9,376.6 189.4,376.6 189.9,376.6 190.4,376.6 190.9,376.6 191.4,376.6 191.9,376.6 192.4,376.6 192.9,376.6 193.4,376.6 193.9,376.6 194.4,376.6 194.9,376.6 195.4,376.6 195.9,376.6 196.4,376.6 196.9,376.6 197.4,376.6 197.9,376.6 198.4,376.6 198.9,376.6 199.4,376.6 199.9,376.6 200.4,376.6 200.9,376.6 201.4,376.6 201.9,376.6 202.4,376.6 202.9,376.6 203.4,376.6 203.9,376.6 204.4,376.6 204.9,376.6 205.4,376.6 205.9,376.6 206.4,376.6 206.9,376.6 207.4,376.6 207.9,376.6 208.4,376.6 208.9,376.6 209.4,376.6 209.9,376.6 210.4,376.6 210.9,376.6 211.4,376.6 211.9,376.6 212.4,376.6 212.9,376.6 213.4,376.6 213.9,376.6 214.4,376.6 214.9,376.6 215.4,376.6 215.9,376.6 216.4,376.6 216.9,376.6 217.4,376.6 217.9,376.6 218.4,376.6 218.9,376.6 219.4,376.6 219.9,376.6 220.4,376.6 220.9,376.6 221.4,376.6 221.9,376.6 222.4,376.6 222.9,376.6 223.4,376.6 223.9,376.6 224.4,376.6 224.9,376.6 225.4,376.6 225.9,376.6 226.4,376.6 226.9,376.6 227.4,376.6 227.9,376.6 228.4,376.6 228.9,376.6 229.4,376.6 229.9,376.6 230.4,376.6 230.9,376.6 231.4,376.6 231.9,376.6 232.4,376.6 232.9,376.6 233.4,376.6 233.9,376.6 234.4,376.6 234.9,376.6 235.4,376.6 235.9,376.6 236.4,376.6 236.9,376.6 237.4,376.6 237.9,376.6 238.4,376.6 238.9,376.6 239.4,376.6 239.9,376.6 240.4,376.6 240.9,376.6 241.4,376.6 241.9,376.6 242.4,376.6 242.9,376.6 243.4,376.6 243.9,376.6 244.4,376.6 244.9,376.6 245.4,376.6 245.9,376.6 246.4,376.6 246.9,376.6 247.4,376.6 247.9,376.6 248.4,376.6 248.9,376.6 249.4,376.6 249.9,376.6 250.4,376.6 250.9,376.6 251.4,376.6 251.9,376.6 252.4,376.6 252.9,376.6 253.4,376.6 253.9,376.6 254.4,376.6 254.9,376.6 255.4,376.6 255.9,376.6 256.4,376.6 256.9,376.6 257.4,376.6 257.9,376.6 258.4,376.6 258.9,376.6 259.4,376.6 259.9,376.6 260.4,376.6 260.9,376.6 261.4,376.6 261.9,376.6 262.4,376.6 262.9,376.6 263.4,376.6 263.9,376.6 264.4,376.6 264.9,376.6 265.4,376.6 265.9,376.6 266.4,376.6 266.9,376.6 267.4,376.6 267.9,376.6" fill="none" stroke="#f0272d" stroke-width="1.5" stroke-linejoin="round" />
<polyline points="31.4,376.82 31.9,376.82 32.4,376.81 32.9,376.8 33.4,376.8 33.9,376.79 34.4,376.78 34.9,376.78 35.4,376.77 35.9,376.76 36.4,376.76 36.9,376.75 37.4,376.74 37.9,376.73 38.4,376.73 38.9,376.72 39.4,376.71 39.9,376.7 40.4,376.69 40.9,376.69 41.4,376.68 41.9,376.67 42.4,376.66 42.9,376.65 43.4,376.64 43.9,376.63 44.4,376.62 44.9,376.61 45.4,376.6 45.9,376.59 46.4,376.58 46.9,376.57 47.4,376.56 47.9,376.55 48.4,376.54 48.9,376.53 49.4,376.52 49.9,376.51 50.4,376.5 50.9,376.49 51.4,376.48 51.9,376.46 52.4,376.45 52.9,376.44 53.4,376.43 53.9,376.42 54.4,376.41 54.9,376.39 55.4,376.38 55.9,376.37 56.4,376.36 56.9,376.35 57.4,376.34 57.9,376.32 58.4,376.31 58.9,376.3 59.4,376.29 59.9,376.27 60.4,376.26 60.9,376.25 61.4,376.24 61.9,376.23 62.4,376.21 62.9,376.2 63.4,376.19 63.9,376.18 64.4,376.17 64.9,376.15 65.4,376.14 65.9,376.13 66.4,376.12 66.9,376.11 67.4,376.1 67.9,376.09 68.4,376.07 68.9,376.06 69.4,376.05 69.9,376.04 70.4,376.03 70.9,376.02 71.4,376.01 71.9,376 72.4,375.99 72.9,375.98 73.4,375.97 73.9,375.96 74.4,375.95 74.9,375.94 75.4,375.93 75.9,375.93 76.4,375.92 76.9,375.91 77.4,375.9 77.9,375.89 78.4,375.89 78.9,375.88 79.4,375.87 79.9,375.87 80.4,375.86 80.9,375.85 81.4,375.85 81.9,375.84 82.4,375.84 82.9,375.83 83.4,375.83 83.9,375.82 84.4,375.82 84.9,375.82 85.4,375.81 85.9,375.81 86.4,375.81 86.9,375.81 87.4,375.8 87.9,375.8 88.4,375.8 88.9,375.8 89.4,375.8 89.9,375.8 90.4,375.8 90.9,375.8 91.4,375.8 91.9,375.8 92.4,375.8 92.9,375.81 93.4,375.81 93.9,375.81 94.4,375.81 94.9,375.82 95.4,375.82 95.9,375.82 96.4,375.83 96.9,375.83 97.4,375.84 97.9,375.84 98.4,375.85 98.9,375.85 99.4,375.86 99.9,375.86 100.4,375.87 100.9,375.88 101.4,375.88 101.9,375.89 102.4,375.9 102.9,375.91 103.4,375.91 103.9,375.92 104.4,375.93 104.9,375.94 105.4,375.95 105.9,375.96 106.4,375.97 106.9,375.98 107.4,375.99 107.9,376 108.4,376.01 108.9,376.02 109.4,376.03 109.9,376.04 110.4,376.05 110.9,376.06 111.4,376.07 111.9,376.08 112.4,376.09 112.9,376.1 113.4,376.11 113.9,376.13 114.4,376.14 114.9,376.15 115.4,376.16 115.9,376.17 116.4,376.19 116.9,376.2 117.4,376.21 117.9,376.22 118.4,376.23 118.9,376.25 119.4,376.26 119.9,376.27 120.4,376.28 120.9,376.29 121.4,376.31 121.9,376.32 122.4,376.33 122.9,376.34 123.4,376.35 123.9,376.37 124.4,376.38 124.9,376.39 125.4,376.4 125.9,376.41 126.4,376.43 126.9,376.44 127.4,376.45 127.9,376.46 128.4,376.47 128.9,376.48 129.4,376.49 129.9,376.5 130.4,376.52 130.9,376.53 131.4,376.54 131.9,376.55 132.4,376.56 132.9,376.57 133.4,376.58 133.9,376.59 134.4,376.6 134.9,376.61 135.4,376.62 135.9,376.63 136.4,376.64 136.9,376.65 137.4,376.66 137.9,376.66 138.4,376.67 138.9,376.68 139.4,376.69 139.9,376.7 140.4,376.71 140.9,376.72 141.4,376.72 141.9,376.73 142.4,376.74 142.9,376.75 143.4,376.75 143.9,376.76 144.4,376.77 144.9,376.78 145.4,376.78 145.9,376.79 146.4,376.8 146.9,376.8 147.4,376.81 147.9,376.81 148.4,376.82 148.9,376.83 149.4,376.83 149.9,376.84 150.4,376.84 150.9,376.85 151.4,376.85 151.9,376.86 152.4,376.86 152.9,376.87 153.4,376.87 153.9,376.88 154.4,376.88 154.9,376.88 155.4,376.89 155.9,376.89 156.4,376.9 156.9,376.9 157.4,376.9 157.9,376.91 158.4,376.91 158.9,376.91 159.4,376.92 159.9,376.92 160.4,376.92 160.9,376.93 161.4,376.93 161.9,376.93 162.4,376.93 162.9,376.94 163.4,376.94 163.9,376.94 164.4,376.94 164.9,376.95 165.4,376.95 165.9,376.95 166.4,376.95 166.9,376.96 167.4,376.96 167.9,376.96 168.4,376.96 168.9,376.96 169.4,376.96 169.9,376.97 170.4,376.97 170.9,376.97 171.4,376.97 171.9,376.97 172.4,376.97 172.9,376.97 173.4,376.97 173.9,376.98 174.4,376.98 174.9,376.98 175.4,376.98 175.9,376.98 176.4,376.98 176.9,376.98 177.4,376.98 177.9,376.98 178.4,376.98 178.9,376.99 179.4,376.99 179.9,376.99 180.4,376.99 180.9,376.99 181.4,376.99 181.9,376.99 182.4,376.99 182.9,376.99 183.4,376.99 183.9,376.99 184.4,376.99 184.9,376.99 185.4,376.99 185.9,376.99 186.4,376.99 186.9,376.99 187.4,376.99 187.9,376.99 188.4,376.99 188.9,376.99 189.4,377 189.9,377 190.4,377 190.9,377 191.4,377 191.9,377 192.4,377 192.9,377 193.4,377 193.9,377 194.4,377 194.9,377 195.4,377 195.9,377 196.4,377 196.9,377 197.4,377 197.9,377 198.4,377 198.9,377 199.4,377 199.9,377 200.4,377 200.9,377 201.4,377 201.9,377 202.4,377 202.9,377 203.4,377 203.9,377 204.4,377 204.9,377 205.4,377 205.9,377 206.4,377 206.9,377 207.4,377 207.9,377 208.4,377 208.9,377 209.4,377 209.9,377 210.4,377 210.9,377 211.4,377 211.9,377 212.4,377 212.9,377 213.4,377 213.9,377 214.4,377 214.9,377 215.4,377 215.9,377 216.4,377 216.9,377 217.4,377 217.9,377 218.4,377 218.9,377 219.4,377 219.9,377 220.4,377 220.9,377 221.4,377 221.9,377 222.4,377 222.9,377 223.4,377 223.9,377 224.4,377 224.9,377 225.4,377 225.9,377 226.4,377 226.9,377 227.4,377 227.9,377 228.4,377 228.9,377 229.4,377 229.9,377 230.4,377 230.9,377 231.4,377 231.9,377 232.4,377 232.9,377 233.4,377 233.9,377 234.4,377 234.9,377 235.4,377 235.9,377 236.4,377 236.9,377 237.4,377 237.9,377 238.4,377 238.9,377 239.4,377 239.9,377 240.4,377 240.9,377 241.4,377 241.9,377 242.4,377 242.9,377 243.4,377 243.9,377 244.4,377 244.9,377 245.4,377 245.9,377 246.4,377 246.9,377 247.4,377 247.9,377 248.4,377 248.9,377 249.4,377 249.9,377 250.4,377 250.9,377 251.4,377 251.9,377 252.4,377 252.9,377 253.4,377 253.9,377 254.4,377 254.9,377 255.4,377 255.9,377 256.4,377 256.9,377 257.4,377 257.9,377 258.4,377 258.9,377 259.4,377 259.9,377 260.4,377 260.9,377 261.4,377 261.9,377 262.4,377 262.9,377 263.4,377 263.9,377 264.4,377 264.9,377 265.4,377 265.9,377 266.4,377 266.9,377 267.4,377 267.9,377" fill="none" stroke="#2fb063" stroke-width="1.5" stroke-linejoin="round" />
<line x1="60.41" y1="380.3" x2="60.41" y2="377.3" stroke="#000" stroke-width="1.1"/>
<line x1="90.23" y1="380.3" x2="90.23" y2="377.3" stroke="#000" stroke-width="1.1"/>
<line x1="120.04" y1="380.3" x2="120.04" y2="377.3" stroke="#000" stroke-width="1.1"/>
<line x1="149.85" y1="380.3" x2="149.85" y2="377.3" stroke="#000" stroke-width="1.1"/>
<line x1="179.66" y1="380.3" x2="179.66" y2="377.3" stroke="#000" stroke-width="1.1"/>
<line x1="209.48" y1="380.3" x2="209.48" y2="377.3" stroke="#000" stroke-width="1.1"/>
<line x1="239.29" y1="380.3" x2="239.29" y2="377.3" stroke="#000" stroke-width="1.1"/>
<rect x="30.6" y="211.6" width="238.5" height="168.7" stroke="#000" stroke-width="1.4" fill="none"/>
<text x="50.42" y="394.5" font-size="13.6" textLength="20.4" lengthAdjust="spacingAndGlyphs" fill="#000">402</text>
<text x="110.01" y="394.5" font-size="13.6" textLength="20.4" lengthAdjust="spacingAndGlyphs" fill="#000">400</text>
<text x="169.43" y="394.5" font-size="13.6" textLength="20.4" lengthAdjust="spacingAndGlyphs" fill="#000">398</text>
<text x="229.02" y="394.5" font-size="13.6" textLength="20.4" lengthAdjust="spacingAndGlyphs" fill="#000">396</text>
<text x="94.99" y="407.6" font-size="13.8" textLength="120.81" lengthAdjust="spacingAndGlyphs" fill="#000">Binding Energy (eV)</text>
<text transform="translate(21.5,341.3) rotate(-90)" x="-0.47" y="0" font-size="13.6" textLength="84.52" lengthAdjust="spacingAndGlyphs" fill="#000">Intensity (a.u.)</text>
<text x="3.73" y="222.3" font-size="18.5" textLength="21.44" lengthAdjust="spacingAndGlyphs" fill="#000">(c)</text>
<text x="33.85" y="228.4" font-size="10.6" textLength="40" lengthAdjust="spacingAndGlyphs" fill="#000">PCN-222</text>
<text x="245.39" y="226" font-size="10.8" textLength="19.38" lengthAdjust="spacingAndGlyphs" fill="#000">N 1s</text>
<text x="32.57" y="258.7" font-size="10.8" textLength="98.89" lengthAdjust="spacingAndGlyphs" fill="#000">5 wt.% PCN-222/CNs</text>
<text x="32.07" y="298" font-size="10.8" textLength="99.19" lengthAdjust="spacingAndGlyphs" fill="#000">3 wt.% PCN-222/CNs</text>
<text x="31.14" y="333.8" font-size="10.8" textLength="99.62" lengthAdjust="spacingAndGlyphs" fill="#000">1 wt.% PCN-222/CNs</text>
<text x="31.94" y="368.6" font-size="10.8" textLength="20.52" lengthAdjust="spacingAndGlyphs" fill="#000">CNs</text>
<text x="80.99" y="365.6" font-size="10.8" textLength="15.72" lengthAdjust="spacingAndGlyphs" fill="#000">NH</text>
<text x="96.76" y="368.2" font-size="7" textLength="4.49" lengthAdjust="spacingAndGlyphs" fill="#000">x</text>
<text x="112.49" y="365.6" font-size="10.8" textLength="14.82" lengthAdjust="spacingAndGlyphs" fill="#000">NC</text>
<text x="126.5" y="368.6" font-size="7" textLength="3.76" lengthAdjust="spacingAndGlyphs" fill="#000">3</text>
<text x="181.66" y="359.9" font-size="10.8" textLength="33.2" lengthAdjust="spacingAndGlyphs" fill="#000">C=N-C</text>
<polyline points="297.3,249.1 297.8,249.1 298.3,249.1 298.8,249.1 299.3,249.1 299.8,249.1 300.3,249.1 300.8,249.1 301.3,249.1 301.8,249.1 302.3,249.1 302.8,249.1 303.3,249.09 303.8,249.09 304.3,249.09 304.8,249.09 305.3,249.09 305.8,249.09 306.3,249.09 306.8,249.09 307.3,249.09 307.8,249.09 308.3,249.08 308.8,249.08 309.3,249.08 309.8,249.08 310.3,249.08 310.8,249.07 311.3,249.07 311.8,249.07 312.3,249.06 312.8,249.06 313.3,249.06 313.8,249.05 314.3,249.05 314.8,249.04 315.3,249.04 315.8,249.03 316.3,249.02 316.8,249.02 317.3,249.01 317.8,249 318.3,248.99 318.8,248.98 319.3,248.97 319.8,248.96 320.3,248.95 320.8,248.93 321.3,248.92 321.8,248.9 322.3,248.89 322.8,248.87 323.3,248.85 323.8,248.83 324.3,248.8 324.8,248.78 325.3,248.75 325.8,248.73 326.3,248.7 326.8,248.66 327.3,248.63 327.8,248.59 328.3,248.55 328.8,248.51 329.3,248.47 329.8,248.42 330.3,248.37 330.8,248.32 331.3,248.26 331.8,248.2 332.3,248.13 332.8,248.07 333.3,247.99 333.8,247.92 334.3,247.84 334.8,247.75 335.3,247.66 335.8,247.57 336.3,247.47 336.8,247.37 337.3,247.26 337.8,247.14 338.3,247.02 338.8,246.9 339.3,246.77 339.8,246.63 340.3,246.48 340.8,246.33 341.3,246.17 341.8,246.01 342.3,245.84 342.8,245.66 343.3,245.48 343.8,245.28 344.3,245.08 344.8,244.88 345.3,244.66 345.8,244.44 346.3,244.21 346.8,243.98 347.3,243.73 347.8,243.48 348.3,243.22 348.8,242.96 349.3,242.68 349.8,242.4 350.3,242.11 350.8,241.82 351.3,241.51 351.8,241.21 352.3,240.89 352.8,240.57 353.3,240.24 353.8,239.91 354.3,239.57 354.8,239.22 355.3,238.87 355.8,238.52 356.3,238.16 356.8,237.8 357.3,237.43 357.8,237.06 358.3,236.69 358.8,236.32 359.3,235.94 359.8,235.57 360.3,235.19 360.8,234.81 361.3,234.44 361.8,234.06 362.3,233.69 362.8,233.32 363.3,232.95 363.8,232.59 364.3,232.23 364.8,231.88 365.3,231.53 365.8,231.18 366.3,230.85 366.8,230.52 367.3,230.2 367.8,229.89 368.3,229.59 368.8,229.29 369.3,229.01 369.8,228.74 370.3,228.48 370.8,228.23 371.3,228 371.8,227.78 372.3,227.57 372.8,227.38 373.3,227.2 373.8,227.04 374.3,226.89 374.8,226.76 375.3,226.64 375.8,226.54 376.3,226.46 376.8,226.39 377.3,226.34 377.8,226.31 378.3,226.29 378.8,226.29 379.3,226.31 379.8,226.35 380.3,226.4 380.8,226.47 381.3,226.56 381.8,226.67 382.3,226.79 382.8,226.92 383.3,227.08 383.8,227.24 384.3,227.43 384.8,227.63 385.3,227.84 385.8,228.07 386.3,228.31 386.8,228.57 387.3,228.84 387.8,229.12 388.3,229.41 388.8,229.71 389.3,230.03 389.8,230.35 390.3,230.68 390.8,231.03 391.3,231.38 391.8,231.73 392.3,232.1 392.8,232.47 393.3,232.84 393.8,233.22 394.3,233.61 394.8,234 395.3,234.39 395.8,234.78 396.3,235.18 396.8,235.58 397.3,235.97 397.8,236.37 398.3,236.77 398.8,237.16 399.3,237.56 399.8,237.95 400.3,238.34 400.8,238.72 401.3,239.1 401.8,239.48 402.3,239.86 402.8,240.23 403.3,240.59 403.8,240.95 404.3,241.3 404.8,241.64 405.3,241.98 405.8,242.32 406.3,242.64 406.8,242.96 407.3,243.27 407.8,243.58 408.3,243.88 408.8,244.17 409.3,244.45 409.8,244.72 410.3,244.99 410.8,245.24 411.3,245.5 411.8,245.74 412.3,245.97 412.8,246.2 413.3,246.42 413.8,246.63 414.3,246.83 414.8,247.03 415.3,247.22 415.8,247.4 416.3,247.57 416.8,247.74 417.3,247.9 417.8,248.05 418.3,248.2 418.8,248.34 419.3,248.48 419.8,248.6 420.3,248.73 420.8,248.84 421.3,248.95 421.8,249.06 422.3,249.16 422.8,249.25 423.3,249.34 423.8,249.43 424.3,249.51 424.8,249.59 425.3,249.66 425.8,249.73 426.3,249.79 426.8,249.85 427.3,249.91 427.8,249.97 428.3,250.02 428.8,250.06 429.3,250.11 429.8,250.15 430.3,250.19 430.8,250.23 431.3,250.26 431.8,250.29 432.3,250.32 432.8,250.35 433.3,250.38 433.8,250.4 434.3,250.43 434.8,250.45 435.3,250.47 435.8,250.49 436.3,250.5 436.8,250.52 437.3,250.53 437.8,250.55 438.3,250.56 438.8,250.57 439.3,250.58 439.8,250.59 440.3,250.6 440.8,250.61 441.3,250.62 441.8,250.63 442.3,250.63 442.8,250.64 443.3,250.64 443.8,250.65 444.3,250.65 444.8,250.66 445.3,250.66 445.8,250.66 446.3,250.67 446.8,250.67 447.3,250.67 447.8,250.68 448.3,250.68 448.8,250.68 449.3,250.68 449.8,250.68 450.3,250.69 450.8,250.69 451.3,250.69 451.8,250.69 452.3,250.69 452.8,250.69 453.3,250.69 453.8,250.69 454.3,250.69 454.8,250.69 455.3,250.7 455.8,250.7 456.3,250.7 456.8,250.7 457.3,250.7 457.8,250.7 458.3,250.7 458.8,250.7 459.3,250.7 459.8,250.7 460.3,250.7 460.8,250.7 461.3,250.7 461.8,250.7 462.3,250.7 462.8,250.7 463.3,250.7 463.8,250.7 464.3,250.7 464.8,250.7 465.3,250.7 465.8,250.7 466.3,250.7 466.8,250.7 467.3,250.7 467.8,250.7 468.3,250.7 468.8,250.7 469.3,250.7 469.8,250.7 470.3,250.7 470.8,250.7 471.3,250.7 471.8,250.7 472.3,250.7 472.8,250.7 473.3,250.7 473.8,250.7 474.3,250.7 474.8,250.7 475.3,250.7 475.8,250.7 476.3,250.7 476.8,250.7 477.3,250.7 477.8,250.7 478.3,250.7 478.8,250.7 479.3,250.7 479.8,250.7 480.3,250.7 480.8,250.7 481.3,250.7 481.8,250.7 482.3,250.7 482.8,250.7 483.3,250.7 483.8,250.7 484.3,250.7 484.8,250.7 485.3,250.7 485.8,250.7 486.3,250.7 486.8,250.7 487.3,250.7 487.8,250.7 488.3,250.7 488.8,250.7 489.3,250.7 489.8,250.7 490.3,250.7 490.8,250.7 491.3,250.7 491.8,250.7 492.3,250.7 492.8,250.7 493.3,250.7 493.8,250.7 494.3,250.7 494.8,250.7 495.3,250.7 495.8,250.7 496.3,250.7 496.8,250.7 497.3,250.7 497.8,250.7 498.3,250.7 498.8,250.7 499.3,250.7 499.8,250.7 500.3,250.7 500.8,250.7 501.3,250.7 501.8,250.7 502.3,250.7 502.8,250.7 503.3,250.7 503.8,250.7 504.3,250.7 504.8,250.7 505.3,250.7 505.8,250.7 506.3,250.7 506.8,250.7 507.3,250.7 507.8,250.7 508.3,250.7 508.8,250.7 509.3,250.7 509.8,250.7 510.3,250.7 510.8,250.7 511.3,250.7 511.8,250.7 512.3,250.7 512.8,250.7 513.3,250.7 513.8,250.7 514.3,250.7 514.8,250.7 515.3,250.7 515.8,250.7 516.3,250.7 516.8,250.7 517.3,250.7 517.8,250.7 518.3,250.7 518.8,250.7 519.3,250.7 519.8,250.7 520.3,250.7 520.8,250.7 521.3,250.7 521.8,250.7 522.3,250.7 522.8,250.7 523.3,250.7 523.8,250.7 524.3,250.7 524.8,250.7 525.3,250.7 525.8,250.7 526.3,250.7 526.8,250.7 527.3,250.7 527.8,250.7 528.3,250.7 528.8,250.7 529.3,250.7 529.8,250.7 530.3,250.7 530.8,250.7 531.3,250.7 531.8,250.7 532.3,250.7 532.8,250.7 533.3,250.7 533.8,250.7 534.3,250.7 534.8,250.7" fill="none" stroke="#f0272d" stroke-width="1.5" stroke-linejoin="round" />
<polyline points="297.3,250.7 297.8,250.7 298.3,250.7 298.8,250.7 299.3,250.7 299.8,250.7 300.3,250.7 300.8,250.7 301.3,250.7 301.8,250.7 302.3,250.7 302.8,250.7 303.3,250.7 303.8,250.7 304.3,250.7 304.8,250.7 305.3,250.7 305.8,250.7 306.3,250.7 306.8,250.7 307.3,250.7 307.8,250.7 308.3,250.7 308.8,250.7 309.3,250.7 309.8,250.7 310.3,250.7 310.8,250.7 311.3,250.7 311.8,250.7 312.3,250.7 312.8,250.7 313.3,250.7 313.8,250.7 314.3,250.7 314.8,250.7 315.3,250.7 315.8,250.7 316.3,250.7 316.8,250.7 317.3,250.7 317.8,250.7 318.3,250.7 318.8,250.7 319.3,250.7 319.8,250.7 320.3,250.7 320.8,250.7 321.3,250.7 321.8,250.7 322.3,250.7 322.8,250.7 323.3,250.7 323.8,250.7 324.3,250.7 324.8,250.7 325.3,250.7 325.8,250.7 326.3,250.7 326.8,250.7 327.3,250.7 327.8,250.7 328.3,250.7 328.8,250.7 329.3,250.7 329.8,250.7 330.3,250.7 330.8,250.7 331.3,250.7 331.8,250.7 332.3,250.7 332.8,250.7 333.3,250.7 333.8,250.7 334.3,250.7 334.8,250.7 335.3,250.7 335.8,250.7 336.3,250.7 336.8,250.7 337.3,250.7 337.8,250.7 338.3,250.7 338.8,250.7 339.3,250.7 339.8,250.7 340.3,250.7 340.8,250.7 341.3,250.7 341.8,250.7 342.3,250.7 342.8,250.7 343.3,250.7 343.8,250.7 344.3,250.7 344.8,250.7 345.3,250.7 345.8,250.7 346.3,250.7 346.8,250.7 347.3,250.7 347.8,250.7 348.3,250.7 348.8,250.7 349.3,250.7 349.8,250.7 350.3,250.7 350.8,250.7 351.3,250.7 351.8,250.7 352.3,250.7 352.8,250.7 353.3,250.7 353.8,250.7 354.3,250.7 354.8,250.7 355.3,250.7 355.8,250.7 356.3,250.7 356.8,250.7 357.3,250.7 357.8,250.7 358.3,250.7 358.8,250.7 359.3,250.7 359.8,250.7 360.3,250.7 360.8,250.7 361.3,250.7 361.8,250.7 362.3,250.7 362.8,250.7 363.3,250.7 363.8,250.7 364.3,250.7 364.8,250.7 365.3,250.7 365.8,250.7 366.3,250.7 366.8,250.7 367.3,250.7 367.8,250.69 368.3,250.69 368.8,250.69 369.3,250.69 369.8,250.69 370.3,250.69 370.8,250.69 371.3,250.69 371.8,250.69 372.3,250.68 372.8,250.68 373.3,250.68 373.8,250.68 374.3,250.68 374.8,250.67 375.3,250.67 375.8,250.67 376.3,250.66 376.8,250.66 377.3,250.66 377.8,250.65 378.3,250.65 378.8,250.64 379.3,250.63 379.8,250.63 380.3,250.62 380.8,250.61 381.3,250.6 381.8,250.59 382.3,250.58 382.8,250.57 383.3,250.56 383.8,250.54 384.3,250.53 384.8,250.51 385.3,250.49 385.8,250.47 386.3,250.45 386.8,250.43 387.3,250.41 387.8,250.38 388.3,250.35 388.8,250.32 389.3,250.29 389.8,250.25 390.3,250.21 390.8,250.17 391.3,250.13 391.8,250.08 392.3,250.03 392.8,249.98 393.3,249.92 393.8,249.86 394.3,249.79 394.8,249.72 395.3,249.64 395.8,249.56 396.3,249.48 396.8,249.39 397.3,249.29 397.8,249.19 398.3,249.08 398.8,248.96 399.3,248.84 399.8,248.71 400.3,248.58 400.8,248.43 401.3,248.28 401.8,248.12 402.3,247.96 402.8,247.78 403.3,247.59 403.8,247.4 404.3,247.2 404.8,246.98 405.3,246.76 405.8,246.53 406.3,246.28 406.8,246.03 407.3,245.76 407.8,245.49 408.3,245.2 408.8,244.9 409.3,244.6 409.8,244.27 410.3,243.94 410.8,243.6 411.3,243.24 411.8,242.88 412.3,242.5 412.8,242.11 413.3,241.71 413.8,241.29 414.3,240.87 414.8,240.43 415.3,239.99 415.8,239.53 416.3,239.06 416.8,238.59 417.3,238.1 417.8,237.6 418.3,237.1 418.8,236.59 419.3,236.07 419.8,235.54 420.3,235 420.8,234.46 421.3,233.92 421.8,233.37 422.3,232.81 422.8,232.26 423.3,231.7 423.8,231.13 424.3,230.57 424.8,230.01 425.3,229.45 425.8,228.89 426.3,228.33 426.8,227.78 427.3,227.24 427.8,226.69 428.3,226.16 428.8,225.63 429.3,225.12 429.8,224.61 430.3,224.11 430.8,223.63 431.3,223.15 431.8,222.7 432.3,222.25 432.8,221.83 433.3,221.42 433.8,221.02 434.3,220.65 434.8,220.29 435.3,219.96 435.8,219.64 436.3,219.35 436.8,219.08 437.3,218.83 437.8,218.61 438.3,218.41 438.8,218.23 439.3,218.08 439.8,217.95 440.3,217.85 440.8,217.77 441.3,217.73 441.8,217.7 442.3,217.7 442.8,217.73 443.3,217.79 443.8,217.87 444.3,217.97 444.8,218.11 445.3,218.26 445.8,218.44 446.3,218.65 446.8,218.88 447.3,219.13 447.8,219.41 448.3,219.7 448.8,220.02 449.3,220.36 449.8,220.72 450.3,221.1 450.8,221.5 451.3,221.91 451.8,222.34 452.3,222.79 452.8,223.25 453.3,223.72 453.8,224.21 454.3,224.71 454.8,225.22 455.3,225.74 455.8,226.27 456.3,226.8 456.8,227.34 457.3,227.89 457.8,228.45 458.3,229 458.8,229.56 459.3,230.12 459.8,230.68 460.3,231.25 460.8,231.81 461.3,232.37 461.8,232.92 462.3,233.48 462.8,234.03 463.3,234.57 463.8,235.11 464.3,235.64 464.8,236.17 465.3,236.69 465.8,237.2 466.3,237.7 466.8,238.2 467.3,238.68 467.8,239.16 468.3,239.62 468.8,240.08 469.3,240.52 469.8,240.95 470.3,241.38 470.8,241.79 471.3,242.19 471.8,242.57 472.3,242.95 472.8,243.31 473.3,243.67 473.8,244.01 474.3,244.34 474.8,244.66 475.3,244.97 475.8,245.26 476.3,245.55 476.8,245.82 477.3,246.08 477.8,246.33 478.3,246.57 478.8,246.81 479.3,247.03 479.8,247.24 480.3,247.44 480.8,247.63 481.3,247.82 481.8,247.99 482.3,248.16 482.8,248.31 483.3,248.46 483.8,248.61 484.3,248.74 484.8,248.87 485.3,248.99 485.8,249.1 486.3,249.21 486.8,249.31 487.3,249.41 487.8,249.5 488.3,249.58 488.8,249.66 489.3,249.73 489.8,249.8 490.3,249.87 490.8,249.93 491.3,249.99 491.8,250.04 492.3,250.09 492.8,250.14 493.3,250.18 493.8,250.22 494.3,250.26 494.8,250.29 495.3,250.33 495.8,250.36 496.3,250.39 496.8,250.41 497.3,250.44 497.8,250.46 498.3,250.48 498.8,250.5 499.3,250.51 499.8,250.53 500.3,250.55 500.8,250.56 501.3,250.57 501.8,250.58 502.3,250.59 502.8,250.6 503.3,250.61 503.8,250.62 504.3,250.63 504.8,250.63 505.3,250.64 505.8,250.65 506.3,250.65 506.8,250.66 507.3,250.66 507.8,250.66 508.3,250.67 508.8,250.67 509.3,250.67 509.8,250.68 510.3,250.68 510.8,250.68 511.3,250.68 511.8,250.68 512.3,250.69 512.8,250.69 513.3,250.69 513.8,250.69 514.3,250.69 514.8,250.69 515.3,250.69 515.8,250.69 516.3,250.69 516.8,250.7 517.3,250.7 517.8,250.7 518.3,250.7 518.8,250.7 519.3,250.7 519.8,250.7 520.3,250.7 520.8,250.7 521.3,250.7 521.8,250.7 522.3,250.7 522.8,250.7 523.3,250.7 523.8,250.7 524.3,250.7 524.8,250.7 525.3,250.7 525.8,250.7 526.3,250.7 526.8,250.7 527.3,250.7 527.8,250.7 528.3,250.7 528.8,250.7 529.3,250.7 529.8,250.7 530.3,250.7 530.8,250.7 531.3,250.7 531.8,250.7 532.3,250.7 532.8,250.7 533.3,250.7 533.8,250.7 534.3,250.7 534.8,250.7" fill="none" stroke="#1f6fe6" stroke-width="1.5" stroke-linejoin="round" />
<path d="M296.3,249.27a2,2 0 1,0 4,0a2,2 0 1,0 -4,0M298.8,249.11a2,2 0 1,0 4,0a2,2 0 1,0 -4,0M301.3,248.68a2,2 0 1,0 4,0a2,2 0 1,0 -4,0M303.8,249.42a2,2 0 1,0 4,0a2,2 0 1,0 -4,0M306.3,249.19a2,2 0 1,0 4,0a2,2 0 1,0 -4,0M308.8,249.2a2,2 0 1,0 4,0a2,2 0 1,0 -4,0M311.3,249.12a2,2 0 1,0 4,0a2,2 0 1,0 -4,0M313.8,249.62a2,2 0 1,0 4,0a2,2 0 1,0 -4,0M316.3,249.34a2,2 0 1,0 4,0a2,2 0 1,0 -4,0M318.8,249.39a2,2 0 1,0 4,0a2,2 0 1,0 -4,0M321.3,248.75a2,2 0 1,0 4,0a2,2 0 1,0 -4,0M323.8,248.56a2,2 0 1,0 4,0a2,2 0 1,0 -4,0M326.3,248.18a2,2 0 1,0 4,0a2,2 0 1,0 -4,0M328.8,248.23a2,2 0 1,0 4,0a2,2 0 1,0 -4,0M331.3,246.99a2,2 0 1,0 4,0a2,2 0 1,0 -4,0M333.8,248.18a2,2 0 1,0 4,0a2,2 0 1,0 -4,0M336.3,247.08a2,2 0 1,0 4,0a2,2 0 1,0 -4,0M338.8,246.37a2,2 0 1,0 4,0a2,2 0 1,0 -4,0M341.3,245.81a2,2 0 1,0 4,0a2,2 0 1,0 -4,0M343.8,244.31a2,2 0 1,0 4,0a2,2 0 1,0 -4,0M346.3,243.32a2,2 0 1,0 4,0a2,2 0 1,0 -4,0M348.8,242.11a2,2 0 1,0 4,0a2,2 0 1,0 -4,0M351.3,239.66a2,2 0 1,0 4,0a2,2 0 1,0 -4,0M353.8,239.17a2,2 0 1,0 4,0a2,2 0 1,0 -4,0M356.3,236.75a2,2 0 1,0 4,0a2,2 0 1,0 -4,0M358.8,235.05a2,2 0 1,0 4,0a2,2 0 1,0 -4,0M361.3,232.57a2,2 0 1,0 4,0a2,2 0 1,0 -4,0M363.8,230.96a2,2 0 1,0 4,0a2,2 0 1,0 -4,0M366.3,230.22a2,2 0 1,0 4,0a2,2 0 1,0 -4,0M368.8,228.03a2,2 0 1,0 4,0a2,2 0 1,0 -4,0M371.3,227.04a2,2 0 1,0 4,0a2,2 0 1,0 -4,0M373.8,226.69a2,2 0 1,0 4,0a2,2 0 1,0 -4,0M376.3,226.78a2,2 0 1,0 4,0a2,2 0 1,0 -4,0M378.8,225.48a2,2 0 1,0 4,0a2,2 0 1,0 -4,0M381.3,227.49a2,2 0 1,0 4,0a2,2 0 1,0 -4,0M383.8,227.95a2,2 0 1,0 4,0a2,2 0 1,0 -4,0M386.3,229.4a2,2 0 1,0 4,0a2,2 0 1,0 -4,0M388.8,230.12a2,2 0 1,0 4,0a2,2 0 1,0 -4,0M391.3,232.18a2,2 0 1,0 4,0a2,2 0 1,0 -4,0M393.8,234.26a2,2 0 1,0 4,0a2,2 0 1,0 -4,0M396.3,235.12a2,2 0 1,0 4,0a2,2 0 1,0 -4,0M398.8,236.23a2,2 0 1,0 4,0a2,2 0 1,0 -4,0M401.3,237.33a2,2 0 1,0 4,0a2,2 0 1,0 -4,0M403.8,237.95a2,2 0 1,0 4,0a2,2 0 1,0 -4,0M406.3,238.68a2,2 0 1,0 4,0a2,2 0 1,0 -4,0M408.8,238.22a2,2 0 1,0 4,0a2,2 0 1,0 -4,0M411.3,237.25a2,2 0 1,0 4,0a2,2 0 1,0 -4,0M413.8,236.53a2,2 0 1,0 4,0a2,2 0 1,0 -4,0M416.3,234.2a2,2 0 1,0 4,0a2,2 0 1,0 -4,0M418.8,232.08a2,2 0 1,0 4,0a2,2 0 1,0 -4,0M421.3,231.27a2,2 0 1,0 4,0a2,2 0 1,0 -4,0M423.8,227.69a2,2 0 1,0 4,0a2,2 0 1,0 -4,0M426.3,226.09a2,2 0 1,0 4,0a2,2 0 1,0 -4,0M428.8,223.13a2,2 0 1,0 4,0a2,2 0 1,0 -4,0M431.3,221.02a2,2 0 1,0 4,0a2,2 0 1,0 -4,0M433.8,219.63a2,2 0 1,0 4,0a2,2 0 1,0 -4,0M436.3,217.95a2,2 0 1,0 4,0a2,2 0 1,0 -4,0M438.8,217.38a2,2 0 1,0 4,0a2,2 0 1,0 -4,0M441.3,217.66a2,2 0 1,0 4,0a2,2 0 1,0 -4,0M443.8,218.27a2,2 0 1,0 4,0a2,2 0 1,0 -4,0M446.3,219.96a2,2 0 1,0 4,0a2,2 0 1,0 -4,0M448.8,222.22a2,2 0 1,0 4,0a2,2 0 1,0 -4,0M451.3,223.28a2,2 0 1,0 4,0a2,2 0 1,0 -4,0M453.8,225.94a2,2 0 1,0 4,0a2,2 0 1,0 -4,0M456.3,229.29a2,2 0 1,0 4,0a2,2 0 1,0 -4,0M458.8,232.01a2,2 0 1,0 4,0a2,2 0 1,0 -4,0M461.3,235a2,2 0 1,0 4,0a2,2 0 1,0 -4,0M463.8,236.93a2,2 0 1,0 4,0a2,2 0 1,0 -4,0M466.3,239.85a2,2 0 1,0 4,0a2,2 0 1,0 -4,0M468.8,241.77a2,2 0 1,0 4,0a2,2 0 1,0 -4,0M471.3,243.06a2,2 0 1,0 4,0a2,2 0 1,0 -4,0M473.8,245.44a2,2 0 1,0 4,0a2,2 0 1,0 -4,0M476.3,245.99a2,2 0 1,0 4,0a2,2 0 1,0 -4,0M478.8,247.84a2,2 0 1,0 4,0a2,2 0 1,0 -4,0M481.3,248.3a2,2 0 1,0 4,0a2,2 0 1,0 -4,0M483.8,249.04a2,2 0 1,0 4,0a2,2 0 1,0 -4,0M486.3,250.39a2,2 0 1,0 4,0a2,2 0 1,0 -4,0M488.8,250.51a2,2 0 1,0 4,0a2,2 0 1,0 -4,0M491.3,250.35a2,2 0 1,0 4,0a2,2 0 1,0 -4,0M493.8,250.51a2,2 0 1,0 4,0a2,2 0 1,0 -4,0M496.3,250.2a2,2 0 1,0 4,0a2,2 0 1,0 -4,0M498.8,251.04a2,2 0 1,0 4,0a2,2 0 1,0 -4,0M501.3,250.85a2,2 0 1,0 4,0a2,2 0 1,0 -4,0M503.8,250.33a2,2 0 1,0 4,0a2,2 0 1,0 -4,0M506.3,250.05a2,2 0 1,0 4,0a2,2 0 1,0 -4,0M508.8,250.69a2,2 0 1,0 4,0a2,2 0 1,0 -4,0M511.3,250.63a2,2 0 1,0 4,0a2,2 0 1,0 -4,0M513.8,251.03a2,2 0 1,0 4,0a2,2 0 1,0 -4,0M516.3,250.32a2,2 0 1,0 4,0a2,2 0 1,0 -4,0M518.8,250.37a2,2 0 1,0 4,0a2,2 0 1,0 -4,0M521.3,250.86a2,2 0 1,0 4,0a2,2 0 1,0 -4,0M523.8,250.74a2,2 0 1,0 4,0a2,2 0 1,0 -4,0M526.3,251.06a2,2 0 1,0 4,0a2,2 0 1,0 -4,0M528.8,251.13a2,2 0 1,0 4,0a2,2 0 1,0 -4,0M531.3,250.37a2,2 0 1,0 4,0a2,2 0 1,0 -4,0" fill="none" stroke="#555" stroke-width="0.75"/>
<line x1="323.07" y1="254.3" x2="323.07" y2="251.3" stroke="#000" stroke-width="1.1"/>
<line x1="349.63" y1="254.3" x2="349.63" y2="251.3" stroke="#000" stroke-width="1.1"/>
<line x1="376.2" y1="254.3" x2="376.2" y2="251.3" stroke="#000" stroke-width="1.1"/>
<line x1="402.77" y1="254.3" x2="402.77" y2="251.3" stroke="#000" stroke-width="1.1"/>
<line x1="429.33" y1="254.3" x2="429.33" y2="251.3" stroke="#000" stroke-width="1.1"/>
<line x1="455.9" y1="254.3" x2="455.9" y2="251.3" stroke="#000" stroke-width="1.1"/>
<line x1="482.47" y1="254.3" x2="482.47" y2="251.3" stroke="#000" stroke-width="1.1"/>
<line x1="509.03" y1="254.3" x2="509.03" y2="251.3" stroke="#000" stroke-width="1.1"/>
<line x1="296.5" y1="254.3" x2="535.6" y2="254.3" stroke="#000" stroke-width="1.3"/>
<polyline points="297.3,291.4 297.8,291.4 298.3,291.4 298.8,291.4 299.3,291.4 299.8,291.4 300.3,291.4 300.8,291.39 301.3,291.39 301.8,291.39 302.3,291.39 302.8,291.39 303.3,291.39 303.8,291.39 304.3,291.39 304.8,291.39 305.3,291.39 305.8,291.39 306.3,291.38 306.8,291.38 307.3,291.38 307.8,291.38 308.3,291.38 308.8,291.37 309.3,291.37 309.8,291.37 310.3,291.36 310.8,291.36 311.3,291.36 311.8,291.35 312.3,291.35 312.8,291.34 313.3,291.34 313.8,291.33 314.3,291.32 314.8,291.32 315.3,291.31 315.8,291.3 316.3,291.29 316.8,291.28 317.3,291.27 317.8,291.26 318.3,291.25 318.8,291.24 319.3,291.22 319.8,291.21 320.3,291.19 320.8,291.17 321.3,291.15 321.8,291.13 322.3,291.11 322.8,291.09 323.3,291.06 323.8,291.03 324.3,291 324.8,290.97 325.3,290.94 325.8,290.9 326.3,290.87 326.8,290.83 327.3,290.78 327.8,290.74 328.3,290.69 328.8,290.64 329.3,290.58 329.8,290.53 330.3,290.47 330.8,290.4 331.3,290.33 331.8,290.26 332.3,290.19 332.8,290.11 333.3,290.02 333.8,289.93 334.3,289.84 334.8,289.74 335.3,289.64 335.8,289.53 336.3,289.42 336.8,289.3 337.3,289.18 337.8,289.05 338.3,288.91 338.8,288.77 339.3,288.63 339.8,288.48 340.3,288.32 340.8,288.15 341.3,287.98 341.8,287.8 342.3,287.62 342.8,287.43 343.3,287.23 343.8,287.03 344.3,286.82 344.8,286.6 345.3,286.38 345.8,286.15 346.3,285.92 346.8,285.67 347.3,285.43 347.8,285.17 348.3,284.91 348.8,284.64 349.3,284.37 349.8,284.09 350.3,283.81 350.8,283.52 351.3,283.23 351.8,282.93 352.3,282.62 352.8,282.32 353.3,282 353.8,281.69 354.3,281.37 354.8,281.05 355.3,280.73 355.8,280.4 356.3,280.07 356.8,279.75 357.3,279.42 357.8,279.09 358.3,278.76 358.8,278.43 359.3,278.1 359.8,277.78 360.3,277.46 360.8,277.14 361.3,276.82 361.8,276.51 362.3,276.2 362.8,275.89 363.3,275.6 363.8,275.31 364.3,275.02 364.8,274.74 365.3,274.47 365.8,274.21 366.3,273.96 366.8,273.72 367.3,273.48 367.8,273.26 368.3,273.05 368.8,272.84 369.3,272.65 369.8,272.48 370.3,272.31 370.8,272.16 371.3,272.02 371.8,271.89 372.3,271.78 372.8,271.68 373.3,271.6 373.8,271.53 374.3,271.47 374.8,271.43 375.3,271.41 375.8,271.4 376.3,271.4 376.8,271.42 377.3,271.45 377.8,271.5 378.3,271.57 378.8,271.65 379.3,271.74 379.8,271.84 380.3,271.97 380.8,272.1 381.3,272.25 381.8,272.41 382.3,272.58 382.8,272.77 383.3,272.97 383.8,273.18 384.3,273.4 384.8,273.63 385.3,273.88 385.8,274.13 386.3,274.39 386.8,274.66 387.3,274.94 387.8,275.23 388.3,275.52 388.8,275.82 389.3,276.13 389.8,276.45 390.3,276.76 390.8,277.09 391.3,277.41 391.8,277.74 392.3,278.08 392.8,278.41 393.3,278.75 393.8,279.09 394.3,279.43 394.8,279.77 395.3,280.11 395.8,280.45 396.3,280.78 396.8,281.12 397.3,281.45 397.8,281.78 398.3,282.11 398.8,282.44 399.3,282.76 399.8,283.08 400.3,283.39 400.8,283.7 401.3,284 401.8,284.3 402.3,284.6 402.8,284.88 403.3,285.17 403.8,285.44 404.3,285.71 404.8,285.98 405.3,286.23 405.8,286.48 406.3,286.73 406.8,286.97 407.3,287.2 407.8,287.42 408.3,287.64 408.8,287.85 409.3,288.05 409.8,288.25 410.3,288.44 410.8,288.63 411.3,288.8 411.8,288.98 412.3,289.14 412.8,289.3 413.3,289.45 413.8,289.6 414.3,289.74 414.8,289.87 415.3,290 415.8,290.12 416.3,290.24 416.8,290.35 417.3,290.46 417.8,290.56 418.3,290.66 418.8,290.75 419.3,290.84 419.8,290.92 420.3,291 420.8,291.08 421.3,291.15 421.8,291.22 422.3,291.28 422.8,291.34 423.3,291.4 423.8,291.45 424.3,291.5 424.8,291.55 425.3,291.59 425.8,291.64 426.3,291.68 426.8,291.71 427.3,291.75 427.8,291.78 428.3,291.81 428.8,291.84 429.3,291.87 429.8,291.89 430.3,291.92 430.8,291.94 431.3,291.96 431.8,291.98 432.3,291.99 432.8,292.01 433.3,292.03 433.8,292.04 434.3,292.05 434.8,292.06 435.3,292.08 435.8,292.09 436.3,292.1 436.8,292.1 437.3,292.11 437.8,292.12 438.3,292.13 438.8,292.13 439.3,292.14 439.8,292.14 440.3,292.15 440.8,292.15 441.3,292.16 441.8,292.16 442.3,292.17 442.8,292.17 443.3,292.17 443.8,292.17 444.3,292.18 444.8,292.18 445.3,292.18 445.8,292.18 446.3,292.18 446.8,292.19 447.3,292.19 447.8,292.19 448.3,292.19 448.8,292.19 449.3,292.19 449.8,292.19 450.3,292.19 450.8,292.19 451.3,292.19 451.8,292.2 452.3,292.2 452.8,292.2 453.3,292.2 453.8,292.2 454.3,292.2 454.8,292.2 455.3,292.2 455.8,292.2 456.3,292.2 456.8,292.2 457.3,292.2 457.8,292.2 458.3,292.2 458.8,292.2 459.3,292.2 459.8,292.2 460.3,292.2 460.8,292.2 461.3,292.2 461.8,292.2 462.3,292.2 462.8,292.2 463.3,292.2 463.8,292.2 464.3,292.2 464.8,292.2 465.3,292.2 465.8,292.2 466.3,292.2 466.8,292.2 467.3,292.2 467.8,292.2 468.3,292.2 468.8,292.2 469.3,292.2 469.8,292.2 470.3,292.2 470.8,292.2 471.3,292.2 471.8,292.2 472.3,292.2 472.8,292.2 473.3,292.2 473.8,292.2 474.3,292.2 474.8,292.2 475.3,292.2 475.8,292.2 476.3,292.2 476.8,292.2 477.3,292.2 477.8,292.2 478.3,292.2 478.8,292.2 479.3,292.2 479.8,292.2 480.3,292.2 480.8,292.2 481.3,292.2 481.8,292.2 482.3,292.2 482.8,292.2 483.3,292.2 483.8,292.2 484.3,292.2 484.8,292.2 485.3,292.2 485.8,292.2 486.3,292.2 486.8,292.2 487.3,292.2 487.8,292.2 488.3,292.2 488.8,292.2 489.3,292.2 489.8,292.2 490.3,292.2 490.8,292.2 491.3,292.2 491.8,292.2 492.3,292.2 492.8,292.2 493.3,292.2 493.8,292.2 494.3,292.2 494.8,292.2 495.3,292.2 495.8,292.2 496.3,292.2 496.8,292.2 497.3,292.2 497.8,292.2 498.3,292.2 498.8,292.2 499.3,292.2 499.8,292.2 500.3,292.2 500.8,292.2 501.3,292.2 501.8,292.2 502.3,292.2 502.8,292.2 503.3,292.2 503.8,292.2 504.3,292.2 504.8,292.2 505.3,292.2 505.8,292.2 506.3,292.2 506.8,292.2 507.3,292.2 507.8,292.2 508.3,292.2 508.8,292.2 509.3,292.2 509.8,292.2 510.3,292.2 510.8,292.2 511.3,292.2 511.8,292.2 512.3,292.2 512.8,292.2 513.3,292.2 513.8,292.2 514.3,292.2 514.8,292.2 515.3,292.2 515.8,292.2 516.3,292.2 516.8,292.2 517.3,292.2 517.8,292.2 518.3,292.2 518.8,292.2 519.3,292.2 519.8,292.2 520.3,292.2 520.8,292.2 521.3,292.2 521.8,292.2 522.3,292.2 522.8,292.2 523.3,292.2 523.8,292.2 524.3,292.2 524.8,292.2 525.3,292.2 525.8,292.2 526.3,292.2 526.8,292.2 527.3,292.2 527.8,292.2 528.3,292.2 528.8,292.2 529.3,292.2 529.8,292.2 530.3,292.2 530.8,292.2 531.3,292.2 531.8,292.2 532.3,292.2 532.8,292.2 533.3,292.2 533.8,292.2 534.3,292.2 534.8,292.2" fill="none" stroke="#f0272d" stroke-width="1.5" stroke-linejoin="round" />
<polyline points="297.3,292.2 297.8,292.2 298.3,292.2 298.8,292.2 299.3,292.2 299.8,292.2 300.3,292.2 300.8,292.2 301.3,292.2 301.8,292.2 302.3,292.2 302.8,292.2 303.3,292.2 303.8,292.2 304.3,292.2 304.8,292.2 305.3,292.2 305.8,292.2 306.3,292.2 306.8,292.2 307.3,292.2 307.8,292.2 308.3,292.2 308.8,292.2 309.3,292.2 309.8,292.2 310.3,292.2 310.8,292.2 311.3,292.2 311.8,292.2 312.3,292.2 312.8,292.2 313.3,292.2 313.8,292.2 314.3,292.2 314.8,292.2 315.3,292.2 315.8,292.2 316.3,292.2 316.8,292.2 317.3,292.2 317.8,292.2 318.3,292.2 318.8,292.2 319.3,292.2 319.8,292.2 320.3,292.2 320.8,292.2 321.3,292.2 321.8,292.2 322.3,292.2 322.8,292.2 323.3,292.2 323.8,292.2 324.3,292.2 324.8,292.2 325.3,292.2 325.8,292.2 326.3,292.2 326.8,292.2 327.3,292.2 327.8,292.2 328.3,292.2 328.8,292.2 329.3,292.2 329.8,292.2 330.3,292.2 330.8,292.2 331.3,292.2 331.8,292.2 332.3,292.2 332.8,292.2 333.3,292.2 333.8,292.2 334.3,292.2 334.8,292.2 335.3,292.2 335.8,292.2 336.3,292.2 336.8,292.2 337.3,292.2 337.8,292.2 338.3,292.2 338.8,292.2 339.3,292.2 339.8,292.2 340.3,292.2 340.8,292.2 341.3,292.2 341.8,292.2 342.3,292.2 342.8,292.2 343.3,292.2 343.8,292.2 344.3,292.2 344.8,292.2 345.3,292.2 345.8,292.2 346.3,292.2 346.8,292.2 347.3,292.2 347.8,292.2 348.3,292.2 348.8,292.2 349.3,292.2 349.8,292.2 350.3,292.2 350.8,292.2 351.3,292.2 351.8,292.2 352.3,292.2 352.8,292.2 353.3,292.2 353.8,292.2 354.3,292.2 354.8,292.2 355.3,292.2 355.8,292.2 356.3,292.2 356.8,292.2 357.3,292.2 357.8,292.2 358.3,292.2 358.8,292.2 359.3,292.2 359.8,292.2 360.3,292.2 360.8,292.2 361.3,292.2 361.8,292.2 362.3,292.2 362.8,292.2 363.3,292.2 363.8,292.2 364.3,292.2 364.8,292.2 365.3,292.2 365.8,292.2 366.3,292.19 366.8,292.19 367.3,292.19 367.8,292.19 368.3,292.19 368.8,292.19 369.3,292.19 369.8,292.19 370.3,292.19 370.8,292.18 371.3,292.18 371.8,292.18 372.3,292.18 372.8,292.18 373.3,292.17 373.8,292.17 374.3,292.17 374.8,292.16 375.3,292.16 375.8,292.16 376.3,292.15 376.8,292.14 377.3,292.14 377.8,292.13 378.3,292.13 378.8,292.12 379.3,292.11 379.8,292.1 380.3,292.09 380.8,292.08 381.3,292.07 381.8,292.05 382.3,292.04 382.8,292.02 383.3,292 383.8,291.99 384.3,291.97 384.8,291.94 385.3,291.92 385.8,291.89 386.3,291.87 386.8,291.84 387.3,291.8 387.8,291.77 388.3,291.73 388.8,291.69 389.3,291.65 389.8,291.6 390.3,291.55 390.8,291.5 391.3,291.44 391.8,291.38 392.3,291.31 392.8,291.24 393.3,291.17 393.8,291.09 394.3,291 394.8,290.91 395.3,290.81 395.8,290.71 396.3,290.6 396.8,290.49 397.3,290.37 397.8,290.24 398.3,290.1 398.8,289.96 399.3,289.81 399.8,289.65 400.3,289.48 400.8,289.3 401.3,289.12 401.8,288.92 402.3,288.72 402.8,288.5 403.3,288.28 403.8,288.05 404.3,287.8 404.8,287.55 405.3,287.28 405.8,287.01 406.3,286.72 406.8,286.42 407.3,286.11 407.8,285.79 408.3,285.46 408.8,285.12 409.3,284.77 409.8,284.4 410.3,284.03 410.8,283.64 411.3,283.24 411.8,282.84 412.3,282.42 412.8,281.99 413.3,281.55 413.8,281.1 414.3,280.65 414.8,280.18 415.3,279.71 415.8,279.23 416.3,278.74 416.8,278.24 417.3,277.74 417.8,277.23 418.3,276.72 418.8,276.2 419.3,275.68 419.8,275.16 420.3,274.63 420.8,274.11 421.3,273.58 421.8,273.06 422.3,272.53 422.8,272.01 423.3,271.5 423.8,270.98 424.3,270.48 424.8,269.97 425.3,269.48 425.8,269 426.3,268.52 426.8,268.05 427.3,267.6 427.8,267.16 428.3,266.73 428.8,266.32 429.3,265.92 429.8,265.54 430.3,265.17 430.8,264.82 431.3,264.49 431.8,264.18 432.3,263.89 432.8,263.63 433.3,263.38 433.8,263.15 434.3,262.95 434.8,262.77 435.3,262.62 435.8,262.49 436.3,262.38 436.8,262.3 437.3,262.24 437.8,262.21 438.3,262.2 438.8,262.22 439.3,262.26 439.8,262.33 440.3,262.42 440.8,262.54 441.3,262.68 441.8,262.84 442.3,263.03 442.8,263.24 443.3,263.48 443.8,263.73 444.3,264.01 444.8,264.31 445.3,264.62 445.8,264.96 446.3,265.31 446.8,265.69 447.3,266.08 447.8,266.48 448.3,266.9 448.8,267.33 449.3,267.78 449.8,268.24 450.3,268.71 450.8,269.19 451.3,269.68 451.8,270.17 452.3,270.68 452.8,271.19 453.3,271.7 453.8,272.22 454.3,272.74 454.8,273.27 455.3,273.79 455.8,274.32 456.3,274.84 456.8,275.37 457.3,275.89 457.8,276.41 458.3,276.92 458.8,277.44 459.3,277.94 459.8,278.44 460.3,278.93 460.8,279.42 461.3,279.9 461.8,280.37 462.3,280.83 462.8,281.28 463.3,281.73 463.8,282.16 464.3,282.59 464.8,283 465.3,283.4 465.8,283.8 466.3,284.18 466.8,284.55 467.3,284.91 467.8,285.26 468.3,285.6 468.8,285.92 469.3,286.24 469.8,286.54 470.3,286.84 470.8,287.12 471.3,287.39 471.8,287.65 472.3,287.9 472.8,288.14 473.3,288.37 473.8,288.59 474.3,288.8 474.8,289 475.3,289.19 475.8,289.37 476.3,289.55 476.8,289.71 477.3,289.87 477.8,290.02 478.3,290.16 478.8,290.29 479.3,290.42 479.8,290.53 480.3,290.65 480.8,290.75 481.3,290.85 481.8,290.95 482.3,291.04 482.8,291.12 483.3,291.2 483.8,291.27 484.3,291.34 484.8,291.4 485.3,291.46 485.8,291.52 486.3,291.57 486.8,291.62 487.3,291.67 487.8,291.71 488.3,291.75 488.8,291.78 489.3,291.82 489.8,291.85 490.3,291.88 490.8,291.91 491.3,291.93 491.8,291.95 492.3,291.97 492.8,291.99 493.3,292.01 493.8,292.03 494.3,292.04 494.8,292.06 495.3,292.07 495.8,292.08 496.3,292.09 496.8,292.1 497.3,292.11 497.8,292.12 498.3,292.13 498.8,292.14 499.3,292.14 499.8,292.15 500.3,292.15 500.8,292.16 501.3,292.16 501.8,292.17 502.3,292.17 502.8,292.17 503.3,292.17 503.8,292.18 504.3,292.18 504.8,292.18 505.3,292.18 505.8,292.19 506.3,292.19 506.8,292.19 507.3,292.19 507.8,292.19 508.3,292.19 508.8,292.19 509.3,292.19 509.8,292.19 510.3,292.19 510.8,292.2 511.3,292.2 511.8,292.2 512.3,292.2 512.8,292.2 513.3,292.2 513.8,292.2 514.3,292.2 514.8,292.2 515.3,292.2 515.8,292.2 516.3,292.2 516.8,292.2 517.3,292.2 517.8,292.2 518.3,292.2 518.8,292.2 519.3,292.2 519.8,292.2 520.3,292.2 520.8,292.2 521.3,292.2 521.8,292.2 522.3,292.2 522.8,292.2 523.3,292.2 523.8,292.2 524.3,292.2 524.8,292.2 525.3,292.2 525.8,292.2 526.3,292.2 526.8,292.2 527.3,292.2 527.8,292.2 528.3,292.2 528.8,292.2 529.3,292.2 529.8,292.2 530.3,292.2 530.8,292.2 531.3,292.2 531.8,292.2 532.3,292.2 532.8,292.2 533.3,292.2 533.8,292.2 534.3,292.2 534.8,292.2" fill="none" stroke="#1f6fe6" stroke-width="1.5" stroke-linejoin="round" />
<path d="M296,292.19a2.3,2.3 0 1,0 4.6,0a2.3,2.3 0 1,0 -4.6,0M298.8,291.82a2.3,2.3 0 1,0 4.6,0a2.3,2.3 0 1,0 -4.6,0M301.6,290.48a2.3,2.3 0 1,0 4.6,0a2.3,2.3 0 1,0 -4.6,0M304.4,294.02a2.3,2.3 0 1,0 4.6,0a2.3,2.3 0 1,0 -4.6,0M307.2,289.3a2.3,2.3 0 1,0 4.6,0a2.3,2.3 0 1,0 -4.6,0M310,291.4a2.3,2.3 0 1,0 4.6,0a2.3,2.3 0 1,0 -4.6,0M312.8,292.57a2.3,2.3 0 1,0 4.6,0a2.3,2.3 0 1,0 -4.6,0M315.6,292.17a2.3,2.3 0 1,0 4.6,0a2.3,2.3 0 1,0 -4.6,0M318.4,292.05a2.3,2.3 0 1,0 4.6,0a2.3,2.3 0 1,0 -4.6,0M321.2,289.73a2.3,2.3 0 1,0 4.6,0a2.3,2.3 0 1,0 -4.6,0M324,293.39a2.3,2.3 0 1,0 4.6,0a2.3,2.3 0 1,0 -4.6,0M326.8,289.69a2.3,2.3 0 1,0 4.6,0a2.3,2.3 0 1,0 -4.6,0M329.6,290.21a2.3,2.3 0 1,0 4.6,0a2.3,2.3 0 1,0 -4.6,0M332.4,289.8a2.3,2.3 0 1,0 4.6,0a2.3,2.3 0 1,0 -4.6,0M335.2,289.15a2.3,2.3 0 1,0 4.6,0a2.3,2.3 0 1,0 -4.6,0M338,287.64a2.3,2.3 0 1,0 4.6,0a2.3,2.3 0 1,0 -4.6,0M340.8,289.42a2.3,2.3 0 1,0 4.6,0a2.3,2.3 0 1,0 -4.6,0M343.6,286.23a2.3,2.3 0 1,0 4.6,0a2.3,2.3 0 1,0 -4.6,0M346.4,286.06a2.3,2.3 0 1,0 4.6,0a2.3,2.3 0 1,0 -4.6,0M349.2,281.04a2.3,2.3 0 1,0 4.6,0a2.3,2.3 0 1,0 -4.6,0M352,282.21a2.3,2.3 0 1,0 4.6,0a2.3,2.3 0 1,0 -4.6,0M354.8,279.3a2.3,2.3 0 1,0 4.6,0a2.3,2.3 0 1,0 -4.6,0M357.6,278.29a2.3,2.3 0 1,0 4.6,0a2.3,2.3 0 1,0 -4.6,0M360.4,276.28a2.3,2.3 0 1,0 4.6,0a2.3,2.3 0 1,0 -4.6,0M363.2,274.99a2.3,2.3 0 1,0 4.6,0a2.3,2.3 0 1,0 -4.6,0M366,272.95a2.3,2.3 0 1,0 4.6,0a2.3,2.3 0 1,0 -4.6,0M368.8,272.2a2.3,2.3 0 1,0 4.6,0a2.3,2.3 0 1,0 -4.6,0M371.6,271.71a2.3,2.3 0 1,0 4.6,0a2.3,2.3 0 1,0 -4.6,0M374.4,271.71a2.3,2.3 0 1,0 4.6,0a2.3,2.3 0 1,0 -4.6,0M377.2,271.79a2.3,2.3 0 1,0 4.6,0a2.3,2.3 0 1,0 -4.6,0M380,271.95a2.3,2.3 0 1,0 4.6,0a2.3,2.3 0 1,0 -4.6,0M382.8,274.13a2.3,2.3 0 1,0 4.6,0a2.3,2.3 0 1,0 -4.6,0M385.6,273.75a2.3,2.3 0 1,0 4.6,0a2.3,2.3 0 1,0 -4.6,0M388.4,279.11a2.3,2.3 0 1,0 4.6,0a2.3,2.3 0 1,0 -4.6,0M391.2,279a2.3,2.3 0 1,0 4.6,0a2.3,2.3 0 1,0 -4.6,0M394,281.26a2.3,2.3 0 1,0 4.6,0a2.3,2.3 0 1,0 -4.6,0M396.8,280.18a2.3,2.3 0 1,0 4.6,0a2.3,2.3 0 1,0 -4.6,0M399.6,279.36a2.3,2.3 0 1,0 4.6,0a2.3,2.3 0 1,0 -4.6,0M402.4,279.34a2.3,2.3 0 1,0 4.6,0a2.3,2.3 0 1,0 -4.6,0M405.2,280.05a2.3,2.3 0 1,0 4.6,0a2.3,2.3 0 1,0 -4.6,0M408,279.47a2.3,2.3 0 1,0 4.6,0a2.3,2.3 0 1,0 -4.6,0M410.8,278.43a2.3,2.3 0 1,0 4.6,0a2.3,2.3 0 1,0 -4.6,0M413.6,276.61a2.3,2.3 0 1,0 4.6,0a2.3,2.3 0 1,0 -4.6,0M416.4,275.69a2.3,2.3 0 1,0 4.6,0a2.3,2.3 0 1,0 -4.6,0M419.2,269.23a2.3,2.3 0 1,0 4.6,0a2.3,2.3 0 1,0 -4.6,0M422,272.02a2.3,2.3 0 1,0 4.6,0a2.3,2.3 0 1,0 -4.6,0M424.8,266.87a2.3,2.3 0 1,0 4.6,0a2.3,2.3 0 1,0 -4.6,0M427.6,265.38a2.3,2.3 0 1,0 4.6,0a2.3,2.3 0 1,0 -4.6,0M430.4,261.13a2.3,2.3 0 1,0 4.6,0a2.3,2.3 0 1,0 -4.6,0M433.2,262.79a2.3,2.3 0 1,0 4.6,0a2.3,2.3 0 1,0 -4.6,0M436,260.22a2.3,2.3 0 1,0 4.6,0a2.3,2.3 0 1,0 -4.6,0M438.8,263.25a2.3,2.3 0 1,0 4.6,0a2.3,2.3 0 1,0 -4.6,0M441.6,264.15a2.3,2.3 0 1,0 4.6,0a2.3,2.3 0 1,0 -4.6,0M444.4,265.85a2.3,2.3 0 1,0 4.6,0a2.3,2.3 0 1,0 -4.6,0M447.2,267.74a2.3,2.3 0 1,0 4.6,0a2.3,2.3 0 1,0 -4.6,0M450,270.33a2.3,2.3 0 1,0 4.6,0a2.3,2.3 0 1,0 -4.6,0M452.8,273.17a2.3,2.3 0 1,0 4.6,0a2.3,2.3 0 1,0 -4.6,0M455.6,277.72a2.3,2.3 0 1,0 4.6,0a2.3,2.3 0 1,0 -4.6,0M458.4,279.45a2.3,2.3 0 1,0 4.6,0a2.3,2.3 0 1,0 -4.6,0M461.2,282.23a2.3,2.3 0 1,0 4.6,0a2.3,2.3 0 1,0 -4.6,0M464,287.38a2.3,2.3 0 1,0 4.6,0a2.3,2.3 0 1,0 -4.6,0M466.8,286.25a2.3,2.3 0 1,0 4.6,0a2.3,2.3 0 1,0 -4.6,0M469.6,286.5a2.3,2.3 0 1,0 4.6,0a2.3,2.3 0 1,0 -4.6,0M472.4,285.99a2.3,2.3 0 1,0 4.6,0a2.3,2.3 0 1,0 -4.6,0M475.2,286.7a2.3,2.3 0 1,0 4.6,0a2.3,2.3 0 1,0 -4.6,0M478,290.82a2.3,2.3 0 1,0 4.6,0a2.3,2.3 0 1,0 -4.6,0M480.8,292.34a2.3,2.3 0 1,0 4.6,0a2.3,2.3 0 1,0 -4.6,0M483.6,290.16a2.3,2.3 0 1,0 4.6,0a2.3,2.3 0 1,0 -4.6,0M486.4,290.25a2.3,2.3 0 1,0 4.6,0a2.3,2.3 0 1,0 -4.6,0M489.2,291.7a2.3,2.3 0 1,0 4.6,0a2.3,2.3 0 1,0 -4.6,0M492,292.24a2.3,2.3 0 1,0 4.6,0a2.3,2.3 0 1,0 -4.6,0M494.8,293.36a2.3,2.3 0 1,0 4.6,0a2.3,2.3 0 1,0 -4.6,0M497.6,292a2.3,2.3 0 1,0 4.6,0a2.3,2.3 0 1,0 -4.6,0M500.4,291.33a2.3,2.3 0 1,0 4.6,0a2.3,2.3 0 1,0 -4.6,0M503.2,293.1a2.3,2.3 0 1,0 4.6,0a2.3,2.3 0 1,0 -4.6,0M506,290.94a2.3,2.3 0 1,0 4.6,0a2.3,2.3 0 1,0 -4.6,0M508.8,290.28a2.3,2.3 0 1,0 4.6,0a2.3,2.3 0 1,0 -4.6,0M511.6,290.73a2.3,2.3 0 1,0 4.6,0a2.3,2.3 0 1,0 -4.6,0M514.4,291.77a2.3,2.3 0 1,0 4.6,0a2.3,2.3 0 1,0 -4.6,0M517.2,291.64a2.3,2.3 0 1,0 4.6,0a2.3,2.3 0 1,0 -4.6,0M520,292.2a2.3,2.3 0 1,0 4.6,0a2.3,2.3 0 1,0 -4.6,0M522.8,292.26a2.3,2.3 0 1,0 4.6,0a2.3,2.3 0 1,0 -4.6,0M525.6,295.35a2.3,2.3 0 1,0 4.6,0a2.3,2.3 0 1,0 -4.6,0M528.4,292.75a2.3,2.3 0 1,0 4.6,0a2.3,2.3 0 1,0 -4.6,0M531.2,289.34a2.3,2.3 0 1,0 4.6,0a2.3,2.3 0 1,0 -4.6,0" fill="none" stroke="#555" stroke-width="0.75"/>
<line x1="323.07" y1="296.6" x2="323.07" y2="293.6" stroke="#000" stroke-width="1.1"/>
<line x1="349.63" y1="296.6" x2="349.63" y2="293.6" stroke="#000" stroke-width="1.1"/>
<line x1="376.2" y1="296.6" x2="376.2" y2="293.6" stroke="#000" stroke-width="1.1"/>
<line x1="402.77" y1="296.6" x2="402.77" y2="293.6" stroke="#000" stroke-width="1.1"/>
<line x1="429.33" y1="296.6" x2="429.33" y2="293.6" stroke="#000" stroke-width="1.1"/>
<line x1="455.9" y1="296.6" x2="455.9" y2="293.6" stroke="#000" stroke-width="1.1"/>
<line x1="482.47" y1="296.6" x2="482.47" y2="293.6" stroke="#000" stroke-width="1.1"/>
<line x1="509.03" y1="296.6" x2="509.03" y2="293.6" stroke="#000" stroke-width="1.1"/>
<line x1="296.5" y1="296.6" x2="535.6" y2="296.6" stroke="#000" stroke-width="1.3"/>
<polyline points="297.3,328.71 297.8,328.71 298.3,328.72 298.8,328.73 299.3,328.73 299.8,328.74 300.3,328.74 300.8,328.75 301.3,328.75 301.8,328.76 302.3,328.77 302.8,328.77 303.3,328.78 303.8,328.78 304.3,328.79 304.8,328.79 305.3,328.8 305.8,328.8 306.3,328.81 306.8,328.82 307.3,328.82 307.8,328.83 308.3,328.83 308.8,328.84 309.3,328.84 309.8,328.85 310.3,328.86 310.8,328.86 311.3,328.87 311.8,328.87 312.3,328.88 312.8,328.88 313.3,328.89 313.8,328.89 314.3,328.9 314.8,328.9 315.3,328.91 315.8,328.92 316.3,328.92 316.8,328.93 317.3,328.93 317.8,328.94 318.3,328.94 318.8,328.95 319.3,328.95 319.8,328.96 320.3,328.96 320.8,328.96 321.3,328.97 321.8,328.97 322.3,328.98 322.8,328.98 323.3,328.98 323.8,328.99 324.3,328.99 324.8,328.99 325.3,329 325.8,329 326.3,329 326.8,329 327.3,329 327.8,329 328.3,329 328.8,329 329.3,329 329.8,329 330.3,329 330.8,328.99 331.3,328.99 331.8,328.98 332.3,328.98 332.8,328.97 333.3,328.96 333.8,328.95 334.3,328.94 334.8,328.93 335.3,328.91 335.8,328.9 336.3,328.88 336.8,328.86 337.3,328.84 337.8,328.81 338.3,328.79 338.8,328.76 339.3,328.73 339.8,328.69 340.3,328.66 340.8,328.62 341.3,328.57 341.8,328.53 342.3,328.48 342.8,328.42 343.3,328.37 343.8,328.31 344.3,328.24 344.8,328.17 345.3,328.1 345.8,328.02 346.3,327.94 346.8,327.85 347.3,327.76 347.8,327.66 348.3,327.56 348.8,327.45 349.3,327.34 349.8,327.23 350.3,327.1 350.8,326.98 351.3,326.84 351.8,326.7 352.3,326.56 352.8,326.41 353.3,326.26 353.8,326.1 354.3,325.94 354.8,325.77 355.3,325.59 355.8,325.42 356.3,325.23 356.8,325.05 357.3,324.86 357.8,324.66 358.3,324.46 358.8,324.26 359.3,324.06 359.8,323.86 360.3,323.65 360.8,323.44 361.3,323.23 361.8,323.02 362.3,322.81 362.8,322.6 363.3,322.39 363.8,322.18 364.3,321.98 364.8,321.78 365.3,321.57 365.8,321.38 366.3,321.19 366.8,321 367.3,320.81 367.8,320.64 368.3,320.47 368.8,320.3 369.3,320.15 369.8,320 370.3,319.86 370.8,319.73 371.3,319.6 371.8,319.49 372.3,319.39 372.8,319.29 373.3,319.21 373.8,319.14 374.3,319.08 374.8,319.03 375.3,319 375.8,318.97 376.3,318.96 376.8,318.96 377.3,318.97 377.8,318.99 378.3,319.02 378.8,319.07 379.3,319.13 379.8,319.2 380.3,319.28 380.8,319.37 381.3,319.48 381.8,319.59 382.3,319.71 382.8,319.85 383.3,319.99 383.8,320.14 384.3,320.3 384.8,320.47 385.3,320.65 385.8,320.83 386.3,321.02 386.8,321.22 387.3,321.42 387.8,321.63 388.3,321.84 388.8,322.05 389.3,322.27 389.8,322.49 390.3,322.71 390.8,322.94 391.3,323.16 391.8,323.39 392.3,323.62 392.8,323.84 393.3,324.07 393.8,324.29 394.3,324.51 394.8,324.73 395.3,324.95 395.8,325.17 396.3,325.38 396.8,325.59 397.3,325.79 397.8,325.99 398.3,326.19 398.8,326.38 399.3,326.56 399.8,326.75 400.3,326.92 400.8,327.09 401.3,327.26 401.8,327.42 402.3,327.58 402.8,327.73 403.3,327.87 403.8,328.01 404.3,328.15 404.8,328.27 405.3,328.4 405.8,328.52 406.3,328.63 406.8,328.74 407.3,328.84 407.8,328.94 408.3,329.03 408.8,329.12 409.3,329.21 409.8,329.29 410.3,329.36 410.8,329.43 411.3,329.5 411.8,329.57 412.3,329.63 412.8,329.68 413.3,329.74 413.8,329.79 414.3,329.84 414.8,329.88 415.3,329.93 415.8,329.97 416.3,330 416.8,330.04 417.3,330.07 417.8,330.1 418.3,330.13 418.8,330.16 419.3,330.18 419.8,330.21 420.3,330.23 420.8,330.25 421.3,330.27 421.8,330.29 422.3,330.31 422.8,330.32 423.3,330.34 423.8,330.35 424.3,330.37 424.8,330.38 425.3,330.39 425.8,330.41 426.3,330.42 426.8,330.43 427.3,330.44 427.8,330.45 428.3,330.46 428.8,330.47 429.3,330.47 429.8,330.48 430.3,330.49 430.8,330.5 431.3,330.51 431.8,330.51 432.3,330.52 432.8,330.53 433.3,330.54 433.8,330.54 434.3,330.55 434.8,330.56 435.3,330.56 435.8,330.57 436.3,330.57 436.8,330.58 437.3,330.59 437.8,330.59 438.3,330.6 438.8,330.6 439.3,330.61 439.8,330.62 440.3,330.62 440.8,330.63 441.3,330.63 441.8,330.64 442.3,330.65 442.8,330.65 443.3,330.66 443.8,330.66 444.3,330.67 444.8,330.67 445.3,330.68 445.8,330.69 446.3,330.69 446.8,330.7 447.3,330.7 447.8,330.71 448.3,330.71 448.8,330.72 449.3,330.73 449.8,330.73 450.3,330.74 450.8,330.74 451.3,330.75 451.8,330.75 452.3,330.76 452.8,330.76 453.3,330.77 453.8,330.78 454.3,330.78 454.8,330.79 455.3,330.79 455.8,330.8 456.3,330.8 456.8,330.81 457.3,330.82 457.8,330.82 458.3,330.83 458.8,330.83 459.3,330.84 459.8,330.84 460.3,330.85 460.8,330.86 461.3,330.86 461.8,330.87 462.3,330.87 462.8,330.88 463.3,330.88 463.8,330.89 464.3,330.89 464.8,330.9 465.3,330.91 465.8,330.91 466.3,330.92 466.8,330.92 467.3,330.93 467.8,330.93 468.3,330.94 468.8,330.95 469.3,330.95 469.8,330.96 470.3,330.96 470.8,330.97 471.3,330.97 471.8,330.98 472.3,330.99 472.8,330.99 473.3,331 473.8,331 474.3,331.01 474.8,331.01 475.3,331.02 475.8,331.02 476.3,331.03 476.8,331.04 477.3,331.04 477.8,331.05 478.3,331.05 478.8,331.06 479.3,331.06 479.8,331.07 480.3,331.08 480.8,331.08 481.3,331.09 481.8,331.09 482.3,331.1 482.8,331.1 483.3,331.11 483.8,331.12 484.3,331.12 484.8,331.13 485.3,331.13 485.8,331.14 486.3,331.14 486.8,331.15 487.3,331.15 487.8,331.16 488.3,331.17 488.8,331.17 489.3,331.18 489.8,331.18 490.3,331.19 490.8,331.19 491.3,331.2 491.8,331.21 492.3,331.21 492.8,331.22 493.3,331.22 493.8,331.23 494.3,331.23 494.8,331.24 495.3,331.24 495.8,331.25 496.3,331.26 496.8,331.26 497.3,331.27 497.8,331.27 498.3,331.28 498.8,331.28 499.3,331.29 499.8,331.3 500.3,331.3 500.8,331.31 501.3,331.31 501.8,331.32 502.3,331.32 502.8,331.33 503.3,331.34 503.8,331.34 504.3,331.35 504.8,331.35 505.3,331.36 505.8,331.36 506.3,331.37 506.8,331.37 507.3,331.38 507.8,331.39 508.3,331.39 508.8,331.4 509.3,331.4 509.8,331.41 510.3,331.41 510.8,331.42 511.3,331.43 511.8,331.43 512.3,331.44 512.8,331.44 513.3,331.45 513.8,331.45 514.3,331.46 514.8,331.47 515.3,331.47 515.8,331.48 516.3,331.48 516.8,331.49 517.3,331.49 517.8,331.5 518.3,331.5 518.8,331.51 519.3,331.52 519.8,331.52 520.3,331.53 520.8,331.53 521.3,331.54 521.8,331.54 522.3,331.55 522.8,331.56 523.3,331.56 523.8,331.57 524.3,331.57 524.8,331.58 525.3,331.58 525.8,331.59 526.3,331.59 526.8,331.6 527.3,331.61 527.8,331.61 528.3,331.62 528.8,331.62 529.3,331.63 529.8,331.63 530.3,331.64 530.8,331.65 531.3,331.65 531.8,331.66 532.3,331.66 532.8,331.67 533.3,331.67 533.8,331.68 534.3,331.69 534.8,331.69" fill="none" stroke="#f0272d" stroke-width="1.5" stroke-linejoin="round" />
<polyline points="297.3,329.01 297.8,329.01 298.3,329.02 298.8,329.03 299.3,329.03 299.8,329.04 300.3,329.04 300.8,329.05 301.3,329.05 301.8,329.06 302.3,329.07 302.8,329.07 303.3,329.08 303.8,329.08 304.3,329.09 304.8,329.09 305.3,329.1 305.8,329.11 306.3,329.11 306.8,329.12 307.3,329.12 307.8,329.13 308.3,329.13 308.8,329.14 309.3,329.14 309.8,329.15 310.3,329.16 310.8,329.16 311.3,329.17 311.8,329.17 312.3,329.18 312.8,329.18 313.3,329.19 313.8,329.2 314.3,329.2 314.8,329.21 315.3,329.21 315.8,329.22 316.3,329.22 316.8,329.23 317.3,329.23 317.8,329.24 318.3,329.25 318.8,329.25 319.3,329.26 319.8,329.26 320.3,329.27 320.8,329.27 321.3,329.28 321.8,329.29 322.3,329.29 322.8,329.3 323.3,329.3 323.8,329.31 324.3,329.31 324.8,329.32 325.3,329.33 325.8,329.33 326.3,329.34 326.8,329.34 327.3,329.35 327.8,329.35 328.3,329.36 328.8,329.36 329.3,329.37 329.8,329.38 330.3,329.38 330.8,329.39 331.3,329.39 331.8,329.4 332.3,329.4 332.8,329.41 333.3,329.42 333.8,329.42 334.3,329.43 334.8,329.43 335.3,329.44 335.8,329.44 336.3,329.45 336.8,329.46 337.3,329.46 337.8,329.47 338.3,329.47 338.8,329.48 339.3,329.48 339.8,329.49 340.3,329.49 340.8,329.5 341.3,329.51 341.8,329.51 342.3,329.52 342.8,329.52 343.3,329.53 343.8,329.53 344.3,329.54 344.8,329.55 345.3,329.55 345.8,329.56 346.3,329.56 346.8,329.57 347.3,329.57 347.8,329.58 348.3,329.58 348.8,329.59 349.3,329.6 349.8,329.6 350.3,329.61 350.8,329.61 351.3,329.62 351.8,329.62 352.3,329.63 352.8,329.64 353.3,329.64 353.8,329.65 354.3,329.65 354.8,329.66 355.3,329.66 355.8,329.67 356.3,329.67 356.8,329.68 357.3,329.69 357.8,329.69 358.3,329.7 358.8,329.7 359.3,329.71 359.8,329.71 360.3,329.72 360.8,329.73 361.3,329.73 361.8,329.74 362.3,329.74 362.8,329.75 363.3,329.75 363.8,329.76 364.3,329.76 364.8,329.77 365.3,329.77 365.8,329.78 366.3,329.78 366.8,329.79 367.3,329.8 367.8,329.8 368.3,329.81 368.8,329.81 369.3,329.82 369.8,329.82 370.3,329.82 370.8,329.83 371.3,329.83 371.8,329.84 372.3,329.84 372.8,329.85 373.3,329.85 373.8,329.86 374.3,329.86 374.8,329.86 375.3,329.87 375.8,329.87 376.3,329.87 376.8,329.87 377.3,329.88 377.8,329.88 378.3,329.88 378.8,329.88 379.3,329.88 379.8,329.88 380.3,329.88 380.8,329.88 381.3,329.88 381.8,329.88 382.3,329.88 382.8,329.88 383.3,329.87 383.8,329.87 384.3,329.86 384.8,329.86 385.3,329.85 385.8,329.84 386.3,329.84 386.8,329.83 387.3,329.82 387.8,329.8 388.3,329.79 388.8,329.77 389.3,329.76 389.8,329.74 390.3,329.72 390.8,329.7 391.3,329.68 391.8,329.65 392.3,329.62 392.8,329.59 393.3,329.56 393.8,329.53 394.3,329.49 394.8,329.45 395.3,329.41 395.8,329.36 396.3,329.31 396.8,329.26 397.3,329.21 397.8,329.15 398.3,329.09 398.8,329.02 399.3,328.95 399.8,328.87 400.3,328.8 400.8,328.71 401.3,328.63 401.8,328.53 402.3,328.44 402.8,328.33 403.3,328.23 403.8,328.11 404.3,328 404.8,327.87 405.3,327.74 405.8,327.61 406.3,327.47 406.8,327.32 407.3,327.16 407.8,327 408.3,326.84 408.8,326.67 409.3,326.49 409.8,326.3 410.3,326.11 410.8,325.91 411.3,325.7 411.8,325.49 412.3,325.27 412.8,325.05 413.3,324.81 413.8,324.58 414.3,324.33 414.8,324.08 415.3,323.82 415.8,323.56 416.3,323.29 416.8,323.01 417.3,322.73 417.8,322.44 418.3,322.15 418.8,321.85 419.3,321.55 419.8,321.24 420.3,320.93 420.8,320.62 421.3,320.3 421.8,319.98 422.3,319.66 422.8,319.33 423.3,319 423.8,318.68 424.3,318.35 424.8,318.01 425.3,317.68 425.8,317.35 426.3,317.03 426.8,316.7 427.3,316.37 427.8,316.05 428.3,315.73 428.8,315.42 429.3,315.1 429.8,314.8 430.3,314.5 430.8,314.2 431.3,313.91 431.8,313.63 432.3,313.36 432.8,313.09 433.3,312.83 433.8,312.58 434.3,312.34 434.8,312.12 435.3,311.9 435.8,311.69 436.3,311.49 436.8,311.31 437.3,311.14 437.8,310.98 438.3,310.84 438.8,310.7 439.3,310.59 439.8,310.48 440.3,310.39 440.8,310.32 441.3,310.25 441.8,310.21 442.3,310.18 442.8,310.16 443.3,310.16 443.8,310.17 444.3,310.2 444.8,310.24 445.3,310.3 445.8,310.37 446.3,310.46 446.8,310.56 447.3,310.68 447.8,310.81 448.3,310.95 448.8,311.11 449.3,311.28 449.8,311.46 450.3,311.65 450.8,311.86 451.3,312.08 451.8,312.31 452.3,312.55 452.8,312.8 453.3,313.06 453.8,313.33 454.3,313.6 454.8,313.89 455.3,314.18 455.8,314.48 456.3,314.79 456.8,315.1 457.3,315.42 457.8,315.74 458.3,316.07 458.8,316.4 459.3,316.73 459.8,317.07 460.3,317.41 460.8,317.75 461.3,318.09 461.8,318.43 462.3,318.77 462.8,319.12 463.3,319.46 463.8,319.79 464.3,320.13 464.8,320.47 465.3,320.8 465.8,321.13 466.3,321.45 466.8,321.77 467.3,322.09 467.8,322.41 468.3,322.71 468.8,323.02 469.3,323.32 469.8,323.61 470.3,323.9 470.8,324.18 471.3,324.45 471.8,324.72 472.3,324.99 472.8,325.24 473.3,325.49 473.8,325.74 474.3,325.97 474.8,326.2 475.3,326.43 475.8,326.64 476.3,326.85 476.8,327.06 477.3,327.25 477.8,327.45 478.3,327.63 478.8,327.81 479.3,327.98 479.8,328.14 480.3,328.3 480.8,328.45 481.3,328.6 481.8,328.74 482.3,328.88 482.8,329.01 483.3,329.13 483.8,329.25 484.3,329.36 484.8,329.47 485.3,329.57 485.8,329.67 486.3,329.77 486.8,329.86 487.3,329.94 487.8,330.02 488.3,330.1 488.8,330.18 489.3,330.25 489.8,330.31 490.3,330.38 490.8,330.44 491.3,330.49 491.8,330.55 492.3,330.6 492.8,330.65 493.3,330.69 493.8,330.73 494.3,330.77 494.8,330.81 495.3,330.85 495.8,330.88 496.3,330.92 496.8,330.95 497.3,330.98 497.8,331.01 498.3,331.03 498.8,331.06 499.3,331.08 499.8,331.1 500.3,331.12 500.8,331.14 501.3,331.16 501.8,331.18 502.3,331.2 502.8,331.21 503.3,331.23 503.8,331.24 504.3,331.26 504.8,331.27 505.3,331.28 505.8,331.3 506.3,331.31 506.8,331.32 507.3,331.33 507.8,331.34 508.3,331.35 508.8,331.36 509.3,331.37 509.8,331.38 510.3,331.39 510.8,331.39 511.3,331.4 511.8,331.41 512.3,331.42 512.8,331.42 513.3,331.43 513.8,331.44 514.3,331.45 514.8,331.45 515.3,331.46 515.8,331.47 516.3,331.47 516.8,331.48 517.3,331.49 517.8,331.49 518.3,331.5 518.8,331.51 519.3,331.51 519.8,331.52 520.3,331.52 520.8,331.53 521.3,331.54 521.8,331.54 522.3,331.55 522.8,331.55 523.3,331.56 523.8,331.57 524.3,331.57 524.8,331.58 525.3,331.58 525.8,331.59 526.3,331.59 526.8,331.6 527.3,331.61 527.8,331.61 528.3,331.62 528.8,331.62 529.3,331.63 529.8,331.63 530.3,331.64 530.8,331.65 531.3,331.65 531.8,331.66 532.3,331.66 532.8,331.67 533.3,331.67 533.8,331.68 534.3,331.69 534.8,331.69" fill="none" stroke="#1f6fe6" stroke-width="1.5" stroke-linejoin="round" />
<path d="M295.6,324.12a2.7,2.7 0 1,0 5.4,0a2.7,2.7 0 1,0 -5.4,0M299.2,326.58a2.7,2.7 0 1,0 5.4,0a2.7,2.7 0 1,0 -5.4,0M302.8,329.99a2.7,2.7 0 1,0 5.4,0a2.7,2.7 0 1,0 -5.4,0M306.4,326.19a2.7,2.7 0 1,0 5.4,0a2.7,2.7 0 1,0 -5.4,0M310,324.5a2.7,2.7 0 1,0 5.4,0a2.7,2.7 0 1,0 -5.4,0M313.6,322.74a2.7,2.7 0 1,0 5.4,0a2.7,2.7 0 1,0 -5.4,0M317.2,330.9a2.7,2.7 0 1,0 5.4,0a2.7,2.7 0 1,0 -5.4,0M320.8,327.73a2.7,2.7 0 1,0 5.4,0a2.7,2.7 0 1,0 -5.4,0M324.4,326.11a2.7,2.7 0 1,0 5.4,0a2.7,2.7 0 1,0 -5.4,0M328,324.93a2.7,2.7 0 1,0 5.4,0a2.7,2.7 0 1,0 -5.4,0M331.6,319.57a2.7,2.7 0 1,0 5.4,0a2.7,2.7 0 1,0 -5.4,0M335.2,328.61a2.7,2.7 0 1,0 5.4,0a2.7,2.7 0 1,0 -5.4,0M338.8,324.71a2.7,2.7 0 1,0 5.4,0a2.7,2.7 0 1,0 -5.4,0M342.4,327.44a2.7,2.7 0 1,0 5.4,0a2.7,2.7 0 1,0 -5.4,0M346,332.27a2.7,2.7 0 1,0 5.4,0a2.7,2.7 0 1,0 -5.4,0M349.6,324.78a2.7,2.7 0 1,0 5.4,0a2.7,2.7 0 1,0 -5.4,0M353.2,324.4a2.7,2.7 0 1,0 5.4,0a2.7,2.7 0 1,0 -5.4,0M356.8,326.92a2.7,2.7 0 1,0 5.4,0a2.7,2.7 0 1,0 -5.4,0M360.4,321.29a2.7,2.7 0 1,0 5.4,0a2.7,2.7 0 1,0 -5.4,0M364,321.06a2.7,2.7 0 1,0 5.4,0a2.7,2.7 0 1,0 -5.4,0M367.6,315.27a2.7,2.7 0 1,0 5.4,0a2.7,2.7 0 1,0 -5.4,0M371.2,315.43a2.7,2.7 0 1,0 5.4,0a2.7,2.7 0 1,0 -5.4,0M374.8,312.7a2.7,2.7 0 1,0 5.4,0a2.7,2.7 0 1,0 -5.4,0M378.4,322.48a2.7,2.7 0 1,0 5.4,0a2.7,2.7 0 1,0 -5.4,0M382,324.43a2.7,2.7 0 1,0 5.4,0a2.7,2.7 0 1,0 -5.4,0M385.6,319.59a2.7,2.7 0 1,0 5.4,0a2.7,2.7 0 1,0 -5.4,0M389.2,322.25a2.7,2.7 0 1,0 5.4,0a2.7,2.7 0 1,0 -5.4,0M392.8,322.68a2.7,2.7 0 1,0 5.4,0a2.7,2.7 0 1,0 -5.4,0M396.4,334.76a2.7,2.7 0 1,0 5.4,0a2.7,2.7 0 1,0 -5.4,0M400,329.32a2.7,2.7 0 1,0 5.4,0a2.7,2.7 0 1,0 -5.4,0M403.6,325.32a2.7,2.7 0 1,0 5.4,0a2.7,2.7 0 1,0 -5.4,0M407.2,327.72a2.7,2.7 0 1,0 5.4,0a2.7,2.7 0 1,0 -5.4,0M410.8,328.93a2.7,2.7 0 1,0 5.4,0a2.7,2.7 0 1,0 -5.4,0M414.4,318.91a2.7,2.7 0 1,0 5.4,0a2.7,2.7 0 1,0 -5.4,0M418,322.79a2.7,2.7 0 1,0 5.4,0a2.7,2.7 0 1,0 -5.4,0M421.6,320.49a2.7,2.7 0 1,0 5.4,0a2.7,2.7 0 1,0 -5.4,0M425.2,316.08a2.7,2.7 0 1,0 5.4,0a2.7,2.7 0 1,0 -5.4,0M428.8,316.65a2.7,2.7 0 1,0 5.4,0a2.7,2.7 0 1,0 -5.4,0M432.4,316.36a2.7,2.7 0 1,0 5.4,0a2.7,2.7 0 1,0 -5.4,0M436,310.9a2.7,2.7 0 1,0 5.4,0a2.7,2.7 0 1,0 -5.4,0M439.6,308.97a2.7,2.7 0 1,0 5.4,0a2.7,2.7 0 1,0 -5.4,0M443.2,313.78a2.7,2.7 0 1,0 5.4,0a2.7,2.7 0 1,0 -5.4,0M446.8,312.03a2.7,2.7 0 1,0 5.4,0a2.7,2.7 0 1,0 -5.4,0M450.4,314.55a2.7,2.7 0 1,0 5.4,0a2.7,2.7 0 1,0 -5.4,0M454,322.19a2.7,2.7 0 1,0 5.4,0a2.7,2.7 0 1,0 -5.4,0M457.6,318.91a2.7,2.7 0 1,0 5.4,0a2.7,2.7 0 1,0 -5.4,0M461.2,319.79a2.7,2.7 0 1,0 5.4,0a2.7,2.7 0 1,0 -5.4,0M464.8,317.61a2.7,2.7 0 1,0 5.4,0a2.7,2.7 0 1,0 -5.4,0M468.4,325.8a2.7,2.7 0 1,0 5.4,0a2.7,2.7 0 1,0 -5.4,0M472,327.59a2.7,2.7 0 1,0 5.4,0a2.7,2.7 0 1,0 -5.4,0M475.6,329.92a2.7,2.7 0 1,0 5.4,0a2.7,2.7 0 1,0 -5.4,0M479.2,330.91a2.7,2.7 0 1,0 5.4,0a2.7,2.7 0 1,0 -5.4,0M482.8,332.32a2.7,2.7 0 1,0 5.4,0a2.7,2.7 0 1,0 -5.4,0M486.4,331.24a2.7,2.7 0 1,0 5.4,0a2.7,2.7 0 1,0 -5.4,0M490,331.32a2.7,2.7 0 1,0 5.4,0a2.7,2.7 0 1,0 -5.4,0M493.6,333.17a2.7,2.7 0 1,0 5.4,0a2.7,2.7 0 1,0 -5.4,0M497.2,328.84a2.7,2.7 0 1,0 5.4,0a2.7,2.7 0 1,0 -5.4,0M500.8,327.96a2.7,2.7 0 1,0 5.4,0a2.7,2.7 0 1,0 -5.4,0M504.4,327.98a2.7,2.7 0 1,0 5.4,0a2.7,2.7 0 1,0 -5.4,0M508,331.95a2.7,2.7 0 1,0 5.4,0a2.7,2.7 0 1,0 -5.4,0M511.6,325.32a2.7,2.7 0 1,0 5.4,0a2.7,2.7 0 1,0 -5.4,0M515.2,329.96a2.7,2.7 0 1,0 5.4,0a2.7,2.7 0 1,0 -5.4,0M518.8,331.05a2.7,2.7 0 1,0 5.4,0a2.7,2.7 0 1,0 -5.4,0M522.4,332.86a2.7,2.7 0 1,0 5.4,0a2.7,2.7 0 1,0 -5.4,0M526,328.13a2.7,2.7 0 1,0 5.4,0a2.7,2.7 0 1,0 -5.4,0M529.6,332.08a2.7,2.7 0 1,0 5.4,0a2.7,2.7 0 1,0 -5.4,0" fill="none" stroke="#555" stroke-width="0.8"/>
<line x1="323.07" y1="338.9" x2="323.07" y2="335.9" stroke="#000" stroke-width="1.1"/>
<line x1="349.63" y1="338.9" x2="349.63" y2="335.9" stroke="#000" stroke-width="1.1"/>
<line x1="376.2" y1="338.9" x2="376.2" y2="335.9" stroke="#000" stroke-width="1.1"/>
<line x1="402.77" y1="338.9" x2="402.77" y2="335.9" stroke="#000" stroke-width="1.1"/>
<line x1="429.33" y1="338.9" x2="429.33" y2="335.9" stroke="#000" stroke-width="1.1"/>
<line x1="455.9" y1="338.9" x2="455.9" y2="335.9" stroke="#000" stroke-width="1.1"/>
<line x1="482.47" y1="338.9" x2="482.47" y2="335.9" stroke="#000" stroke-width="1.1"/>
<line x1="509.03" y1="338.9" x2="509.03" y2="335.9" stroke="#000" stroke-width="1.1"/>
<line x1="296.5" y1="338.9" x2="535.6" y2="338.9" stroke="#000" stroke-width="1.3"/>
<polyline points="297.3,375.09 297.8,375.09 298.3,375.09 298.8,375.09 299.3,375.08 299.8,375.08 300.3,375.08 300.8,375.08 301.3,375.08 301.8,375.07 302.3,375.07 302.8,375.07 303.3,375.07 303.8,375.06 304.3,375.06 304.8,375.06 305.3,375.06 305.8,375.05 306.3,375.05 306.8,375.05 307.3,375.05 307.8,375.04 308.3,375.04 308.8,375.04 309.3,375.03 309.8,375.03 310.3,375.03 310.8,375.02 311.3,375.02 311.8,375.02 312.3,375.01 312.8,375.01 313.3,375.01 313.8,375 314.3,375 314.8,374.99 315.3,374.99 315.8,374.98 316.3,374.98 316.8,374.97 317.3,374.97 317.8,374.96 318.3,374.96 318.8,374.95 319.3,374.94 319.8,374.94 320.3,374.93 320.8,374.92 321.3,374.91 321.8,374.9 322.3,374.89 322.8,374.88 323.3,374.87 323.8,374.86 324.3,374.85 324.8,374.84 325.3,374.82 325.8,374.81 326.3,374.79 326.8,374.77 327.3,374.75 327.8,374.73 328.3,374.71 328.8,374.69 329.3,374.66 329.8,374.64 330.3,374.61 330.8,374.58 331.3,374.55 331.8,374.51 332.3,374.48 332.8,374.44 333.3,374.39 333.8,374.35 334.3,374.3 334.8,374.25 335.3,374.19 335.8,374.14 336.3,374.07 336.8,374.01 337.3,373.94 337.8,373.86 338.3,373.78 338.8,373.7 339.3,373.61 339.8,373.52 340.3,373.42 340.8,373.31 341.3,373.2 341.8,373.08 342.3,372.96 342.8,372.83 343.3,372.69 343.8,372.55 344.3,372.4 344.8,372.24 345.3,372.08 345.8,371.91 346.3,371.73 346.8,371.54 347.3,371.34 347.8,371.14 348.3,370.93 348.8,370.71 349.3,370.48 349.8,370.25 350.3,370 350.8,369.75 351.3,369.49 351.8,369.22 352.3,368.95 352.8,368.66 353.3,368.37 353.8,368.07 354.3,367.77 354.8,367.45 355.3,367.14 355.8,366.81 356.3,366.48 356.8,366.14 357.3,365.8 357.8,365.45 358.3,365.1 358.8,364.75 359.3,364.39 359.8,364.03 360.3,363.67 360.8,363.3 361.3,362.94 361.8,362.57 362.3,362.21 362.8,361.85 363.3,361.49 363.8,361.13 364.3,360.78 364.8,360.43 365.3,360.09 365.8,359.75 366.3,359.42 366.8,359.1 367.3,358.79 367.8,358.49 368.3,358.2 368.8,357.92 369.3,357.65 369.8,357.39 370.3,357.15 370.8,356.92 371.3,356.71 371.8,356.52 372.3,356.34 372.8,356.18 373.3,356.03 373.8,355.91 374.3,355.8 374.8,355.71 375.3,355.65 375.8,355.6 376.3,355.57 376.8,355.56 377.3,355.58 377.8,355.61 378.3,355.66 378.8,355.74 379.3,355.83 379.8,355.94 380.3,356.07 380.8,356.22 381.3,356.39 381.8,356.57 382.3,356.77 382.8,356.99 383.3,357.22 383.8,357.47 384.3,357.73 384.8,358.01 385.3,358.29 385.8,358.59 386.3,358.9 386.8,359.22 387.3,359.55 387.8,359.89 388.3,360.23 388.8,360.58 389.3,360.93 389.8,361.29 390.3,361.66 390.8,362.03 391.3,362.4 391.8,362.77 392.3,363.14 392.8,363.51 393.3,363.88 393.8,364.25 394.3,364.62 394.8,364.99 395.3,365.35 395.8,365.71 396.3,366.06 396.8,366.41 397.3,366.75 397.8,367.09 398.3,367.43 398.8,367.75 399.3,368.07 399.8,368.38 400.3,368.69 400.8,368.99 401.3,369.28 401.8,369.56 402.3,369.83 402.8,370.1 403.3,370.36 403.8,370.6 404.3,370.85 404.8,371.08 405.3,371.3 405.8,371.52 406.3,371.73 406.8,371.93 407.3,372.12 407.8,372.3 408.3,372.48 408.8,372.64 409.3,372.8 409.8,372.96 410.3,373.1 410.8,373.24 411.3,373.38 411.8,373.5 412.3,373.62 412.8,373.73 413.3,373.84 413.8,373.94 414.3,374.04 414.8,374.13 415.3,374.21 415.8,374.29 416.3,374.37 416.8,374.44 417.3,374.51 417.8,374.57 418.3,374.63 418.8,374.68 419.3,374.73 419.8,374.78 420.3,374.83 420.8,374.87 421.3,374.91 421.8,374.95 422.3,374.98 422.8,375.01 423.3,375.04 423.8,375.07 424.3,375.09 424.8,375.12 425.3,375.14 425.8,375.16 426.3,375.18 426.8,375.2 427.3,375.21 427.8,375.23 428.3,375.24 428.8,375.26 429.3,375.27 429.8,375.28 430.3,375.29 430.8,375.3 431.3,375.31 431.8,375.32 432.3,375.32 432.8,375.33 433.3,375.34 433.8,375.34 434.3,375.35 434.8,375.35 435.3,375.36 435.8,375.36 436.3,375.37 436.8,375.37 437.3,375.37 437.8,375.38 438.3,375.38 438.8,375.38 439.3,375.39 439.8,375.39 440.3,375.39 440.8,375.39 441.3,375.4 441.8,375.4 442.3,375.4 442.8,375.4 443.3,375.4 443.8,375.41 444.3,375.41 444.8,375.41 445.3,375.41 445.8,375.41 446.3,375.41 446.8,375.41 447.3,375.41 447.8,375.42 448.3,375.42 448.8,375.42 449.3,375.42 449.8,375.42 450.3,375.42 450.8,375.42 451.3,375.42 451.8,375.42 452.3,375.42 452.8,375.42 453.3,375.42 453.8,375.42 454.3,375.43 454.8,375.43 455.3,375.43 455.8,375.43 456.3,375.43 456.8,375.43 457.3,375.43 457.8,375.43 458.3,375.43 458.8,375.43 459.3,375.43 459.8,375.43 460.3,375.43 460.8,375.43 461.3,375.43 461.8,375.43 462.3,375.43 462.8,375.43 463.3,375.43 463.8,375.43 464.3,375.43 464.8,375.43 465.3,375.43 465.8,375.43 466.3,375.43 466.8,375.43 467.3,375.43 467.8,375.43 468.3,375.43 468.8,375.43 469.3,375.43 469.8,375.43 470.3,375.43 470.8,375.43 471.3,375.43 471.8,375.43 472.3,375.43 472.8,375.43 473.3,375.43 473.8,375.43 474.3,375.43 474.8,375.43 475.3,375.43 475.8,375.43 476.3,375.43 476.8,375.43 477.3,375.43 477.8,375.43 478.3,375.43 478.8,375.43 479.3,375.43 479.8,375.43 480.3,375.43 480.8,375.43 481.3,375.43 481.8,375.43 482.3,375.43 482.8,375.43 483.3,375.43 483.8,375.43 484.3,375.43 484.8,375.43 485.3,375.43 485.8,375.43 486.3,375.43 486.8,375.43 487.3,375.42 487.8,375.42 488.3,375.42 488.8,375.42 489.3,375.42 489.8,375.42 490.3,375.42 490.8,375.42 491.3,375.42 491.8,375.42 492.3,375.42 492.8,375.42 493.3,375.42 493.8,375.42 494.3,375.42 494.8,375.42 495.3,375.42 495.8,375.42 496.3,375.42 496.8,375.42 497.3,375.42 497.8,375.42 498.3,375.42 498.8,375.42 499.3,375.41 499.8,375.41 500.3,375.41 500.8,375.41 501.3,375.41 501.8,375.41 502.3,375.41 502.8,375.41 503.3,375.41 503.8,375.41 504.3,375.41 504.8,375.41 505.3,375.41 505.8,375.41 506.3,375.41 506.8,375.41 507.3,375.41 507.8,375.41 508.3,375.41 508.8,375.41 509.3,375.4 509.8,375.4 510.3,375.4 510.8,375.4 511.3,375.4 511.8,375.4 512.3,375.4 512.8,375.4 513.3,375.4 513.8,375.4 514.3,375.4 514.8,375.4 515.3,375.4 515.8,375.4 516.3,375.4 516.8,375.4 517.3,375.4 517.8,375.4 518.3,375.39 518.8,375.39 519.3,375.39 519.8,375.39 520.3,375.39 520.8,375.39 521.3,375.39 521.8,375.39 522.3,375.39 522.8,375.39 523.3,375.39 523.8,375.39 524.3,375.39 524.8,375.39 525.3,375.39 525.8,375.39 526.3,375.38 526.8,375.38 527.3,375.38 527.8,375.38 528.3,375.38 528.8,375.38 529.3,375.38 529.8,375.38 530.3,375.38 530.8,375.38 531.3,375.38 531.8,375.38 532.3,375.38 532.8,375.38 533.3,375.38 533.8,375.37 534.3,375.37 534.8,375.37" fill="none" stroke="#f0272d" stroke-width="1.5" stroke-linejoin="round" />
<polyline points="297.3,375.75 297.8,375.75 298.3,375.75 298.8,375.75 299.3,375.75 299.8,375.74 300.3,375.74 300.8,375.74 301.3,375.74 301.8,375.74 302.3,375.74 302.8,375.74 303.3,375.74 303.8,375.73 304.3,375.73 304.8,375.73 305.3,375.73 305.8,375.73 306.3,375.73 306.8,375.73 307.3,375.73 307.8,375.72 308.3,375.72 308.8,375.72 309.3,375.72 309.8,375.72 310.3,375.72 310.8,375.72 311.3,375.72 311.8,375.71 312.3,375.71 312.8,375.71 313.3,375.71 313.8,375.71 314.3,375.71 314.8,375.71 315.3,375.71 315.8,375.7 316.3,375.7 316.8,375.7 317.3,375.7 317.8,375.7 318.3,375.7 318.8,375.7 319.3,375.69 319.8,375.69 320.3,375.69 320.8,375.69 321.3,375.69 321.8,375.69 322.3,375.69 322.8,375.68 323.3,375.68 323.8,375.68 324.3,375.68 324.8,375.68 325.3,375.68 325.8,375.68 326.3,375.67 326.8,375.67 327.3,375.67 327.8,375.67 328.3,375.67 328.8,375.67 329.3,375.67 329.8,375.66 330.3,375.66 330.8,375.66 331.3,375.66 331.8,375.66 332.3,375.66 332.8,375.65 333.3,375.65 333.8,375.65 334.3,375.65 334.8,375.65 335.3,375.65 335.8,375.64 336.3,375.64 336.8,375.64 337.3,375.64 337.8,375.64 338.3,375.64 338.8,375.63 339.3,375.63 339.8,375.63 340.3,375.63 340.8,375.63 341.3,375.62 341.8,375.62 342.3,375.62 342.8,375.62 343.3,375.62 343.8,375.62 344.3,375.61 344.8,375.61 345.3,375.61 345.8,375.61 346.3,375.61 346.8,375.6 347.3,375.6 347.8,375.6 348.3,375.6 348.8,375.6 349.3,375.59 349.8,375.59 350.3,375.59 350.8,375.59 351.3,375.58 351.8,375.58 352.3,375.58 352.8,375.58 353.3,375.58 353.8,375.57 354.3,375.57 354.8,375.57 355.3,375.57 355.8,375.56 356.3,375.56 356.8,375.56 357.3,375.56 357.8,375.55 358.3,375.55 358.8,375.55 359.3,375.55 359.8,375.54 360.3,375.54 360.8,375.54 361.3,375.54 361.8,375.53 362.3,375.53 362.8,375.53 363.3,375.52 363.8,375.52 364.3,375.52 364.8,375.52 365.3,375.51 365.8,375.51 366.3,375.51 366.8,375.5 367.3,375.5 367.8,375.5 368.3,375.49 368.8,375.49 369.3,375.49 369.8,375.48 370.3,375.48 370.8,375.47 371.3,375.47 371.8,375.47 372.3,375.46 372.8,375.46 373.3,375.45 373.8,375.45 374.3,375.44 374.8,375.44 375.3,375.43 375.8,375.43 376.3,375.42 376.8,375.41 377.3,375.41 377.8,375.4 378.3,375.39 378.8,375.39 379.3,375.38 379.8,375.37 380.3,375.36 380.8,375.35 381.3,375.34 381.8,375.33 382.3,375.32 382.8,375.31 383.3,375.3 383.8,375.29 384.3,375.27 384.8,375.26 385.3,375.24 385.8,375.23 386.3,375.21 386.8,375.19 387.3,375.17 387.8,375.14 388.3,375.12 388.8,375.09 389.3,375.07 389.8,375.04 390.3,375.01 390.8,374.97 391.3,374.93 391.8,374.9 392.3,374.85 392.8,374.81 393.3,374.76 393.8,374.71 394.3,374.65 394.8,374.6 395.3,374.53 395.8,374.46 396.3,374.39 396.8,374.32 397.3,374.24 397.8,374.15 398.3,374.06 398.8,373.96 399.3,373.85 399.8,373.74 400.3,373.63 400.8,373.5 401.3,373.37 401.8,373.23 402.3,373.08 402.8,372.93 403.3,372.76 403.8,372.59 404.3,372.41 404.8,372.22 405.3,372.02 405.8,371.81 406.3,371.59 406.8,371.36 407.3,371.12 407.8,370.87 408.3,370.6 408.8,370.33 409.3,370.04 409.8,369.75 410.3,369.44 410.8,369.12 411.3,368.79 411.8,368.45 412.3,368.09 412.8,367.73 413.3,367.35 413.8,366.97 414.3,366.57 414.8,366.16 415.3,365.74 415.8,365.31 416.3,364.87 416.8,364.42 417.3,363.96 417.8,363.5 418.3,363.02 418.8,362.54 419.3,362.05 419.8,361.56 420.3,361.06 420.8,360.55 421.3,360.05 421.8,359.54 422.3,359.02 422.8,358.51 423.3,357.99 423.8,357.48 424.3,356.97 424.8,356.46 425.3,355.96 425.8,355.46 426.3,354.97 426.8,354.48 427.3,354.01 427.8,353.54 428.3,353.08 428.8,352.64 429.3,352.21 429.8,351.79 430.3,351.39 430.8,351.01 431.3,350.65 431.8,350.3 432.3,349.98 432.8,349.67 433.3,349.39 433.8,349.13 434.3,348.9 434.8,348.69 435.3,348.5 435.8,348.34 436.3,348.21 436.8,348.11 437.3,348.03 437.8,347.98 438.3,347.96 438.8,347.97 439.3,348.01 439.8,348.07 440.3,348.16 440.8,348.28 441.3,348.43 441.8,348.6 442.3,348.8 442.8,349.02 443.3,349.27 443.8,349.54 444.3,349.83 444.8,350.15 445.3,350.48 445.8,350.84 446.3,351.21 446.8,351.6 447.3,352.01 447.8,352.43 448.3,352.87 448.8,353.32 449.3,353.78 449.8,354.25 450.3,354.73 450.8,355.22 451.3,355.71 451.8,356.22 452.3,356.72 452.8,357.23 453.3,357.74 453.8,358.25 454.3,358.76 454.8,359.28 455.3,359.79 455.8,360.29 456.3,360.8 456.8,361.3 457.3,361.79 457.8,362.28 458.3,362.76 458.8,363.24 459.3,363.71 459.8,364.17 460.3,364.62 460.8,365.06 461.3,365.49 461.8,365.91 462.3,366.32 462.8,366.73 463.3,367.12 463.8,367.5 464.3,367.86 464.8,368.22 465.3,368.56 465.8,368.9 466.3,369.22 466.8,369.53 467.3,369.83 467.8,370.12 468.3,370.39 468.8,370.66 469.3,370.91 469.8,371.16 470.3,371.39 470.8,371.61 471.3,371.83 471.8,372.03 472.3,372.22 472.8,372.41 473.3,372.58 473.8,372.75 474.3,372.9 474.8,373.05 475.3,373.19 475.8,373.32 476.3,373.45 476.8,373.57 477.3,373.68 477.8,373.79 478.3,373.88 478.8,373.98 479.3,374.06 479.8,374.15 480.3,374.22 480.8,374.29 481.3,374.36 481.8,374.43 482.3,374.48 482.8,374.54 483.3,374.59 483.8,374.64 484.3,374.68 484.8,374.72 485.3,374.76 485.8,374.8 486.3,374.83 486.8,374.86 487.3,374.89 487.8,374.92 488.3,374.94 488.8,374.97 489.3,374.99 489.8,375.01 490.3,375.03 490.8,375.04 491.3,375.06 491.8,375.07 492.3,375.09 492.8,375.1 493.3,375.11 493.8,375.12 494.3,375.13 494.8,375.14 495.3,375.15 495.8,375.16 496.3,375.17 496.8,375.17 497.3,375.18 497.8,375.19 498.3,375.19 498.8,375.2 499.3,375.2 499.8,375.21 500.3,375.21 500.8,375.22 501.3,375.22 501.8,375.22 502.3,375.23 502.8,375.23 503.3,375.23 503.8,375.24 504.3,375.24 504.8,375.24 505.3,375.24 505.8,375.25 506.3,375.25 506.8,375.25 507.3,375.25 507.8,375.26 508.3,375.26 508.8,375.26 509.3,375.26 509.8,375.26 510.3,375.26 510.8,375.27 511.3,375.27 511.8,375.27 512.3,375.27 512.8,375.27 513.3,375.27 513.8,375.27 514.3,375.28 514.8,375.28 515.3,375.28 515.8,375.28 516.3,375.28 516.8,375.28 517.3,375.28 517.8,375.28 518.3,375.28 518.8,375.28 519.3,375.29 519.8,375.29 520.3,375.29 520.8,375.29 521.3,375.29 521.8,375.29 522.3,375.29 522.8,375.29 523.3,375.29 523.8,375.29 524.3,375.29 524.8,375.29 525.3,375.29 525.8,375.29 526.3,375.29 526.8,375.29 527.3,375.3 527.8,375.3 528.3,375.3 528.8,375.3 529.3,375.3 529.8,375.3 530.3,375.3 530.8,375.3 531.3,375.3 531.8,375.3 532.3,375.3 532.8,375.3 533.3,375.3 533.8,375.3 534.3,375.3 534.8,375.3" fill="none" stroke="#1f6fe6" stroke-width="1.5" stroke-linejoin="round" />
<path d="M295.9,372.69a2.4,2.4 0 1,0 4.8,0a2.4,2.4 0 1,0 -4.8,0M298.9,374.59a2.4,2.4 0 1,0 4.8,0a2.4,2.4 0 1,0 -4.8,0M301.9,377.14a2.4,2.4 0 1,0 4.8,0a2.4,2.4 0 1,0 -4.8,0M304.9,371.78a2.4,2.4 0 1,0 4.8,0a2.4,2.4 0 1,0 -4.8,0M307.9,376.23a2.4,2.4 0 1,0 4.8,0a2.4,2.4 0 1,0 -4.8,0M310.9,373.79a2.4,2.4 0 1,0 4.8,0a2.4,2.4 0 1,0 -4.8,0M313.9,376.71a2.4,2.4 0 1,0 4.8,0a2.4,2.4 0 1,0 -4.8,0M316.9,374.28a2.4,2.4 0 1,0 4.8,0a2.4,2.4 0 1,0 -4.8,0M319.9,374.55a2.4,2.4 0 1,0 4.8,0a2.4,2.4 0 1,0 -4.8,0M322.9,375.5a2.4,2.4 0 1,0 4.8,0a2.4,2.4 0 1,0 -4.8,0M325.9,373.59a2.4,2.4 0 1,0 4.8,0a2.4,2.4 0 1,0 -4.8,0M328.9,374.39a2.4,2.4 0 1,0 4.8,0a2.4,2.4 0 1,0 -4.8,0M331.9,373.84a2.4,2.4 0 1,0 4.8,0a2.4,2.4 0 1,0 -4.8,0M334.9,376.29a2.4,2.4 0 1,0 4.8,0a2.4,2.4 0 1,0 -4.8,0M337.9,373.81a2.4,2.4 0 1,0 4.8,0a2.4,2.4 0 1,0 -4.8,0M340.9,369.62a2.4,2.4 0 1,0 4.8,0a2.4,2.4 0 1,0 -4.8,0M343.9,372.16a2.4,2.4 0 1,0 4.8,0a2.4,2.4 0 1,0 -4.8,0M346.9,370.7a2.4,2.4 0 1,0 4.8,0a2.4,2.4 0 1,0 -4.8,0M349.9,368.75a2.4,2.4 0 1,0 4.8,0a2.4,2.4 0 1,0 -4.8,0M352.9,369.28a2.4,2.4 0 1,0 4.8,0a2.4,2.4 0 1,0 -4.8,0M355.9,366.67a2.4,2.4 0 1,0 4.8,0a2.4,2.4 0 1,0 -4.8,0M358.9,360.04a2.4,2.4 0 1,0 4.8,0a2.4,2.4 0 1,0 -4.8,0M361.9,362.81a2.4,2.4 0 1,0 4.8,0a2.4,2.4 0 1,0 -4.8,0M364.9,357.64a2.4,2.4 0 1,0 4.8,0a2.4,2.4 0 1,0 -4.8,0M367.9,355.97a2.4,2.4 0 1,0 4.8,0a2.4,2.4 0 1,0 -4.8,0M370.9,354.68a2.4,2.4 0 1,0 4.8,0a2.4,2.4 0 1,0 -4.8,0M373.9,354.85a2.4,2.4 0 1,0 4.8,0a2.4,2.4 0 1,0 -4.8,0M376.9,356.67a2.4,2.4 0 1,0 4.8,0a2.4,2.4 0 1,0 -4.8,0M379.9,354.04a2.4,2.4 0 1,0 4.8,0a2.4,2.4 0 1,0 -4.8,0M382.9,357.34a2.4,2.4 0 1,0 4.8,0a2.4,2.4 0 1,0 -4.8,0M385.9,358.09a2.4,2.4 0 1,0 4.8,0a2.4,2.4 0 1,0 -4.8,0M388.9,360.89a2.4,2.4 0 1,0 4.8,0a2.4,2.4 0 1,0 -4.8,0M391.9,362.43a2.4,2.4 0 1,0 4.8,0a2.4,2.4 0 1,0 -4.8,0M394.9,365.98a2.4,2.4 0 1,0 4.8,0a2.4,2.4 0 1,0 -4.8,0M397.9,367.63a2.4,2.4 0 1,0 4.8,0a2.4,2.4 0 1,0 -4.8,0M400.9,365.32a2.4,2.4 0 1,0 4.8,0a2.4,2.4 0 1,0 -4.8,0M403.9,367.67a2.4,2.4 0 1,0 4.8,0a2.4,2.4 0 1,0 -4.8,0M406.9,363.95a2.4,2.4 0 1,0 4.8,0a2.4,2.4 0 1,0 -4.8,0M409.9,365.94a2.4,2.4 0 1,0 4.8,0a2.4,2.4 0 1,0 -4.8,0M412.9,365.23a2.4,2.4 0 1,0 4.8,0a2.4,2.4 0 1,0 -4.8,0M415.9,361.25a2.4,2.4 0 1,0 4.8,0a2.4,2.4 0 1,0 -4.8,0M418.9,363.2a2.4,2.4 0 1,0 4.8,0a2.4,2.4 0 1,0 -4.8,0M421.9,356.95a2.4,2.4 0 1,0 4.8,0a2.4,2.4 0 1,0 -4.8,0M424.9,351.86a2.4,2.4 0 1,0 4.8,0a2.4,2.4 0 1,0 -4.8,0M427.9,351.38a2.4,2.4 0 1,0 4.8,0a2.4,2.4 0 1,0 -4.8,0M430.9,347.53a2.4,2.4 0 1,0 4.8,0a2.4,2.4 0 1,0 -4.8,0M433.9,348.53a2.4,2.4 0 1,0 4.8,0a2.4,2.4 0 1,0 -4.8,0M436.9,347.25a2.4,2.4 0 1,0 4.8,0a2.4,2.4 0 1,0 -4.8,0M439.9,348.35a2.4,2.4 0 1,0 4.8,0a2.4,2.4 0 1,0 -4.8,0M442.9,345.3a2.4,2.4 0 1,0 4.8,0a2.4,2.4 0 1,0 -4.8,0M445.9,350.98a2.4,2.4 0 1,0 4.8,0a2.4,2.4 0 1,0 -4.8,0M448.9,356.56a2.4,2.4 0 1,0 4.8,0a2.4,2.4 0 1,0 -4.8,0M451.9,359.64a2.4,2.4 0 1,0 4.8,0a2.4,2.4 0 1,0 -4.8,0M454.9,362.75a2.4,2.4 0 1,0 4.8,0a2.4,2.4 0 1,0 -4.8,0M457.9,364.67a2.4,2.4 0 1,0 4.8,0a2.4,2.4 0 1,0 -4.8,0M460.9,368.53a2.4,2.4 0 1,0 4.8,0a2.4,2.4 0 1,0 -4.8,0M463.9,370.52a2.4,2.4 0 1,0 4.8,0a2.4,2.4 0 1,0 -4.8,0M466.9,371.47a2.4,2.4 0 1,0 4.8,0a2.4,2.4 0 1,0 -4.8,0M469.9,373.89a2.4,2.4 0 1,0 4.8,0a2.4,2.4 0 1,0 -4.8,0M472.9,374.46a2.4,2.4 0 1,0 4.8,0a2.4,2.4 0 1,0 -4.8,0M475.9,372.74a2.4,2.4 0 1,0 4.8,0a2.4,2.4 0 1,0 -4.8,0M478.9,375.02a2.4,2.4 0 1,0 4.8,0a2.4,2.4 0 1,0 -4.8,0M481.9,376.07a2.4,2.4 0 1,0 4.8,0a2.4,2.4 0 1,0 -4.8,0M484.9,374.29a2.4,2.4 0 1,0 4.8,0a2.4,2.4 0 1,0 -4.8,0M487.9,371.23a2.4,2.4 0 1,0 4.8,0a2.4,2.4 0 1,0 -4.8,0M490.9,374.31a2.4,2.4 0 1,0 4.8,0a2.4,2.4 0 1,0 -4.8,0M493.9,375.36a2.4,2.4 0 1,0 4.8,0a2.4,2.4 0 1,0 -4.8,0M496.9,370.49a2.4,2.4 0 1,0 4.8,0a2.4,2.4 0 1,0 -4.8,0M499.9,372.37a2.4,2.4 0 1,0 4.8,0a2.4,2.4 0 1,0 -4.8,0M502.9,372.89a2.4,2.4 0 1,0 4.8,0a2.4,2.4 0 1,0 -4.8,0M505.9,377.91a2.4,2.4 0 1,0 4.8,0a2.4,2.4 0 1,0 -4.8,0M508.9,376.39a2.4,2.4 0 1,0 4.8,0a2.4,2.4 0 1,0 -4.8,0M511.9,374.42a2.4,2.4 0 1,0 4.8,0a2.4,2.4 0 1,0 -4.8,0M514.9,376.6a2.4,2.4 0 1,0 4.8,0a2.4,2.4 0 1,0 -4.8,0M517.9,375.62a2.4,2.4 0 1,0 4.8,0a2.4,2.4 0 1,0 -4.8,0M520.9,372.32a2.4,2.4 0 1,0 4.8,0a2.4,2.4 0 1,0 -4.8,0M523.9,374.33a2.4,2.4 0 1,0 4.8,0a2.4,2.4 0 1,0 -4.8,0M526.9,376.7a2.4,2.4 0 1,0 4.8,0a2.4,2.4 0 1,0 -4.8,0M529.9,374.52a2.4,2.4 0 1,0 4.8,0a2.4,2.4 0 1,0 -4.8,0" fill="none" stroke="#555" stroke-width="0.75"/>
<line x1="323.07" y1="381.3" x2="323.07" y2="378.3" stroke="#000" stroke-width="1.1"/>
<line x1="349.63" y1="381.3" x2="349.63" y2="378.3" stroke="#000" stroke-width="1.1"/>
<line x1="376.2" y1="381.3" x2="376.2" y2="378.3" stroke="#000" stroke-width="1.1"/>
<line x1="402.77" y1="381.3" x2="402.77" y2="378.3" stroke="#000" stroke-width="1.1"/>
<line x1="429.33" y1="381.3" x2="429.33" y2="378.3" stroke="#000" stroke-width="1.1"/>
<line x1="455.9" y1="381.3" x2="455.9" y2="378.3" stroke="#000" stroke-width="1.1"/>
<line x1="482.47" y1="381.3" x2="482.47" y2="378.3" stroke="#000" stroke-width="1.1"/>
<line x1="509.03" y1="381.3" x2="509.03" y2="378.3" stroke="#000" stroke-width="1.1"/>
<rect x="296.5" y="212" width="239.1" height="169.3" stroke="#000" stroke-width="1.4" fill="none"/>
<text x="285.99" y="396.3" font-size="13.6" textLength="20.4" lengthAdjust="spacingAndGlyphs" fill="#000">188</text>
<text x="339.09" y="396.3" font-size="13.6" textLength="20.4" lengthAdjust="spacingAndGlyphs" fill="#000">186</text>
<text x="392.16" y="396.3" font-size="13.6" textLength="20.4" lengthAdjust="spacingAndGlyphs" fill="#000">184</text>
<text x="445.46" y="396.3" font-size="13.6" textLength="20.4" lengthAdjust="spacingAndGlyphs" fill="#000">182</text>
<text x="498.56" y="396.3" font-size="13.6" textLength="20.4" lengthAdjust="spacingAndGlyphs" fill="#000">180</text>
<text x="362.59" y="410.6" font-size="13.8" textLength="121.21" lengthAdjust="spacingAndGlyphs" fill="#000">Binding Energy (eV)</text>
<text transform="translate(287.9,342.6) rotate(-90)" x="-0.47" y="0" font-size="13.6" textLength="83.81" lengthAdjust="spacingAndGlyphs" fill="#000">Intensity (a.u.)</text>
<text x="270.55" y="222.2" font-size="18.5" textLength="23.05" lengthAdjust="spacingAndGlyphs" fill="#000">(d)</text>
<text x="299.54" y="223.3" font-size="10.6" textLength="40.51" lengthAdjust="spacingAndGlyphs" fill="#000">PCN-222</text>
<text x="364.27" y="222.9" font-size="10.8" textLength="25.32" lengthAdjust="spacingAndGlyphs" fill="#000">Zr 3d</text>
<text x="389.62" y="225.4" font-size="6.8" textLength="8.88" lengthAdjust="spacingAndGlyphs" fill="#000">3/2</text>
<text x="427.54" y="240.4" font-size="10.8" textLength="26.86" lengthAdjust="spacingAndGlyphs" fill="#000">Zr 3d</text>
<text x="454.67" y="243.9" font-size="6.8" textLength="7.49" lengthAdjust="spacingAndGlyphs" fill="#000">5/2</text>
<text x="507.57" y="224.3" font-size="10.8" textLength="25.32" lengthAdjust="spacingAndGlyphs" fill="#000">Zr 3d</text>
<text x="298.07" y="265.2" font-size="10.6" textLength="99.49" lengthAdjust="spacingAndGlyphs" fill="#000">5 wt.% PCN-222/CNs</text>
<text x="297.58" y="308.5" font-size="10.6" textLength="98.69" lengthAdjust="spacingAndGlyphs" fill="#000">3 wt.% PCN-222/CNs</text>
<text x="296.44" y="350.2" font-size="10.6" textLength="100.43" lengthAdjust="spacingAndGlyphs" fill="#000">1 wt.% PCN-222/CNs</text>
</svg></body></html>
